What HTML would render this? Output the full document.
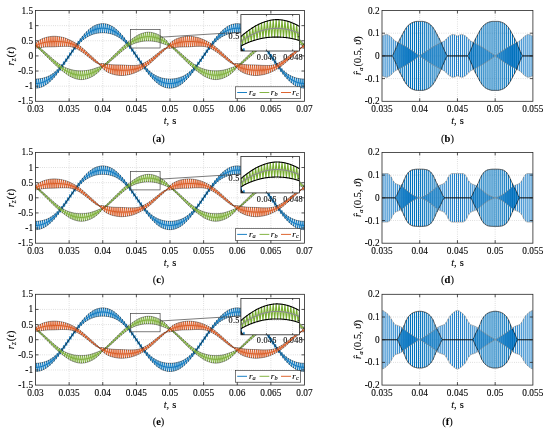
<!DOCTYPE html>
<html><head><meta charset="utf-8"><style>html,body{margin:0;padding:0;background:#fff;overflow:hidden}svg{display:block}</style></head>
<body>
<svg width="550" height="432" viewBox="0 0 550 432" font-family="'Liberation Serif', 'DejaVu Serif', serif" stroke-linecap="butt">
<style>text{stroke:#000;stroke-width:0.1px;fill:#000}</style>
<rect width="550" height="432" fill="#fff"/>
<defs>
<clipPath id="cl0"><rect x="35.5" y="10.5" width="269.0" height="90.8"/></clipPath>
<clipPath id="cr0"><rect x="382.0" y="10.5" width="150.89999999999998" height="90.8"/></clipPath>
<clipPath id="ci0"><rect x="240.9" y="14.6" width="58.5" height="36.4"/></clipPath>
<clipPath id="cl1"><rect x="35.5" y="152.4" width="269.0" height="90.8"/></clipPath>
<clipPath id="cr1"><rect x="382.0" y="152.4" width="150.89999999999998" height="90.8"/></clipPath>
<clipPath id="ci1"><rect x="240.9" y="156.5" width="58.5" height="36.4"/></clipPath>
<clipPath id="cl2"><rect x="35.5" y="294.3" width="269.0" height="90.8"/></clipPath>
<clipPath id="cr2"><rect x="382.0" y="294.3" width="150.89999999999998" height="90.8"/></clipPath>
<clipPath id="ci2"><rect x="240.9" y="298.40000000000003" width="58.5" height="36.4"/></clipPath>
</defs>
<path d="M69.13 10.5V101.3M102.75 10.5V101.3M136.38 10.5V101.3M170 10.5V101.3M203.62 10.5V101.3M237.25 10.5V101.3M270.88 10.5V101.3M35.5 86.17H304.5M35.5 71.03H304.5M35.5 55.9H304.5M35.5 40.77H304.5M35.5 25.63H304.5" stroke="#b4b4b4" stroke-width="0.6" stroke-dasharray="0.7 1.5" fill="none"/>
<text x="266.64" y="59.6" font-size="8.2" text-anchor="middle" letter-spacing="0.25">0.046</text>
<text x="293.05" y="59.6" font-size="8.2" text-anchor="middle" letter-spacing="0.25">0.048</text>
<g clip-path="url(#cl0)">
<polyline points="34.65,83.58 35.18,88.2 35.7,83.59 36.23,78.98 36.75,83.56 37.27,88.11 37.8,83.47 38.33,78.86 38.85,83.34 39.38,87.75 39.9,83.15 40.43,78.6 40.95,82.91 41.48,87.13 42,82.62 42.52,78.19 43.05,82.27 43.58,86.23 44.1,81.87 44.62,77.62 45.15,81.41 45.68,85.06 46.2,80.9 46.73,76.87 47.25,80.32 47.77,83.61 48.3,79.69 48.83,75.91 49.35,78.99 49.88,81.88 50.4,78.23 50.93,74.73 51.45,77.41 51.98,79.92 52.5,76.53 53.03,73.28 53.55,75.59 54.08,77.74 54.6,74.59 55.12,71.53 55.65,73.52 56.18,75.41 56.7,72.4 57.23,69.45 57.75,71.22 58.28,72.94 58.8,69.99 59.33,67.06 59.85,68.71 60.38,70.34 60.9,67.38 61.43,64.43 61.95,66.01 62.48,67.59 63,64.61 63.53,61.62 64.05,63.16 64.58,64.7 65.1,61.69 65.62,58.68 66.15,60.2 66.67,61.72 67.2,58.69 67.73,55.66 68.25,57.17 68.78,58.68 69.3,55.65 69.83,52.61 70.35,54.12 70.88,55.63 71.4,52.6 71.92,49.58 72.45,51.1 72.98,52.62 73.5,49.61 74.03,46.61 74.55,48.15 75.08,49.7 75.6,46.72 76.12,43.75 76.65,45.32 77.17,46.92 77.7,43.97 78.23,41.02 78.75,42.66 79.28,44.32 79.8,41.39 80.33,38.44 80.85,40.18 81.38,41.98 81.9,39.02 82.42,35.99 82.95,37.92 83.48,39.96 84,36.87 84.53,33.68 85.05,35.89 85.58,38.26 86.1,34.97 86.62,31.54 87.15,34.11 87.67,36.85 88.2,33.31 88.73,29.61 89.25,32.57 89.78,35.71 90.3,31.9 90.83,27.93 91.35,31.28 91.88,34.79 92.4,30.72 92.92,26.53 93.45,30.23 93.98,34.07 94.5,29.79 95.03,25.4 95.55,29.41 96.08,33.53 96.6,29.08 97.12,24.55 97.65,28.8 98.17,33.15 98.7,28.58 99.23,23.97 99.75,28.41 100.28,32.91 100.8,28.29 101.33,23.66 101.85,28.22 102.38,32.82 102.9,28.21 103.43,23.61 103.95,28.24 104.48,32.86 105,28.32 105.53,23.83 106.05,28.45 106.58,33.05 107.1,28.64 107.62,24.31 108.15,28.88 108.68,33.38 109.2,29.17 109.73,25.06 110.25,29.51 110.78,33.86 111.3,29.91 111.83,26.09 112.35,30.36 112.88,34.52 113.4,30.88 113.93,27.4 114.45,31.45 114.98,35.36 115.5,32.08 116.03,28.98 116.55,32.78 117.08,36.42 117.6,33.53 118.12,30.82 118.65,34.35 119.18,37.72 119.7,35.22 120.23,32.89 120.75,36.16 121.28,39.31 121.8,37.17 122.33,35.15 122.85,38.23 123.38,41.22 123.9,39.34 124.43,37.55 124.95,40.52 125.48,43.45 126,41.75 126.53,40.08 127.05,43.03 127.58,45.97 128.1,44.35 128.62,42.75 129.15,45.72 129.68,48.69 130.2,47.13 130.72,45.57 131.25,48.57 131.78,51.57 132.3,50.03 132.83,48.51 133.35,51.53 133.88,54.55 134.4,53.04 134.93,51.52 135.45,54.56 135.97,57.59 136.5,56.08 137.03,54.57 137.55,57.61 138.08,60.64 138.6,59.13 139.12,57.61 139.65,60.63 140.18,63.65 140.7,62.12 141.22,60.58 141.75,63.58 142.28,66.57 142.8,65.01 143.33,63.44 143.85,66.41 144.38,69.37 144.9,67.77 145.43,66.15 145.95,69.08 146.47,72.03 147,70.35 147.53,68.63 148.05,71.57 148.58,74.54 149.1,72.73 149.62,70.82 150.15,73.83 150.68,76.93 151.2,74.88 151.72,72.69 152.25,75.86 152.78,79.16 153.3,76.79 153.83,74.25 154.35,77.65 154.88,81.21 155.4,78.46 155.93,75.52 156.45,79.2 156.97,83.02 157.5,79.87 158.03,76.55 158.55,80.49 159.08,84.57 159.6,81.05 160.12,77.37 160.65,81.55 161.18,85.84 161.7,81.99 162.22,78.01 162.75,82.38 163.28,86.84 163.8,82.71 164.33,78.47 164.85,82.99 165.38,87.56 165.9,83.21 166.43,78.78 166.95,83.38 167.47,88.01 168,83.5 168.53,78.95 169.05,83.57 169.58,88.2 170.1,83.59 170.62,78.98 171.15,83.56 171.68,88.12 172.2,83.48 172.72,78.87 173.25,83.35 173.78,87.78 174.3,83.17 174.83,78.62 175.35,82.94 175.88,87.17 176.4,82.65 176.93,78.21 177.45,82.31 177.97,86.28 178.5,81.91 179.03,77.65 179.55,81.46 180.08,85.12 180.6,80.95 181.12,76.91 181.65,80.38 182.18,83.68 182.7,79.75 183.22,75.96 183.75,79.06 184.28,81.97 184.8,78.31 185.33,74.79 185.85,77.49 186.38,80.02 186.9,76.62 187.43,73.36 187.95,75.68 188.47,77.85 189,74.68 189.53,71.62 190.05,73.63 190.58,75.52 191.1,72.51 191.62,69.55 192.15,71.34 192.68,73.06 193.2,70.11 193.72,67.18 194.25,68.84 194.78,70.46 195.3,67.51 195.83,64.56 196.35,66.15 196.88,67.72 197.4,64.74 197.93,61.76 198.45,63.3 198.97,64.84 199.5,61.84 200.03,58.82 200.55,60.34 201.08,61.86 201.6,58.84 202.12,55.81 202.65,57.32 203.18,58.82 203.7,55.79 204.23,52.76 204.75,54.27 205.28,55.78 205.8,52.75 206.33,49.72 206.85,51.24 207.38,52.76 207.9,49.75 208.43,46.75 208.95,48.29 209.48,49.84 210,46.86 210.53,43.88 211.05,45.46 211.58,47.05 212.1,44.1 212.62,41.15 213.15,42.78 213.68,44.44 214.2,41.51 214.73,38.56 215.25,40.29 215.78,42.09 216.3,39.13 216.83,36.11 217.35,38.02 217.88,40.04 218.4,36.97 218.93,33.79 219.45,35.98 219.98,38.33 220.5,35.05 221.03,31.64 221.55,34.19 222.08,36.91 222.6,33.38 223.12,29.7 223.65,32.64 224.18,35.76 224.7,31.96 225.23,28.01 225.75,31.34 226.28,34.83 226.8,30.78 227.33,26.59 227.85,30.27 228.38,34.1 228.9,29.83 229.43,25.45 229.95,29.44 230.48,33.55 231,29.11 231.53,24.58 232.05,28.83 232.58,33.16 233.1,28.6 233.62,23.99 234.15,28.43 234.68,32.92 235.2,28.3 235.73,23.67 236.25,28.23 236.78,32.82 237.3,28.21 237.83,23.61 238.35,28.23 238.88,32.86 239.4,28.31 239.93,23.81 240.45,28.44 240.98,33.03 241.5,28.62 242.03,24.28 242.55,28.85 243.08,33.36 243.6,29.14 244.12,25.02 244.65,29.47 245.18,33.83 245.7,29.87 246.23,26.04 246.75,30.32 247.28,34.48 247.8,30.83 248.33,27.33 248.85,31.39 249.38,35.32 249.9,32.02 250.43,28.9 250.95,32.71 251.48,36.36 252,33.46 252.53,30.73 253.05,34.27 253.58,37.65 254.1,35.14 254.62,32.79 255.15,36.07 255.68,39.23 256.2,37.07 256.73,35.04 257.25,38.12 257.78,41.12 258.3,39.24 258.82,37.43 259.35,40.4 259.88,43.34 260.4,41.63 260.93,39.96 261.45,42.9 261.98,45.84 262.5,44.22 263.03,42.62 263.55,45.59 264.07,48.56 264.6,46.99 265.12,45.43 265.65,48.43 266.18,51.43 266.7,49.89 267.23,48.37 267.75,51.38 268.28,54.41 268.8,52.89 269.32,51.38 269.85,54.41 270.38,57.44 270.9,55.94 271.43,54.43 271.95,57.46 272.48,60.49 273,58.98 273.53,57.47 274.05,60.49 274.57,63.5 275.1,61.98 275.62,60.44 276.15,63.44 276.68,66.43 277.2,64.88 277.73,63.31 278.25,66.28 278.78,69.24 279.3,67.64 279.82,66.02 280.35,68.96 280.88,71.9 281.4,70.23 281.93,68.52 282.45,71.45 282.98,74.42 283.5,72.62 284.03,70.73 284.55,73.73 285.07,76.81 285.6,74.78 286.12,72.61 286.65,75.77 287.18,79.06 287.7,76.7 288.23,74.18 288.75,77.57 289.28,81.12 289.8,78.38 290.32,75.47 290.85,79.13 291.38,82.94 291.9,79.81 292.43,76.51 292.95,80.44 293.48,84.5 294,81 294.53,77.34 295.05,81.5 295.57,85.79 296.1,81.95 296.62,77.98 297.15,82.34 297.68,86.8 298.2,82.68 298.73,78.45 299.25,82.96 299.78,87.53 300.3,83.19 300.82,78.77 301.35,83.37 301.88,88 302.4,83.49 302.93,78.95 303.45,83.57 303.98,88.2 304.5,83.59 305.03,78.98 305.55,83.57" stroke="#0072BD" stroke-width="0.8" fill="none" stroke-linejoin="round"/>
<polyline points="35.5,83.59 37.19,83.53 38.88,83.33 40.58,83 42.27,82.54 43.96,81.93 45.65,81.17 47.34,80.27 49.03,79.21 50.73,77.98 52.42,76.6 54.11,75.06 55.8,73.36 57.49,71.52 59.19,69.53 60.88,67.41 62.57,65.19 64.26,62.87 65.95,60.48 67.64,58.05 69.34,55.59 71.03,53.14 72.72,50.71 74.41,48.34 76.1,46.05 77.8,43.85 79.49,41.76 81.18,39.81 82.87,38 84.56,36.34 86.25,34.84 87.95,33.5 89.64,32.31 91.33,31.29 93.02,30.42 94.71,29.71 96.41,29.13 98.1,28.7 99.79,28.41 101.48,28.24 103.17,28.21 104.86,28.31 106.56,28.54 108.25,28.9 109.94,29.4 111.63,30.05 113.32,30.84 115.02,31.78 116.71,32.88 118.4,34.15 120.09,35.57 121.78,37.15 123.47,38.88 125.17,40.77 126.86,42.79 128.55,44.93 130.24,47.18 131.93,49.52 133.63,51.92 135.32,54.36 137.01,56.82 138.7,59.27 140.39,61.68 142.08,64.04 143.78,66.31 145.47,68.49 147.16,70.54 148.85,72.46 150.54,74.23 152.24,75.85 153.93,77.31 155.62,78.62 157.31,79.76 159,80.74 160.69,81.57 162.39,82.25 164.08,82.79 165.77,83.18 167.46,83.45 169.15,83.58 170.85,83.58 172.54,83.45 174.23,83.18 175.92,82.79 177.61,82.25 179.31,81.57 181,80.74 182.69,79.76 184.38,78.62 186.07,77.31 187.76,75.85 189.46,74.23 191.15,72.46 192.84,70.54 194.53,68.49 196.22,66.31 197.92,64.04 199.61,61.68 201.3,59.27 202.99,56.82 204.68,54.36 206.37,51.92 208.07,49.52 209.76,47.18 211.45,44.93 213.14,42.79 214.83,40.77 216.53,38.88 218.22,37.15 219.91,35.57 221.6,34.15 223.29,32.88 224.98,31.78 226.68,30.84 228.37,30.05 230.06,29.4 231.75,28.9 233.44,28.54 235.14,28.31 236.83,28.21 238.52,28.24 240.21,28.41 241.9,28.7 243.59,29.13 245.29,29.71 246.98,30.42 248.67,31.29 250.36,32.31 252.05,33.5 253.75,34.84 255.44,36.34 257.13,38 258.82,39.81 260.51,41.76 262.2,43.85 263.9,46.05 265.59,48.34 267.28,50.71 268.97,53.14 270.66,55.59 272.36,58.05 274.05,60.48 275.74,62.87 277.43,65.19 279.12,67.41 280.81,69.53 282.51,71.52 284.2,73.36 285.89,75.06 287.58,76.6 289.27,77.98 290.97,79.21 292.66,80.27 294.35,81.17 296.04,81.93 297.73,82.54 299.42,83 301.12,83.33 302.81,83.53 304.5,83.59" stroke="#0072BD" stroke-width="0.9" fill="none"/>
<polyline points="35.5,79.05 37.19,79.01 38.88,78.88 40.58,78.65 42.27,78.34 43.96,77.92 45.65,77.39 47.34,76.75 49.03,75.99 50.73,75.1 52.42,74.07 54.11,72.89 55.8,71.56 57.49,70.07 59.19,68.43 60.88,66.63 62.57,64.68 64.26,62.58 65.95,60.36 67.64,58.02 69.34,55.59 71.03,53.09 72.72,50.55 74.41,48 76.1,45.47 77.8,42.99 79.49,40.58 81.18,38.28 82.87,36.1 84.56,34.07 86.25,32.21 87.95,30.52 89.64,29.02 91.33,27.71 93.02,26.58 94.71,25.64 96.41,24.89 98.1,24.32 99.79,23.93 101.48,23.71 103.17,23.67 104.86,23.8 106.56,24.11 108.25,24.59 109.94,25.25 111.63,26.09 113.32,27.12 115.02,28.34 116.71,29.75 118.4,31.34 120.09,33.12 121.78,35.07 123.47,37.17 125.17,39.41 126.86,41.77 128.55,44.22 130.24,46.73 131.93,49.28 133.63,51.83 135.32,54.35 137.01,56.82 138.7,59.2 140.39,61.49 142.08,63.65 143.78,65.67 145.47,67.55 147.16,69.27 148.85,70.84 150.54,72.24 152.24,73.5 153.93,74.6 155.62,75.56 157.31,76.39 159,77.09 160.69,77.67 162.39,78.14 164.08,78.51 165.77,78.78 167.46,78.96 169.15,79.04 170.85,79.04 172.54,78.96 174.23,78.78 175.92,78.51 177.61,78.14 179.31,77.67 181,77.09 182.69,76.39 184.38,75.56 186.07,74.6 187.76,73.5 189.46,72.24 191.15,70.84 192.84,69.27 194.53,67.55 196.22,65.67 197.92,63.65 199.61,61.49 201.3,59.2 202.99,56.82 204.68,54.35 206.37,51.83 208.07,49.28 209.76,46.73 211.45,44.22 213.14,41.77 214.83,39.41 216.53,37.17 218.22,35.07 219.91,33.12 221.6,31.34 223.29,29.75 224.98,28.34 226.68,27.12 228.37,26.09 230.06,25.25 231.75,24.59 233.44,24.11 235.14,23.8 236.83,23.67 238.52,23.71 240.21,23.93 241.9,24.32 243.59,24.89 245.29,25.64 246.98,26.58 248.67,27.71 250.36,29.02 252.05,30.52 253.75,32.21 255.44,34.07 257.13,36.1 258.82,38.28 260.51,40.58 262.2,42.99 263.9,45.47 265.59,48 267.28,50.55 268.97,53.09 270.66,55.59 272.36,58.02 274.05,60.36 275.74,62.58 277.43,64.68 279.12,66.63 280.81,68.43 282.51,70.07 284.2,71.56 285.89,72.89 287.58,74.07 289.27,75.1 290.97,75.99 292.66,76.75 294.35,77.39 296.04,77.92 297.73,78.34 299.42,78.65 301.12,78.88 302.81,79.01 304.5,79.05" stroke="#111" stroke-width="0.4" fill="none"/>
<polyline points="35.5,88.13 37.19,88.05 38.88,87.79 40.58,87.35 42.27,86.74 43.96,85.94 45.65,84.95 47.34,83.78 49.03,82.42 50.73,80.87 52.42,79.14 54.11,77.23 55.8,75.17 57.49,72.96 59.19,70.63 60.88,68.2 62.57,65.7 64.26,63.16 65.95,60.61 67.64,58.08 69.34,55.59 71.03,53.18 72.72,50.87 74.41,48.68 76.1,46.62 77.8,44.71 79.49,42.95 81.18,41.34 82.87,39.89 84.56,38.6 86.25,37.46 87.95,36.47 89.64,35.61 91.33,34.88 93.02,34.27 94.71,33.77 96.41,33.37 98.1,33.08 99.79,32.88 101.48,32.77 103.17,32.75 104.86,32.81 106.56,32.97 108.25,33.22 109.94,33.56 111.63,34 113.32,34.56 115.02,35.23 116.71,36.02 118.4,36.95 120.09,38.01 121.78,39.23 123.47,40.6 125.17,42.12 126.86,43.81 128.55,45.64 130.24,47.63 131.93,49.76 133.63,52.02 135.32,54.38 137.01,56.83 138.7,59.34 140.39,61.88 142.08,64.43 143.78,66.96 145.47,69.42 147.16,71.81 148.85,74.08 150.54,76.22 152.24,78.21 153.93,80.03 155.62,81.67 157.31,83.13 159,84.39 160.69,85.47 162.39,86.36 164.08,87.07 165.77,87.59 167.46,87.94 169.15,88.11 170.85,88.11 172.54,87.94 174.23,87.59 175.92,87.07 177.61,86.36 179.31,85.47 181,84.39 182.69,83.13 184.38,81.67 186.07,80.03 187.76,78.21 189.46,76.22 191.15,74.08 192.84,71.81 194.53,69.42 196.22,66.96 197.92,64.43 199.61,61.88 201.3,59.34 202.99,56.83 204.68,54.38 206.37,52.02 208.07,49.76 209.76,47.63 211.45,45.64 213.14,43.81 214.83,42.12 216.53,40.6 218.22,39.23 219.91,38.01 221.6,36.95 223.29,36.02 224.98,35.23 226.68,34.56 228.37,34 230.06,33.56 231.75,33.22 233.44,32.97 235.14,32.81 236.83,32.75 238.52,32.77 240.21,32.88 241.9,33.08 243.59,33.37 245.29,33.77 246.98,34.27 248.67,34.88 250.36,35.61 252.05,36.47 253.75,37.46 255.44,38.6 257.13,39.89 258.82,41.34 260.51,42.95 262.2,44.71 263.9,46.62 265.59,48.68 267.28,50.87 268.97,53.18 270.66,55.59 272.36,58.08 274.05,60.61 275.74,63.16 277.43,65.7 279.12,68.2 280.81,70.63 282.51,72.96 284.2,75.17 285.89,77.23 287.58,79.14 289.27,80.87 290.97,82.42 292.66,83.78 294.35,84.95 296.04,85.94 297.73,86.74 299.42,87.35 301.12,87.79 302.81,88.05 304.5,88.13" stroke="#111" stroke-width="0.4" fill="none"/>
<polyline points="34.65,44.61 35.18,45.27 35.7,45.41 36.23,45.52 36.75,46.23 37.27,47.35 37.8,47.08 38.33,46.59 38.85,47.96 39.38,49.44 39.9,48.86 40.43,48.19 40.95,49.78 41.48,51.45 42,50.71 42.52,49.92 43.05,51.66 43.58,53.46 44.1,52.63 44.62,51.75 45.15,53.6 45.68,55.5 46.2,54.58 46.73,53.61 47.25,55.57 47.77,57.58 48.3,56.55 48.83,55.46 49.35,57.54 49.88,59.67 50.4,58.51 50.93,57.29 51.45,59.48 51.98,61.73 52.5,60.45 53.03,59.1 53.55,61.39 54.08,63.73 54.6,62.32 55.12,60.85 55.65,63.24 56.18,65.67 56.7,64.13 57.23,62.51 57.75,64.99 58.28,67.53 58.8,65.84 59.33,64.06 59.85,66.65 60.38,69.31 60.9,67.44 61.43,65.48 61.95,68.19 62.48,70.98 63,68.91 63.53,66.72 64.05,69.6 64.58,72.59 65.1,70.25 65.62,67.75 66.15,70.86 66.67,74.13 67.2,71.44 67.73,68.57 68.25,71.98 68.78,75.54 69.3,72.47 69.83,69.24 70.35,72.93 70.88,76.75 71.4,73.35 71.92,69.81 72.45,73.72 72.98,77.72 73.5,74.06 74.03,70.28 74.55,74.35 75.08,78.51 75.6,74.6 76.12,70.58 76.65,74.8 77.17,79.1 77.7,74.97 78.23,70.75 78.75,75.09 79.28,79.48 79.8,75.17 80.33,70.82 80.85,75.21 81.38,79.6 81.9,75.2 82.42,70.81 82.95,75.15 83.48,79.46 84,75.06 84.53,70.7 85.05,74.93 85.58,79.09 86.1,74.75 86.62,70.48 87.15,74.53 87.67,78.49 88.2,74.27 88.73,70.14 89.25,73.97 89.78,77.69 90.3,73.62 90.83,69.66 91.35,73.24 91.88,76.69 92.4,72.81 92.92,69.04 93.45,72.34 93.98,75.49 94.5,71.83 95.03,68.34 95.55,71.28 96.08,74 96.6,70.7 97.12,67.64 97.65,70.07 98.17,72.2 98.7,69.41 99.23,66.95 99.75,68.72 100.28,70.08 100.8,67.99 101.33,66.5 101.85,67.22 102.38,67.13 102.9,66.43 103.43,65.74 103.95,65.61 104.48,65.87 105,64.76 105.53,63.4 106.05,63.88 106.58,64.47 107.1,62.99 107.62,61.4 108.15,62.07 108.68,62.8 109.2,61.13 109.73,59.4 110.25,60.18 110.78,61.01 111.3,59.22 111.83,57.37 112.35,58.24 112.88,59.16 113.4,57.26 113.93,55.31 114.45,56.28 114.98,57.31 115.5,55.29 116.03,53.22 116.55,54.31 117.08,55.47 117.6,53.33 118.12,51.14 118.65,52.36 119.18,53.64 119.7,51.4 120.23,49.11 120.75,50.45 121.28,51.86 121.8,49.52 122.33,47.13 122.85,48.61 123.38,50.15 123.9,47.72 124.43,45.23 124.95,46.85 125.48,48.53 126,46 126.53,43.41 127.05,45.19 127.58,47.05 128.1,44.4 128.62,41.68 129.15,43.64 129.68,45.7 130.2,42.92 130.72,40.04 131.25,42.23 131.78,44.56 132.3,41.58 132.83,38.46 133.35,40.97 133.88,43.64 134.4,40.39 134.93,36.98 135.45,39.85 135.97,42.89 136.5,39.35 137.03,35.66 137.55,38.89 138.08,42.27 138.6,38.47 139.12,34.56 139.65,38.09 140.18,41.75 140.7,37.76 141.22,33.68 141.75,37.47 142.28,41.36 142.8,37.21 143.33,32.99 143.85,37 144.38,41.12 144.9,36.84 145.43,32.49 145.95,36.71 146.47,41.01 147,36.63 147.53,32.23 148.05,36.59 148.58,40.98 149.1,36.6 149.62,32.24 150.15,36.64 150.68,41.03 151.2,36.73 151.72,32.49 152.25,36.86 152.78,41.19 153.3,37.04 153.83,32.97 154.35,37.26 154.88,41.47 155.4,37.52 155.93,33.67 156.45,37.82 156.97,41.87 157.5,38.16 158.03,34.57 158.55,38.54 159.08,42.42 159.6,38.97 160.12,35.65 160.65,39.44 161.18,43.09 161.7,39.94 162.22,36.98 162.75,40.49 163.28,43.79 163.8,41.07 164.33,38.62 164.85,41.7 165.38,44.49 165.9,42.36 166.43,40.56 166.95,43.05 167.47,45.16 168,43.78 168.53,43.02 169.05,44.54 169.58,45.27 170.1,45.33 170.62,45.48 171.15,46.15 171.68,47.24 172.2,47 172.72,46.52 173.25,47.88 173.78,49.35 174.3,48.77 174.83,48.11 175.35,49.69 175.88,51.35 176.4,50.62 176.93,49.84 177.45,51.57 177.97,53.36 178.5,52.54 179.03,51.66 179.55,53.51 180.08,55.4 180.6,54.49 181.12,53.52 181.65,55.47 182.18,57.48 182.7,56.46 183.22,55.37 183.75,57.44 184.28,59.57 184.8,58.42 185.33,57.21 185.85,59.39 186.38,61.63 186.9,60.35 187.43,59.02 187.95,61.3 188.47,63.64 189,62.24 189.53,60.77 190.05,63.15 190.58,65.58 191.1,64.04 191.62,62.44 192.15,64.91 192.68,67.45 193.2,65.76 193.72,63.99 194.25,66.58 194.78,69.23 195.3,67.36 195.83,65.41 196.35,68.12 196.88,70.91 197.4,68.84 197.93,66.67 198.45,69.53 198.97,72.52 199.5,70.19 200.03,67.7 200.55,70.81 201.08,74.06 201.6,71.39 202.12,68.54 202.65,71.93 203.18,75.47 203.7,72.43 204.23,69.22 204.75,72.89 205.28,76.7 205.8,73.31 206.33,69.79 206.85,73.69 207.38,77.68 207.9,74.03 208.43,70.26 208.95,74.32 209.48,78.47 210,74.58 210.53,70.57 211.05,74.79 211.58,79.08 212.1,74.96 212.62,70.75 213.15,75.08 213.68,79.47 214.2,75.16 214.73,70.81 215.25,75.21 215.78,79.6 216.3,75.2 216.83,70.81 217.35,75.16 217.88,79.47 218.4,75.07 218.93,70.71 219.45,74.94 219.98,79.11 220.5,74.77 221.03,70.49 221.55,74.56 222.08,78.52 222.6,74.3 223.12,70.16 223.65,74 224.18,77.73 224.7,73.66 225.23,69.68 225.75,73.27 226.28,76.74 226.8,72.85 227.33,69.07 227.85,72.39 228.38,75.55 228.9,71.88 229.43,68.38 229.95,71.34 230.48,74.08 231,70.75 231.53,67.67 232.05,70.13 232.58,72.3 233.1,69.48 233.62,66.98 234.15,68.78 234.68,70.19 235.2,68.06 235.73,66.51 236.25,67.3 236.78,67.28 237.3,66.51 237.83,65.86 238.35,65.69 238.88,65.91 239.4,64.84 239.93,63.5 240.45,63.97 240.98,64.55 241.5,63.07 242.03,61.5 242.55,62.16 243.08,62.88 243.6,61.22 244.12,59.49 244.65,60.27 245.18,61.1 245.7,59.31 246.23,57.47 246.75,58.34 247.28,59.25 247.8,57.36 248.33,55.41 248.85,56.37 249.38,57.4 249.9,55.39 250.43,53.32 250.95,54.4 251.48,55.55 252,53.43 252.53,51.24 253.05,52.45 253.58,53.72 254.1,51.49 254.62,49.21 255.15,50.54 255.68,51.94 256.2,49.61 256.73,47.23 257.25,48.69 257.78,50.22 258.3,47.8 258.82,45.32 259.35,46.93 259.88,48.61 260.4,46.08 260.93,43.49 261.45,45.26 261.98,47.11 262.5,44.47 263.03,41.76 263.55,43.71 264.07,45.76 264.6,42.99 265.12,40.12 265.65,42.3 266.18,44.61 266.7,41.64 267.23,38.53 267.75,41.02 268.28,43.68 268.8,40.44 269.32,37.05 269.85,39.9 270.38,42.92 270.9,39.4 271.43,35.72 271.95,38.93 272.48,42.3 273,38.51 273.53,34.6 274.05,38.13 274.57,41.77 275.1,37.79 275.62,33.72 276.15,37.49 276.68,41.37 277.2,37.24 277.73,33.01 278.25,37.02 278.78,41.13 279.3,36.85 279.82,32.51 280.35,36.72 280.88,41.01 281.4,36.64 281.93,32.24 282.45,36.6 282.98,40.98 283.5,36.6 284.03,32.23 284.55,36.64 285.07,41.03 285.6,36.72 286.12,32.47 286.65,36.85 287.18,41.18 287.7,37.02 288.23,32.94 288.75,37.23 289.28,41.45 289.8,37.49 290.32,33.63 290.85,37.79 291.38,41.85 291.9,38.13 292.43,34.52 292.95,38.51 293.48,42.39 294,38.93 294.53,35.6 295.05,39.39 295.57,43.06 296.1,39.89 296.62,36.91 297.15,40.44 297.68,43.76 298.2,41.02 298.73,38.53 299.25,41.64 299.78,44.46 300.3,42.29 300.82,40.46 301.35,42.98 301.88,45.13 302.4,43.71 302.93,42.87 303.45,44.47 303.98,45.28 304.5,45.26 305.03,45.45 305.55,46.07" stroke="#77AC30" stroke-width="0.8" fill="none" stroke-linejoin="round"/>
<polyline points="35.5,45.26 37.19,46.59 38.88,47.99 40.58,49.45 42.27,50.95 43.96,52.5 45.65,54.07 47.34,55.65 49.03,57.24 50.73,58.82 52.42,60.37 54.11,61.89 55.8,63.37 57.49,64.79 59.19,66.14 60.88,67.42 62.57,68.62 64.26,69.73 65.95,70.75 67.64,71.67 69.34,72.49 71.03,73.2 72.72,73.81 74.41,74.31 76.1,74.7 77.8,74.98 79.49,75.15 81.18,75.21 82.87,75.16 84.56,75 86.25,74.72 87.95,74.34 89.64,73.85 91.33,73.24 93.02,72.54 94.71,71.72 96.41,70.81 98.1,69.8 99.79,68.69 101.48,67.49 103.17,66.22 104.86,64.87 106.56,63.45 108.25,61.98 109.94,60.46 111.63,58.91 113.32,57.34 115.02,55.75 116.71,54.16 118.4,52.59 120.09,51.05 121.78,49.54 123.47,48.07 125.17,46.67 126.86,45.33 128.55,44.07 130.24,42.89 131.93,41.8 133.63,40.81 135.32,39.91 137.01,39.12 138.7,38.43 140.39,37.85 142.08,37.38 143.78,37.02 145.47,36.77 147.16,36.62 148.85,36.59 150.54,36.67 152.24,36.86 153.93,37.16 155.62,37.57 157.31,38.1 159,38.72 160.69,39.46 162.39,40.3 164.08,41.24 165.77,42.27 167.46,43.4 169.15,44.62 170.85,45.91 172.54,47.28 174.23,48.71 175.92,50.19 177.61,51.72 179.31,53.28 181,54.86 182.69,56.45 184.38,58.03 186.07,59.6 187.76,61.14 189.46,62.63 191.15,64.08 192.84,65.47 194.53,66.79 196.22,68.03 197.92,69.19 199.61,70.25 201.3,71.22 202.99,72.09 204.68,72.86 206.37,73.52 208.07,74.08 209.76,74.52 211.45,74.86 213.14,75.08 214.83,75.19 216.53,75.2 218.22,75.09 219.91,74.87 221.6,74.54 223.29,74.11 224.98,73.56 226.68,72.9 228.37,72.14 230.06,71.28 231.75,70.31 233.44,69.25 235.14,68.1 236.83,66.87 238.52,65.55 240.21,64.17 241.9,62.72 243.59,61.23 245.29,59.69 246.98,58.13 248.67,56.54 250.36,54.96 252.05,53.38 253.75,51.82 255.44,50.29 257.13,48.8 258.82,47.36 260.51,45.99 262.2,44.69 263.9,43.47 265.59,42.34 267.28,41.3 268.97,40.35 270.66,39.51 272.36,38.76 274.05,38.13 275.74,37.6 277.43,37.19 279.12,36.88 280.81,36.68 282.51,36.59 284.2,36.62 285.89,36.75 287.58,37 289.27,37.36 290.97,37.82 292.66,38.4 294.35,39.08 296.04,39.86 297.73,40.75 299.42,41.74 301.12,42.83 302.81,44 304.5,45.26" stroke="#77AC30" stroke-width="0.9" fill="none"/>
<polyline points="35.5,45.26 37.19,45.92 38.88,47 40.58,48.31 42.27,49.7 43.96,51.17 45.65,52.66 47.34,54.16 49.03,55.64 50.73,57.12 52.42,58.59 54.11,60.02 55.8,61.4 57.49,62.72 59.19,63.96 60.88,65.12 62.57,66.18 64.26,67.11 65.95,67.89 67.64,68.54 69.34,69.1 71.03,69.58 72.72,70.01 74.41,70.35 76.1,70.58 77.8,70.73 79.49,70.8 81.18,70.82 82.87,70.79 84.56,70.7 86.25,70.53 87.95,70.28 89.64,69.95 91.33,69.52 93.02,69.01 94.71,68.45 96.41,67.88 98.1,67.32 99.79,66.77 101.48,66.5 103.17,66.05 104.86,64.07 106.56,62.42 108.25,60.81 109.94,59.19 111.63,57.56 113.32,55.91 115.02,54.23 116.71,52.54 118.4,50.87 120.09,49.24 121.78,47.64 123.47,46.08 125.17,44.58 126.86,43.13 128.55,41.74 130.24,40.42 131.93,39.12 133.63,37.88 135.32,36.72 137.01,35.67 138.7,34.76 140.39,34.01 142.08,33.38 143.78,32.86 145.47,32.48 147.16,32.26 148.85,32.21 150.54,32.32 152.24,32.59 153.93,33 155.62,33.55 157.31,34.24 159,35.05 160.69,35.98 162.39,37.1 164.08,38.41 165.77,39.92 167.46,41.65 169.15,43.95 170.85,45.56 172.54,46.39 174.23,47.64 175.92,49 177.61,50.43 179.31,51.91 181,53.41 182.69,54.9 184.38,56.38 186.07,57.86 187.76,59.31 189.46,60.71 191.15,62.07 192.84,63.35 194.53,64.56 196.22,65.67 197.92,66.66 199.61,67.51 201.3,68.23 202.99,68.83 204.68,69.35 206.37,69.8 208.07,70.19 209.76,70.48 211.45,70.66 213.14,70.77 214.83,70.82 216.53,70.81 218.22,70.75 219.91,70.62 221.6,70.41 223.29,70.12 224.98,69.75 226.68,69.28 228.37,68.73 230.06,68.16 231.75,67.6 233.44,67.04 235.14,66.56 236.83,66.53 238.52,65.03 240.21,63.23 241.9,61.62 243.59,60 245.29,58.38 246.98,56.74 248.67,55.07 250.36,53.38 252.05,51.7 253.75,50.05 255.44,48.43 257.13,46.85 258.82,45.32 260.51,43.85 262.2,42.43 263.9,41.07 265.59,39.77 267.28,38.49 268.97,37.29 270.66,36.18 272.36,35.19 274.05,34.36 275.74,33.68 277.43,33.1 279.12,32.65 280.81,32.35 282.51,32.21 284.2,32.24 285.89,32.43 287.58,32.78 289.27,33.26 290.97,33.88 292.66,34.63 294.35,35.5 296.04,36.52 297.73,37.73 299.42,39.14 301.12,40.76 302.81,42.71 304.5,45.26" stroke="#111" stroke-width="0.4" fill="none"/>
<polyline points="35.5,45.26 37.19,47.26 38.88,48.98 40.58,50.59 42.27,52.2 43.96,53.83 45.65,55.48 47.34,57.15 49.03,58.84 50.73,60.51 52.42,62.16 54.11,63.77 55.8,65.33 57.49,66.85 59.19,68.32 60.88,69.72 62.57,71.06 64.26,72.36 65.95,73.61 67.64,74.8 69.34,75.88 71.03,76.83 72.72,77.62 74.41,78.28 76.1,78.82 77.8,79.24 79.49,79.5 81.18,79.6 82.87,79.52 84.56,79.29 86.25,78.92 87.95,78.4 89.64,77.74 91.33,76.96 93.02,76.06 94.71,75 96.41,73.74 98.1,72.28 99.79,70.61 101.48,68.49 103.17,66.39 104.86,65.66 106.56,64.48 108.25,63.15 109.94,61.73 111.63,60.26 113.32,58.76 115.02,57.27 116.71,55.79 118.4,54.31 120.09,52.85 121.78,51.43 123.47,50.07 125.17,48.76 126.86,47.54 128.55,46.4 130.24,45.37 131.93,44.49 133.63,43.74 135.32,43.11 137.01,42.57 138.7,42.11 140.39,41.7 142.08,41.39 143.78,41.18 145.47,41.05 147.16,40.99 148.85,40.98 150.54,41.03 152.24,41.14 153.93,41.33 155.62,41.6 157.31,41.95 159,42.4 160.69,42.93 162.39,43.49 164.08,44.06 165.77,44.62 167.46,45.16 169.15,45.29 170.85,46.26 172.54,48.17 174.23,49.78 175.92,51.39 177.61,53.01 179.31,54.65 181,56.31 182.69,58 184.38,59.68 186.07,61.34 187.76,62.97 189.46,64.56 191.15,66.1 192.84,67.59 194.53,69.02 196.22,70.4 197.92,71.71 199.61,72.99 201.3,74.22 202.99,75.35 204.68,76.37 206.37,77.24 208.07,77.96 209.76,78.56 211.45,79.05 213.14,79.39 214.83,79.57 216.53,79.58 218.22,79.43 219.91,79.12 221.6,78.67 223.29,78.09 224.98,77.37 226.68,76.53 228.37,75.56 230.06,74.39 231.75,73.03 233.44,71.47 235.14,69.65 236.83,67.2 238.52,66.07 240.21,65.11 241.9,63.83 243.59,62.45 245.29,61 246.98,59.51 248.67,58.02 250.36,56.53 252.05,55.05 253.75,53.58 255.44,52.14 257.13,50.74 258.82,49.41 260.51,48.14 262.2,46.96 263.9,45.87 265.59,44.91 267.28,44.1 268.97,43.41 270.66,42.83 272.36,42.33 274.05,41.9 275.74,41.53 277.43,41.27 279.12,41.1 280.81,41.01 282.51,40.98 284.2,40.99 285.89,41.07 287.58,41.22 289.27,41.45 290.97,41.76 292.66,42.16 294.35,42.66 296.04,43.21 297.73,43.78 299.42,44.34 301.12,44.89 302.81,45.28 304.5,45.26" stroke="#111" stroke-width="0.4" fill="none"/>
<polyline points="34.65,46.26 35.18,48.3 35.7,45.68 36.23,42.64 36.75,45.14 37.27,48.04 37.8,44.65 38.33,40.96 38.85,44.21 39.38,47.75 39.9,43.81 40.43,39.64 40.95,43.44 41.48,47.45 42,43.12 42.52,38.65 43.05,42.84 43.58,47.18 44.1,42.59 44.62,37.88 45.15,42.38 45.68,47.01 46.2,42.19 46.73,37.26 47.25,42.03 47.77,46.92 48.3,41.9 48.83,36.8 49.35,41.8 49.88,46.88 50.4,41.71 50.93,36.48 51.45,41.64 51.98,46.85 52.5,41.59 53.03,36.31 53.55,41.55 54.08,46.8 54.6,41.53 55.12,36.29 55.65,41.52 56.18,46.7 56.7,41.53 57.23,36.44 57.75,41.55 58.28,46.56 58.8,41.59 59.33,36.72 59.85,41.64 60.38,46.44 60.9,41.7 61.43,37.1 61.95,41.79 62.48,46.37 63,41.9 63.53,37.56 64.05,42.03 64.58,46.34 65.1,42.18 65.62,38.22 66.15,42.37 66.67,46.33 67.2,42.58 67.73,39.04 68.25,42.83 68.78,46.43 69.3,43.11 69.83,39.98 70.35,43.43 70.88,46.72 71.4,43.79 71.92,41.01 72.45,44.19 72.98,47.26 73.5,44.63 74.03,42.12 74.55,45.12 75.08,48.04 75.6,45.65 76.12,43.36 76.65,46.23 77.17,49.03 77.7,46.85 78.23,44.75 78.75,47.51 79.28,50.2 79.8,48.21 80.33,46.3 80.85,48.95 81.38,51.55 81.9,49.73 82.42,47.99 82.95,50.54 83.48,53.04 84,51.38 84.53,49.8 85.05,52.24 85.58,54.62 86.1,53.13 86.62,51.71 87.15,54.03 87.67,56.27 88.2,54.94 88.73,53.68 89.25,55.86 89.78,57.98 90.3,56.77 90.83,55.63 91.35,57.68 91.88,59.68 92.4,58.59 92.92,57.55 93.45,59.47 93.98,61.31 94.5,60.34 95.03,59.46 95.55,61.18 96.08,62.77 96.6,61.99 97.12,61.39 97.65,62.77 98.17,63.75 98.7,63.52 99.23,63.8 99.75,64.23 100.28,65.41 100.8,64.89 101.33,63.48 101.85,65.52 102.38,68.12 102.9,66.1 103.43,63.62 103.95,66.63 104.48,70.01 105,67.12 105.53,63.9 106.05,67.57 106.58,71.51 107.1,67.98 107.62,64.19 108.15,68.34 108.68,72.67 109.2,68.66 109.73,64.49 110.25,68.95 110.78,73.54 111.3,69.2 111.83,64.71 112.35,69.41 112.88,74.24 113.4,69.6 113.93,64.84 114.45,69.76 114.98,74.78 115.5,69.89 116.03,64.9 116.55,70 117.08,75.17 117.6,70.09 118.12,64.93 118.65,70.16 119.18,75.42 119.7,70.21 120.23,64.97 120.75,70.25 121.28,75.52 121.8,70.27 122.33,65.04 122.85,70.28 123.38,75.46 123.9,70.27 124.43,65.16 124.95,70.25 125.48,75.24 126,70.22 126.53,65.3 127.05,70.17 127.58,74.91 128.1,70.1 128.62,65.4 129.15,70.01 129.68,74.5 130.2,69.91 130.72,65.44 131.25,69.78 131.78,73.95 132.3,69.62 132.83,65.47 133.35,69.44 133.88,73.21 134.4,69.23 134.93,65.44 135.45,68.99 135.97,72.33 136.5,68.71 137.03,65.26 137.55,68.39 138.08,71.33 138.6,68.03 139.12,64.86 139.65,67.63 140.18,70.28 140.7,67.19 141.22,64.19 141.75,66.7 142.28,69.11 142.8,66.18 143.33,63.31 143.85,65.6 144.38,67.8 144.9,64.98 145.43,62.23 145.95,64.32 146.47,66.33 147,63.62 147.53,60.97 148.05,62.88 148.58,64.72 149.1,62.11 149.62,59.56 150.15,61.3 150.68,62.96 151.2,60.46 151.72,58.02 152.25,59.6 152.78,61.1 153.3,58.71 153.83,56.4 154.35,57.81 154.88,59.15 155.4,56.9 155.93,54.72 156.45,55.99 156.97,57.19 157.5,55.07 158.03,53.01 158.55,54.16 159.08,55.25 159.6,53.26 160.12,51.33 160.65,52.37 161.18,53.34 161.7,51.5 162.22,49.77 162.75,50.66 163.28,51.43 163.8,49.84 164.33,48.44 164.85,49.06 165.38,49.3 165.9,48.31 166.43,47.85 166.95,47.61 167.47,48.07 168,46.94 168.53,44.93 169.05,46.31 169.58,48.31 170.1,45.73 170.62,42.73 171.15,45.19 171.68,48.05 172.2,44.7 172.72,41.03 173.25,44.25 173.78,47.76 174.3,43.84 174.83,39.69 175.35,43.48 175.88,47.47 176.4,43.15 176.93,38.69 177.45,42.86 177.97,47.19 178.5,42.61 179.03,37.91 179.55,42.4 180.08,47.02 180.6,42.21 181.12,37.29 181.65,42.05 182.18,46.93 182.7,41.91 183.22,36.81 183.75,41.8 184.28,46.88 184.8,41.72 185.33,36.49 185.85,41.65 186.38,46.85 186.9,41.59 187.43,36.31 187.95,41.55 188.47,46.81 189,41.53 189.53,36.29 190.05,41.52 190.58,46.71 191.1,41.53 191.62,36.43 192.15,41.55 192.68,46.57 193.2,41.58 193.72,36.71 194.25,41.63 194.78,46.44 195.3,41.7 195.83,37.08 196.35,41.78 196.88,46.37 197.4,41.89 197.93,37.54 198.45,42.01 198.97,46.34 199.5,42.17 200.03,38.18 200.55,42.35 201.08,46.33 201.6,42.56 202.12,38.99 202.65,42.8 203.18,46.42 203.7,43.08 204.23,39.94 204.75,43.4 205.28,46.7 205.8,43.75 206.33,40.96 206.85,44.15 207.38,47.23 207.9,44.59 208.43,42.06 208.95,45.07 209.48,48 210,45.6 210.53,43.29 211.05,46.17 211.58,48.98 212.1,46.79 212.62,44.68 213.15,47.44 213.68,50.14 214.2,48.14 214.73,46.22 215.25,48.88 215.78,51.48 216.3,49.65 216.83,47.9 217.35,50.46 217.88,52.96 218.4,51.3 218.93,49.71 219.45,52.16 219.98,54.55 220.5,53.04 221.03,51.62 221.55,53.94 222.08,56.19 222.6,54.85 223.12,53.58 223.65,55.77 224.18,57.89 224.7,56.69 225.23,55.53 225.75,57.6 226.28,59.6 226.8,58.5 227.33,57.46 227.85,59.39 228.38,61.23 228.9,60.26 229.43,59.37 229.95,61.1 230.48,62.7 231,61.92 231.53,61.29 232.05,62.7 232.58,63.72 233.1,63.45 233.62,63.68 234.15,64.16 234.68,65.25 235.2,64.83 235.73,63.49 236.25,65.46 236.78,68.02 237.3,66.04 237.83,63.61 238.35,66.58 238.88,69.93 239.4,67.08 239.93,63.88 240.45,67.53 240.98,71.45 241.5,67.94 242.03,64.18 242.55,68.31 243.08,72.62 243.6,68.63 244.12,64.48 244.65,68.92 245.18,73.5 245.7,69.18 246.23,64.71 246.75,69.4 247.28,74.21 247.8,69.58 248.33,64.84 248.85,69.74 249.38,74.76 249.9,69.88 250.43,64.9 250.95,69.99 251.48,75.16 252,70.08 252.53,64.93 253.05,70.15 253.58,75.41 254.1,70.21 254.62,64.97 255.15,70.24 255.68,75.52 256.2,70.27 256.73,65.03 257.25,70.28 257.78,75.46 258.3,70.27 258.82,65.16 259.35,70.25 259.88,75.25 260.4,70.22 260.93,65.29 261.45,70.17 261.98,74.93 262.5,70.11 263.03,65.4 263.55,70.02 264.07,74.52 264.6,69.92 265.12,65.44 265.65,69.79 266.18,73.98 266.7,69.64 267.23,65.47 267.75,69.46 268.28,73.25 268.8,69.25 269.32,65.44 269.85,69.01 270.38,72.37 270.9,68.73 271.43,65.28 271.95,68.42 272.48,71.38 273,68.07 273.53,64.89 274.05,67.67 274.57,70.33 275.1,67.23 275.62,64.23 276.15,66.75 276.68,69.17 277.2,66.23 277.73,63.36 278.25,65.66 278.78,67.86 279.3,65.04 279.82,62.29 280.35,64.39 280.88,66.4 281.4,63.69 281.93,61.04 282.45,62.96 282.98,64.8 283.5,62.18 284.03,59.63 284.55,61.38 285.07,63.05 285.6,60.54 286.12,58.09 286.65,59.68 287.18,61.19 287.7,58.8 288.23,56.48 288.75,57.9 289.28,59.24 289.8,56.99 290.32,54.8 290.85,56.07 291.38,57.28 291.9,55.16 292.43,53.09 292.95,54.24 293.48,55.35 294,53.34 294.53,51.41 295.05,52.45 295.57,53.43 296.1,51.58 296.62,49.84 297.15,50.74 297.68,51.52 298.2,49.92 298.73,48.49 299.25,49.13 299.78,49.42 300.3,48.38 300.82,47.87 301.35,47.67 301.88,48.03 302.4,47 302.93,45.06 303.45,46.37 303.98,48.32 304.5,45.78 305.03,42.82 305.55,45.24" stroke="#D95319" stroke-width="0.8" fill="none" stroke-linejoin="round"/>
<polyline points="35.5,45.78 37.19,44.93 38.88,44.2 40.58,43.57 42.27,43.05 43.96,42.62 45.65,42.28 47.34,42.02 49.03,41.83 50.73,41.68 52.42,41.59 54.11,41.54 55.8,41.52 57.49,41.54 59.19,41.6 60.88,41.7 62.57,41.85 64.26,42.06 65.95,42.33 67.64,42.68 69.34,43.12 71.03,43.66 72.72,44.3 74.41,45.05 76.1,45.92 77.8,46.91 79.49,48 81.18,49.19 82.87,50.48 84.56,51.84 86.25,53.26 87.95,54.72 89.64,56.2 91.33,57.67 93.02,59.11 94.71,60.51 96.41,61.85 98.1,63.1 99.79,64.25 101.48,65.3 103.17,66.24 104.86,67.06 106.56,67.77 108.25,68.37 109.94,68.87 111.63,69.27 113.32,69.59 115.02,69.83 116.71,70.01 118.4,70.14 120.09,70.23 121.78,70.27 123.47,70.27 125.17,70.24 126.86,70.18 128.55,70.07 130.24,69.9 131.93,69.68 133.63,69.39 135.32,69.02 137.01,68.56 138.7,67.99 140.39,67.32 142.08,66.54 143.78,65.64 145.47,64.63 147.16,63.51 148.85,62.29 150.54,60.99 152.24,59.61 153.93,58.18 155.62,56.71 157.31,55.24 159,53.77 160.69,52.33 162.39,50.95 164.08,49.63 165.77,48.4 167.46,47.28 169.15,46.25 170.85,45.34 172.54,44.55 174.23,43.87 175.92,43.3 177.61,42.82 179.31,42.44 181,42.14 182.69,41.92 184.38,41.75 186.07,41.63 187.76,41.56 189.46,41.53 191.15,41.53 192.84,41.57 194.53,41.65 196.22,41.77 197.92,41.95 199.61,42.18 201.3,42.49 202.99,42.89 204.68,43.37 206.37,43.96 208.07,44.66 209.76,45.47 211.45,46.4 213.14,47.44 214.83,48.58 216.53,49.83 218.22,51.15 219.91,52.54 221.6,53.99 223.29,55.46 224.98,56.93 226.68,58.4 228.37,59.82 230.06,61.19 231.75,62.48 233.44,63.69 235.14,64.79 236.83,65.78 238.52,66.67 240.21,67.43 241.9,68.08 243.59,68.63 245.29,69.08 246.98,69.44 248.67,69.72 250.36,69.93 252.05,70.08 253.75,70.19 255.44,70.25 257.13,70.28 258.82,70.26 260.51,70.22 262.2,70.13 263.9,69.99 265.59,69.8 267.28,69.55 268.97,69.22 270.66,68.8 272.36,68.29 274.05,67.67 275.74,66.95 277.43,66.11 279.12,65.15 280.81,64.09 282.51,62.91 284.2,61.65 285.89,60.31 287.58,58.9 289.27,57.45 290.97,55.97 292.66,54.5 294.35,53.04 296.04,51.63 297.73,50.28 299.42,49.01 301.12,47.83 302.81,46.75 304.5,45.78" stroke="#D95319" stroke-width="0.9" fill="none"/>
<polyline points="35.5,43.31 37.19,41.82 38.88,40.57 40.58,39.56 42.27,38.76 43.96,38.1 45.65,37.56 47.34,37.11 49.03,36.76 50.73,36.5 52.42,36.34 54.11,36.28 55.8,36.32 57.49,36.47 59.19,36.7 60.88,36.99 62.57,37.33 64.26,37.77 65.95,38.33 67.64,39 69.34,39.75 71.03,40.57 72.72,41.42 74.41,42.33 76.1,43.34 77.8,44.45 79.49,45.66 81.18,46.97 82.87,48.36 84.56,49.83 86.25,51.37 87.95,52.95 89.64,54.53 91.33,56.09 93.02,57.64 94.71,59.18 96.41,60.71 98.1,62.47 99.79,63.87 101.48,63.46 103.17,63.59 104.86,63.81 106.56,64.04 108.25,64.28 109.94,64.52 111.63,64.7 113.32,64.81 115.02,64.88 116.71,64.91 118.4,64.94 120.09,64.97 121.78,65.01 123.47,65.1 125.17,65.21 126.86,65.32 128.55,65.4 130.24,65.43 131.93,65.46 133.63,65.47 135.32,65.42 137.01,65.26 138.7,64.96 140.39,64.48 142.08,63.86 143.78,63.1 145.47,62.21 147.16,61.21 148.85,60.1 150.54,58.9 152.24,57.63 153.93,56.32 155.62,54.97 157.31,53.59 159,52.22 160.69,50.89 162.39,49.66 164.08,48.57 165.77,47.98 167.46,46.49 169.15,44.16 170.85,42.53 172.54,41.16 174.23,40.04 175.92,39.13 177.61,38.42 179.31,37.82 181,37.32 182.69,36.92 184.38,36.62 186.07,36.41 187.76,36.3 189.46,36.29 191.15,36.39 192.84,36.58 194.53,36.84 196.22,37.16 197.92,37.53 199.61,38.04 201.3,38.66 202.99,39.37 204.68,40.15 206.37,40.99 208.07,41.86 209.76,42.83 211.45,43.89 213.14,45.05 214.83,46.3 216.53,47.65 218.22,49.09 219.91,50.59 221.6,52.16 223.29,53.74 224.98,55.31 226.68,56.87 228.37,58.41 230.06,59.95 231.75,61.52 233.44,63.47 235.14,63.62 236.83,63.49 238.52,63.7 240.21,63.92 241.9,64.16 243.59,64.4 245.29,64.62 246.98,64.76 248.67,64.85 250.36,64.9 252.05,64.93 253.75,64.95 255.44,64.99 257.13,65.05 258.82,65.16 260.51,65.27 262.2,65.37 263.9,65.42 265.59,65.45 267.28,65.47 268.97,65.46 270.66,65.36 272.36,65.13 274.05,64.75 275.74,64.19 277.43,63.49 279.12,62.67 280.81,61.72 282.51,60.66 284.2,59.51 285.89,58.27 287.58,56.98 289.27,55.65 290.97,54.28 292.66,52.9 294.35,51.54 296.04,50.26 297.73,49.09 299.42,48.2 301.12,47.82 302.81,45.22 304.5,43.31" stroke="#111" stroke-width="0.4" fill="none"/>
<polyline points="35.5,48.26 37.19,48.05 38.88,47.82 40.58,47.58 42.27,47.34 43.96,47.14 45.65,47.01 47.34,46.94 49.03,46.89 50.73,46.87 52.42,46.84 54.11,46.8 55.8,46.72 57.49,46.62 59.19,46.5 60.88,46.41 62.57,46.37 64.26,46.34 65.95,46.33 67.64,46.36 69.34,46.48 71.03,46.75 72.72,47.18 74.41,47.77 76.1,48.5 77.8,49.36 79.49,50.33 81.18,51.42 82.87,52.6 84.56,53.85 86.25,55.15 87.95,56.49 89.64,57.86 91.33,59.24 93.02,60.59 94.71,61.84 96.41,62.98 98.1,63.73 99.79,64.64 101.48,67.14 103.17,68.89 104.86,70.32 106.56,71.5 108.25,72.46 109.94,73.22 111.63,73.84 113.32,74.36 115.02,74.79 116.71,75.12 118.4,75.35 120.09,75.49 121.78,75.52 123.47,75.45 125.17,75.28 126.86,75.03 128.55,74.73 130.24,74.37 131.93,73.9 133.63,73.31 135.32,72.62 137.01,71.85 138.7,71.02 140.39,70.16 142.08,69.22 143.78,68.19 145.47,67.05 147.16,65.82 148.85,64.49 150.54,63.08 152.24,61.59 153.93,60.04 155.62,58.45 157.31,56.88 159,55.32 160.69,53.77 162.39,52.23 164.08,50.7 165.77,48.83 167.46,48.06 169.15,48.35 170.85,48.16 172.54,47.94 174.23,47.7 175.92,47.46 177.61,47.23 179.31,47.07 181,46.97 182.69,46.91 184.38,46.88 186.07,46.86 187.76,46.82 189.46,46.77 191.15,46.67 192.84,46.56 194.53,46.46 196.22,46.39 197.92,46.36 199.61,46.33 201.3,46.33 202.99,46.41 204.68,46.6 206.37,46.94 208.07,47.46 209.76,48.12 211.45,48.91 213.14,49.83 214.83,50.86 216.53,52 218.22,53.21 219.91,54.49 221.6,55.82 223.29,57.17 224.98,58.56 226.68,59.92 228.37,61.23 230.06,62.43 231.75,63.44 233.44,63.91 235.14,65.96 236.83,68.08 238.52,69.63 240.21,70.94 241.9,72.01 243.59,72.86 245.29,73.54 246.98,74.12 248.67,74.59 250.36,74.96 252.05,75.24 253.75,75.43 255.44,75.52 257.13,75.5 258.82,75.37 260.51,75.16 262.2,74.89 263.9,74.56 265.59,74.15 267.28,73.62 268.97,72.97 270.66,72.24 272.36,71.44 274.05,70.6 275.74,69.7 277.43,68.72 279.12,67.63 280.81,66.45 282.51,65.17 284.2,63.79 285.89,62.34 287.58,60.82 289.27,59.25 290.97,57.67 292.66,56.1 294.35,54.54 296.04,53 297.73,51.47 299.42,49.82 301.12,47.84 302.81,48.28 304.5,48.26" stroke="#111" stroke-width="0.4" fill="none"/>
</g>
<rect x="130.5" y="29.6" width="29.6" height="18.4" stroke="#444" stroke-width="0.7" fill="none"/>
<line x1="160.1" y1="37.2" x2="240.9" y2="32.2" stroke="#444" stroke-width="0.7"/>
<path d="M69.13 101.3v-3.0M69.13 10.5v3.0M102.75 101.3v-3.0M102.75 10.5v3.0M136.38 101.3v-3.0M136.38 10.5v3.0M170 101.3v-3.0M170 10.5v3.0M203.62 101.3v-3.0M203.62 10.5v3.0M237.25 101.3v-3.0M237.25 10.5v3.0M270.88 101.3v-3.0M270.88 10.5v3.0M35.5 86.17h3.0M304.5 86.17h-3.0M35.5 71.03h3.0M304.5 71.03h-3.0M35.5 55.9h3.0M304.5 55.9h-3.0M35.5 40.77h3.0M304.5 40.77h-3.0M35.5 25.63h3.0M304.5 25.63h-3.0" stroke="#262626" stroke-width="0.8" fill="none"/>
<rect x="35.5" y="10.5" width="269.0" height="90.8" stroke="#262626" stroke-width="0.8" fill="none"/>
<text x="33.3" y="13.5" font-size="9.3" text-anchor="end" letter-spacing="0.1">1.5</text>
<text x="33.3" y="28.63" font-size="9.3" text-anchor="end" letter-spacing="0.1">1</text>
<text x="33.3" y="43.77" font-size="9.3" text-anchor="end" letter-spacing="0.1">0.5</text>
<text x="33.3" y="58.9" font-size="9.3" text-anchor="end" letter-spacing="0.1">0</text>
<text x="33.3" y="74.03" font-size="9.3" text-anchor="end" letter-spacing="0.1">-0.5</text>
<text x="33.3" y="89.17" font-size="9.3" text-anchor="end" letter-spacing="0.1">-1</text>
<text x="33.3" y="104.3" font-size="9.3" text-anchor="end" letter-spacing="0.1">-1.5</text>
<text x="35.5" y="111.7" font-size="9.3" text-anchor="middle" letter-spacing="0.1">0.03</text>
<text x="69.13" y="111.7" font-size="9.3" text-anchor="middle" letter-spacing="0.1">0.035</text>
<text x="102.75" y="111.7" font-size="9.3" text-anchor="middle" letter-spacing="0.1">0.04</text>
<text x="136.38" y="111.7" font-size="9.3" text-anchor="middle" letter-spacing="0.1">0.045</text>
<text x="170" y="111.7" font-size="9.3" text-anchor="middle" letter-spacing="0.1">0.05</text>
<text x="203.62" y="111.7" font-size="9.3" text-anchor="middle" letter-spacing="0.1">0.055</text>
<text x="237.25" y="111.7" font-size="9.3" text-anchor="middle" letter-spacing="0.1">0.06</text>
<text x="270.88" y="111.7" font-size="9.3" text-anchor="middle" letter-spacing="0.1">0.065</text>
<text x="304.5" y="111.7" font-size="9.3" text-anchor="middle" letter-spacing="0.1">0.07</text>
<rect x="240.9" y="14.6" width="58.5" height="36.4" fill="#fff"/>
<path d="M266.44 14.6V51M292.65 14.6V51M240.9 36.67H299.4" stroke="#b4b4b4" stroke-width="0.6" stroke-dasharray="0.7 1.5" fill="none"/>
<g clip-path="url(#ci0)">
<polyline points="236.6,47.53 237.33,43.95 238.06,40.38 238.8,45.9 239.53,51.41 240.26,47.88 240.99,44.37 241.73,49.91 242.46,55.46 243.19,51.97 243.92,48.48 244.66,54.05 245.39,59.63 246.12,56.17 246.85,52.71 247.59,58.3 248.32,63.9 249.05,60.45 249.78,57.01 250.52,62.62 251.25,68.23 251.98,64.79 252.71,61.36 253.45,66.97 254.18,72.58 254.91,69.15 255.64,65.71 256.38,71.32 257.11,76.92 257.84,73.48 258.57,70.04 259.31,75.63 260.04,81.22 260.77,77.76 261.5,74.3 262.24,79.87 262.97,85.44 263.7,81.96 264.43,78.46 265.17,84.01 265.9,89.55 266.63,86.03 267.36,82.5 268.1,88.01 268.83,93.52 269.56,89.95 270.29,86.36 271.03,91.85 271.76,97.35 272.49,93.7 273.22,90.01 273.96,95.5 274.69,101.02 275.42,97.25 276.15,93.4 276.88,98.95 277.62,104.56 278.35,100.58 279.08,96.48 279.81,102.16 280.55,107.97 281.28,103.68 282.01,99.22 282.75,105.14 283.48,111.23 284.21,106.54 284.94,101.63 285.68,107.88 286.41,114.32 287.14,109.15 287.87,103.73 288.61,110.36 289.34,117.2 290.07,111.5 290.8,105.55 291.54,112.59 292.27,119.84 293,113.61 293.73,107.12 294.47,114.56 295.2,122.22 295.93,115.46 296.66,108.46 297.4,116.29 298.13,124.32 298.86,117.07 299.59,109.59 300.32,117.78 301.06,126.14 301.79,118.43 302.52,110.53 303.25,119.03" stroke="#0072BD" stroke-width="1.1" fill="none" stroke-linejoin="round"/>
<polyline points="237.62,44.34 238.03,44.87 238.43,45.41 238.84,45.95 239.24,46.49 239.64,47.04 240.05,47.59 240.45,48.14 240.85,48.7 241.26,49.26 241.66,49.82 242.07,50.38 242.47,50.95 242.87,51.52 243.28,52.09 243.68,52.66 244.08,53.24 244.49,53.81 244.89,54.39 245.3,54.97 245.7,55.56 246.1,56.14 246.51,56.73 246.91,57.32 247.31,57.9 247.72,58.49 248.12,59.09 248.53,59.68 248.93,60.27 249.33,60.87 249.74,61.47 250.14,62.06 250.54,62.66 250.95,63.26 251.35,63.86 251.75,64.46 252.16,65.06 252.56,65.66 252.97,66.26 253.37,66.86 253.77,67.46 254.18,68.06 254.58,68.66 254.98,69.26 255.39,69.86 255.79,70.45 256.2,71.05 256.6,71.65 257,72.25 257.41,72.84 257.81,73.44 258.21,74.03 258.62,74.63 259.02,75.22 259.43,75.81 259.83,76.4 260.23,76.98 260.64,77.57 261.04,78.15 261.44,78.74 261.85,79.32 262.25,79.9 262.66,80.47 263.06,81.05 263.46,81.62 263.87,82.19 264.27,82.76 264.67,83.33 265.08,83.89 265.48,84.45 265.88,85.01 266.29,85.56 266.69,86.12 267.1,86.67 267.5,87.21 267.9,87.76 268.31,88.3 268.71,88.83 269.11,89.37 269.52,89.9 269.92,90.43 270.33,90.95 270.73,91.47 271.13,91.99 271.54,92.5 271.94,93.01 272.34,93.52 272.75,94.02 273.15,94.52 273.56,95.02 273.96,95.51 274.36,95.99 274.77,96.48 275.17,96.96 275.57,97.43 275.98,97.9 276.38,98.37 276.78,98.83 277.19,99.29 277.59,99.74 278,100.19 278.4,100.64 278.8,101.08 279.21,101.51 279.61,101.95 280.01,102.37 280.42,102.8 280.82,103.21 281.23,103.63 281.63,104.04 282.03,104.44 282.44,104.84 282.84,105.24 283.24,105.63 283.65,106.01 284.05,106.39 284.46,106.77 284.86,107.14 285.26,107.51 285.67,107.87 286.07,108.23 286.47,108.58 286.88,108.93 287.28,109.27 287.69,109.61 288.09,109.94 288.49,110.27 288.9,110.59 289.3,110.91 289.7,111.22 290.11,111.53 290.51,111.84 290.91,112.14 291.32,112.43 291.72,112.72 292.13,113.01 292.53,113.29 292.93,113.56 293.34,113.83 293.74,114.1 294.14,114.36 294.55,114.62 294.95,114.87 295.36,115.11 295.76,115.36 296.16,115.6 296.57,115.83 296.97,116.06 297.37,116.28 297.78,116.5 298.18,116.72 298.59,116.93 298.99,117.13 299.39,117.33 299.8,117.53 300.2,117.72 300.6,117.91 301.01,118.09 301.41,118.27 301.82,118.44" stroke="#8a8a8a" stroke-width="1.1" fill="none"/>
<polyline points="237.62,42.83 238.03,43.44 238.43,44.05 238.84,44.66 239.24,45.27 239.64,45.88 240.05,46.49 240.45,47.11 240.85,47.72 241.26,48.34 241.66,48.96 242.07,49.58 242.47,50.2 242.87,50.82 243.28,51.44 243.68,52.07 244.08,52.69 244.49,53.31 244.89,53.93 245.3,54.56 245.7,55.18 246.1,55.8 246.51,56.42 246.91,57.05 247.31,57.67 247.72,58.29 248.12,58.91 248.53,59.53 248.93,60.15 249.33,60.76 249.74,61.38 250.14,61.99 250.54,62.61 250.95,63.22 251.35,63.83 251.75,64.44 252.16,65.05 252.56,65.65 252.97,66.26 253.37,66.86 253.77,67.46 254.18,68.05 254.58,68.65 254.98,69.24 255.39,69.83 255.79,70.42 256.2,71 256.6,71.58 257,72.16 257.41,72.74 257.81,73.31 258.21,73.88 258.62,74.44 259.02,75.01 259.43,75.57 259.83,76.12 260.23,76.68 260.64,77.23 261.04,77.77 261.44,78.32 261.85,78.85 262.25,79.39 262.66,79.92 263.06,80.45 263.46,80.97 263.87,81.49 264.27,82 264.67,82.52 265.08,83.02 265.48,83.53 265.88,84.02 266.29,84.52 266.69,85.01 267.1,85.5 267.5,85.98 267.9,86.45 268.31,86.93 268.71,87.39 269.11,87.86 269.52,88.32 269.92,88.77 270.33,89.22 270.73,89.67 271.13,90.11 271.54,90.54 271.94,90.98 272.34,91.4 272.75,91.82 273.15,92.24 273.56,92.65 273.96,93.06 274.36,93.47 274.77,93.86 275.17,94.26 275.57,94.65 275.98,95.03 276.38,95.41 276.78,95.79 277.19,96.16 277.59,96.52 278,96.88 278.4,97.24 278.8,97.59 279.21,97.94 279.61,98.28 280.01,98.62 280.42,98.95 280.82,99.28 281.23,99.6 281.63,99.92 282.03,100.24 282.44,100.55 282.84,100.85 283.24,101.15 283.65,101.45 284.05,101.74 284.46,102.03 284.86,102.31 285.26,102.59 285.67,102.86 286.07,103.13 286.47,103.4 286.88,103.66 287.28,103.91 287.69,104.17 288.09,104.41 288.49,104.66 288.9,104.9 289.3,105.13 289.7,105.36 290.11,105.59 290.51,105.82 290.91,106.03 291.32,106.25 291.72,106.46 292.13,106.67 292.53,106.87 292.93,107.07 293.34,107.27 293.74,107.46 294.14,107.64 294.55,107.83 294.95,108.01 295.36,108.18 295.76,108.36 296.16,108.53 296.57,108.69 296.97,108.85 297.37,109.01 297.78,109.17 298.18,109.32 298.59,109.47 298.99,109.61 299.39,109.75 299.8,109.89 300.2,110.02 300.6,110.15 301.01,110.28 301.41,110.41 301.82,110.53" stroke="#000" stroke-width="1.1" fill="none"/>
<polyline points="237.62,45.84 238.03,46.3 238.43,46.77 238.84,47.24 239.24,47.72 239.64,48.2 240.05,48.69 240.45,49.18 240.85,49.68 241.26,50.17 241.66,50.68 242.07,51.19 242.47,51.7 242.87,52.21 243.28,52.73 243.68,53.26 244.08,53.78 244.49,54.32 244.89,54.85 245.3,55.39 245.7,55.93 246.1,56.48 246.51,57.03 246.91,57.58 247.31,58.14 247.72,58.7 248.12,59.26 248.53,59.83 248.93,60.4 249.33,60.97 249.74,61.55 250.14,62.13 250.54,62.71 250.95,63.3 251.35,63.88 251.75,64.47 252.16,65.07 252.56,65.66 252.97,66.26 253.37,66.86 253.77,67.46 254.18,68.06 254.58,68.67 254.98,69.27 255.39,69.88 255.79,70.49 256.2,71.11 256.6,71.72 257,72.33 257.41,72.95 257.81,73.57 258.21,74.19 258.62,74.81 259.02,75.43 259.43,76.05 259.83,76.67 260.23,77.29 260.64,77.91 261.04,78.54 261.44,79.16 261.85,79.78 262.25,80.4 262.66,81.03 263.06,81.65 263.46,82.27 263.87,82.89 264.27,83.51 264.67,84.14 265.08,84.75 265.48,85.37 265.88,85.99 266.29,86.61 266.69,87.22 267.1,87.84 267.5,88.45 267.9,89.06 268.31,89.67 268.71,90.27 269.11,90.88 269.52,91.48 269.92,92.08 270.33,92.68 270.73,93.28 271.13,93.87 271.54,94.46 271.94,95.05 272.34,95.64 272.75,96.22 273.15,96.8 273.56,97.38 273.96,97.95 274.36,98.52 274.77,99.09 275.17,99.66 275.57,100.22 275.98,100.77 276.38,101.33 276.78,101.88 277.19,102.42 277.59,102.96 278,103.5 278.4,104.04 278.8,104.57 279.21,105.09 279.61,105.61 280.01,106.13 280.42,106.64 280.82,107.15 281.23,107.65 281.63,108.15 282.03,108.65 282.44,109.14 282.84,109.62 283.24,110.1 283.65,110.58 284.05,111.05 284.46,111.51 284.86,111.97 285.26,112.43 285.67,112.88 286.07,113.32 286.47,113.76 286.88,114.19 287.28,114.62 287.69,115.05 288.09,115.46 288.49,115.88 288.9,116.28 289.3,116.68 289.7,117.08 290.11,117.47 290.51,117.86 290.91,118.24 291.32,118.61 291.72,118.98 292.13,119.34 292.53,119.7 292.93,120.05 293.34,120.4 293.74,120.74 294.14,121.07 294.55,121.4 294.95,121.73 295.36,122.04 295.76,122.36 296.16,122.66 296.57,122.96 296.97,123.26 297.37,123.55 297.78,123.83 298.18,124.11 298.59,124.38 298.99,124.65 299.39,124.91 299.8,125.17 300.2,125.42 300.6,125.66 301.01,125.9 301.41,126.14 301.82,126.36" stroke="#000" stroke-width="1.1" fill="none"/>
<polyline points="236.6,48.91 237.33,43.83 238.06,38.64 238.8,42.75 239.53,46.98 240.26,41.7 240.99,36.29 241.73,40.68 242.46,45.24 243.19,39.7 243.92,33.99 244.66,38.76 245.39,43.74 246.12,37.86 246.85,31.76 247.59,36.99 248.32,42.46 249.05,36.16 249.78,29.64 250.52,35.37 251.25,41.35 251.98,34.62 252.71,27.67 253.45,33.91 254.18,40.39 254.91,33.25 255.64,25.9 256.38,32.62 257.11,39.55 257.84,32.04 258.57,24.36 259.31,31.49 260.04,38.79 260.77,30.99 261.5,23.07 262.24,30.54 262.97,38.16 263.7,30.12 264.43,21.96 265.17,29.75 265.9,37.7 266.63,29.42 267.36,21.03 268.1,29.14 268.83,37.39 269.56,28.9 270.29,20.31 271.03,28.7 271.76,37.2 272.49,28.55 273.22,19.83 273.96,28.44 274.69,37.11 275.42,28.37 276.15,19.62 276.88,28.35 277.62,37.09 278.35,28.37 279.08,19.67 279.81,28.43 280.55,37.17 281.28,28.54 282.01,19.98 282.75,28.69 283.48,37.35 284.21,28.89 284.94,20.52 285.68,29.13 286.41,37.64 287.14,29.41 287.87,21.3 288.61,29.73 289.34,38.06 290.07,30.1 290.8,22.29 291.54,30.51 292.27,38.61 293,30.97 293.73,23.49 294.47,31.47 295.2,39.3 295.93,32.01 296.66,24.88 297.4,32.59 298.13,40.13 298.86,33.21 299.59,26.47 300.32,33.88 301.06,41.1 301.79,34.58 302.52,28.31 303.25,35.33" stroke="#77AC30" stroke-width="1.1" fill="none" stroke-linejoin="round"/>
<polyline points="237.62,43.61 238.03,43.31 238.43,43.01 238.84,42.72 239.24,42.43 239.64,42.14 240.05,41.85 240.45,41.56 240.85,41.28 241.26,41 241.66,40.73 242.07,40.45 242.47,40.18 242.87,39.91 243.28,39.65 243.68,39.38 244.08,39.12 244.49,38.87 244.89,38.61 245.3,38.36 245.7,38.11 246.1,37.87 246.51,37.62 246.91,37.38 247.31,37.15 247.72,36.91 248.12,36.68 248.53,36.45 248.93,36.23 249.33,36.01 249.74,35.79 250.14,35.57 250.54,35.36 250.95,35.15 251.35,34.94 251.75,34.73 252.16,34.53 252.56,34.34 252.97,34.14 253.37,33.95 253.77,33.76 254.18,33.57 254.58,33.39 254.98,33.21 255.39,33.04 255.79,32.86 256.2,32.69 256.6,32.53 257,32.36 257.41,32.2 257.81,32.05 258.21,31.89 258.62,31.74 259.02,31.6 259.43,31.45 259.83,31.31 260.23,31.17 260.64,31.04 261.04,30.91 261.44,30.78 261.85,30.65 262.25,30.53 262.66,30.41 263.06,30.3 263.46,30.19 263.87,30.08 264.27,29.97 264.67,29.87 265.08,29.77 265.48,29.68 265.88,29.59 266.29,29.5 266.69,29.41 267.1,29.33 267.5,29.25 267.9,29.18 268.31,29.1 268.71,29.03 269.11,28.97 269.52,28.91 269.92,28.85 270.33,28.79 270.73,28.74 271.13,28.69 271.54,28.64 271.94,28.6 272.34,28.56 272.75,28.53 273.15,28.49 273.56,28.46 273.96,28.44 274.36,28.42 274.77,28.4 275.17,28.38 275.57,28.37 275.98,28.36 276.38,28.35 276.78,28.35 277.19,28.35 277.59,28.35 278,28.36 278.4,28.37 278.8,28.38 279.21,28.4 279.61,28.42 280.01,28.45 280.42,28.47 280.82,28.5 281.23,28.54 281.63,28.57 282.03,28.61 282.44,28.66 282.84,28.7 283.24,28.75 283.65,28.81 284.05,28.86 284.46,28.92 284.86,28.99 285.26,29.05 285.67,29.12 286.07,29.2 286.47,29.27 286.88,29.35 287.28,29.44 287.69,29.52 288.09,29.61 288.49,29.71 288.9,29.8 289.3,29.9 289.7,30.01 290.11,30.11 290.51,30.22 290.91,30.33 291.32,30.45 291.72,30.57 292.13,30.69 292.53,30.82 292.93,30.95 293.34,31.08 293.74,31.21 294.14,31.35 294.55,31.49 294.95,31.64 295.36,31.79 295.76,31.94 296.16,32.09 296.57,32.25 296.97,32.41 297.37,32.58 297.78,32.75 298.18,32.92 298.59,33.09 298.99,33.27 299.39,33.45 299.8,33.63 300.2,33.82 300.6,34.01 301.01,34.2 301.41,34.4 301.82,34.59" stroke="#8a8a8a" stroke-width="1.1" fill="none"/>
<polyline points="237.62,39 238.03,38.67 238.43,38.34 238.84,38.01 239.24,37.69 239.64,37.36 240.05,37.04 240.45,36.72 240.85,36.4 241.26,36.08 241.66,35.76 242.07,35.45 242.47,35.13 242.87,34.81 243.28,34.49 243.68,34.18 244.08,33.87 244.49,33.55 244.89,33.24 245.3,32.94 245.7,32.63 246.1,32.32 246.51,32.02 246.91,31.72 247.31,31.42 247.72,31.12 248.12,30.82 248.53,30.53 248.93,30.24 249.33,29.95 249.74,29.67 250.14,29.39 250.54,29.11 250.95,28.83 251.35,28.56 251.75,28.29 252.16,28.03 252.56,27.77 252.97,27.51 253.37,27.25 253.77,27 254.18,26.76 254.58,26.51 254.98,26.27 255.39,26.04 255.79,25.81 256.2,25.59 256.6,25.37 257,25.15 257.41,24.94 257.81,24.73 258.21,24.53 258.62,24.33 259.02,24.14 259.43,23.96 259.83,23.78 260.23,23.6 260.64,23.43 261.04,23.26 261.44,23.09 261.85,22.93 262.25,22.77 262.66,22.61 263.06,22.46 263.46,22.31 263.87,22.16 264.27,22.01 264.67,21.87 265.08,21.74 265.48,21.6 265.88,21.47 266.29,21.35 266.69,21.22 267.1,21.1 267.5,20.99 267.9,20.88 268.31,20.77 268.71,20.67 269.11,20.57 269.52,20.48 269.92,20.39 270.33,20.31 270.73,20.22 271.13,20.15 271.54,20.08 271.94,20.01 272.34,19.95 272.75,19.89 273.15,19.84 273.56,19.79 273.96,19.75 274.36,19.71 274.77,19.68 275.17,19.66 275.57,19.64 275.98,19.62 276.38,19.61 276.78,19.61 277.19,19.61 277.59,19.61 278,19.62 278.4,19.64 278.8,19.66 279.21,19.68 279.61,19.71 280.01,19.74 280.42,19.78 280.82,19.83 281.23,19.87 281.63,19.93 282.03,19.98 282.44,20.04 282.84,20.11 283.24,20.18 283.65,20.25 284.05,20.33 284.46,20.42 284.86,20.5 285.26,20.6 285.67,20.69 286.07,20.79 286.47,20.9 286.88,21.01 287.28,21.12 287.69,21.24 288.09,21.36 288.49,21.49 288.9,21.62 289.3,21.75 289.7,21.89 290.11,22.03 290.51,22.18 290.91,22.33 291.32,22.48 291.72,22.64 292.13,22.8 292.53,22.97 292.93,23.14 293.34,23.31 293.74,23.49 294.14,23.67 294.55,23.86 294.95,24.05 295.36,24.24 295.76,24.43 296.16,24.63 296.57,24.84 296.97,25.04 297.37,25.25 297.78,25.47 298.18,25.68 298.59,25.9 298.99,26.13 299.39,26.36 299.8,26.59 300.2,26.83 300.6,27.07 301.01,27.32 301.41,27.58 301.82,27.84" stroke="#000" stroke-width="1.1" fill="none"/>
<polyline points="237.62,48.21 238.03,47.95 238.43,47.68 238.84,47.42 239.24,47.16 239.64,46.91 240.05,46.66 240.45,46.41 240.85,46.16 241.26,45.92 241.66,45.69 242.07,45.46 242.47,45.24 242.87,45.02 243.28,44.8 243.68,44.59 244.08,44.38 244.49,44.18 244.89,43.98 245.3,43.79 245.7,43.6 246.1,43.41 246.51,43.23 246.91,43.05 247.31,42.88 247.72,42.71 248.12,42.54 248.53,42.37 248.93,42.21 249.33,42.06 249.74,41.9 250.14,41.75 250.54,41.6 250.95,41.46 251.35,41.32 251.75,41.18 252.16,41.04 252.56,40.91 252.97,40.77 253.37,40.64 253.77,40.52 254.18,40.39 254.58,40.27 254.98,40.15 255.39,40.03 255.79,39.92 256.2,39.8 256.6,39.69 257,39.58 257.41,39.47 257.81,39.36 258.21,39.26 258.62,39.15 259.02,39.05 259.43,38.94 259.83,38.84 260.23,38.74 260.64,38.65 261.04,38.55 261.44,38.46 261.85,38.38 262.25,38.3 262.66,38.22 263.06,38.14 263.46,38.07 263.87,38 264.27,37.93 264.67,37.87 265.08,37.81 265.48,37.75 265.88,37.7 266.29,37.65 266.69,37.6 267.1,37.55 267.5,37.51 267.9,37.47 268.31,37.43 268.71,37.4 269.11,37.36 269.52,37.33 269.92,37.3 270.33,37.28 270.73,37.25 271.13,37.23 271.54,37.21 271.94,37.19 272.34,37.17 272.75,37.16 273.15,37.15 273.56,37.13 273.96,37.12 274.36,37.12 274.77,37.11 275.17,37.1 275.57,37.1 275.98,37.09 276.38,37.09 276.78,37.09 277.19,37.09 277.59,37.09 278,37.1 278.4,37.1 278.8,37.11 279.21,37.12 279.61,37.13 280.01,37.15 280.42,37.16 280.82,37.18 281.23,37.2 281.63,37.22 282.03,37.24 282.44,37.27 282.84,37.3 283.24,37.33 283.65,37.36 284.05,37.4 284.46,37.43 284.86,37.47 285.26,37.51 285.67,37.56 286.07,37.6 286.47,37.65 286.88,37.7 287.28,37.75 287.69,37.81 288.09,37.87 288.49,37.93 288.9,37.99 289.3,38.05 289.7,38.12 290.11,38.19 290.51,38.26 290.91,38.34 291.32,38.42 291.72,38.5 292.13,38.58 292.53,38.67 292.93,38.75 293.34,38.84 293.74,38.94 294.14,39.03 294.55,39.13 294.95,39.24 295.36,39.34 295.76,39.45 296.16,39.56 296.57,39.67 296.97,39.79 297.37,39.9 297.78,40.03 298.18,40.15 298.59,40.28 298.99,40.41 299.39,40.54 299.8,40.67 300.2,40.81 300.6,40.94 301.01,41.08 301.41,41.21 301.82,41.35" stroke="#000" stroke-width="1.1" fill="none"/>
<polyline points="236.6,104.62 237.33,95.1 238.06,85.75 238.8,94.98 239.53,104.04 240.26,94.84 240.99,85.81 241.73,94.68 242.46,103.35 243.19,94.49 243.92,85.86 244.66,94.28 245.39,102.45 246.12,94.04 246.85,85.89 247.59,93.78 248.32,101.37 249.05,93.48 249.78,85.86 250.52,93.14 251.25,100.14 251.98,92.78 252.71,85.68 253.45,92.37 254.18,98.79 254.91,91.93 255.64,85.32 256.38,91.45 257.11,97.34 257.84,90.93 258.57,84.71 259.31,90.36 260.04,95.84 260.77,89.75 261.5,83.81 262.24,89.1 262.97,94.24 263.7,88.4 264.43,82.69 265.17,87.66 265.9,92.49 266.63,86.87 267.36,81.36 268.1,86.04 268.83,90.59 269.56,85.16 270.29,79.82 271.03,84.24 271.76,88.54 272.49,83.27 273.22,78.1 273.96,82.27 274.69,86.32 275.42,81.22 276.15,76.21 276.88,80.14 277.62,83.96 278.35,79.02 279.08,74.16 279.81,77.87 280.55,81.47 281.28,76.68 282.01,71.99 282.75,75.47 283.48,78.85 284.21,74.24 284.94,69.72 285.68,72.98 286.41,76.14 287.14,71.71 287.87,67.38 288.61,70.42 289.34,73.34 290.07,69.12 290.8,64.99 291.54,67.81 292.27,70.54 293,66.5 293.73,62.55 294.47,65.19 295.2,67.76 295.93,63.89 296.66,60.11 297.4,62.6 298.13,65 298.86,61.31 299.59,57.73 300.32,60.05 301.06,62.27 301.79,58.8 302.52,55.47 303.25,57.58" stroke="#D95319" stroke-width="1.1" fill="none" stroke-linejoin="round"/>
<polyline points="237.62,95.08 238.03,95.05 238.43,95.01 238.84,94.98 239.24,94.94 239.64,94.9 240.05,94.86 240.45,94.82 240.85,94.78 241.26,94.73 241.66,94.69 242.07,94.64 242.47,94.59 242.87,94.54 243.28,94.48 243.68,94.43 244.08,94.37 244.49,94.31 244.89,94.25 245.3,94.18 245.7,94.12 246.1,94.05 246.51,93.98 246.91,93.9 247.31,93.83 247.72,93.75 248.12,93.67 248.53,93.59 248.93,93.5 249.33,93.42 249.74,93.33 250.14,93.23 250.54,93.14 250.95,93.04 251.35,92.94 251.75,92.84 252.16,92.73 252.56,92.62 252.97,92.51 253.37,92.4 253.77,92.28 254.18,92.16 254.58,92.03 254.98,91.91 255.39,91.78 255.79,91.65 256.2,91.51 256.6,91.37 257,91.23 257.41,91.09 257.81,90.94 258.21,90.79 258.62,90.63 259.02,90.47 259.43,90.31 259.83,90.15 260.23,89.98 260.64,89.81 261.04,89.64 261.44,89.46 261.85,89.28 262.25,89.09 262.66,88.9 263.06,88.71 263.46,88.52 263.87,88.32 264.27,88.12 264.67,87.91 265.08,87.7 265.48,87.49 265.88,87.28 266.29,87.06 266.69,86.84 267.1,86.61 267.5,86.38 267.9,86.15 268.31,85.91 268.71,85.67 269.11,85.43 269.52,85.19 269.92,84.94 270.33,84.68 270.73,84.43 271.13,84.17 271.54,83.91 271.94,83.64 272.34,83.37 272.75,83.1 273.15,82.82 273.56,82.55 273.96,82.26 274.36,81.98 274.77,81.69 275.17,81.4 275.57,81.11 275.98,80.81 276.38,80.52 276.78,80.21 277.19,79.91 277.59,79.6 278,79.29 278.4,78.98 278.8,78.67 279.21,78.35 279.61,78.03 280.01,77.71 280.42,77.38 280.82,77.06 281.23,76.73 281.63,76.4 282.03,76.06 282.44,75.73 282.84,75.39 283.24,75.05 283.65,74.71 284.05,74.37 284.46,74.03 284.86,73.68 285.26,73.34 285.67,72.99 286.07,72.64 286.47,72.29 286.88,71.94 287.28,71.58 287.69,71.23 288.09,70.87 288.49,70.52 288.9,70.16 289.3,69.8 289.7,69.44 290.11,69.08 290.51,68.72 290.91,68.37 291.32,68 291.72,67.64 292.13,67.28 292.53,66.92 292.93,66.56 293.34,66.2 293.74,65.84 294.14,65.48 294.55,65.12 294.95,64.76 295.36,64.4 295.76,64.04 296.16,63.68 296.57,63.33 296.97,62.97 297.37,62.61 297.78,62.26 298.18,61.91 298.59,61.55 298.99,61.2 299.39,60.85 299.8,60.5 300.2,60.16 300.6,59.81 301.01,59.46 301.41,59.12 301.82,58.78" stroke="#8a8a8a" stroke-width="1.1" fill="none"/>
<polyline points="237.62,85.73 238.03,85.75 238.43,85.76 238.84,85.77 239.24,85.78 239.64,85.79 240.05,85.8 240.45,85.8 240.85,85.81 241.26,85.81 241.66,85.82 242.07,85.82 242.47,85.83 242.87,85.84 243.28,85.85 243.68,85.85 244.08,85.86 244.49,85.87 244.89,85.87 245.3,85.88 245.7,85.89 246.1,85.89 246.51,85.89 246.91,85.89 247.31,85.89 247.72,85.89 248.12,85.89 248.53,85.88 248.93,85.88 249.33,85.87 249.74,85.86 250.14,85.84 250.54,85.83 250.95,85.81 251.35,85.78 251.75,85.76 252.16,85.73 252.56,85.7 252.97,85.66 253.37,85.62 253.77,85.58 254.18,85.53 254.58,85.48 254.98,85.42 255.39,85.36 255.79,85.29 256.2,85.22 256.6,85.15 257,85.07 257.41,84.98 257.81,84.89 258.21,84.8 258.62,84.69 259.02,84.59 259.43,84.47 259.83,84.35 260.23,84.23 260.64,84.1 261.04,83.97 261.44,83.83 261.85,83.69 262.25,83.54 262.66,83.39 263.06,83.24 263.46,83.08 263.87,82.92 264.27,82.76 264.67,82.59 265.08,82.41 265.48,82.23 265.88,82.05 266.29,81.87 266.69,81.68 267.1,81.49 267.5,81.29 267.9,81.09 268.31,80.88 268.71,80.68 269.11,80.46 269.52,80.25 269.92,80.03 270.33,79.81 270.73,79.58 271.13,79.35 271.54,79.12 271.94,78.88 272.34,78.64 272.75,78.39 273.15,78.15 273.56,77.9 273.96,77.64 274.36,77.38 274.77,77.12 275.17,76.86 275.57,76.59 275.98,76.33 276.38,76.05 276.78,75.78 277.19,75.5 277.59,75.22 278,74.94 278.4,74.65 278.8,74.36 279.21,74.07 279.61,73.78 280.01,73.48 280.42,73.18 280.82,72.88 281.23,72.58 281.63,72.28 282.03,71.97 282.44,71.66 282.84,71.35 283.24,71.04 283.65,70.73 284.05,70.42 284.46,70.1 284.86,69.78 285.26,69.46 285.67,69.14 286.07,68.82 286.47,68.5 286.88,68.18 287.28,67.86 287.69,67.53 288.09,67.21 288.49,66.88 288.9,66.56 289.3,66.23 289.7,65.9 290.11,65.57 290.51,65.23 290.91,64.9 291.32,64.57 291.72,64.23 292.13,63.89 292.53,63.56 292.93,63.22 293.34,62.88 293.74,62.54 294.14,62.2 294.55,61.87 294.95,61.53 295.36,61.19 295.76,60.85 296.16,60.52 296.57,60.18 296.97,59.85 297.37,59.52 297.78,59.19 298.18,58.86 298.59,58.53 298.99,58.21 299.39,57.88 299.8,57.56 300.2,57.25 300.6,56.93 301.01,56.62 301.41,56.31 301.82,56" stroke="#000" stroke-width="1.1" fill="none"/>
<polyline points="237.62,104.43 238.03,104.35 238.43,104.27 238.84,104.18 239.24,104.1 239.64,104.02 240.05,103.93 240.45,103.84 240.85,103.75 241.26,103.66 241.66,103.56 242.07,103.45 242.47,103.35 242.87,103.23 243.28,103.12 243.68,103 244.08,102.88 244.49,102.75 244.89,102.62 245.3,102.48 245.7,102.35 246.1,102.2 246.51,102.06 246.91,101.91 247.31,101.76 247.72,101.61 248.12,101.45 248.53,101.29 248.93,101.13 249.33,100.96 249.74,100.79 250.14,100.62 250.54,100.45 250.95,100.27 251.35,100.09 251.75,99.91 252.16,99.73 252.56,99.55 252.97,99.36 253.37,99.17 253.77,98.98 254.18,98.79 254.58,98.59 254.98,98.4 255.39,98.2 255.79,98 256.2,97.8 256.6,97.6 257,97.39 257.41,97.19 257.81,96.98 258.21,96.78 258.62,96.57 259.02,96.36 259.43,96.15 259.83,95.94 260.23,95.73 260.64,95.52 261.04,95.31 261.44,95.09 261.85,94.87 262.25,94.64 262.66,94.42 263.06,94.19 263.46,93.96 263.87,93.72 264.27,93.48 264.67,93.24 265.08,93 265.48,92.75 265.88,92.5 266.29,92.25 266.69,91.99 267.1,91.74 267.5,91.47 267.9,91.21 268.31,90.94 268.71,90.67 269.11,90.4 269.52,90.12 269.92,89.84 270.33,89.56 270.73,89.28 271.13,88.99 271.54,88.7 271.94,88.4 272.34,88.1 272.75,87.8 273.15,87.5 273.56,87.2 273.96,86.89 274.36,86.58 274.77,86.26 275.17,85.94 275.57,85.62 275.98,85.3 276.38,84.98 276.78,84.65 277.19,84.32 277.59,83.98 278,83.65 278.4,83.31 278.8,82.97 279.21,82.63 279.61,82.28 280.01,81.93 280.42,81.58 280.82,81.23 281.23,80.87 281.63,80.52 282.03,80.16 282.44,79.79 282.84,79.43 283.24,79.06 283.65,78.7 284.05,78.33 284.46,77.96 284.86,77.58 285.26,77.21 285.67,76.83 286.07,76.45 286.47,76.07 286.88,75.69 287.28,75.31 287.69,74.92 288.09,74.54 288.49,74.15 288.9,73.76 289.3,73.38 289.7,72.99 290.11,72.6 290.51,72.22 290.91,71.83 291.32,71.44 291.72,71.06 292.13,70.67 292.53,70.29 292.93,69.91 293.34,69.52 293.74,69.14 294.14,68.76 294.55,68.37 294.95,67.99 295.36,67.61 295.76,67.23 296.16,66.85 296.57,66.47 296.97,66.09 297.37,65.71 297.78,65.33 298.18,64.95 298.59,64.57 298.99,64.2 299.39,63.82 299.8,63.44 300.2,63.07 300.6,62.69 301.01,62.31 301.41,61.94 301.82,61.56" stroke="#000" stroke-width="1.1" fill="none"/>
</g>
<path d="M266.44 51v-1.6M266.44 14.6v1.6M292.65 51v-1.6M292.65 14.6v1.6M240.9 36.67h1.6M299.4 36.67h-1.6" stroke="#262626" stroke-width="0.8" fill="none"/>
<rect x="240.9" y="14.6" width="58.5" height="36.4" stroke="#262626" stroke-width="0.8" fill="none"/>
<text x="239.6" y="39.47" font-size="8.2" text-anchor="end" letter-spacing="0.25">0.5</text>
<rect x="235.5" y="86.8" width="65.2" height="11.6" fill="#fff" stroke="#262626" stroke-width="0.6"/>
<line x1="237.2" y1="92.5" x2="247" y2="92.5" stroke="#0072BD" stroke-width="0.9"/>
<text x="248.9" y="95" font-size="9" font-style="italic">r<tspan font-size="6.3" dy="1.3" dx="0.2">a</tspan></text>
<line x1="259.5" y1="92.5" x2="269.3" y2="92.5" stroke="#77AC30" stroke-width="0.9"/>
<text x="270.7" y="95" font-size="9" font-style="italic">r<tspan font-size="6.3" dy="1.3" dx="0.2">b</tspan></text>
<line x1="281" y1="92.5" x2="291" y2="92.5" stroke="#D95319" stroke-width="0.9"/>
<text x="292.3" y="95" font-size="9" font-style="italic">r<tspan font-size="6.3" dy="1.3" dx="0.2">c</tspan></text>
<text transform="translate(14.3 56.1) rotate(-90)" font-size="10.5" text-anchor="middle"><tspan font-style="italic">r</tspan><tspan font-size="7.5" font-style="italic" dy="2">z</tspan><tspan dy="-2" dx="0.9">(</tspan><tspan font-style="italic" dx="0.3">t</tspan><tspan dx="0.5">)</tspan></text>
<text x="170" y="123.9" font-size="10.5" text-anchor="middle"><tspan font-style="italic">t</tspan>,<tspan dx="3">s</tspan></text>
<path d="M419.72 10.5V101.3M457.45 10.5V101.3M495.17 10.5V101.3M382 78.6H532.9M382 55.9H532.9M382 33.2H532.9" stroke="#b4b4b4" stroke-width="0.6" stroke-dasharray="0.7 1.5" fill="none"/>
<g clip-path="url(#cr0)">
<path d="M381 35.61V76.19M383.04 35.59V76.21M385.08 34.73V77.07M387.12 34.62V77.18M389.16 35.57V76.23M391.2 37.05V74.75M393.24 39.2V72.6M395.28 40.94V70.86M397.32 42.07V69.73M399.36 43.09V68.71M401.4 44.14V67.66M403.44 45.22V66.58M405.48 46.37V65.43M407.52 47.6V64.2M409.56 48.9V62.9M411.6 50.24V61.56M413.64 51.61V60.19M415.68 53.01V58.79M417.72 54.45V57.35M419.76 55.87V55.93M421.8 54.4V57.4M423.84 52.96V58.84M425.88 51.56V60.24M427.92 50.19V61.61M429.96 48.86V62.94M432 47.56V64.24M434.04 46.33V65.47M436.08 45.18V66.62M438.12 44.1V67.7M440.16 43.05V68.75M442.2 42.03V69.77M444.24 40.89V70.91M446.28 39.11V72.69M448.32 36.98V74.82M450.36 35.53V76.27M452.4 34.61V77.19M454.44 34.74V77.06M456.48 35.63V76.17M458.52 35.57V76.23M460.56 34.72V77.08M462.6 34.63V77.17M464.64 35.58V76.22M466.68 37.07V74.73M468.72 39.23V72.57M470.76 40.95V70.85M472.8 42.08V69.72M474.84 43.1V68.7M476.88 44.15V67.65M478.92 45.23V66.57M480.96 46.38V65.42M483 47.62V64.18M485.04 48.92V62.88M487.08 50.26V61.54M489.12 51.63V60.17M491.16 53.03V58.77M493.2 54.47V57.33M495.24 55.85V55.95M497.28 54.38V57.42M499.32 52.94V58.86M501.36 51.54V60.26M503.4 50.17V61.63M505.44 48.84V62.96M507.48 47.54V64.26M509.52 46.31V65.49M511.56 45.16V66.64M513.6 44.08V67.72M515.64 43.04V68.76M517.68 42.02V69.78M519.72 40.87V70.93M521.76 39.07V72.73M523.8 36.96V74.84M525.84 35.51V76.29M527.88 34.6V77.2M529.92 34.75V77.05M531.96 35.65V76.15M534 35.55V76.25" stroke="#1F80CA" stroke-width="1.1" fill="none"/>
<path d="M392.06 55.78V56.02M394.1 52.51V59.29M396.14 47.87V63.93M398.18 42.93V68.87M400.22 38.58V73.22M402.26 34.78V77.02M404.3 30.89V80.91M406.34 27.71V84.09M408.38 25.28V86.52M410.42 23.67V88.13M412.46 22.57V89.23M414.5 21.86V89.94M416.54 21.43V90.37M418.58 21.4V90.4M420.62 21.4V90.4M422.66 21.41V90.39M424.7 21.79V90.01M426.74 22.47V89.33M428.78 23.5V88.3M430.82 25.06V86.74M432.86 27.35V84.45M434.9 30.44V81.36M436.94 34.29V77.51M438.98 38.09V73.71M441.02 42.31V69.49M443.06 47.3V64.5M445.1 51.91V59.89M447.14 55.59V56.21M467.54 55.76V56.04M469.58 52.44V59.36M471.62 47.81V63.99M473.66 42.86V68.94M475.7 38.52V73.28M477.74 34.72V77.08M479.78 30.84V80.96M481.82 27.67V84.13M483.86 25.26V86.54M485.9 23.65V88.15M487.94 22.56V89.24M489.98 21.85V89.95M492.02 21.42V90.38M494.06 21.4V90.4M496.1 21.4V90.4M498.14 21.41V90.39M500.18 21.79V90.01M502.22 22.49V89.31M504.26 23.52V88.28M506.3 25.08V86.72M508.34 27.39V84.41M510.38 30.49V81.31M512.42 34.35V77.45M514.46 38.15V73.65M516.5 42.38V69.42M518.54 47.37V64.43M520.58 51.98V59.82M522.62 55.62V56.18" stroke="#0072BD" stroke-width="1.15" fill="none"/>
<polyline points="382,36.38 382.38,36.06 382.76,35.78 383.13,35.53 383.51,35.31 383.89,35.12 384.27,34.97 384.65,34.84 385.03,34.74 385.4,34.66 385.78,34.61 386.16,34.57 386.54,34.56 386.92,34.58 387.29,34.67 387.67,34.8 388.05,34.97 388.43,35.16 388.81,35.37 389.19,35.58 389.56,35.79 389.94,36.03 390.32,36.31 390.7,36.61 391.08,36.94 391.45,37.28 391.83,37.63 392.21,37.99 392.59,38.4 392.97,38.86 393.35,39.33 393.72,39.75 394.1,40.1 394.48,40.39 394.86,40.66 395.24,40.91 395.62,41.14 395.99,41.36 396.37,41.58 396.75,41.78 397.13,41.97 397.51,42.16 397.88,42.34 398.26,42.53 398.64,42.72 399.02,42.91 399.4,43.11 399.78,43.3 400.15,43.49 400.53,43.69 400.91,43.88 401.29,44.08 401.67,44.27 402.04,44.47 402.42,44.67 402.8,44.87 403.18,45.08 403.56,45.28 403.94,45.49 404.31,45.7 404.69,45.91 405.07,46.13 405.45,46.35 405.83,46.57 406.2,46.8 406.58,47.02 406.96,47.26 407.34,47.49 407.72,47.73 408.1,47.96 408.47,48.2 408.85,48.45 409.23,48.69 409.61,48.93 409.99,49.18 410.36,49.43 410.74,49.68 411.12,49.92 411.5,50.17 411.88,50.42 412.26,50.68 412.63,50.93 413.01,51.18 413.39,51.44 413.77,51.69 414.15,51.95 414.52,52.21 414.9,52.47 415.28,52.73 415.66,52.99 416.04,53.26 416.42,53.52 416.79,53.79 417.17,54.06 417.55,54.33 417.93,54.6 418.31,54.87 418.68,55.14 419.06,55.42 419.44,55.69 419.82,55.83 420.2,55.55 420.58,55.28 420.95,55.01 421.33,54.73 421.71,54.46 422.09,54.19 422.47,53.92 422.85,53.66 423.22,53.39 423.6,53.13 423.98,52.86 424.36,52.6 424.74,52.34 425.11,52.08 425.49,51.82 425.87,51.56 426.25,51.31 426.63,51.05 427.01,50.8 427.38,50.55 427.76,50.3 428.14,50.05 428.52,49.8 428.9,49.55 429.27,49.3 429.65,49.06 430.03,48.81 430.41,48.57 430.79,48.32 431.17,48.08 431.54,47.84 431.92,47.61 432.3,47.37 432.68,47.14 433.06,46.91 433.43,46.68 433.81,46.46 434.19,46.24 434.57,46.02 434.95,45.81 435.33,45.59 435.7,45.39 436.08,45.18 436.46,44.97 436.84,44.77 437.22,44.57 437.59,44.37 437.97,44.18 438.35,43.98 438.73,43.79 439.11,43.59 439.49,43.4 439.86,43.2 440.24,43.01 440.62,42.82 441,42.62 441.38,42.43 441.75,42.25 442.13,42.07 442.51,41.88 442.89,41.68 443.27,41.47 443.65,41.25 444.02,41.03 444.4,40.79 444.78,40.53 445.16,40.25 445.54,39.94 445.92,39.55 446.29,39.1 446.67,38.63 447.05,38.19 447.43,37.81 447.81,37.45 448.18,37.1 448.56,36.77 448.94,36.46 449.32,36.17 449.7,35.91 450.08,35.69 450.45,35.48 450.83,35.26 451.21,35.06 451.59,34.88 451.97,34.73 452.34,34.62 452.72,34.57 453.1,34.57 453.48,34.59 453.86,34.63 454.24,34.7 454.61,34.79 454.99,34.9 455.37,35.04 455.75,35.21 456.13,35.41 456.5,35.65 456.88,35.91 457.26,36.21 457.64,36.21 458.02,35.91 458.4,35.65 458.77,35.41 459.15,35.21 459.53,35.04 459.91,34.9 460.29,34.79 460.66,34.7 461.04,34.63 461.42,34.59 461.8,34.57 462.18,34.57 462.56,34.62 462.93,34.73 463.31,34.88 463.69,35.06 464.07,35.26 464.45,35.48 464.82,35.69 465.2,35.91 465.58,36.17 465.96,36.46 466.34,36.77 466.72,37.1 467.09,37.45 467.47,37.81 467.85,38.19 468.23,38.63 468.61,39.1 468.98,39.55 469.36,39.94 469.74,40.25 470.12,40.53 470.5,40.79 470.88,41.03 471.25,41.25 471.63,41.47 472.01,41.68 472.39,41.88 472.77,42.07 473.15,42.25 473.52,42.43 473.9,42.62 474.28,42.82 474.66,43.01 475.04,43.2 475.41,43.4 475.79,43.59 476.17,43.79 476.55,43.98 476.93,44.18 477.31,44.37 477.68,44.57 478.06,44.77 478.44,44.97 478.82,45.18 479.2,45.39 479.57,45.59 479.95,45.81 480.33,46.02 480.71,46.24 481.09,46.46 481.47,46.68 481.84,46.91 482.22,47.14 482.6,47.37 482.98,47.61 483.36,47.84 483.73,48.08 484.11,48.32 484.49,48.57 484.87,48.81 485.25,49.06 485.63,49.3 486,49.55 486.38,49.8 486.76,50.05 487.14,50.3 487.52,50.55 487.89,50.8 488.27,51.05 488.65,51.31 489.03,51.56 489.41,51.82 489.79,52.08 490.16,52.34 490.54,52.6 490.92,52.86 491.3,53.13 491.68,53.39 492.05,53.66 492.43,53.92 492.81,54.19 493.19,54.46 493.57,54.73 493.95,55.01 494.32,55.28 494.7,55.55 495.08,55.83 495.46,55.69 495.84,55.42 496.22,55.14 496.59,54.87 496.97,54.6 497.35,54.33 497.73,54.06 498.11,53.79 498.48,53.52 498.86,53.26 499.24,52.99 499.62,52.73 500,52.47 500.38,52.21 500.75,51.95 501.13,51.69 501.51,51.44 501.89,51.18 502.27,50.93 502.64,50.68 503.02,50.42 503.4,50.17 503.78,49.92 504.16,49.68 504.54,49.43 504.91,49.18 505.29,48.93 505.67,48.69 506.05,48.45 506.43,48.2 506.8,47.96 507.18,47.73 507.56,47.49 507.94,47.26 508.32,47.02 508.7,46.8 509.07,46.57 509.45,46.35 509.83,46.13 510.21,45.91 510.59,45.7 510.96,45.49 511.34,45.28 511.72,45.08 512.1,44.87 512.48,44.67 512.86,44.47 513.23,44.27 513.61,44.08 513.99,43.88 514.37,43.69 514.75,43.49 515.12,43.3 515.5,43.11 515.88,42.91 516.26,42.72 516.64,42.53 517.02,42.34 517.39,42.16 517.77,41.97 518.15,41.78 518.53,41.58 518.91,41.36 519.28,41.14 519.66,40.91 520.04,40.66 520.42,40.39 520.8,40.1 521.18,39.75 521.55,39.33 521.93,38.86 522.31,38.4 522.69,37.99 523.07,37.63 523.45,37.28 523.82,36.94 524.2,36.61 524.58,36.31 524.96,36.03 525.34,35.79 525.71,35.58 526.09,35.37 526.47,35.16 526.85,34.97 527.23,34.8 527.61,34.67 527.98,34.58 528.36,34.56 528.74,34.57 529.12,34.61 529.5,34.66 529.87,34.74 530.25,34.84 530.63,34.97 531.01,35.12 531.39,35.31 531.77,35.53 532.14,35.78 532.52,36.06 532.9,36.38" stroke="#8a8a8a" stroke-width="0.6" fill="none"/>
<polyline points="382,75.42 382.38,75.74 382.76,76.02 383.13,76.27 383.51,76.49 383.89,76.68 384.27,76.83 384.65,76.96 385.03,77.06 385.4,77.14 385.78,77.19 386.16,77.23 386.54,77.24 386.92,77.22 387.29,77.13 387.67,77 388.05,76.83 388.43,76.64 388.81,76.43 389.19,76.22 389.56,76.01 389.94,75.77 390.32,75.49 390.7,75.19 391.08,74.86 391.45,74.52 391.83,74.17 392.21,73.81 392.59,73.4 392.97,72.94 393.35,72.47 393.72,72.05 394.1,71.7 394.48,71.41 394.86,71.14 395.24,70.89 395.62,70.66 395.99,70.44 396.37,70.22 396.75,70.02 397.13,69.83 397.51,69.64 397.88,69.46 398.26,69.27 398.64,69.08 399.02,68.89 399.4,68.69 399.78,68.5 400.15,68.31 400.53,68.11 400.91,67.92 401.29,67.72 401.67,67.53 402.04,67.33 402.42,67.13 402.8,66.93 403.18,66.72 403.56,66.52 403.94,66.31 404.31,66.1 404.69,65.89 405.07,65.67 405.45,65.45 405.83,65.23 406.2,65 406.58,64.78 406.96,64.54 407.34,64.31 407.72,64.07 408.1,63.84 408.47,63.6 408.85,63.35 409.23,63.11 409.61,62.87 409.99,62.62 410.36,62.37 410.74,62.12 411.12,61.88 411.5,61.63 411.88,61.38 412.26,61.12 412.63,60.87 413.01,60.62 413.39,60.36 413.77,60.11 414.15,59.85 414.52,59.59 414.9,59.33 415.28,59.07 415.66,58.81 416.04,58.54 416.42,58.28 416.79,58.01 417.17,57.74 417.55,57.47 417.93,57.2 418.31,56.93 418.68,56.66 419.06,56.38 419.44,56.11 419.82,55.97 420.2,56.25 420.58,56.52 420.95,56.79 421.33,57.07 421.71,57.34 422.09,57.61 422.47,57.88 422.85,58.14 423.22,58.41 423.6,58.67 423.98,58.94 424.36,59.2 424.74,59.46 425.11,59.72 425.49,59.98 425.87,60.24 426.25,60.49 426.63,60.75 427.01,61 427.38,61.25 427.76,61.5 428.14,61.75 428.52,62 428.9,62.25 429.27,62.5 429.65,62.74 430.03,62.99 430.41,63.23 430.79,63.48 431.17,63.72 431.54,63.96 431.92,64.19 432.3,64.43 432.68,64.66 433.06,64.89 433.43,65.12 433.81,65.34 434.19,65.56 434.57,65.78 434.95,65.99 435.33,66.21 435.7,66.41 436.08,66.62 436.46,66.83 436.84,67.03 437.22,67.23 437.59,67.43 437.97,67.62 438.35,67.82 438.73,68.01 439.11,68.21 439.49,68.4 439.86,68.6 440.24,68.79 440.62,68.98 441,69.18 441.38,69.37 441.75,69.55 442.13,69.73 442.51,69.92 442.89,70.12 443.27,70.33 443.65,70.55 444.02,70.77 444.4,71.01 444.78,71.27 445.16,71.55 445.54,71.86 445.92,72.25 446.29,72.7 446.67,73.17 447.05,73.61 447.43,73.99 447.81,74.35 448.18,74.7 448.56,75.03 448.94,75.34 449.32,75.63 449.7,75.89 450.08,76.11 450.45,76.32 450.83,76.54 451.21,76.74 451.59,76.92 451.97,77.07 452.34,77.18 452.72,77.23 453.1,77.23 453.48,77.21 453.86,77.17 454.24,77.1 454.61,77.01 454.99,76.9 455.37,76.76 455.75,76.59 456.13,76.39 456.5,76.15 456.88,75.89 457.26,75.59 457.64,75.59 458.02,75.89 458.4,76.15 458.77,76.39 459.15,76.59 459.53,76.76 459.91,76.9 460.29,77.01 460.66,77.1 461.04,77.17 461.42,77.21 461.8,77.23 462.18,77.23 462.56,77.18 462.93,77.07 463.31,76.92 463.69,76.74 464.07,76.54 464.45,76.32 464.82,76.11 465.2,75.89 465.58,75.63 465.96,75.34 466.34,75.03 466.72,74.7 467.09,74.35 467.47,73.99 467.85,73.61 468.23,73.17 468.61,72.7 468.98,72.25 469.36,71.86 469.74,71.55 470.12,71.27 470.5,71.01 470.88,70.77 471.25,70.55 471.63,70.33 472.01,70.12 472.39,69.92 472.77,69.73 473.15,69.55 473.52,69.37 473.9,69.18 474.28,68.98 474.66,68.79 475.04,68.6 475.41,68.4 475.79,68.21 476.17,68.01 476.55,67.82 476.93,67.62 477.31,67.43 477.68,67.23 478.06,67.03 478.44,66.83 478.82,66.62 479.2,66.41 479.57,66.21 479.95,65.99 480.33,65.78 480.71,65.56 481.09,65.34 481.47,65.12 481.84,64.89 482.22,64.66 482.6,64.43 482.98,64.19 483.36,63.96 483.73,63.72 484.11,63.48 484.49,63.23 484.87,62.99 485.25,62.74 485.63,62.5 486,62.25 486.38,62 486.76,61.75 487.14,61.5 487.52,61.25 487.89,61 488.27,60.75 488.65,60.49 489.03,60.24 489.41,59.98 489.79,59.72 490.16,59.46 490.54,59.2 490.92,58.94 491.3,58.67 491.68,58.41 492.05,58.14 492.43,57.88 492.81,57.61 493.19,57.34 493.57,57.07 493.95,56.79 494.32,56.52 494.7,56.25 495.08,55.97 495.46,56.11 495.84,56.38 496.22,56.66 496.59,56.93 496.97,57.2 497.35,57.47 497.73,57.74 498.11,58.01 498.48,58.28 498.86,58.54 499.24,58.81 499.62,59.07 500,59.33 500.38,59.59 500.75,59.85 501.13,60.11 501.51,60.36 501.89,60.62 502.27,60.87 502.64,61.12 503.02,61.38 503.4,61.63 503.78,61.88 504.16,62.12 504.54,62.37 504.91,62.62 505.29,62.87 505.67,63.11 506.05,63.35 506.43,63.6 506.8,63.84 507.18,64.07 507.56,64.31 507.94,64.54 508.32,64.78 508.7,65 509.07,65.23 509.45,65.45 509.83,65.67 510.21,65.89 510.59,66.1 510.96,66.31 511.34,66.52 511.72,66.72 512.1,66.93 512.48,67.13 512.86,67.33 513.23,67.53 513.61,67.72 513.99,67.92 514.37,68.11 514.75,68.31 515.12,68.5 515.5,68.69 515.88,68.89 516.26,69.08 516.64,69.27 517.02,69.46 517.39,69.64 517.77,69.83 518.15,70.02 518.53,70.22 518.91,70.44 519.28,70.66 519.66,70.89 520.04,71.14 520.42,71.41 520.8,71.7 521.18,72.05 521.55,72.47 521.93,72.94 522.31,73.4 522.69,73.81 523.07,74.17 523.45,74.52 523.82,74.86 524.2,75.19 524.58,75.49 524.96,75.77 525.34,76.01 525.71,76.22 526.09,76.43 526.47,76.64 526.85,76.83 527.23,77 527.61,77.13 527.98,77.22 528.36,77.24 528.74,77.23 529.12,77.19 529.5,77.14 529.87,77.06 530.25,76.96 530.63,76.83 531.01,76.68 531.39,76.49 531.77,76.27 532.14,76.02 532.52,75.74 532.9,75.42" stroke="#8a8a8a" stroke-width="0.6" fill="none"/>
<polyline points="382,55.9 382.38,55.9 382.76,55.9 383.13,55.9 383.51,55.9 383.89,55.9 384.27,55.9 384.65,55.9 385.03,55.9 385.4,55.9 385.78,55.9 386.16,55.9 386.54,55.9 386.92,55.9 387.29,55.9 387.67,55.9 388.05,55.9 388.43,55.9 388.81,55.9 389.19,55.9 389.56,55.9 389.94,55.9 390.32,55.9 390.7,55.9 391.08,55.9 391.45,55.9 391.83,55.88 392.21,55.68 392.59,55.29 392.97,54.76 393.35,54.09 393.72,53.33 394.1,52.49 394.48,51.61 394.86,50.72 395.24,49.83 395.62,48.97 395.99,48.18 396.37,47.35 396.75,46.47 397.13,45.54 397.51,44.6 397.88,43.65 398.26,42.72 398.64,41.83 399.02,40.99 399.4,40.2 399.78,39.44 400.15,38.7 400.53,37.98 400.91,37.27 401.29,36.57 401.67,35.87 402.04,35.17 402.42,34.47 402.8,33.74 403.18,33.01 403.56,32.28 403.94,31.56 404.31,30.86 404.69,30.21 405.07,29.6 405.45,29.02 405.83,28.45 406.2,27.9 406.58,27.37 406.96,26.86 407.34,26.38 407.72,25.95 408.1,25.55 408.47,25.2 408.85,24.87 409.23,24.56 409.61,24.26 409.99,23.97 410.36,23.7 410.74,23.45 411.12,23.22 411.5,23.01 411.88,22.82 412.26,22.65 412.63,22.5 413.01,22.37 413.39,22.23 413.77,22.1 414.15,21.97 414.52,21.85 414.9,21.74 415.28,21.64 415.66,21.56 416.04,21.49 416.42,21.44 416.79,21.41 417.17,21.4 417.55,21.4 417.93,21.4 418.31,21.4 418.68,21.4 419.06,21.4 419.44,21.4 419.82,21.4 420.2,21.4 420.58,21.4 420.95,21.4 421.33,21.4 421.71,21.4 422.09,21.4 422.47,21.4 422.85,21.42 423.22,21.46 423.6,21.52 423.98,21.6 424.36,21.69 424.74,21.8 425.11,21.91 425.49,22.03 425.87,22.16 426.25,22.3 426.63,22.43 427.01,22.57 427.38,22.73 427.76,22.91 428.14,23.11 428.52,23.33 428.9,23.57 429.27,23.83 429.65,24.11 430.03,24.4 430.41,24.71 430.79,25.03 431.17,25.37 431.54,25.74 431.92,26.16 432.3,26.62 432.68,27.11 433.06,27.63 433.43,28.17 433.81,28.73 434.19,29.31 434.57,29.89 434.95,30.53 435.33,31.21 435.7,31.92 436.08,32.64 436.46,33.38 436.84,34.11 437.22,34.82 437.59,35.52 437.97,36.22 438.35,36.92 438.73,37.62 439.11,38.34 439.49,39.07 439.86,39.82 440.24,40.59 440.62,41.4 441,42.27 441.38,43.18 441.75,44.12 442.13,45.07 442.51,46.01 442.89,46.91 443.27,47.77 443.65,48.57 444.02,49.39 444.4,50.27 444.78,51.17 445.16,52.06 445.54,52.92 445.92,53.72 446.29,54.44 446.67,55.04 447.05,55.51 447.43,55.8 447.81,55.9 448.18,55.9 448.56,55.9 448.94,55.9 449.32,55.9 449.7,55.9 450.08,55.9 450.45,55.9 450.83,55.9 451.21,55.9 451.59,55.9 451.97,55.9 452.34,55.9 452.72,55.9 453.1,55.9 453.48,55.9 453.86,55.9 454.24,55.9 454.61,55.9 454.99,55.9 455.37,55.9 455.75,55.9 456.13,55.9 456.5,55.9 456.88,55.9 457.26,55.9 457.64,55.9 458.02,55.9 458.4,55.9 458.77,55.9 459.15,55.9 459.53,55.9 459.91,55.9 460.29,55.9 460.66,55.9 461.04,55.9 461.42,55.9 461.8,55.9 462.18,55.9 462.56,55.9 462.93,55.9 463.31,55.9 463.69,55.9 464.07,55.9 464.45,55.9 464.82,55.9 465.2,55.9 465.58,55.9 465.96,55.9 466.34,55.9 466.72,55.9 467.09,55.9 467.47,55.8 467.85,55.51 468.23,55.04 468.61,54.44 468.98,53.72 469.36,52.92 469.74,52.06 470.12,51.17 470.5,50.27 470.88,49.39 471.25,48.57 471.63,47.77 472.01,46.91 472.39,46.01 472.77,45.07 473.15,44.12 473.52,43.18 473.9,42.27 474.28,41.4 474.66,40.59 475.04,39.82 475.41,39.07 475.79,38.34 476.17,37.62 476.55,36.92 476.93,36.22 477.31,35.52 477.68,34.82 478.06,34.11 478.44,33.38 478.82,32.64 479.2,31.92 479.57,31.21 479.95,30.53 480.33,29.89 480.71,29.31 481.09,28.73 481.47,28.17 481.84,27.63 482.22,27.11 482.6,26.62 482.98,26.16 483.36,25.74 483.73,25.37 484.11,25.03 484.49,24.71 484.87,24.4 485.25,24.11 485.63,23.83 486,23.57 486.38,23.33 486.76,23.11 487.14,22.91 487.52,22.73 487.89,22.57 488.27,22.43 488.65,22.3 489.03,22.16 489.41,22.03 489.79,21.91 490.16,21.8 490.54,21.69 490.92,21.6 491.3,21.52 491.68,21.46 492.05,21.42 492.43,21.4 492.81,21.4 493.19,21.4 493.57,21.4 493.95,21.4 494.32,21.4 494.7,21.4 495.08,21.4 495.46,21.4 495.84,21.4 496.22,21.4 496.59,21.4 496.97,21.4 497.35,21.4 497.73,21.4 498.11,21.41 498.48,21.44 498.86,21.49 499.24,21.56 499.62,21.64 500,21.74 500.38,21.85 500.75,21.97 501.13,22.1 501.51,22.23 501.89,22.37 502.27,22.5 502.64,22.65 503.02,22.82 503.4,23.01 503.78,23.22 504.16,23.45 504.54,23.7 504.91,23.97 505.29,24.26 505.67,24.56 506.05,24.87 506.43,25.2 506.8,25.55 507.18,25.95 507.56,26.38 507.94,26.86 508.32,27.37 508.7,27.9 509.07,28.45 509.45,29.02 509.83,29.6 510.21,30.21 510.59,30.86 510.96,31.56 511.34,32.28 511.72,33.01 512.1,33.74 512.48,34.47 512.86,35.17 513.23,35.87 513.61,36.57 513.99,37.27 514.37,37.98 514.75,38.7 515.12,39.44 515.5,40.2 515.88,40.99 516.26,41.83 516.64,42.72 517.02,43.65 517.39,44.6 517.77,45.54 518.15,46.47 518.53,47.35 518.91,48.18 519.28,48.97 519.66,49.83 520.04,50.72 520.42,51.61 520.8,52.49 521.18,53.33 521.55,54.09 521.93,54.76 522.31,55.29 522.69,55.68 523.07,55.88 523.45,55.9 523.82,55.9 524.2,55.9 524.58,55.9 524.96,55.9 525.34,55.9 525.71,55.9 526.09,55.9 526.47,55.9 526.85,55.9 527.23,55.9 527.61,55.9 527.98,55.9 528.36,55.9 528.74,55.9 529.12,55.9 529.5,55.9 529.87,55.9 530.25,55.9 530.63,55.9 531.01,55.9 531.39,55.9 531.77,55.9 532.14,55.9 532.52,55.9 532.9,55.9" stroke="#111" stroke-width="0.7" fill="none"/>
<polyline points="382,55.9 382.38,55.9 382.76,55.9 383.13,55.9 383.51,55.9 383.89,55.9 384.27,55.9 384.65,55.9 385.03,55.9 385.4,55.9 385.78,55.9 386.16,55.9 386.54,55.9 386.92,55.9 387.29,55.9 387.67,55.9 388.05,55.9 388.43,55.9 388.81,55.9 389.19,55.9 389.56,55.9 389.94,55.9 390.32,55.9 390.7,55.9 391.08,55.9 391.45,55.9 391.83,55.92 392.21,56.12 392.59,56.51 392.97,57.04 393.35,57.71 393.72,58.47 394.1,59.31 394.48,60.19 394.86,61.08 395.24,61.97 395.62,62.83 395.99,63.62 396.37,64.45 396.75,65.33 397.13,66.26 397.51,67.2 397.88,68.15 398.26,69.08 398.64,69.97 399.02,70.81 399.4,71.6 399.78,72.36 400.15,73.1 400.53,73.82 400.91,74.53 401.29,75.23 401.67,75.93 402.04,76.63 402.42,77.33 402.8,78.06 403.18,78.79 403.56,79.52 403.94,80.24 404.31,80.94 404.69,81.59 405.07,82.2 405.45,82.78 405.83,83.35 406.2,83.9 406.58,84.43 406.96,84.94 407.34,85.42 407.72,85.85 408.1,86.25 408.47,86.6 408.85,86.93 409.23,87.24 409.61,87.54 409.99,87.83 410.36,88.1 410.74,88.35 411.12,88.58 411.5,88.79 411.88,88.98 412.26,89.15 412.63,89.3 413.01,89.43 413.39,89.57 413.77,89.7 414.15,89.83 414.52,89.95 414.9,90.06 415.28,90.16 415.66,90.24 416.04,90.31 416.42,90.36 416.79,90.39 417.17,90.4 417.55,90.4 417.93,90.4 418.31,90.4 418.68,90.4 419.06,90.4 419.44,90.4 419.82,90.4 420.2,90.4 420.58,90.4 420.95,90.4 421.33,90.4 421.71,90.4 422.09,90.4 422.47,90.4 422.85,90.38 423.22,90.34 423.6,90.28 423.98,90.2 424.36,90.11 424.74,90 425.11,89.89 425.49,89.77 425.87,89.64 426.25,89.5 426.63,89.37 427.01,89.23 427.38,89.07 427.76,88.89 428.14,88.69 428.52,88.47 428.9,88.23 429.27,87.97 429.65,87.69 430.03,87.4 430.41,87.09 430.79,86.77 431.17,86.43 431.54,86.06 431.92,85.64 432.3,85.18 432.68,84.69 433.06,84.17 433.43,83.63 433.81,83.07 434.19,82.49 434.57,81.91 434.95,81.27 435.33,80.59 435.7,79.88 436.08,79.16 436.46,78.42 436.84,77.69 437.22,76.98 437.59,76.28 437.97,75.58 438.35,74.88 438.73,74.18 439.11,73.46 439.49,72.73 439.86,71.98 440.24,71.21 440.62,70.4 441,69.53 441.38,68.62 441.75,67.68 442.13,66.73 442.51,65.79 442.89,64.89 443.27,64.03 443.65,63.23 444.02,62.41 444.4,61.53 444.78,60.63 445.16,59.74 445.54,58.88 445.92,58.08 446.29,57.36 446.67,56.76 447.05,56.29 447.43,56 447.81,55.9 448.18,55.9 448.56,55.9 448.94,55.9 449.32,55.9 449.7,55.9 450.08,55.9 450.45,55.9 450.83,55.9 451.21,55.9 451.59,55.9 451.97,55.9 452.34,55.9 452.72,55.9 453.1,55.9 453.48,55.9 453.86,55.9 454.24,55.9 454.61,55.9 454.99,55.9 455.37,55.9 455.75,55.9 456.13,55.9 456.5,55.9 456.88,55.9 457.26,55.9 457.64,55.9 458.02,55.9 458.4,55.9 458.77,55.9 459.15,55.9 459.53,55.9 459.91,55.9 460.29,55.9 460.66,55.9 461.04,55.9 461.42,55.9 461.8,55.9 462.18,55.9 462.56,55.9 462.93,55.9 463.31,55.9 463.69,55.9 464.07,55.9 464.45,55.9 464.82,55.9 465.2,55.9 465.58,55.9 465.96,55.9 466.34,55.9 466.72,55.9 467.09,55.9 467.47,56 467.85,56.29 468.23,56.76 468.61,57.36 468.98,58.08 469.36,58.88 469.74,59.74 470.12,60.63 470.5,61.53 470.88,62.41 471.25,63.23 471.63,64.03 472.01,64.89 472.39,65.79 472.77,66.73 473.15,67.68 473.52,68.62 473.9,69.53 474.28,70.4 474.66,71.21 475.04,71.98 475.41,72.73 475.79,73.46 476.17,74.18 476.55,74.88 476.93,75.58 477.31,76.28 477.68,76.98 478.06,77.69 478.44,78.42 478.82,79.16 479.2,79.88 479.57,80.59 479.95,81.27 480.33,81.91 480.71,82.49 481.09,83.07 481.47,83.63 481.84,84.17 482.22,84.69 482.6,85.18 482.98,85.64 483.36,86.06 483.73,86.43 484.11,86.77 484.49,87.09 484.87,87.4 485.25,87.69 485.63,87.97 486,88.23 486.38,88.47 486.76,88.69 487.14,88.89 487.52,89.07 487.89,89.23 488.27,89.37 488.65,89.5 489.03,89.64 489.41,89.77 489.79,89.89 490.16,90 490.54,90.11 490.92,90.2 491.3,90.28 491.68,90.34 492.05,90.38 492.43,90.4 492.81,90.4 493.19,90.4 493.57,90.4 493.95,90.4 494.32,90.4 494.7,90.4 495.08,90.4 495.46,90.4 495.84,90.4 496.22,90.4 496.59,90.4 496.97,90.4 497.35,90.4 497.73,90.4 498.11,90.39 498.48,90.36 498.86,90.31 499.24,90.24 499.62,90.16 500,90.06 500.38,89.95 500.75,89.83 501.13,89.7 501.51,89.57 501.89,89.43 502.27,89.3 502.64,89.15 503.02,88.98 503.4,88.79 503.78,88.58 504.16,88.35 504.54,88.1 504.91,87.83 505.29,87.54 505.67,87.24 506.05,86.93 506.43,86.6 506.8,86.25 507.18,85.85 507.56,85.42 507.94,84.94 508.32,84.43 508.7,83.9 509.07,83.35 509.45,82.78 509.83,82.2 510.21,81.59 510.59,80.94 510.96,80.24 511.34,79.52 511.72,78.79 512.1,78.06 512.48,77.33 512.86,76.63 513.23,75.93 513.61,75.23 513.99,74.53 514.37,73.82 514.75,73.1 515.12,72.36 515.5,71.6 515.88,70.81 516.26,69.97 516.64,69.08 517.02,68.15 517.39,67.2 517.77,66.26 518.15,65.33 518.53,64.45 518.91,63.62 519.28,62.83 519.66,61.97 520.04,61.08 520.42,60.19 520.8,59.31 521.18,58.47 521.55,57.71 521.93,57.04 522.31,56.51 522.69,56.12 523.07,55.92 523.45,55.9 523.82,55.9 524.2,55.9 524.58,55.9 524.96,55.9 525.34,55.9 525.71,55.9 526.09,55.9 526.47,55.9 526.85,55.9 527.23,55.9 527.61,55.9 527.98,55.9 528.36,55.9 528.74,55.9 529.12,55.9 529.5,55.9 529.87,55.9 530.25,55.9 530.63,55.9 531.01,55.9 531.39,55.9 531.77,55.9 532.14,55.9 532.52,55.9 532.9,55.9" stroke="#111" stroke-width="0.7" fill="none"/>
</g>
<path d="M419.72 101.3v-3.0M419.72 10.5v3.0M457.45 101.3v-3.0M457.45 10.5v3.0M495.17 101.3v-3.0M495.17 10.5v3.0M382 78.6h3.0M532.9 78.6h-3.0M382 55.9h3.0M532.9 55.9h-3.0M382 33.2h3.0M532.9 33.2h-3.0" stroke="#262626" stroke-width="0.8" fill="none"/>
<rect x="382.0" y="10.5" width="150.9" height="90.8" stroke="#262626" stroke-width="0.8" fill="none"/>
<text x="379.8" y="13.5" font-size="9.3" text-anchor="end" letter-spacing="0.1">0.2</text>
<text x="379.8" y="36.2" font-size="9.3" text-anchor="end" letter-spacing="0.1">0.1</text>
<text x="379.8" y="58.9" font-size="9.3" text-anchor="end" letter-spacing="0.1">0</text>
<text x="379.8" y="81.6" font-size="9.3" text-anchor="end" letter-spacing="0.1">-0.1</text>
<text x="379.8" y="104.3" font-size="9.3" text-anchor="end" letter-spacing="0.1">-0.2</text>
<text x="382" y="111.7" font-size="9.3" text-anchor="middle" letter-spacing="0.1">0.035</text>
<text x="419.72" y="111.7" font-size="9.3" text-anchor="middle" letter-spacing="0.1">0.04</text>
<text x="457.45" y="111.7" font-size="9.3" text-anchor="middle" letter-spacing="0.1">0.045</text>
<text x="495.17" y="111.7" font-size="9.3" text-anchor="middle" letter-spacing="0.1">0.05</text>
<text x="532.9" y="111.7" font-size="9.3" text-anchor="middle" letter-spacing="0.1">0.055</text>
<text transform="translate(361 55.7) rotate(-90)" font-size="10" text-anchor="middle" letter-spacing="0.15"><tspan font-style="italic">r&#770;</tspan><tspan font-size="7" font-style="italic" dy="1.8">a</tspan><tspan dy="-1.8" dx="0.8">(0.5, </tspan><tspan font-style="italic">&#977;</tspan>)</text>
<text x="457.5" y="123.9" font-size="10.5" text-anchor="middle"><tspan font-style="italic">t</tspan>,<tspan dx="3">s</tspan></text>
<text x="158.5" y="141.5" font-size="10.5" text-anchor="middle">(<tspan font-weight="bold">a</tspan>)</text>
<text x="447.5" y="141.5" font-size="10.5" text-anchor="middle">(<tspan font-weight="bold">b</tspan>)</text>
<path d="M69.13 152.4V243.2M102.75 152.4V243.2M136.38 152.4V243.2M170 152.4V243.2M203.62 152.4V243.2M237.25 152.4V243.2M270.88 152.4V243.2M35.5 228.07H304.5M35.5 212.93H304.5M35.5 197.8H304.5M35.5 182.67H304.5M35.5 167.53H304.5" stroke="#b4b4b4" stroke-width="0.6" stroke-dasharray="0.7 1.5" fill="none"/>
<text x="266.64" y="201.5" font-size="8.2" text-anchor="middle" letter-spacing="0.25">0.046</text>
<text x="293.05" y="201.5" font-size="8.2" text-anchor="middle" letter-spacing="0.25">0.048</text>
<g clip-path="url(#cl1)">
<polyline points="34.65,225.48 35.18,229.76 35.7,225.49 36.23,221.22 36.75,225.46 37.27,229.67 37.8,225.37 38.33,221.1 38.85,225.24 39.38,229.32 39.9,225.05 40.43,220.83 40.95,224.81 41.48,228.71 42,224.52 42.52,220.4 43.05,224.17 43.58,227.83 44.1,223.77 44.62,219.8 45.15,223.31 45.68,226.69 46.2,222.8 46.73,219.02 47.25,222.22 47.77,225.27 48.3,221.59 48.83,218.03 49.35,220.89 49.88,223.59 50.4,220.13 50.93,216.8 51.45,219.31 51.98,221.67 52.5,218.43 53.03,215.3 53.55,217.49 54.08,219.55 54.6,216.49 55.12,213.5 55.65,215.42 56.18,217.26 56.7,214.3 57.23,211.38 57.75,213.12 58.28,214.83 58.8,211.89 59.33,208.97 59.85,210.61 60.38,212.23 60.9,209.28 61.43,206.33 61.95,207.91 62.48,209.49 63,206.51 63.53,203.52 64.05,205.06 64.58,206.6 65.1,203.59 65.62,200.58 66.15,202.1 66.67,203.62 67.2,200.59 67.73,197.56 68.25,199.07 68.78,200.58 69.3,197.55 69.83,194.51 70.35,196.02 70.88,197.53 71.4,194.5 71.92,191.48 72.45,193 72.98,194.52 73.5,191.51 74.03,188.51 74.55,190.05 75.08,191.6 75.6,188.62 76.12,185.65 76.65,187.22 77.17,188.82 77.7,185.87 78.23,182.92 78.75,184.56 79.28,186.21 79.8,183.29 80.33,180.36 80.85,182.08 81.38,183.85 81.9,180.92 82.42,177.94 82.95,179.82 83.48,181.78 84,178.77 84.53,175.68 85.05,177.79 85.58,180.03 86.1,176.87 86.62,173.59 87.15,176.01 87.67,178.58 88.2,175.21 88.73,171.71 89.25,174.47 89.78,177.39 90.3,173.8 90.83,170.08 91.35,173.18 91.88,176.43 92.4,172.62 92.92,168.7 93.45,172.13 93.98,175.68 94.5,171.69 95.03,167.6 95.55,171.31 96.08,175.12 96.6,170.98 97.12,166.77 97.65,170.7 98.17,174.72 98.7,170.48 99.23,166.2 99.75,170.31 100.28,174.47 100.8,170.19 101.33,165.9 101.85,170.12 102.38,174.37 102.9,170.11 103.43,165.85 103.95,170.14 104.48,174.42 105,170.22 105.53,166.07 106.05,170.35 106.58,174.61 107.1,170.54 107.62,166.54 108.15,170.78 108.68,174.96 109.2,171.07 109.73,167.27 110.25,171.41 110.78,175.46 111.3,171.81 111.83,168.28 112.35,172.26 112.88,176.14 113.4,172.78 113.93,169.56 114.45,173.35 114.98,177.02 115.5,173.98 116.03,171.1 116.55,174.68 117.08,178.12 117.6,175.43 118.12,172.89 118.65,176.25 119.18,179.48 119.7,177.12 120.23,174.91 120.75,178.06 121.28,181.12 121.8,179.07 122.33,177.12 122.85,180.13 123.38,183.08 123.9,181.24 124.43,179.48 124.95,182.42 125.48,185.34 126,183.65 126.53,181.99 127.05,184.93 127.58,187.86 128.1,186.25 128.62,184.66 129.15,187.62 129.68,190.59 130.2,189.03 130.72,187.47 131.25,190.47 131.78,193.47 132.3,191.93 132.83,190.41 133.35,193.43 133.88,196.45 134.4,194.94 134.93,193.42 135.45,196.46 135.97,199.49 136.5,197.98 137.03,196.47 137.55,199.51 138.08,202.54 138.6,201.03 139.12,199.51 139.65,202.53 140.18,205.55 140.7,204.02 141.22,202.48 141.75,205.48 142.28,208.47 142.8,206.91 143.33,205.34 143.85,208.31 144.38,211.27 144.9,209.67 145.43,208.05 145.95,210.98 146.47,213.92 147,212.25 147.53,210.55 148.05,213.47 148.58,216.41 149.1,214.63 149.62,212.77 150.15,215.73 150.68,218.75 151.2,216.78 151.72,214.69 152.25,217.76 152.78,220.94 153.3,218.69 153.83,216.3 154.35,219.55 154.88,222.93 155.4,220.36 155.93,217.62 156.45,221.1 156.97,224.7 157.5,221.77 158.03,218.69 158.55,222.39 159.08,226.21 159.6,222.95 160.12,219.55 160.65,223.45 161.18,227.45 161.7,223.89 162.22,220.21 162.75,224.28 163.28,228.43 163.8,224.61 164.33,220.69 164.85,224.89 165.38,229.13 165.9,225.11 166.43,221.02 166.95,225.28 167.47,229.57 168,225.4 168.53,221.19 169.05,225.47 169.58,229.75 170.1,225.49 170.62,221.22 171.15,225.46 171.68,229.68 172.2,225.38 172.72,221.11 173.25,225.25 173.78,229.34 174.3,225.07 174.83,220.84 175.35,224.84 175.88,228.74 176.4,224.55 176.93,220.43 177.45,224.21 177.97,227.88 178.5,223.81 179.03,219.84 179.55,223.36 180.08,226.75 180.6,222.85 181.12,219.06 181.65,222.28 182.18,225.34 182.7,221.65 183.22,218.08 183.75,220.96 184.28,223.68 184.8,220.21 185.33,216.87 185.85,219.39 186.38,221.77 186.9,218.52 187.43,215.38 187.95,217.58 188.47,219.66 189,216.58 189.53,213.59 190.05,215.53 190.58,217.38 191.1,214.41 191.62,211.48 192.15,213.24 192.68,214.94 193.2,212.01 193.72,209.09 194.25,210.74 194.78,212.36 195.3,209.41 195.83,206.46 196.35,208.05 196.88,209.62 197.4,206.64 197.93,203.66 198.45,205.2 198.97,206.74 199.5,203.74 200.03,200.72 200.55,202.24 201.08,203.76 201.6,200.74 202.12,197.71 202.65,199.22 203.18,200.72 203.7,197.69 204.23,194.66 204.75,196.17 205.28,197.68 205.8,194.65 206.33,191.62 206.85,193.14 207.38,194.66 207.9,191.65 208.43,188.65 208.95,190.19 209.48,191.74 210,188.76 210.53,185.78 211.05,187.36 211.58,188.94 212.1,186 212.62,183.05 213.15,184.68 213.68,186.33 214.2,183.41 214.73,180.48 215.25,182.19 215.78,183.96 216.3,181.03 216.83,178.06 217.35,179.92 217.88,181.87 218.4,178.87 218.93,175.79 219.45,177.88 219.98,180.11 220.5,176.95 221.03,173.69 221.55,176.09 222.08,178.64 222.6,175.28 223.12,171.8 223.65,174.54 224.18,177.44 224.7,173.86 225.23,170.15 225.75,173.24 226.28,176.47 226.8,172.68 227.33,168.76 227.85,172.17 228.38,175.71 228.9,171.73 229.43,167.65 229.95,171.34 230.48,175.14 231,171.01 231.53,166.8 232.05,170.73 232.58,174.73 233.1,170.5 233.62,166.23 234.15,170.33 234.68,174.48 235.2,170.2 235.73,165.91 236.25,170.13 236.78,174.37 237.3,170.11 237.83,165.85 238.35,170.13 238.88,174.41 239.4,170.21 239.93,166.05 240.45,170.34 240.98,174.6 241.5,170.52 242.03,166.51 242.55,170.75 243.08,174.94 243.6,171.04 244.12,167.23 244.65,171.37 245.18,175.43 245.7,171.77 246.23,168.23 246.75,172.22 247.28,176.11 247.8,172.73 248.33,169.49 248.85,173.29 249.38,176.98 249.9,173.92 250.43,171.02 250.95,174.61 251.48,178.07 252,175.36 252.53,172.8 253.05,176.17 253.58,179.41 254.1,177.04 254.62,174.81 255.15,177.97 255.68,181.03 256.2,178.97 256.73,177.01 257.25,180.02 257.78,182.98 258.3,181.14 258.82,179.36 259.35,182.3 259.88,185.22 260.4,183.53 260.93,181.87 261.45,184.8 261.98,187.74 262.5,186.12 263.03,184.53 263.55,187.49 264.07,190.46 264.6,188.89 265.12,187.33 265.65,190.33 266.18,193.33 266.7,191.79 267.23,190.27 267.75,193.28 268.28,196.31 268.8,194.79 269.32,193.28 269.85,196.31 270.38,199.34 270.9,197.84 271.43,196.33 271.95,199.36 272.48,202.39 273,200.88 273.53,199.37 274.05,202.39 274.57,205.4 275.1,203.88 275.62,202.34 276.15,205.34 276.68,208.33 277.2,206.78 277.73,205.21 278.25,208.18 278.78,211.14 279.3,209.54 279.82,207.93 280.35,210.86 280.88,213.79 281.4,212.13 281.93,210.43 282.45,213.35 282.98,216.29 283.5,214.52 284.03,212.67 284.55,215.63 285.07,218.64 285.6,216.68 286.12,214.61 286.65,217.67 287.18,220.84 287.7,218.6 288.23,216.23 288.75,219.47 289.28,222.84 289.8,220.28 290.32,217.56 290.85,221.03 291.38,224.62 291.9,221.71 292.43,218.65 292.95,222.34 293.48,226.14 294,222.9 294.53,219.51 295.05,223.4 295.57,227.4 296.1,223.85 296.62,220.18 297.15,224.24 297.68,228.39 298.2,224.58 298.73,220.67 299.25,224.86 299.78,229.1 300.3,225.09 300.82,221.01 301.35,225.27 301.88,229.56 302.4,225.39 302.93,221.19 303.45,225.47 303.98,229.75 304.5,225.49 305.03,221.22 305.55,225.47" stroke="#0072BD" stroke-width="0.8" fill="none" stroke-linejoin="round"/>
<polyline points="35.5,225.49 37.19,225.43 38.88,225.23 40.58,224.9 42.27,224.44 43.96,223.83 45.65,223.07 47.34,222.17 49.03,221.11 50.73,219.88 52.42,218.5 54.11,216.96 55.8,215.26 57.49,213.42 59.19,211.43 60.88,209.31 62.57,207.09 64.26,204.77 65.95,202.38 67.64,199.95 69.34,197.49 71.03,195.04 72.72,192.61 74.41,190.24 76.1,187.95 77.8,185.75 79.49,183.66 81.18,181.71 82.87,179.9 84.56,178.24 86.25,176.74 87.95,175.4 89.64,174.21 91.33,173.19 93.02,172.32 94.71,171.61 96.41,171.03 98.1,170.6 99.79,170.31 101.48,170.14 103.17,170.11 104.86,170.21 106.56,170.44 108.25,170.8 109.94,171.3 111.63,171.95 113.32,172.74 115.02,173.68 116.71,174.78 118.4,176.05 120.09,177.47 121.78,179.05 123.47,180.78 125.17,182.67 126.86,184.69 128.55,186.83 130.24,189.08 131.93,191.42 133.63,193.82 135.32,196.26 137.01,198.72 138.7,201.17 140.39,203.58 142.08,205.94 143.78,208.21 145.47,210.39 147.16,212.44 148.85,214.36 150.54,216.13 152.24,217.75 153.93,219.21 155.62,220.52 157.31,221.66 159,222.64 160.69,223.47 162.39,224.15 164.08,224.69 165.77,225.08 167.46,225.35 169.15,225.48 170.85,225.48 172.54,225.35 174.23,225.08 175.92,224.69 177.61,224.15 179.31,223.47 181,222.64 182.69,221.66 184.38,220.52 186.07,219.21 187.76,217.75 189.46,216.13 191.15,214.36 192.84,212.44 194.53,210.39 196.22,208.21 197.92,205.94 199.61,203.58 201.3,201.17 202.99,198.72 204.68,196.26 206.37,193.82 208.07,191.42 209.76,189.08 211.45,186.83 213.14,184.69 214.83,182.67 216.53,180.78 218.22,179.05 219.91,177.47 221.6,176.05 223.29,174.78 224.98,173.68 226.68,172.74 228.37,171.95 230.06,171.3 231.75,170.8 233.44,170.44 235.14,170.21 236.83,170.11 238.52,170.14 240.21,170.31 241.9,170.6 243.59,171.03 245.29,171.61 246.98,172.32 248.67,173.19 250.36,174.21 252.05,175.4 253.75,176.74 255.44,178.24 257.13,179.9 258.82,181.71 260.51,183.66 262.2,185.75 263.9,187.95 265.59,190.24 267.28,192.61 268.97,195.04 270.66,197.49 272.36,199.95 274.05,202.38 275.74,204.77 277.43,207.09 279.12,209.31 280.81,211.43 282.51,213.42 284.2,215.26 285.89,216.96 287.58,218.5 289.27,219.88 290.97,221.11 292.66,222.17 294.35,223.07 296.04,223.83 297.73,224.44 299.42,224.9 301.12,225.23 302.81,225.43 304.5,225.49" stroke="#0072BD" stroke-width="0.9" fill="none"/>
<polyline points="35.5,221.32 37.19,221.27 38.88,221.13 40.58,220.9 42.27,220.57 43.96,220.14 45.65,219.6 47.34,218.93 49.03,218.15 50.73,217.23 52.42,216.17 54.11,214.96 55.8,213.6 57.49,212.09 59.19,210.42 60.88,208.59 62.57,206.62 64.26,204.51 65.95,202.27 67.64,199.92 69.34,197.49 71.03,195 72.72,192.47 74.41,189.93 76.1,187.42 77.8,184.96 79.49,182.57 81.18,180.3 82.87,178.15 84.56,176.15 86.25,174.32 87.95,172.66 89.64,171.18 91.33,169.89 93.02,168.79 94.71,167.87 96.41,167.13 98.1,166.57 99.79,166.19 101.48,165.98 103.17,165.93 104.86,166.06 106.56,166.36 108.25,166.83 109.94,167.48 111.63,168.31 113.32,169.32 115.02,170.52 116.71,171.9 118.4,173.47 120.09,175.22 121.78,177.13 123.47,179.21 125.17,181.42 126.86,183.75 128.55,186.18 130.24,188.67 131.93,191.2 133.63,193.74 135.32,196.25 137.01,198.72 138.7,201.11 140.39,203.4 142.08,205.58 143.78,207.62 145.47,209.52 147.16,211.27 148.85,212.86 150.54,214.3 152.24,215.58 153.93,216.72 155.62,217.71 157.31,218.56 159,219.28 160.69,219.88 162.39,220.37 164.08,220.75 165.77,221.03 167.46,221.21 169.15,221.31 170.85,221.31 172.54,221.21 174.23,221.03 175.92,220.75 177.61,220.37 179.31,219.88 181,219.28 182.69,218.56 184.38,217.71 186.07,216.72 187.76,215.58 189.46,214.3 191.15,212.86 192.84,211.27 194.53,209.52 196.22,207.62 197.92,205.58 199.61,203.4 201.3,201.11 202.99,198.72 204.68,196.25 206.37,193.74 208.07,191.2 209.76,188.67 211.45,186.18 213.14,183.75 214.83,181.42 216.53,179.21 218.22,177.13 219.91,175.22 221.6,173.47 223.29,171.9 224.98,170.52 226.68,169.32 228.37,168.31 230.06,167.48 231.75,166.83 233.44,166.36 235.14,166.06 236.83,165.93 238.52,165.98 240.21,166.19 241.9,166.57 243.59,167.13 245.29,167.87 246.98,168.79 248.67,169.89 250.36,171.18 252.05,172.66 253.75,174.32 255.44,176.15 257.13,178.15 258.82,180.3 260.51,182.57 262.2,184.96 263.9,187.42 265.59,189.93 267.28,192.47 268.97,195 270.66,197.49 272.36,199.92 274.05,202.27 275.74,204.51 277.43,206.62 279.12,208.59 280.81,210.42 282.51,212.09 284.2,213.6 285.89,214.96 287.58,216.17 289.27,217.23 290.97,218.15 292.66,218.93 294.35,219.6 296.04,220.14 297.73,220.57 299.42,220.9 301.12,221.13 302.81,221.27 304.5,221.32" stroke="#111" stroke-width="0.4" fill="none"/>
<polyline points="35.5,229.67 37.19,229.59 38.88,229.33 40.58,228.9 42.27,228.3 43.96,227.52 45.65,226.55 47.34,225.4 49.03,224.06 50.73,222.54 52.42,220.84 54.11,218.96 55.8,216.92 57.49,214.74 59.19,212.44 60.88,210.04 62.57,207.56 64.26,205.04 65.95,202.5 67.64,199.97 69.34,197.49 71.03,195.08 72.72,192.76 74.41,190.55 76.1,188.47 77.8,186.54 79.49,184.75 81.18,183.12 82.87,181.64 84.56,180.32 86.25,179.15 87.95,178.13 89.64,177.24 91.33,176.49 93.02,175.86 94.71,175.34 96.41,174.94 98.1,174.63 99.79,174.42 101.48,174.31 103.17,174.29 104.86,174.35 106.56,174.51 108.25,174.77 109.94,175.13 111.63,175.59 113.32,176.16 115.02,176.85 116.71,177.67 118.4,178.62 120.09,179.72 121.78,180.96 123.47,182.36 125.17,183.92 126.86,185.63 128.55,187.49 130.24,189.5 131.93,191.64 133.63,193.91 135.32,196.28 137.01,198.73 138.7,201.23 140.39,203.77 142.08,206.3 143.78,208.8 145.47,211.25 147.16,213.61 148.85,215.85 150.54,217.96 152.24,219.92 153.93,221.71 155.62,223.33 157.31,224.76 159,226 160.69,227.06 162.39,227.93 164.08,228.62 165.77,229.14 167.46,229.48 169.15,229.65 170.85,229.65 172.54,229.48 174.23,229.14 175.92,228.62 177.61,227.93 179.31,227.06 181,226 182.69,224.76 184.38,223.33 186.07,221.71 187.76,219.92 189.46,217.96 191.15,215.85 192.84,213.61 194.53,211.25 196.22,208.8 197.92,206.3 199.61,203.77 201.3,201.23 202.99,198.73 204.68,196.28 206.37,193.91 208.07,191.64 209.76,189.5 211.45,187.49 213.14,185.63 214.83,183.92 216.53,182.36 218.22,180.96 219.91,179.72 221.6,178.62 223.29,177.67 224.98,176.85 226.68,176.16 228.37,175.59 230.06,175.13 231.75,174.77 233.44,174.51 235.14,174.35 236.83,174.29 238.52,174.31 240.21,174.42 241.9,174.63 243.59,174.94 245.29,175.34 246.98,175.86 248.67,176.49 250.36,177.24 252.05,178.13 253.75,179.15 255.44,180.32 257.13,181.64 258.82,183.12 260.51,184.75 262.2,186.54 263.9,188.47 265.59,190.55 267.28,192.76 268.97,195.08 270.66,197.49 272.36,199.97 274.05,202.5 275.74,205.04 277.43,207.56 279.12,210.04 280.81,212.44 282.51,214.74 284.2,216.92 285.89,218.96 287.58,220.84 289.27,222.54 290.97,224.06 292.66,225.4 294.35,226.55 296.04,227.52 297.73,228.3 299.42,228.9 301.12,229.33 302.81,229.59 304.5,229.67" stroke="#111" stroke-width="0.4" fill="none"/>
<polyline points="34.65,186.3 35.18,186.93 35.7,187.11 36.23,187.27 36.75,187.95 37.27,188.98 37.8,188.82 38.33,188.47 38.85,189.71 39.38,191.06 39.9,190.63 40.43,190.12 40.95,191.56 41.48,193.07 42,192.52 42.52,191.91 43.05,193.48 43.58,195.11 44.1,194.47 44.62,193.79 45.15,195.46 45.68,197.17 46.2,196.46 46.73,195.7 47.25,197.46 47.77,199.27 48.3,198.46 48.83,197.6 49.35,199.47 49.88,201.38 50.4,200.46 50.93,199.49 51.45,201.45 51.98,203.46 52.5,202.43 53.03,201.35 53.55,203.4 54.08,205.48 54.6,204.34 55.12,203.15 55.65,205.27 56.18,207.44 56.7,206.18 57.23,204.86 57.75,207.07 58.28,209.32 58.8,207.92 59.33,206.46 59.85,208.75 60.38,211.1 60.9,209.55 61.43,207.93 61.95,210.32 62.48,212.78 63,211.06 63.53,209.23 64.05,211.76 64.58,214.39 65.1,212.42 65.62,210.32 66.15,213.04 66.67,215.9 67.2,213.63 67.73,211.21 68.25,214.18 68.78,217.28 69.3,214.69 69.83,211.95 70.35,215.15 70.88,218.47 71.4,215.58 71.92,212.57 72.45,215.96 72.98,219.43 73.5,216.3 74.03,213.07 74.55,216.59 75.08,220.19 75.6,216.85 76.12,213.41 76.65,217.06 77.17,220.77 77.7,217.23 78.23,213.61 78.75,217.35 79.28,221.13 79.8,217.43 80.33,213.69 80.85,217.47 81.38,221.25 81.9,217.46 82.42,213.68 82.95,217.41 83.48,221.11 84,217.32 84.53,213.56 85.05,217.19 85.58,220.75 86.1,217.01 86.62,213.32 87.15,216.78 87.67,220.17 88.2,216.52 88.73,212.94 89.25,216.21 89.78,219.38 90.3,215.86 90.83,212.42 91.35,215.46 91.88,218.4 92.4,215.03 92.92,211.75 93.45,214.55 93.98,217.22 94.5,214.03 95.03,210.99 95.55,213.47 96.08,215.76 96.6,212.88 97.12,210.2 97.65,212.24 98.17,214.02 98.7,211.57 99.23,209.39 99.75,210.86 100.28,211.97 100.8,210.11 101.33,208.78 101.85,209.34 102.38,209.19 102.9,208.53 103.43,207.87 103.95,207.69 104.48,207.85 105,206.82 105.53,205.59 106.05,205.93 106.58,206.37 107.1,205.02 107.62,203.59 108.15,204.08 108.68,204.64 109.2,203.13 109.73,201.56 110.25,202.16 110.78,202.8 111.3,201.18 111.83,199.52 112.35,200.19 112.88,200.9 113.4,199.19 113.93,197.43 114.45,198.19 114.98,198.99 115.5,197.18 116.03,195.32 116.55,196.18 117.08,197.1 117.6,195.18 118.12,193.22 118.65,194.19 119.18,195.22 119.7,193.22 120.23,191.17 120.75,192.25 121.28,193.38 121.8,191.3 122.33,189.18 122.85,190.37 123.38,191.62 123.9,189.46 124.43,187.25 124.95,188.58 125.48,189.96 126,187.72 126.53,185.42 127.05,186.88 127.58,188.42 128.1,186.08 128.62,183.69 129.15,185.31 129.68,187.03 130.2,184.58 130.72,182.05 131.25,183.88 131.78,185.83 132.3,183.21 132.83,180.48 133.35,182.58 133.88,184.84 134.4,182 134.93,179.02 135.45,181.45 135.97,184.02 136.5,180.94 137.03,177.73 137.55,180.47 138.08,183.35 138.6,180.04 139.12,176.65 139.65,179.66 140.18,182.77 140.7,179.32 141.22,175.79 141.75,179.02 142.28,182.34 142.8,178.76 143.33,175.11 143.85,178.55 144.38,182.08 144.9,178.38 145.43,174.63 145.95,178.25 146.47,181.94 147,178.17 147.53,174.38 148.05,178.13 148.58,181.9 149.1,178.13 149.62,174.39 150.15,178.18 150.68,181.96 151.2,178.27 151.72,174.63 152.25,178.41 152.78,182.14 153.3,178.58 153.83,175.1 154.35,178.81 154.88,182.45 155.4,179.07 155.93,175.78 156.45,179.38 156.97,182.89 157.5,179.73 158.03,176.66 158.55,180.12 159.08,183.48 159.6,180.55 160.12,177.73 160.65,181.03 161.18,184.21 161.7,181.54 162.22,179.04 162.75,182.1 163.28,184.99 163.8,182.7 164.33,180.63 164.85,183.33 165.38,185.79 165.9,184 166.43,182.51 166.95,184.71 167.47,186.58 168,185.45 168.53,184.85 169.05,186.23 169.58,186.92 170.1,187.03 170.62,187.23 171.15,187.87 171.68,188.87 172.2,188.73 172.72,188.39 173.25,189.62 173.78,190.96 174.3,190.54 174.83,190.04 175.35,191.47 175.88,192.97 176.4,192.42 176.93,191.82 177.45,193.39 177.97,195.01 178.5,194.37 179.03,193.7 179.55,195.36 180.08,197.07 180.6,196.36 181.12,195.61 181.65,197.36 182.18,199.17 182.7,198.37 183.22,197.51 183.75,199.37 184.28,201.28 184.8,200.37 185.33,199.4 185.85,201.36 186.38,203.36 186.9,202.34 187.43,201.26 187.95,203.3 188.47,205.39 189,204.25 189.53,203.07 190.05,205.19 190.58,207.35 191.1,206.1 191.62,204.78 192.15,206.98 192.68,209.23 193.2,207.84 193.72,206.39 194.25,208.68 194.78,211.02 195.3,209.48 195.83,207.86 196.35,210.25 196.88,212.7 197.4,210.99 197.93,209.17 198.45,211.69 198.97,214.31 199.5,212.36 200.03,210.27 200.55,212.99 201.08,215.83 201.6,213.58 202.12,211.17 202.65,214.13 203.18,217.22 203.7,214.64 204.23,211.91 204.75,215.11 205.28,218.42 205.8,215.54 206.33,212.54 206.85,215.92 207.38,219.38 207.9,216.27 208.43,213.05 208.95,216.57 209.48,220.16 210,216.83 210.53,213.4 211.05,217.04 211.58,220.75 212.1,217.21 212.62,213.6 213.15,217.34 213.68,221.12 214.2,217.43 214.73,213.69 215.25,217.47 215.78,221.25 216.3,217.47 216.83,213.68 217.35,217.42 217.88,221.12 218.4,217.33 218.93,213.57 219.45,217.2 219.98,220.77 220.5,217.02 221.03,213.33 221.55,216.81 222.08,220.2 222.6,216.54 223.12,212.96 223.65,216.24 224.18,219.42 224.7,215.89 225.23,212.45 225.75,215.5 226.28,218.45 226.8,215.07 227.33,211.78 227.85,214.6 228.38,217.28 228.9,214.08 229.43,211.03 229.95,213.53 230.48,215.84 231,212.93 231.53,210.23 232.05,212.3 232.58,214.11 233.1,211.63 233.62,209.43 234.15,210.93 234.68,212.08 235.2,210.19 235.73,208.79 236.25,209.41 236.78,209.34 237.3,208.61 237.83,207.99 238.35,207.77 238.88,207.9 239.4,206.91 239.93,205.69 240.45,206.02 240.98,206.45 241.5,205.11 242.03,203.68 242.55,204.17 243.08,204.73 243.6,203.22 244.12,201.66 244.65,202.25 245.18,202.89 245.7,201.27 246.23,199.61 246.75,200.28 247.28,200.99 247.8,199.29 248.33,197.53 248.85,198.28 249.38,199.08 249.9,197.28 250.43,195.42 250.95,196.28 251.48,197.19 252,195.28 252.53,193.32 253.05,194.29 253.58,195.31 254.1,193.31 254.62,191.27 255.15,192.34 255.68,193.47 256.2,191.39 256.73,189.27 257.25,190.46 257.78,191.7 258.3,189.55 258.82,187.34 259.35,188.66 259.88,190.04 260.4,187.8 260.93,185.51 261.45,186.96 261.98,188.49 262.5,186.16 263.03,183.77 263.55,185.39 264.07,187.09 264.6,184.65 265.12,182.12 265.65,183.94 266.18,185.88 266.7,183.27 267.23,180.55 267.75,182.64 268.28,184.88 268.8,182.05 269.32,179.09 269.85,181.5 270.38,184.06 270.9,180.98 271.43,177.78 271.95,180.51 272.48,183.38 273,180.08 273.53,176.69 274.05,179.69 274.57,182.8 275.1,179.35 275.62,175.83 276.15,179.05 276.68,182.36 277.2,178.78 277.73,175.14 278.25,178.57 278.78,182.09 279.3,178.39 279.82,174.65 280.35,178.26 280.88,181.94 281.4,178.18 281.93,174.39 282.45,178.13 282.98,181.9 283.5,178.13 284.03,174.38 284.55,178.18 285.07,181.96 285.6,178.26 286.12,174.62 286.65,178.39 287.18,182.13 287.7,178.57 288.23,175.07 288.75,178.78 289.28,182.43 289.8,179.04 290.32,175.75 290.85,179.35 291.38,182.87 291.9,179.69 292.43,176.62 292.95,180.08 293.48,183.45 294,180.51 294.53,177.68 295.05,180.98 295.57,184.17 296.1,181.49 296.62,178.97 297.15,182.04 297.68,184.95 298.2,182.64 298.73,180.55 299.25,183.27 299.78,185.75 300.3,183.94 300.82,182.42 301.35,184.64 301.88,186.54 302.4,185.38 302.93,184.72 303.45,186.15 303.98,186.91 304.5,186.95 305.03,187.18 305.55,187.79" stroke="#77AC30" stroke-width="0.8" fill="none" stroke-linejoin="round"/>
<polyline points="35.5,186.95 37.19,188.31 38.88,189.74 40.58,191.23 42.27,192.76 43.96,194.33 45.65,195.93 47.34,197.55 49.03,199.17 50.73,200.77 52.42,202.35 54.11,203.9 55.8,205.41 57.49,206.85 59.19,208.23 60.88,209.54 62.57,210.76 64.26,211.89 65.95,212.93 67.64,213.87 69.34,214.7 71.03,215.43 72.72,216.05 74.41,216.56 76.1,216.96 77.8,217.24 79.49,217.41 81.18,217.47 82.87,217.42 84.56,217.25 86.25,216.98 87.95,216.58 89.64,216.08 91.33,215.47 93.02,214.75 94.71,213.92 96.41,212.99 98.1,211.96 99.79,210.83 101.48,209.61 103.17,208.31 104.86,206.94 106.56,205.49 108.25,203.99 109.94,202.45 111.63,200.87 113.32,199.26 115.02,197.65 116.71,196.03 118.4,194.43 120.09,192.85 121.78,191.32 123.47,189.83 125.17,188.4 126.86,187.03 128.55,185.75 130.24,184.55 131.93,183.44 133.63,182.43 135.32,181.51 137.01,180.71 138.7,180.01 140.39,179.41 142.08,178.93 143.78,178.56 145.47,178.31 147.16,178.16 148.85,178.13 150.54,178.21 152.24,178.4 153.93,178.71 155.62,179.13 157.31,179.66 159,180.3 160.69,181.05 162.39,181.9 164.08,182.86 165.77,183.92 167.46,185.07 169.15,186.3 170.85,187.62 172.54,189.02 174.23,190.48 175.92,191.99 177.61,193.54 179.31,195.13 181,196.74 182.69,198.36 184.38,199.97 186.07,201.57 187.76,203.13 189.46,204.66 191.15,206.14 192.84,207.55 194.53,208.89 196.22,210.16 197.92,211.34 199.61,212.42 201.3,213.41 202.99,214.3 204.68,215.08 206.37,215.75 208.07,216.32 209.76,216.77 211.45,217.11 213.14,217.34 214.83,217.46 216.53,217.46 218.22,217.35 219.91,217.13 221.6,216.79 223.29,216.35 224.98,215.79 226.68,215.12 228.37,214.35 230.06,213.47 231.75,212.49 233.44,211.41 235.14,210.23 236.83,208.97 238.52,207.63 240.21,206.22 241.9,204.75 243.59,203.23 245.29,201.66 246.98,200.07 248.67,198.46 250.36,196.84 252.05,195.23 253.75,193.64 255.44,192.08 257.13,190.56 258.82,189.1 260.51,187.71 262.2,186.38 263.9,185.14 265.59,183.98 267.28,182.92 268.97,181.96 270.66,181.1 272.36,180.34 274.05,179.7 275.74,179.16 277.43,178.73 279.12,178.42 280.81,178.22 282.51,178.13 284.2,178.16 285.89,178.29 287.58,178.54 289.27,178.91 290.97,179.38 292.66,179.97 294.35,180.66 296.04,181.46 297.73,182.37 299.42,183.38 301.12,184.48 302.81,185.67 304.5,186.95" stroke="#77AC30" stroke-width="0.9" fill="none"/>
<polyline points="35.5,186.95 37.19,187.74 38.88,188.89 40.58,190.24 42.27,191.69 43.96,193.19 45.65,194.72 47.34,196.26 49.03,197.79 50.73,199.31 52.42,200.82 54.11,202.29 55.8,203.71 57.49,205.07 59.19,206.36 60.88,207.56 62.57,208.66 64.26,209.63 65.95,210.47 67.64,211.18 69.34,211.79 71.03,212.31 72.72,212.78 74.41,213.15 76.1,213.41 77.8,213.58 79.49,213.67 81.18,213.7 82.87,213.67 84.56,213.56 86.25,213.37 87.95,213.09 89.64,212.73 91.33,212.27 93.02,211.71 94.71,211.1 96.41,210.47 98.1,209.82 99.79,209.18 101.48,208.76 103.17,208.16 104.86,206.25 106.56,204.61 108.25,202.99 109.94,201.36 111.63,199.71 113.32,198.03 115.02,196.34 116.71,194.63 118.4,192.95 120.09,191.3 121.78,189.68 123.47,188.11 125.17,186.6 126.86,185.14 128.55,183.75 130.24,182.42 131.93,181.13 133.63,179.91 135.32,178.77 137.01,177.74 138.7,176.84 140.39,176.11 142.08,175.49 143.78,174.99 145.47,174.62 147.16,174.41 148.85,174.36 150.54,174.47 152.24,174.73 153.93,175.13 155.62,175.67 157.31,176.34 159,177.14 160.69,178.06 162.39,179.15 164.08,180.43 165.77,181.9 167.46,183.56 169.15,185.73 170.85,187.32 172.54,188.26 174.23,189.55 175.92,190.96 177.61,192.43 179.31,193.95 181,195.49 182.69,197.03 184.38,198.55 186.07,200.07 187.76,201.56 189.46,203.01 191.15,204.4 192.84,205.73 194.53,206.97 196.22,208.13 197.92,209.17 199.61,210.07 201.3,210.84 202.99,211.49 204.68,212.06 206.37,212.55 208.07,212.98 209.76,213.29 211.45,213.51 213.14,213.63 214.83,213.69 216.53,213.69 218.22,213.62 219.91,213.47 221.6,213.24 223.29,212.92 224.98,212.51 226.68,212 228.37,211.41 230.06,210.79 231.75,210.15 233.44,209.5 235.14,208.9 236.83,208.68 238.52,207.19 240.21,205.41 241.9,203.8 243.59,202.17 245.29,200.53 246.98,198.87 248.67,197.19 250.36,195.48 252.05,193.79 253.75,192.12 255.44,190.49 257.13,188.89 258.82,187.35 260.51,185.86 262.2,184.43 263.9,183.07 265.59,181.77 267.28,180.51 268.97,179.32 270.66,178.24 272.36,177.27 274.05,176.46 275.74,175.78 277.43,175.22 279.12,174.79 280.81,174.49 282.51,174.36 284.2,174.39 285.89,174.58 287.58,174.91 289.27,175.38 290.97,175.99 292.66,176.73 294.35,177.58 296.04,178.58 297.73,179.77 299.42,181.14 301.12,182.7 302.81,184.57 304.5,186.95" stroke="#111" stroke-width="0.4" fill="none"/>
<polyline points="35.5,186.95 37.19,188.89 38.88,190.59 40.58,192.21 42.27,193.84 43.96,195.48 45.65,197.15 47.34,198.84 49.03,200.54 50.73,202.23 52.42,203.89 54.11,205.52 55.8,207.1 57.49,208.63 59.19,210.1 60.88,211.51 62.57,212.85 64.26,214.15 65.95,215.39 67.64,216.56 69.34,217.62 71.03,218.55 72.72,219.32 74.41,219.97 76.1,220.5 77.8,220.9 79.49,221.16 81.18,221.25 82.87,221.17 84.56,220.95 86.25,220.58 87.95,220.08 89.64,219.44 91.33,218.67 93.02,217.78 94.71,216.74 96.41,215.51 98.1,214.09 99.79,212.48 101.48,210.47 103.17,208.46 104.86,207.62 106.56,206.38 108.25,205 109.94,203.54 111.63,202.03 113.32,200.49 115.02,198.96 116.71,197.43 118.4,195.91 120.09,194.41 121.78,192.95 123.47,191.54 125.17,190.2 126.86,188.93 128.55,187.75 130.24,186.68 131.93,185.74 133.63,184.95 135.32,184.26 137.01,183.68 138.7,183.17 140.39,182.72 142.08,182.38 143.78,182.14 145.47,181.99 147.16,181.92 148.85,181.9 150.54,181.95 152.24,182.08 153.93,182.29 155.62,182.59 157.31,182.98 159,183.46 160.69,184.04 162.39,184.65 164.08,185.29 165.77,185.94 167.46,186.57 169.15,186.88 170.85,187.92 172.54,189.78 174.23,191.4 175.92,193.02 177.61,194.66 179.31,196.31 181,197.99 182.69,199.69 184.38,201.39 186.07,203.06 187.76,204.71 189.46,206.31 191.15,207.87 192.84,209.37 194.53,210.82 196.22,212.19 197.92,213.51 199.61,214.78 201.3,215.99 202.99,217.1 204.68,218.1 206.37,218.95 208.07,219.66 209.76,220.25 211.45,220.72 213.14,221.05 214.83,221.22 216.53,221.23 218.22,221.08 219.91,220.79 221.6,220.35 223.29,219.77 224.98,219.07 226.68,218.24 228.37,217.28 230.06,216.15 231.75,214.82 233.44,213.31 235.14,211.56 236.83,209.26 238.52,208.08 240.21,207.03 241.9,205.7 243.59,204.28 245.29,202.79 246.98,201.26 248.67,199.72 250.36,198.19 252.05,196.67 253.75,195.15 255.44,193.67 257.13,192.24 258.82,190.86 260.51,189.55 262.2,188.33 263.9,187.2 265.59,186.19 267.28,185.33 268.97,184.59 270.66,183.96 272.36,183.41 274.05,182.93 275.74,182.53 277.43,182.25 279.12,182.05 280.81,181.94 282.51,181.9 284.2,181.92 285.89,182.01 287.58,182.18 289.27,182.43 290.97,182.77 292.66,183.21 294.35,183.74 296.04,184.34 297.73,184.97 299.42,185.61 301.12,186.26 302.81,186.78 304.5,186.95" stroke="#111" stroke-width="0.4" fill="none"/>
<polyline points="34.65,188.22 35.18,189.97 35.7,187.64 36.23,184.95 36.75,187.11 37.27,189.61 37.8,186.63 38.33,183.36 38.85,186.18 39.38,189.26 39.9,185.78 40.43,182.11 40.95,185.42 41.48,188.91 42,185.1 42.52,181.17 43.05,184.82 43.58,188.6 44.1,184.58 44.62,180.44 45.15,184.36 45.68,188.41 46.2,184.18 46.73,179.85 47.25,184.02 47.77,188.29 48.3,183.89 48.83,179.42 49.35,183.78 49.88,188.23 50.4,183.7 50.93,179.12 51.45,183.63 51.98,188.18 52.5,183.58 53.03,178.95 53.55,183.54 54.08,188.14 54.6,183.52 55.12,178.94 55.65,183.51 56.18,188.05 56.7,183.52 57.23,179.07 57.75,183.54 58.28,187.93 58.8,183.58 59.33,179.32 59.85,183.63 60.38,187.83 60.9,183.69 61.43,179.67 61.95,183.78 62.48,187.8 63,183.89 63.53,180.1 64.05,184.02 64.58,187.8 65.1,184.17 65.62,180.71 66.15,184.35 66.67,187.83 67.2,184.56 67.73,181.48 68.25,184.81 68.78,187.98 69.3,185.09 69.83,182.37 70.35,185.41 70.88,188.3 71.4,185.76 71.92,183.36 72.45,186.16 72.98,188.88 73.5,186.6 74.03,184.43 74.55,187.09 75.08,189.68 75.6,187.62 76.12,185.64 76.65,188.19 77.17,190.67 77.7,188.8 78.23,187.01 78.75,189.46 79.28,191.86 79.8,190.16 80.33,188.53 80.85,190.9 81.38,193.21 81.9,191.67 82.42,190.19 82.95,192.47 83.48,194.71 84,193.31 84.53,191.98 85.05,194.17 85.58,196.3 86.1,195.05 86.62,193.86 87.15,195.94 87.67,197.96 88.2,196.85 88.73,195.8 89.25,197.76 89.78,199.67 90.3,198.67 90.83,197.72 91.35,199.57 91.88,201.38 92.4,200.47 92.92,199.62 93.45,201.35 93.98,203.01 94.5,202.21 95.03,201.5 95.55,203.05 96.08,204.48 96.6,203.86 97.12,203.37 97.65,204.63 98.17,205.53 98.7,205.37 99.23,205.66 99.75,206.07 100.28,207.15 100.8,206.74 101.33,205.54 101.85,207.36 102.38,209.67 102.9,207.93 103.43,205.8 103.95,208.46 104.48,211.45 105,208.95 105.53,206.16 106.05,209.4 106.58,212.87 107.1,209.8 107.62,206.51 108.15,210.16 108.68,213.97 109.2,210.48 109.73,206.85 110.25,210.77 110.78,214.8 111.3,211.01 111.83,207.1 112.35,211.23 112.88,215.46 113.4,211.41 113.93,207.26 114.45,211.57 114.98,215.97 115.5,211.7 116.03,207.34 116.55,211.81 117.08,216.34 117.6,211.9 118.12,207.39 118.65,211.97 119.18,216.58 119.7,212.02 120.23,207.44 120.75,212.06 121.28,216.68 121.8,212.08 122.33,207.5 122.85,212.09 123.38,216.62 123.9,212.08 124.43,207.61 124.95,212.06 125.48,216.42 126,212.03 126.53,207.72 127.05,211.98 127.58,216.12 128.1,211.91 128.62,207.8 129.15,211.82 129.68,215.74 130.2,211.72 130.72,207.8 131.25,211.59 131.78,215.23 132.3,211.44 132.83,207.79 133.35,211.26 133.88,214.54 134.4,211.05 134.93,207.72 135.45,210.8 135.97,213.71 136.5,210.52 137.03,207.49 137.55,210.21 138.08,212.77 138.6,209.85 139.12,207.06 139.65,209.46 140.18,211.75 140.7,209.02 141.22,206.37 141.75,208.54 142.28,210.61 142.8,208.01 143.33,205.47 143.85,207.44 144.38,209.33 144.9,206.83 145.43,204.38 145.95,206.17 146.47,207.89 147,205.47 147.53,203.11 148.05,204.74 148.58,206.3 149.1,203.97 149.62,201.69 150.15,203.16 150.68,204.57 151.2,202.33 151.72,200.14 152.25,201.47 152.78,202.74 153.3,200.6 153.83,198.52 154.35,199.7 154.88,200.82 155.4,198.8 155.93,196.84 156.45,197.89 156.97,198.89 157.5,196.98 158.03,195.12 158.55,196.07 159.08,196.97 159.6,195.17 160.12,193.43 160.65,194.29 161.18,195.09 161.7,193.43 162.22,191.87 162.75,192.59 163.28,193.22 163.8,191.78 164.33,190.5 164.85,191 165.38,191.17 165.9,190.26 166.43,189.82 166.95,189.56 167.47,189.92 168,188.9 168.53,187.1 169.05,188.27 169.58,189.98 170.1,187.7 170.62,185.04 171.15,187.16 171.68,189.63 172.2,186.67 172.72,183.43 173.25,186.22 173.78,189.27 174.3,185.82 174.83,182.17 175.35,185.46 175.88,188.93 176.4,185.13 176.93,181.21 177.45,184.85 177.97,188.62 178.5,184.6 179.03,180.47 179.55,184.38 180.08,188.41 180.6,184.19 181.12,179.88 181.65,184.04 182.18,188.29 182.7,183.9 183.22,179.43 183.75,183.79 184.28,188.23 184.8,183.7 185.33,179.13 185.85,183.64 186.38,188.19 186.9,183.58 187.43,178.96 187.95,183.55 188.47,188.14 189,183.52 189.53,178.93 190.05,183.51 190.58,188.05 191.1,183.52 191.62,179.06 192.15,183.54 192.68,187.94 193.2,183.57 193.72,179.31 194.25,183.62 194.78,187.83 195.3,183.69 195.83,179.65 196.35,183.77 196.88,187.8 197.4,183.88 197.93,180.07 198.45,184 198.97,187.8 199.5,184.15 200.03,180.68 200.55,184.33 201.08,187.83 201.6,184.54 202.12,181.44 202.65,184.78 203.18,187.97 203.7,185.06 204.23,182.33 204.75,185.38 205.28,188.28 205.8,185.73 206.33,183.31 206.85,186.12 207.38,188.84 207.9,186.56 208.43,184.38 208.95,187.04 209.48,189.63 210,187.56 210.53,185.58 211.05,188.13 211.58,190.62 212.1,188.74 212.62,186.94 213.15,189.4 213.68,191.8 214.2,190.09 214.73,188.45 215.25,190.82 215.78,193.15 216.3,191.59 216.83,190.11 217.35,192.4 217.88,194.63 218.4,193.23 218.93,191.89 219.45,194.08 219.98,196.22 220.5,194.96 221.03,193.77 221.55,195.85 222.08,197.88 222.6,196.76 223.12,195.7 223.65,197.67 224.18,199.58 224.7,198.58 225.23,197.63 225.75,199.49 226.28,201.29 226.8,200.38 227.33,199.53 227.85,201.27 228.38,202.93 228.9,202.13 229.43,201.41 229.95,202.97 230.48,204.42 231,203.78 231.53,203.28 232.05,204.56 232.58,205.5 233.1,205.3 233.62,205.55 234.15,206.01 234.68,207 235.2,206.67 235.73,205.54 236.25,207.3 236.78,209.58 237.3,207.88 237.83,205.78 238.35,208.41 238.88,211.37 239.4,208.91 239.93,206.14 240.45,209.36 240.98,212.81 241.5,209.76 242.03,206.49 242.55,210.13 243.08,213.93 243.6,210.45 244.12,206.83 244.65,210.74 245.18,214.76 245.7,210.99 246.23,207.09 246.75,211.21 247.28,215.43 247.8,211.4 248.33,207.25 248.85,211.56 249.38,215.95 249.9,211.69 250.43,207.34 250.95,211.8 251.48,216.33 252,211.89 252.53,207.39 253.05,211.96 253.58,216.57 254.1,212.02 254.62,207.43 255.15,212.05 255.68,216.67 256.2,212.08 256.73,207.5 257.25,212.09 257.78,216.62 258.3,212.08 258.82,207.6 259.35,212.06 259.88,216.43 260.4,212.03 260.93,207.72 261.45,211.98 261.98,216.14 262.5,211.92 263.03,207.79 263.55,211.83 264.07,215.76 264.6,211.73 265.12,207.8 265.65,211.6 266.18,215.26 266.7,211.45 267.23,207.8 267.75,211.28 268.28,214.58 268.8,211.07 269.32,207.72 269.85,210.83 270.38,213.75 270.9,210.55 271.43,207.51 271.95,210.24 272.48,212.81 273,209.89 273.53,207.08 274.05,209.5 274.57,211.8 275.1,209.06 275.62,206.41 276.15,208.58 276.68,210.67 277.2,208.06 277.73,205.52 278.25,207.5 278.78,209.39 279.3,206.89 279.82,204.44 280.35,206.24 280.88,207.96 281.4,205.54 281.93,203.18 282.45,204.81 282.98,206.38 283.5,204.04 284.03,201.76 284.55,203.24 285.07,204.66 285.6,202.41 286.12,200.22 286.65,201.56 287.18,202.83 287.7,200.68 288.23,198.59 288.75,199.79 289.28,200.91 289.8,198.88 290.32,196.92 290.85,197.97 291.38,198.98 291.9,197.06 292.43,195.2 292.95,196.16 293.48,197.06 294,195.26 294.53,193.51 295.05,194.37 295.57,195.17 296.1,193.51 296.62,191.94 297.15,192.67 297.68,193.31 298.2,191.86 298.73,190.56 299.25,191.08 299.78,191.28 300.3,190.33 300.82,189.84 301.35,189.62 301.88,189.9 302.4,188.96 302.93,187.22 303.45,188.33 303.98,190 304.5,187.75 305.03,185.12 305.55,187.21" stroke="#D95319" stroke-width="0.8" fill="none" stroke-linejoin="round"/>
<polyline points="35.5,187.75 37.19,186.9 38.88,186.17 40.58,185.55 42.27,185.03 43.96,184.61 45.65,184.27 47.34,184.01 49.03,183.81 50.73,183.67 52.42,183.58 54.11,183.53 55.8,183.51 57.49,183.53 59.19,183.59 60.88,183.69 62.57,183.84 64.26,184.04 65.95,184.32 67.64,184.66 69.34,185.1 71.03,185.63 72.72,186.27 74.41,187.02 76.1,187.89 77.8,188.86 79.49,189.95 81.18,191.14 82.87,192.41 84.56,193.77 86.25,195.18 87.95,196.63 89.64,198.09 91.33,199.56 93.02,200.99 94.71,202.38 96.41,203.71 98.1,204.95 99.79,206.1 101.48,207.14 103.17,208.07 104.86,208.89 106.56,209.6 108.25,210.19 109.94,210.69 111.63,211.09 113.32,211.4 115.02,211.64 116.71,211.83 118.4,211.95 120.09,212.04 121.78,212.08 123.47,212.08 125.17,212.05 126.86,211.99 128.55,211.88 130.24,211.71 131.93,211.49 133.63,211.21 135.32,210.84 137.01,210.38 138.7,209.82 140.39,209.15 142.08,208.37 143.78,207.48 145.47,206.48 147.16,205.36 148.85,204.15 150.54,202.86 152.24,201.49 153.93,200.06 155.62,198.61 157.31,197.14 159,195.68 160.69,194.25 162.39,192.88 164.08,191.57 165.77,190.35 167.46,189.23 169.15,188.21 170.85,187.31 172.54,186.52 174.23,185.84 175.92,185.28 177.61,184.81 179.31,184.43 181,184.13 182.69,183.9 184.38,183.74 186.07,183.62 187.76,183.55 189.46,183.52 191.15,183.52 192.84,183.56 194.53,183.64 196.22,183.76 197.92,183.93 199.61,184.17 201.3,184.48 202.99,184.87 204.68,185.35 206.37,185.94 208.07,186.63 209.76,187.44 211.45,188.36 213.14,189.39 214.83,190.53 216.53,191.76 218.22,193.08 219.91,194.47 221.6,195.9 223.29,197.36 224.98,198.83 226.68,200.28 228.37,201.7 230.06,203.06 231.75,204.34 233.44,205.54 235.14,206.63 236.83,207.62 238.52,208.5 240.21,209.26 241.9,209.91 243.59,210.45 245.29,210.9 246.98,211.25 248.67,211.53 250.36,211.74 252.05,211.9 253.75,212 255.44,212.06 257.13,212.09 258.82,212.07 260.51,212.03 262.2,211.94 263.9,211.8 265.59,211.61 267.28,211.36 268.97,211.03 270.66,210.62 272.36,210.11 274.05,209.5 275.74,208.78 277.43,207.94 279.12,206.99 280.81,205.93 282.51,204.77 284.2,203.51 285.89,202.18 287.58,200.78 289.27,199.34 290.97,197.87 292.66,196.41 294.35,194.96 296.04,193.56 297.73,192.22 299.42,190.95 301.12,189.78 302.81,188.71 304.5,187.75" stroke="#D95319" stroke-width="0.9" fill="none"/>
<polyline points="35.5,185.58 37.19,184.18 38.88,183 40.58,182.04 42.27,181.27 43.96,180.65 45.65,180.13 47.34,179.71 49.03,179.38 50.73,179.14 52.42,178.99 54.11,178.92 55.8,178.96 57.49,179.1 59.19,179.3 60.88,179.57 62.57,179.88 64.26,180.29 65.95,180.82 67.64,181.45 69.34,182.16 71.03,182.93 72.72,183.75 74.41,184.64 76.1,185.63 77.8,186.72 79.49,187.9 81.18,189.19 82.87,190.56 84.56,192.01 86.25,193.52 87.95,195.08 89.64,196.63 91.33,198.18 93.02,199.71 94.71,201.22 96.41,202.72 98.1,204.4 99.79,205.76 101.48,205.53 103.17,205.76 104.86,206.04 106.56,206.33 108.25,206.61 109.94,206.88 111.63,207.08 113.32,207.22 115.02,207.31 116.71,207.36 118.4,207.4 120.09,207.43 121.78,207.48 123.47,207.56 125.17,207.65 126.86,207.74 128.55,207.8 130.24,207.8 131.93,207.8 133.63,207.78 135.32,207.69 137.01,207.5 138.7,207.17 140.39,206.67 142.08,206.03 143.78,205.25 145.47,204.36 147.16,203.35 148.85,202.23 150.54,201.03 152.24,199.75 153.93,198.44 155.62,197.08 157.31,195.7 159,194.32 160.69,192.99 162.39,191.75 164.08,190.64 165.77,189.98 167.46,188.54 169.15,186.38 170.85,184.85 172.54,183.56 174.23,182.49 175.92,181.63 177.61,180.95 179.31,180.38 181,179.91 182.69,179.53 184.38,179.25 186.07,179.05 187.76,178.94 189.46,178.93 191.15,179.02 192.84,179.19 194.53,179.43 196.22,179.72 197.92,180.07 199.61,180.54 201.3,181.12 202.99,181.79 204.68,182.54 206.37,183.34 208.07,184.18 209.76,185.12 211.45,186.16 213.14,187.3 214.83,188.53 216.53,189.86 218.22,191.28 219.91,192.76 221.6,194.3 223.29,195.86 224.98,197.41 226.68,198.94 228.37,200.46 230.06,201.97 231.75,203.5 233.44,205.35 235.14,205.61 236.83,205.62 238.52,205.9 240.21,206.19 241.9,206.47 243.59,206.75 245.29,206.99 246.98,207.16 248.67,207.27 250.36,207.34 252.05,207.38 253.75,207.42 255.44,207.45 257.13,207.52 258.82,207.6 260.51,207.7 262.2,207.77 263.9,207.81 265.59,207.8 267.28,207.8 268.97,207.74 270.66,207.61 272.36,207.35 274.05,206.94 275.74,206.36 277.43,205.66 279.12,204.82 280.81,203.87 282.51,202.8 284.2,201.64 285.89,200.4 287.58,199.1 289.27,197.76 290.97,196.39 292.66,195.01 294.35,193.65 296.04,192.36 297.73,191.18 299.42,190.24 301.12,189.77 302.81,187.37 304.5,185.58" stroke="#111" stroke-width="0.4" fill="none"/>
<polyline points="35.5,189.91 37.19,189.63 38.88,189.34 40.58,189.06 42.27,188.78 43.96,188.56 45.65,188.41 47.34,188.31 49.03,188.25 50.73,188.21 52.42,188.18 54.11,188.13 55.8,188.06 57.49,187.97 59.19,187.88 60.88,187.81 62.57,187.8 64.26,187.8 65.95,187.81 67.64,187.88 69.34,188.04 71.03,188.34 72.72,188.79 74.41,189.4 76.1,190.14 77.8,191.01 79.49,191.99 81.18,193.08 82.87,194.27 84.56,195.52 86.25,196.83 87.95,198.17 89.64,199.55 91.33,200.94 93.02,202.28 94.71,203.55 96.41,204.7 98.1,205.5 99.79,206.44 101.48,208.75 103.17,210.39 104.86,211.74 106.56,212.86 108.25,213.77 109.94,214.49 111.63,215.09 113.32,215.58 115.02,215.98 116.71,216.29 118.4,216.51 120.09,216.64 121.78,216.68 123.47,216.61 125.17,216.46 126.86,216.24 128.55,215.96 130.24,215.63 131.93,215.19 133.63,214.63 135.32,213.98 137.01,213.26 138.7,212.47 140.39,211.64 142.08,210.72 143.78,209.71 145.47,208.6 147.16,207.38 148.85,206.08 150.54,204.68 152.24,203.22 153.93,201.69 155.62,200.13 157.31,198.58 159,197.04 160.69,195.51 162.39,194.01 164.08,192.51 165.77,190.73 167.46,189.92 169.15,190.05 170.85,189.77 172.54,189.48 174.23,189.2 175.92,188.92 177.61,188.66 179.31,188.48 181,188.35 182.69,188.28 184.38,188.23 186.07,188.19 187.76,188.16 189.46,188.1 191.15,188.02 192.84,187.93 194.53,187.84 196.22,187.8 197.92,187.8 199.61,187.8 201.3,187.84 202.99,187.95 204.68,188.17 206.37,188.54 208.07,189.08 209.76,189.76 211.45,190.56 213.14,191.48 214.83,192.52 216.53,193.66 218.22,194.89 219.91,196.17 221.6,197.5 223.29,198.86 224.98,200.25 226.68,201.62 228.37,202.93 230.06,204.14 231.75,205.18 233.44,205.73 235.14,207.66 236.83,209.63 238.52,211.09 240.21,212.33 241.9,213.34 243.59,214.15 245.29,214.8 246.98,215.35 248.67,215.79 250.36,216.15 252.05,216.41 253.75,216.58 255.44,216.67 257.13,216.66 258.82,216.54 260.51,216.35 262.2,216.1 263.9,215.8 265.59,215.42 267.28,214.92 268.97,214.32 270.66,213.63 272.36,212.87 274.05,212.06 275.74,211.19 277.43,210.23 279.12,209.16 280.81,208 282.51,206.74 284.2,205.39 285.89,203.96 287.58,202.46 289.27,200.91 290.97,199.35 292.66,197.81 294.35,196.28 296.04,194.76 297.73,193.26 299.42,191.66 301.12,189.79 302.81,190.04 304.5,189.91" stroke="#111" stroke-width="0.4" fill="none"/>
</g>
<rect x="130.5" y="171.5" width="29.6" height="18.4" stroke="#444" stroke-width="0.7" fill="none"/>
<line x1="160.1" y1="179.1" x2="240.9" y2="174.1" stroke="#444" stroke-width="0.7"/>
<path d="M69.13 243.2v-3.0M69.13 152.4v3.0M102.75 243.2v-3.0M102.75 152.4v3.0M136.38 243.2v-3.0M136.38 152.4v3.0M170 243.2v-3.0M170 152.4v3.0M203.62 243.2v-3.0M203.62 152.4v3.0M237.25 243.2v-3.0M237.25 152.4v3.0M270.88 243.2v-3.0M270.88 152.4v3.0M35.5 228.07h3.0M304.5 228.07h-3.0M35.5 212.93h3.0M304.5 212.93h-3.0M35.5 197.8h3.0M304.5 197.8h-3.0M35.5 182.67h3.0M304.5 182.67h-3.0M35.5 167.53h3.0M304.5 167.53h-3.0" stroke="#262626" stroke-width="0.8" fill="none"/>
<rect x="35.5" y="152.4" width="269.0" height="90.8" stroke="#262626" stroke-width="0.8" fill="none"/>
<text x="33.3" y="155.4" font-size="9.3" text-anchor="end" letter-spacing="0.1">1.5</text>
<text x="33.3" y="170.53" font-size="9.3" text-anchor="end" letter-spacing="0.1">1</text>
<text x="33.3" y="185.67" font-size="9.3" text-anchor="end" letter-spacing="0.1">0.5</text>
<text x="33.3" y="200.8" font-size="9.3" text-anchor="end" letter-spacing="0.1">0</text>
<text x="33.3" y="215.93" font-size="9.3" text-anchor="end" letter-spacing="0.1">-0.5</text>
<text x="33.3" y="231.07" font-size="9.3" text-anchor="end" letter-spacing="0.1">-1</text>
<text x="33.3" y="246.2" font-size="9.3" text-anchor="end" letter-spacing="0.1">-1.5</text>
<text x="35.5" y="253.6" font-size="9.3" text-anchor="middle" letter-spacing="0.1">0.03</text>
<text x="69.13" y="253.6" font-size="9.3" text-anchor="middle" letter-spacing="0.1">0.035</text>
<text x="102.75" y="253.6" font-size="9.3" text-anchor="middle" letter-spacing="0.1">0.04</text>
<text x="136.38" y="253.6" font-size="9.3" text-anchor="middle" letter-spacing="0.1">0.045</text>
<text x="170" y="253.6" font-size="9.3" text-anchor="middle" letter-spacing="0.1">0.05</text>
<text x="203.62" y="253.6" font-size="9.3" text-anchor="middle" letter-spacing="0.1">0.055</text>
<text x="237.25" y="253.6" font-size="9.3" text-anchor="middle" letter-spacing="0.1">0.06</text>
<text x="270.88" y="253.6" font-size="9.3" text-anchor="middle" letter-spacing="0.1">0.065</text>
<text x="304.5" y="253.6" font-size="9.3" text-anchor="middle" letter-spacing="0.1">0.07</text>
<rect x="240.9" y="156.5" width="58.5" height="36.4" fill="#fff"/>
<path d="M266.44 156.5V192.9M292.65 156.5V192.9M240.9 178.57H299.4" stroke="#b4b4b4" stroke-width="0.6" stroke-dasharray="0.7 1.5" fill="none"/>
<g clip-path="url(#ci1)">
<polyline points="236.6,189.43 237.33,185.85 238.06,182.29 238.8,187.8 239.53,193.31 240.26,189.78 240.99,186.27 241.73,191.81 242.46,197.36 243.19,193.87 243.92,190.38 244.66,195.95 245.39,201.53 246.12,198.07 246.85,194.61 247.59,200.2 248.32,205.8 249.05,202.35 249.78,198.91 250.52,204.52 251.25,210.13 251.98,206.69 252.71,203.26 253.45,208.87 254.18,214.48 254.91,211.05 255.64,207.61 256.38,213.22 257.11,218.82 257.84,215.38 258.57,211.94 259.31,217.53 260.04,223.12 260.77,219.66 261.5,216.2 262.24,221.77 262.97,227.34 263.7,223.86 264.43,220.36 265.17,225.91 265.9,231.45 266.63,227.93 267.36,224.4 268.1,229.91 268.83,235.42 269.56,231.85 270.29,228.27 271.03,233.75 271.76,239.24 272.49,235.6 273.22,231.93 273.96,237.4 274.69,242.89 275.42,239.15 276.15,235.35 276.88,240.85 277.62,246.39 278.35,242.48 279.08,238.48 279.81,244.06 280.55,249.74 281.28,245.58 282.01,241.29 282.75,247.04 283.48,252.93 284.21,248.44 284.94,243.77 285.68,249.78 286.41,255.94 287.14,251.05 287.87,245.95 288.61,252.26 289.34,258.75 290.07,253.4 290.8,247.84 291.54,254.49 292.27,261.32 293,255.51 293.73,249.47 294.47,256.46 295.2,263.64 295.93,257.36 296.66,250.86 297.4,258.19 298.13,265.69 298.86,258.97 299.59,252.04 300.32,259.68 301.06,267.47 301.79,260.33 302.52,253.02 303.25,260.93" stroke="#0072BD" stroke-width="1.1" fill="none" stroke-linejoin="round"/>
<polyline points="237.62,186.24 238.03,186.77 238.43,187.31 238.84,187.85 239.24,188.39 239.64,188.94 240.05,189.49 240.45,190.04 240.85,190.6 241.26,191.16 241.66,191.72 242.07,192.28 242.47,192.85 242.87,193.42 243.28,193.99 243.68,194.56 244.08,195.14 244.49,195.71 244.89,196.29 245.3,196.87 245.7,197.46 246.1,198.04 246.51,198.63 246.91,199.22 247.31,199.8 247.72,200.39 248.12,200.99 248.53,201.58 248.93,202.17 249.33,202.77 249.74,203.37 250.14,203.96 250.54,204.56 250.95,205.16 251.35,205.76 251.75,206.36 252.16,206.96 252.56,207.56 252.97,208.16 253.37,208.76 253.77,209.36 254.18,209.96 254.58,210.56 254.98,211.16 255.39,211.76 255.79,212.35 256.2,212.95 256.6,213.55 257,214.15 257.41,214.74 257.81,215.34 258.21,215.93 258.62,216.53 259.02,217.12 259.43,217.71 259.83,218.3 260.23,218.88 260.64,219.47 261.04,220.05 261.44,220.64 261.85,221.22 262.25,221.8 262.66,222.37 263.06,222.95 263.46,223.52 263.87,224.09 264.27,224.66 264.67,225.23 265.08,225.79 265.48,226.35 265.88,226.91 266.29,227.46 266.69,228.02 267.1,228.57 267.5,229.11 267.9,229.66 268.31,230.2 268.71,230.73 269.11,231.27 269.52,231.8 269.92,232.33 270.33,232.85 270.73,233.37 271.13,233.89 271.54,234.4 271.94,234.91 272.34,235.42 272.75,235.92 273.15,236.42 273.56,236.92 273.96,237.41 274.36,237.89 274.77,238.38 275.17,238.86 275.57,239.33 275.98,239.8 276.38,240.27 276.78,240.73 277.19,241.19 277.59,241.64 278,242.09 278.4,242.54 278.8,242.98 279.21,243.41 279.61,243.85 280.01,244.27 280.42,244.7 280.82,245.11 281.23,245.53 281.63,245.94 282.03,246.34 282.44,246.74 282.84,247.14 283.24,247.53 283.65,247.91 284.05,248.29 284.46,248.67 284.86,249.04 285.26,249.41 285.67,249.77 286.07,250.13 286.47,250.48 286.88,250.83 287.28,251.17 287.69,251.51 288.09,251.84 288.49,252.17 288.9,252.49 289.3,252.81 289.7,253.12 290.11,253.43 290.51,253.74 290.91,254.04 291.32,254.33 291.72,254.62 292.13,254.91 292.53,255.19 292.93,255.46 293.34,255.73 293.74,256 294.14,256.26 294.55,256.52 294.95,256.77 295.36,257.01 295.76,257.26 296.16,257.5 296.57,257.73 296.97,257.96 297.37,258.18 297.78,258.4 298.18,258.62 298.59,258.83 298.99,259.03 299.39,259.23 299.8,259.43 300.2,259.62 300.6,259.81 301.01,259.99 301.41,260.17 301.82,260.34" stroke="#8a8a8a" stroke-width="1.1" fill="none"/>
<polyline points="237.62,184.85 238.03,185.45 238.43,186.06 238.84,186.66 239.24,187.27 239.64,187.87 240.05,188.48 240.45,189.09 240.85,189.7 241.26,190.32 241.66,190.93 242.07,191.54 242.47,192.16 242.87,192.78 243.28,193.4 243.68,194.01 244.08,194.63 244.49,195.25 244.89,195.87 245.3,196.49 245.7,197.11 246.1,197.73 246.51,198.35 246.91,198.97 247.31,199.59 247.72,200.21 248.12,200.82 248.53,201.44 248.93,202.06 249.33,202.67 249.74,203.29 250.14,203.9 250.54,204.51 250.95,205.12 251.35,205.73 251.75,206.34 252.16,206.95 252.56,207.55 252.97,208.16 253.37,208.76 253.77,209.36 254.18,209.95 254.58,210.55 254.98,211.14 255.39,211.73 255.79,212.32 256.2,212.9 256.6,213.49 257,214.07 257.41,214.64 257.81,215.22 258.21,215.79 258.62,216.36 259.02,216.92 259.43,217.49 259.83,218.05 260.23,218.6 260.64,219.15 261.04,219.7 261.44,220.25 261.85,220.79 262.25,221.33 262.66,221.86 263.06,222.4 263.46,222.92 263.87,223.45 264.27,223.97 264.67,224.48 265.08,224.99 265.48,225.5 265.88,226 266.29,226.5 266.69,227 267.1,227.49 267.5,227.98 267.9,228.46 268.31,228.94 268.71,229.41 269.11,229.88 269.52,230.34 269.92,230.8 270.33,231.26 270.73,231.71 271.13,232.16 271.54,232.6 271.94,233.04 272.34,233.47 272.75,233.9 273.15,234.32 273.56,234.74 273.96,235.16 274.36,235.57 274.77,235.97 275.17,236.37 275.57,236.77 275.98,237.16 276.38,237.55 276.78,237.93 277.19,238.31 277.59,238.68 278,239.05 278.4,239.41 278.8,239.77 279.21,240.12 279.61,240.47 280.01,240.82 280.42,241.16 280.82,241.49 281.23,241.82 281.63,242.15 282.03,242.47 282.44,242.79 282.84,243.1 283.24,243.41 283.65,243.71 284.05,244.01 284.46,244.31 284.86,244.6 285.26,244.88 285.67,245.16 286.07,245.44 286.47,245.71 286.88,245.98 287.28,246.24 287.69,246.5 288.09,246.76 288.49,247.01 288.9,247.25 289.3,247.5 289.7,247.73 290.11,247.97 290.51,248.2 290.91,248.42 291.32,248.64 291.72,248.86 292.13,249.07 292.53,249.28 292.93,249.49 293.34,249.69 293.74,249.89 294.14,250.08 294.55,250.27 294.95,250.46 295.36,250.64 295.76,250.82 296.16,250.99 296.57,251.16 296.97,251.33 297.37,251.49 297.78,251.65 298.18,251.81 298.59,251.96 298.99,252.11 299.39,252.26 299.8,252.4 300.2,252.54 300.6,252.67 301.01,252.81 301.41,252.93 301.82,253.06" stroke="#000" stroke-width="1.1" fill="none"/>
<polyline points="237.62,187.62 238.03,188.09 238.43,188.56 238.84,189.04 239.24,189.52 239.64,190.01 240.05,190.5 240.45,191 240.85,191.5 241.26,192 241.66,192.51 242.07,193.02 242.47,193.54 242.87,194.06 243.28,194.58 243.68,195.11 244.08,195.64 244.49,196.18 244.89,196.71 245.3,197.26 245.7,197.8 246.1,198.35 246.51,198.91 246.91,199.46 247.31,200.02 247.72,200.58 248.12,201.15 248.53,201.72 248.93,202.29 249.33,202.87 249.74,203.44 250.14,204.02 250.54,204.61 250.95,205.19 251.35,205.78 251.75,206.37 252.16,206.96 252.56,207.56 252.97,208.16 253.37,208.76 253.77,209.36 254.18,209.96 254.58,210.57 254.98,211.17 255.39,211.78 255.79,212.39 256.2,213 256.6,213.61 257,214.23 257.41,214.84 257.81,215.46 258.21,216.07 258.62,216.69 259.02,217.31 259.43,217.93 259.83,218.55 260.23,219.17 260.64,219.79 261.04,220.41 261.44,221.03 261.85,221.64 262.25,222.26 262.66,222.88 263.06,223.5 263.46,224.12 263.87,224.74 264.27,225.35 264.67,225.97 265.08,226.59 265.48,227.2 265.88,227.81 266.29,228.42 266.69,229.03 267.1,229.64 267.5,230.25 267.9,230.85 268.31,231.46 268.71,232.06 269.11,232.66 269.52,233.26 269.92,233.85 270.33,234.44 270.73,235.03 271.13,235.62 271.54,236.21 271.94,236.79 272.34,237.37 272.75,237.95 273.15,238.52 273.56,239.09 273.96,239.66 274.36,240.22 274.77,240.78 275.17,241.34 275.57,241.89 275.98,242.44 276.38,242.99 276.78,243.53 277.19,244.07 277.59,244.61 278,245.14 278.4,245.66 278.8,246.19 279.21,246.71 279.61,247.22 280.01,247.73 280.42,248.23 280.82,248.74 281.23,249.23 281.63,249.72 282.03,250.21 282.44,250.69 282.84,251.17 283.24,251.64 283.65,252.11 284.05,252.57 284.46,253.03 284.86,253.48 285.26,253.93 285.67,254.37 286.07,254.81 286.47,255.24 286.88,255.67 287.28,256.09 287.69,256.51 288.09,256.92 288.49,257.33 288.9,257.73 289.3,258.12 289.7,258.51 290.11,258.9 290.51,259.28 290.91,259.65 291.32,260.02 291.72,260.38 292.13,260.74 292.53,261.09 292.93,261.43 293.34,261.77 293.74,262.11 294.14,262.44 294.55,262.76 294.95,263.08 295.36,263.39 295.76,263.7 296.16,264 296.57,264.29 296.97,264.58 297.37,264.87 297.78,265.15 298.18,265.42 298.59,265.69 298.99,265.95 299.39,266.21 299.8,266.46 300.2,266.7 300.6,266.94 301.01,267.18 301.41,267.41 301.82,267.63" stroke="#000" stroke-width="1.1" fill="none"/>
<polyline points="236.6,189.75 237.33,185.3 238.06,180.75 238.8,184.19 239.53,187.75 240.26,183.13 240.99,178.4 241.73,182.09 242.46,185.93 243.19,181.09 243.92,176.11 244.66,180.13 245.39,184.35 246.12,179.21 246.85,173.9 247.59,178.33 248.32,182.96 249.05,177.48 249.78,171.81 250.52,176.68 251.25,181.76 251.98,175.92 252.71,169.88 253.45,175.19 254.18,180.71 254.91,174.51 255.64,168.14 256.38,173.88 257.11,179.79 257.84,173.28 258.57,166.63 259.31,172.73 260.04,178.96 260.77,172.22 261.5,165.37 262.24,171.75 262.97,178.27 263.7,171.33 264.43,164.28 265.17,170.96 265.9,177.76 266.63,170.62 267.36,163.38 268.1,170.33 268.83,177.4 269.56,170.09 270.29,162.68 271.03,169.89 271.76,177.18 272.49,169.73 273.22,162.22 273.96,169.62 274.69,177.07 275.42,169.55 276.15,162.02 276.88,169.52 277.62,177.05 278.35,169.55 279.08,162.07 279.81,169.61 280.55,177.13 281.28,169.72 282.01,162.37 282.75,169.88 283.48,177.33 284.21,170.07 284.94,162.9 285.68,170.32 286.41,177.66 287.14,170.6 287.87,163.65 288.61,170.94 289.34,178.13 290.07,171.31 290.8,164.62 291.54,171.73 292.27,178.73 293,172.19 293.73,165.8 294.47,172.7 295.2,179.48 295.93,173.25 296.66,167.17 297.4,173.84 298.13,180.38 298.86,174.48 299.59,168.73 300.32,175.16 301.06,181.42 301.79,175.88 302.52,170.54 303.25,176.64" stroke="#77AC30" stroke-width="1.1" fill="none" stroke-linejoin="round"/>
<polyline points="237.62,185.07 238.03,184.77 238.43,184.46 238.84,184.16 239.24,183.87 239.64,183.57 240.05,183.28 240.45,182.99 240.85,182.7 241.26,182.42 241.66,182.14 242.07,181.86 242.47,181.58 242.87,181.31 243.28,181.04 243.68,180.77 244.08,180.5 244.49,180.24 244.89,179.98 245.3,179.73 245.7,179.47 246.1,179.22 246.51,178.97 246.91,178.73 247.31,178.49 247.72,178.25 248.12,178.01 248.53,177.78 248.93,177.55 249.33,177.33 249.74,177.1 250.14,176.88 250.54,176.66 250.95,176.45 251.35,176.24 251.75,176.03 252.16,175.83 252.56,175.62 252.97,175.43 253.37,175.23 253.77,175.04 254.18,174.85 254.58,174.66 254.98,174.48 255.39,174.3 255.79,174.13 256.2,173.95 256.6,173.78 257,173.62 257.41,173.45 257.81,173.29 258.21,173.14 258.62,172.98 259.02,172.83 259.43,172.69 259.83,172.54 260.23,172.4 260.64,172.26 261.04,172.13 261.44,172 261.85,171.87 262.25,171.75 262.66,171.63 263.06,171.51 263.46,171.4 263.87,171.29 264.27,171.18 264.67,171.08 265.08,170.98 265.48,170.88 265.88,170.79 266.29,170.7 266.69,170.61 267.1,170.52 267.5,170.44 267.9,170.37 268.31,170.29 268.71,170.22 269.11,170.16 269.52,170.09 269.92,170.03 270.33,169.98 270.73,169.92 271.13,169.87 271.54,169.83 271.94,169.78 272.34,169.74 272.75,169.71 273.15,169.67 273.56,169.64 273.96,169.62 274.36,169.59 274.77,169.57 275.17,169.56 275.57,169.54 275.98,169.53 276.38,169.53 276.78,169.53 277.19,169.53 277.59,169.53 278,169.54 278.4,169.55 278.8,169.56 279.21,169.58 279.61,169.6 280.01,169.62 280.42,169.65 280.82,169.68 281.23,169.72 281.63,169.75 282.03,169.8 282.44,169.84 282.84,169.89 283.24,169.94 283.65,169.99 284.05,170.05 284.46,170.11 284.86,170.18 285.26,170.24 285.67,170.32 286.07,170.39 286.47,170.47 286.88,170.55 287.28,170.63 287.69,170.72 288.09,170.81 288.49,170.91 288.9,171.01 289.3,171.11 289.7,171.21 290.11,171.32 290.51,171.43 290.91,171.55 291.32,171.67 291.72,171.79 292.13,171.91 292.53,172.04 292.93,172.17 293.34,172.31 293.74,172.44 294.14,172.59 294.55,172.73 294.95,172.88 295.36,173.03 295.76,173.18 296.16,173.34 296.57,173.5 296.97,173.67 297.37,173.83 297.78,174.01 298.18,174.18 298.59,174.36 298.99,174.54 299.39,174.72 299.8,174.91 300.2,175.1 300.6,175.29 301.01,175.49 301.41,175.69 301.82,175.89" stroke="#8a8a8a" stroke-width="1.1" fill="none"/>
<polyline points="237.62,181.11 238.03,180.78 238.43,180.45 238.84,180.12 239.24,179.79 239.64,179.47 240.05,179.15 240.45,178.82 240.85,178.5 241.26,178.19 241.66,177.87 242.07,177.55 242.47,177.23 242.87,176.92 243.28,176.61 243.68,176.29 244.08,175.98 244.49,175.67 244.89,175.37 245.3,175.06 245.7,174.76 246.1,174.45 246.51,174.15 246.91,173.86 247.31,173.56 247.72,173.27 248.12,172.98 248.53,172.69 248.93,172.4 249.33,172.12 249.74,171.84 250.14,171.57 250.54,171.29 250.95,171.02 251.35,170.76 251.75,170.49 252.16,170.23 252.56,169.97 252.97,169.72 253.37,169.47 253.77,169.23 254.18,168.98 254.58,168.75 254.98,168.51 255.39,168.28 255.79,168.06 256.2,167.84 256.6,167.62 257,167.41 257.41,167.2 257.81,167 258.21,166.8 258.62,166.61 259.02,166.42 259.43,166.24 259.83,166.07 260.23,165.89 260.64,165.72 261.04,165.56 261.44,165.39 261.85,165.23 262.25,165.07 262.66,164.92 263.06,164.77 263.46,164.62 263.87,164.48 264.27,164.34 264.67,164.2 265.08,164.06 265.48,163.93 265.88,163.81 266.29,163.69 266.69,163.57 267.1,163.45 267.5,163.34 267.9,163.23 268.31,163.13 268.71,163.03 269.11,162.94 269.52,162.85 269.92,162.76 270.33,162.68 270.73,162.6 271.13,162.53 271.54,162.46 271.94,162.39 272.34,162.34 272.75,162.28 273.15,162.23 273.56,162.19 273.96,162.15 274.36,162.11 274.77,162.08 275.17,162.06 275.57,162.03 275.98,162.02 276.38,162.01 276.78,162.01 277.19,162.01 277.59,162.01 278,162.02 278.4,162.04 278.8,162.06 279.21,162.08 279.61,162.11 280.01,162.14 280.42,162.18 280.82,162.22 281.23,162.27 281.63,162.32 282.03,162.37 282.44,162.43 282.84,162.5 283.24,162.56 283.65,162.64 284.05,162.71 284.46,162.8 284.86,162.88 285.26,162.97 285.67,163.06 286.07,163.16 286.47,163.27 286.88,163.37 287.28,163.48 287.69,163.6 288.09,163.72 288.49,163.84 288.9,163.97 289.3,164.1 289.7,164.23 290.11,164.37 290.51,164.52 290.91,164.66 291.32,164.81 291.72,164.97 292.13,165.13 292.53,165.29 292.93,165.46 293.34,165.63 293.74,165.8 294.14,165.98 294.55,166.16 294.95,166.35 295.36,166.54 295.76,166.73 296.16,166.92 296.57,167.12 296.97,167.33 297.37,167.53 297.78,167.74 298.18,167.96 298.59,168.18 298.99,168.4 299.39,168.62 299.8,168.85 300.2,169.09 300.6,169.33 301.01,169.57 301.41,169.82 301.82,170.08" stroke="#000" stroke-width="1.1" fill="none"/>
<polyline points="237.62,189.03 238.03,188.75 238.43,188.48 238.84,188.21 239.24,187.94 239.64,187.67 240.05,187.41 240.45,187.15 240.85,186.9 241.26,186.65 241.66,186.4 242.07,186.16 242.47,185.93 242.87,185.7 243.28,185.47 243.68,185.24 244.08,185.03 244.49,184.81 244.89,184.6 245.3,184.39 245.7,184.19 246.1,183.99 246.51,183.8 246.91,183.6 247.31,183.42 247.72,183.23 248.12,183.05 248.53,182.87 248.93,182.7 249.33,182.53 249.74,182.36 250.14,182.2 250.54,182.04 250.95,181.88 251.35,181.72 251.75,181.57 252.16,181.42 252.56,181.27 252.97,181.13 253.37,180.99 253.77,180.85 254.18,180.71 254.58,180.58 254.98,180.45 255.39,180.32 255.79,180.19 256.2,180.07 256.6,179.94 257,179.82 257.41,179.7 257.81,179.58 258.21,179.47 258.62,179.35 259.02,179.24 259.43,179.13 259.83,179.02 260.23,178.91 260.64,178.81 261.04,178.71 261.44,178.61 261.85,178.52 262.25,178.43 262.66,178.34 263.06,178.26 263.46,178.18 263.87,178.1 264.27,178.03 264.67,177.96 265.08,177.89 265.48,177.83 265.88,177.76 266.29,177.71 266.69,177.65 267.1,177.6 267.5,177.55 267.9,177.5 268.31,177.46 268.71,177.42 269.11,177.38 269.52,177.34 269.92,177.31 270.33,177.27 270.73,177.24 271.13,177.22 271.54,177.19 271.94,177.17 272.34,177.15 272.75,177.13 273.15,177.11 273.56,177.1 273.96,177.09 274.36,177.08 274.77,177.07 275.17,177.06 275.57,177.05 275.98,177.05 276.38,177.05 276.78,177.04 277.19,177.04 277.59,177.05 278,177.05 278.4,177.06 278.8,177.07 279.21,177.08 279.61,177.09 280.01,177.11 280.42,177.12 280.82,177.14 281.23,177.17 281.63,177.19 282.03,177.22 282.44,177.25 282.84,177.28 283.24,177.31 283.65,177.35 284.05,177.39 284.46,177.43 284.86,177.47 285.26,177.52 285.67,177.57 286.07,177.62 286.47,177.67 286.88,177.73 287.28,177.79 287.69,177.85 288.09,177.91 288.49,177.98 288.9,178.05 289.3,178.12 289.7,178.19 290.11,178.27 290.51,178.35 290.91,178.43 291.32,178.52 291.72,178.61 292.13,178.7 292.53,178.79 292.93,178.89 293.34,178.99 293.74,179.09 294.14,179.19 294.55,179.3 294.95,179.41 295.36,179.52 295.76,179.64 296.16,179.76 296.57,179.88 296.97,180.01 297.37,180.13 297.78,180.27 298.18,180.4 298.59,180.54 298.99,180.68 299.39,180.82 299.8,180.96 300.2,181.11 300.6,181.25 301.01,181.4 301.41,181.55 301.82,181.7" stroke="#000" stroke-width="1.1" fill="none"/>
<polyline points="236.6,245.16 237.33,236.82 238.06,228.63 238.8,236.7 239.53,244.62 240.26,236.57 240.99,228.65 241.73,236.4 242.46,243.98 243.19,236.22 243.92,228.65 244.66,236.01 245.39,243.14 246.12,235.77 246.85,228.63 247.59,235.51 248.32,242.14 249.05,235.21 249.78,228.52 250.52,234.88 251.25,240.98 251.98,234.51 252.71,228.28 253.45,234.11 254.18,239.7 254.91,233.67 255.64,227.86 256.38,233.19 257.11,238.32 257.84,232.67 258.57,227.2 259.31,232.11 260.04,236.87 260.77,231.51 261.5,226.27 262.24,230.86 262.97,235.32 263.7,230.17 264.43,225.12 265.17,229.43 265.9,233.61 266.63,228.64 267.36,223.77 268.1,227.82 268.83,231.75 269.56,226.94 270.29,222.22 271.03,226.03 271.76,229.73 272.49,225.07 273.22,220.49 273.96,224.07 274.69,227.56 275.42,223.03 276.15,218.58 276.88,221.95 277.62,225.24 278.35,220.84 279.08,216.52 279.81,219.7 280.55,222.78 281.28,218.52 282.01,214.34 282.75,217.32 283.48,220.2 284.21,216.09 284.94,212.06 285.68,214.84 286.41,217.53 287.14,213.57 287.87,209.71 288.61,212.29 289.34,214.77 290.07,211 290.8,207.32 291.54,209.71 292.27,212.01 293,208.4 293.73,204.87 294.47,207.1 295.2,209.27 295.93,205.81 296.66,202.42 297.4,204.52 298.13,206.55 298.86,203.25 299.59,200.03 300.32,201.99 301.06,203.86 301.79,200.75 302.52,197.76 303.25,199.54" stroke="#D95319" stroke-width="1.1" fill="none" stroke-linejoin="round"/>
<polyline points="237.62,236.8 238.03,236.77 238.43,236.74 238.84,236.7 239.24,236.66 239.64,236.63 240.05,236.59 240.45,236.55 240.85,236.5 241.26,236.46 241.66,236.41 242.07,236.36 242.47,236.31 242.87,236.26 243.28,236.21 243.68,236.15 244.08,236.09 244.49,236.03 244.89,235.97 245.3,235.91 245.7,235.84 246.1,235.77 246.51,235.7 246.91,235.63 247.31,235.56 247.72,235.48 248.12,235.4 248.53,235.32 248.93,235.23 249.33,235.15 249.74,235.06 250.14,234.97 250.54,234.87 250.95,234.77 251.35,234.67 251.75,234.57 252.16,234.47 252.56,234.36 252.97,234.25 253.37,234.13 253.77,234.02 254.18,233.9 254.58,233.78 254.98,233.65 255.39,233.52 255.79,233.39 256.2,233.26 256.6,233.12 257,232.98 257.41,232.83 257.81,232.69 258.21,232.54 258.62,232.38 259.02,232.23 259.43,232.07 259.83,231.9 260.23,231.74 260.64,231.57 261.04,231.39 261.44,231.22 261.85,231.04 262.25,230.85 262.66,230.67 263.06,230.47 263.46,230.28 263.87,230.08 264.27,229.88 264.67,229.68 265.08,229.47 265.48,229.26 265.88,229.05 266.29,228.83 266.69,228.61 267.1,228.39 267.5,228.16 267.9,227.93 268.31,227.69 268.71,227.45 269.11,227.21 269.52,226.97 269.92,226.72 270.33,226.47 270.73,226.22 271.13,225.96 271.54,225.7 271.94,225.43 272.34,225.17 272.75,224.9 273.15,224.62 273.56,224.35 273.96,224.07 274.36,223.78 274.77,223.5 275.17,223.21 275.57,222.92 275.98,222.63 276.38,222.33 276.78,222.03 277.19,221.73 277.59,221.42 278,221.11 278.4,220.8 278.8,220.49 279.21,220.18 279.61,219.86 280.01,219.54 280.42,219.22 280.82,218.89 281.23,218.56 281.63,218.24 282.03,217.91 282.44,217.57 282.84,217.24 283.24,216.9 283.65,216.56 284.05,216.22 284.46,215.88 284.86,215.54 285.26,215.19 285.67,214.85 286.07,214.5 286.47,214.15 286.88,213.8 287.28,213.45 287.69,213.1 288.09,212.75 288.49,212.39 288.9,212.04 289.3,211.68 289.7,211.33 290.11,210.97 290.51,210.61 290.91,210.26 291.32,209.9 291.72,209.54 292.13,209.18 292.53,208.82 292.93,208.46 293.34,208.11 293.74,207.75 294.14,207.39 294.55,207.03 294.95,206.67 295.36,206.32 295.76,205.96 296.16,205.6 296.57,205.25 296.97,204.89 297.37,204.54 297.78,204.19 298.18,203.84 298.59,203.49 298.99,203.14 299.39,202.79 299.8,202.44 300.2,202.1 300.6,201.75 301.01,201.41 301.41,201.07 301.82,200.73" stroke="#8a8a8a" stroke-width="1.1" fill="none"/>
<polyline points="237.62,228.62 238.03,228.63 238.43,228.64 238.84,228.65 239.24,228.65 239.64,228.65 240.05,228.65 240.45,228.65 240.85,228.65 241.26,228.65 241.66,228.65 242.07,228.65 242.47,228.65 242.87,228.65 243.28,228.65 243.68,228.65 244.08,228.65 244.49,228.65 244.89,228.65 245.3,228.64 245.7,228.64 246.1,228.64 246.51,228.63 246.91,228.62 247.31,228.62 247.72,228.6 248.12,228.59 248.53,228.58 248.93,228.56 249.33,228.54 249.74,228.52 250.14,228.5 250.54,228.47 250.95,228.44 251.35,228.41 251.75,228.38 252.16,228.34 252.56,228.3 252.97,228.25 253.37,228.21 253.77,228.15 254.18,228.1 254.58,228.04 254.98,227.97 255.39,227.9 255.79,227.83 256.2,227.75 256.6,227.67 257,227.58 257.41,227.49 257.81,227.4 258.21,227.29 258.62,227.19 259.02,227.07 259.43,226.95 259.83,226.83 260.23,226.7 260.64,226.57 261.04,226.43 261.44,226.29 261.85,226.14 262.25,226 262.66,225.84 263.06,225.69 263.46,225.52 263.87,225.36 264.27,225.19 264.67,225.02 265.08,224.84 265.48,224.66 265.88,224.48 266.29,224.29 266.69,224.1 267.1,223.9 267.5,223.7 267.9,223.5 268.31,223.29 268.71,223.08 269.11,222.87 269.52,222.65 269.92,222.43 270.33,222.2 270.73,221.97 271.13,221.74 271.54,221.51 271.94,221.27 272.34,221.03 272.75,220.78 273.15,220.53 273.56,220.28 273.96,220.02 274.36,219.76 274.77,219.5 275.17,219.24 275.57,218.97 275.98,218.7 276.38,218.42 276.78,218.15 277.19,217.87 277.59,217.59 278,217.3 278.4,217.01 278.8,216.72 279.21,216.43 279.61,216.14 280.01,215.84 280.42,215.54 280.82,215.24 281.23,214.94 281.63,214.63 282.03,214.32 282.44,214.02 282.84,213.7 283.24,213.39 283.65,213.08 284.05,212.76 284.46,212.45 284.86,212.13 285.26,211.81 285.67,211.49 286.07,211.16 286.47,210.84 286.88,210.52 287.28,210.19 287.69,209.87 288.09,209.54 288.49,209.21 288.9,208.88 289.3,208.56 289.7,208.22 290.11,207.89 290.51,207.56 290.91,207.22 291.32,206.89 291.72,206.55 292.13,206.21 292.53,205.88 292.93,205.54 293.34,205.2 293.74,204.86 294.14,204.52 294.55,204.18 294.95,203.85 295.36,203.51 295.76,203.17 296.16,202.83 296.57,202.5 296.97,202.17 297.37,201.83 297.78,201.5 298.18,201.17 298.59,200.84 298.99,200.52 299.39,200.19 299.8,199.87 300.2,199.55 300.6,199.23 301.01,198.92 301.41,198.61 301.82,198.3" stroke="#000" stroke-width="1.1" fill="none"/>
<polyline points="237.62,244.98 238.03,244.91 238.43,244.83 238.84,244.76 239.24,244.68 239.64,244.6 240.05,244.52 240.45,244.44 240.85,244.35 241.26,244.27 241.66,244.17 242.07,244.08 242.47,243.98 242.87,243.87 243.28,243.76 243.68,243.65 244.08,243.54 244.49,243.42 244.89,243.3 245.3,243.17 245.7,243.04 246.1,242.91 246.51,242.78 246.91,242.64 247.31,242.5 247.72,242.36 248.12,242.21 248.53,242.06 248.93,241.91 249.33,241.75 249.74,241.59 250.14,241.43 250.54,241.27 250.95,241.1 251.35,240.94 251.75,240.77 252.16,240.59 252.56,240.42 252.97,240.24 253.37,240.06 253.77,239.88 254.18,239.7 254.58,239.51 254.98,239.33 255.39,239.14 255.79,238.95 256.2,238.76 256.6,238.56 257,238.37 257.41,238.17 257.81,237.98 258.21,237.78 258.62,237.58 259.02,237.38 259.43,237.18 259.83,236.97 260.23,236.77 260.64,236.56 261.04,236.35 261.44,236.14 261.85,235.93 262.25,235.71 262.66,235.49 263.06,235.26 263.46,235.04 263.87,234.81 264.27,234.58 264.67,234.34 265.08,234.1 265.48,233.86 265.88,233.62 266.29,233.37 266.69,233.12 267.1,232.87 267.5,232.61 267.9,232.35 268.31,232.09 268.71,231.83 269.11,231.56 269.52,231.29 269.92,231.02 270.33,230.74 270.73,230.46 271.13,230.18 271.54,229.89 271.94,229.6 272.34,229.31 272.75,229.01 273.15,228.72 273.56,228.42 273.96,228.11 274.36,227.81 274.77,227.5 275.17,227.18 275.57,226.87 275.98,226.55 276.38,226.23 276.78,225.91 277.19,225.58 277.59,225.26 278,224.93 278.4,224.59 278.8,224.26 279.21,223.92 279.61,223.58 280.01,223.23 280.42,222.89 280.82,222.54 281.23,222.19 281.63,221.84 282.03,221.49 282.44,221.13 282.84,220.77 283.24,220.41 283.65,220.05 284.05,219.69 284.46,219.32 284.86,218.95 285.26,218.58 285.67,218.21 286.07,217.84 286.47,217.46 286.88,217.09 287.28,216.71 287.69,216.33 288.09,215.95 288.49,215.57 288.9,215.19 289.3,214.81 289.7,214.43 290.11,214.05 290.51,213.67 290.91,213.29 291.32,212.91 291.72,212.53 292.13,212.15 292.53,211.77 292.93,211.39 293.34,211.01 293.74,210.63 294.14,210.26 294.55,209.88 294.95,209.5 295.36,209.13 295.76,208.75 296.16,208.37 296.57,208 296.97,207.62 297.37,207.25 297.78,206.88 298.18,206.5 298.59,206.13 298.99,205.76 299.39,205.39 299.8,205.01 300.2,204.64 300.6,204.27 301.01,203.9 301.41,203.53 301.82,203.16" stroke="#000" stroke-width="1.1" fill="none"/>
</g>
<path d="M266.44 192.9v-1.6M266.44 156.5v1.6M292.65 192.9v-1.6M292.65 156.5v1.6M240.9 178.57h1.6M299.4 178.57h-1.6" stroke="#262626" stroke-width="0.8" fill="none"/>
<rect x="240.9" y="156.5" width="58.5" height="36.4" stroke="#262626" stroke-width="0.8" fill="none"/>
<text x="239.6" y="181.37" font-size="8.2" text-anchor="end" letter-spacing="0.25">0.5</text>
<rect x="235.5" y="228.7" width="65.2" height="11.6" fill="#fff" stroke="#262626" stroke-width="0.6"/>
<line x1="237.2" y1="234.4" x2="247" y2="234.4" stroke="#0072BD" stroke-width="0.9"/>
<text x="248.9" y="236.9" font-size="9" font-style="italic">r<tspan font-size="6.3" dy="1.3" dx="0.2">a</tspan></text>
<line x1="259.5" y1="234.4" x2="269.3" y2="234.4" stroke="#77AC30" stroke-width="0.9"/>
<text x="270.7" y="236.9" font-size="9" font-style="italic">r<tspan font-size="6.3" dy="1.3" dx="0.2">b</tspan></text>
<line x1="281" y1="234.4" x2="291" y2="234.4" stroke="#D95319" stroke-width="0.9"/>
<text x="292.3" y="236.9" font-size="9" font-style="italic">r<tspan font-size="6.3" dy="1.3" dx="0.2">c</tspan></text>
<text transform="translate(14.3 198) rotate(-90)" font-size="10.5" text-anchor="middle"><tspan font-style="italic">r</tspan><tspan font-size="7.5" font-style="italic" dy="2">z</tspan><tspan dy="-2" dx="0.9">(</tspan><tspan font-style="italic" dx="0.3">t</tspan><tspan dx="0.5">)</tspan></text>
<text x="170" y="265.8" font-size="10.5" text-anchor="middle"><tspan font-style="italic">t</tspan>,<tspan dx="3">s</tspan></text>
<path d="M419.72 152.4V243.2M457.45 152.4V243.2M495.17 152.4V243.2M382 220.5H532.9M382 197.8H532.9M382 175.1H532.9" stroke="#b4b4b4" stroke-width="0.6" stroke-dasharray="0.7 1.5" fill="none"/>
<g clip-path="url(#cr1)">
<path d="M381 173.51V222.09M383.04 173.51V222.09M385.08 173.51V222.09M387.12 173.51V222.09M389.16 174.44V221.16M391.2 177.11V218.49M393.24 180.97V214.63M395.28 183.29V212.31M397.32 184.33V211.27M399.36 185.09V210.51M401.4 186.09V209.51M403.44 187.61V207.99M405.48 189.33V206.27M407.52 190.95V204.65M409.56 192.62V202.98M411.6 194.17V201.43M413.64 195.37V200.23M415.68 196.36V199.24M417.72 197.19V198.41M419.76 197.79V197.81M421.8 197.17V198.43M423.84 196.33V199.27M425.88 195.33V200.27M427.92 194.12V201.48M429.96 192.57V203.03M432 190.89V204.71M434.04 189.27V206.33M436.08 187.56V208.04M438.12 186.04V209.56M440.16 185.06V210.54M442.2 184.3V211.3M444.24 183.23V212.37M446.28 180.88V214.72M448.32 176.97V218.63M450.36 174.38V221.22M452.4 173.51V222.09M454.44 173.51V222.09M456.48 173.51V222.09M458.52 173.51V222.09M460.56 173.51V222.09M462.6 173.51V222.09M464.64 174.46V221.14M466.68 177.18V218.42M468.72 181.01V214.59M470.76 183.31V212.29M472.8 184.34V211.26M474.84 185.1V210.5M476.88 186.1V209.5M478.92 187.64V207.96M480.96 189.35V206.25M483 190.97V204.63M485.04 192.65V202.95M487.08 194.19V201.41M489.12 195.38V200.22M491.16 196.37V199.23M493.2 197.2V198.4M495.24 197.78V197.82M497.28 197.15V198.45M499.32 196.31V199.29M501.36 195.31V200.29M503.4 194.1V201.5M505.44 192.54V203.06M507.48 190.87V204.73M509.52 189.25V206.35M511.56 187.53V208.07M513.6 186.02V209.58M515.64 185.05V210.55M517.68 184.29V211.31M519.72 183.21V212.39M521.76 180.84V214.76M523.8 176.91V218.69M525.84 174.36V221.24M527.88 173.51V222.09M529.92 173.51V222.09M531.96 173.51V222.09M534 173.51V222.09" stroke="#1F80CA" stroke-width="1.1" fill="none"/>
<path d="M396.14 196.41V199.19M398.18 192.14V203.46M400.22 188.1V207.5M402.26 184.06V211.54M404.3 179.6V216M406.34 175.36V220.24M408.38 172.43V223.17M410.42 170.77V224.83M412.46 169.8V225.8M414.5 169.44V226.16M416.54 169.24V226.36M418.58 169.2V226.4M420.62 169.2V226.4M422.66 169.22V226.38M424.7 169.41V226.19M426.74 169.73V225.87M428.78 170.62V224.98M430.82 172.15V223.45M432.86 174.96V220.64M434.9 178.99V216.61M436.94 183.54V212.06M438.98 187.61V207.99M441.02 191.58V204.02M443.06 195.97V199.63M471.62 196.36V199.24M473.66 192.08V203.52M475.7 188.04V207.56M477.74 184V211.6M479.78 179.53V216.07M481.82 175.32V220.28M483.86 172.4V223.2M485.9 170.75V224.85M487.94 169.79V225.81M489.98 169.43V226.17M492.02 169.23V226.37M494.06 169.2V226.4M496.1 169.2V226.4M498.14 169.22V226.38M500.18 169.41V226.19M502.22 169.74V225.86M504.26 170.64V224.96M506.3 172.18V223.42M508.34 175V220.6M510.38 179.06V216.54M512.42 183.6V212M514.46 187.67V207.93M516.5 191.64V203.96M518.54 196.02V199.58" stroke="#0072BD" stroke-width="1.15" fill="none"/>
<polyline points="382,173.51 382.38,173.51 382.76,173.51 383.13,173.51 383.51,173.51 383.89,173.51 384.27,173.51 384.65,173.51 385.03,173.51 385.4,173.51 385.78,173.51 386.16,173.51 386.54,173.51 386.92,173.51 387.29,173.51 387.67,173.56 388.05,173.7 388.43,173.9 388.81,174.16 389.19,174.46 389.56,174.78 389.94,175.12 390.32,175.56 390.7,176.15 391.08,176.87 391.45,177.65 391.83,178.45 392.21,179.24 392.59,179.97 392.97,180.6 393.35,181.12 393.72,181.61 394.1,182.08 394.48,182.52 394.86,182.92 395.24,183.25 395.62,183.52 395.99,183.74 396.37,183.93 396.75,184.1 397.13,184.26 397.51,184.4 397.88,184.53 398.26,184.67 398.64,184.8 399.02,184.95 399.4,185.11 399.78,185.27 400.15,185.43 400.53,185.6 400.91,185.79 401.29,186.02 401.67,186.26 402.04,186.52 402.42,186.8 402.8,187.09 403.18,187.4 403.56,187.71 403.94,188.03 404.31,188.35 404.69,188.67 405.07,188.99 405.45,189.3 405.83,189.61 406.2,189.9 406.58,190.2 406.96,190.5 407.34,190.8 407.72,191.11 408.1,191.42 408.47,191.73 408.85,192.05 409.23,192.36 409.61,192.66 409.99,192.96 410.36,193.26 410.74,193.55 411.12,193.83 411.5,194.1 411.88,194.35 412.26,194.6 412.63,194.82 413.01,195.04 413.39,195.24 413.77,195.43 414.15,195.62 414.52,195.81 414.9,196 415.28,196.18 415.66,196.35 416.04,196.52 416.42,196.68 416.79,196.84 417.17,196.99 417.55,197.13 417.93,197.27 418.31,197.39 418.68,197.51 419.06,197.63 419.44,197.73 419.82,197.78 420.2,197.68 420.58,197.57 420.95,197.45 421.33,197.33 421.71,197.2 422.09,197.06 422.47,196.91 422.85,196.76 423.22,196.6 423.6,196.43 423.98,196.26 424.36,196.09 424.74,195.91 425.11,195.72 425.49,195.53 425.87,195.33 426.25,195.14 426.63,194.93 427.01,194.71 427.38,194.48 427.76,194.23 428.14,193.96 428.52,193.69 428.9,193.41 429.27,193.11 429.65,192.81 430.03,192.51 430.41,192.2 430.79,191.89 431.17,191.58 431.54,191.27 431.92,190.96 432.3,190.65 432.68,190.34 433.06,190.05 433.43,189.76 433.81,189.46 434.19,189.15 434.57,188.83 434.95,188.51 435.33,188.19 435.7,187.87 436.08,187.55 436.46,187.25 436.84,186.95 437.22,186.66 437.59,186.39 437.97,186.13 438.35,185.9 438.73,185.69 439.11,185.51 439.49,185.35 439.86,185.19 440.24,185.03 440.62,184.87 441,184.73 441.38,184.6 441.75,184.46 442.13,184.33 442.51,184.18 442.89,184.02 443.27,183.84 443.65,183.63 444.02,183.4 444.4,183.09 444.78,182.73 445.16,182.31 445.54,181.85 445.92,181.37 446.29,180.86 446.67,180.3 447.05,179.62 447.43,178.85 447.81,178.05 448.18,177.25 448.56,176.5 448.94,175.84 449.32,175.32 449.7,174.95 450.08,174.62 450.45,174.3 450.83,174.02 451.21,173.79 451.59,173.62 451.97,173.52 452.34,173.51 452.72,173.51 453.1,173.51 453.48,173.51 453.86,173.51 454.24,173.51 454.61,173.51 454.99,173.51 455.37,173.51 455.75,173.51 456.13,173.51 456.5,173.51 456.88,173.51 457.26,173.51 457.64,173.51 458.02,173.51 458.4,173.51 458.77,173.51 459.15,173.51 459.53,173.51 459.91,173.51 460.29,173.51 460.66,173.51 461.04,173.51 461.42,173.51 461.8,173.51 462.18,173.51 462.56,173.51 462.93,173.52 463.31,173.62 463.69,173.79 464.07,174.02 464.45,174.3 464.82,174.62 465.2,174.95 465.58,175.32 465.96,175.84 466.34,176.5 466.72,177.25 467.09,178.05 467.47,178.85 467.85,179.62 468.23,180.3 468.61,180.86 468.98,181.37 469.36,181.85 469.74,182.31 470.12,182.73 470.5,183.09 470.88,183.4 471.25,183.63 471.63,183.84 472.01,184.02 472.39,184.18 472.77,184.33 473.15,184.46 473.52,184.6 473.9,184.73 474.28,184.87 474.66,185.03 475.04,185.19 475.41,185.35 475.79,185.51 476.17,185.69 476.55,185.9 476.93,186.13 477.31,186.39 477.68,186.66 478.06,186.95 478.44,187.25 478.82,187.55 479.2,187.87 479.57,188.19 479.95,188.51 480.33,188.83 480.71,189.15 481.09,189.46 481.47,189.76 481.84,190.05 482.22,190.34 482.6,190.65 482.98,190.96 483.36,191.27 483.73,191.58 484.11,191.89 484.49,192.2 484.87,192.51 485.25,192.81 485.63,193.11 486,193.41 486.38,193.69 486.76,193.96 487.14,194.23 487.52,194.48 487.89,194.71 488.27,194.93 488.65,195.14 489.03,195.33 489.41,195.53 489.79,195.72 490.16,195.91 490.54,196.09 490.92,196.26 491.3,196.43 491.68,196.6 492.05,196.76 492.43,196.91 492.81,197.06 493.19,197.2 493.57,197.33 493.95,197.45 494.32,197.57 494.7,197.68 495.08,197.78 495.46,197.73 495.84,197.63 496.22,197.51 496.59,197.39 496.97,197.27 497.35,197.13 497.73,196.99 498.11,196.84 498.48,196.68 498.86,196.52 499.24,196.35 499.62,196.18 500,196 500.38,195.81 500.75,195.62 501.13,195.43 501.51,195.24 501.89,195.04 502.27,194.82 502.64,194.6 503.02,194.35 503.4,194.1 503.78,193.83 504.16,193.55 504.54,193.26 504.91,192.96 505.29,192.66 505.67,192.36 506.05,192.05 506.43,191.73 506.8,191.42 507.18,191.11 507.56,190.8 507.94,190.5 508.32,190.2 508.7,189.9 509.07,189.61 509.45,189.3 509.83,188.99 510.21,188.67 510.59,188.35 510.96,188.03 511.34,187.71 511.72,187.4 512.1,187.09 512.48,186.8 512.86,186.52 513.23,186.26 513.61,186.02 513.99,185.79 514.37,185.6 514.75,185.43 515.12,185.27 515.5,185.11 515.88,184.95 516.26,184.8 516.64,184.67 517.02,184.53 517.39,184.4 517.77,184.26 518.15,184.1 518.53,183.93 518.91,183.74 519.28,183.52 519.66,183.25 520.04,182.92 520.42,182.52 520.8,182.08 521.18,181.61 521.55,181.12 521.93,180.6 522.31,179.97 522.69,179.24 523.07,178.45 523.45,177.65 523.82,176.87 524.2,176.15 524.58,175.56 524.96,175.12 525.34,174.78 525.71,174.46 526.09,174.16 526.47,173.9 526.85,173.7 527.23,173.56 527.61,173.51 527.98,173.51 528.36,173.51 528.74,173.51 529.12,173.51 529.5,173.51 529.87,173.51 530.25,173.51 530.63,173.51 531.01,173.51 531.39,173.51 531.77,173.51 532.14,173.51 532.52,173.51 532.9,173.51" stroke="#8a8a8a" stroke-width="0.6" fill="none"/>
<polyline points="382,222.09 382.38,222.09 382.76,222.09 383.13,222.09 383.51,222.09 383.89,222.09 384.27,222.09 384.65,222.09 385.03,222.09 385.4,222.09 385.78,222.09 386.16,222.09 386.54,222.09 386.92,222.09 387.29,222.09 387.67,222.04 388.05,221.9 388.43,221.7 388.81,221.44 389.19,221.14 389.56,220.82 389.94,220.48 390.32,220.04 390.7,219.45 391.08,218.73 391.45,217.95 391.83,217.15 392.21,216.36 392.59,215.63 392.97,215 393.35,214.48 393.72,213.99 394.1,213.52 394.48,213.08 394.86,212.68 395.24,212.35 395.62,212.08 395.99,211.86 396.37,211.67 396.75,211.5 397.13,211.34 397.51,211.2 397.88,211.07 398.26,210.93 398.64,210.8 399.02,210.65 399.4,210.49 399.78,210.33 400.15,210.17 400.53,210 400.91,209.81 401.29,209.58 401.67,209.34 402.04,209.08 402.42,208.8 402.8,208.51 403.18,208.2 403.56,207.89 403.94,207.57 404.31,207.25 404.69,206.93 405.07,206.61 405.45,206.3 405.83,205.99 406.2,205.7 406.58,205.4 406.96,205.1 407.34,204.8 407.72,204.49 408.1,204.18 408.47,203.87 408.85,203.55 409.23,203.24 409.61,202.94 409.99,202.64 410.36,202.34 410.74,202.05 411.12,201.77 411.5,201.5 411.88,201.25 412.26,201 412.63,200.78 413.01,200.56 413.39,200.36 413.77,200.17 414.15,199.98 414.52,199.79 414.9,199.6 415.28,199.42 415.66,199.25 416.04,199.08 416.42,198.92 416.79,198.76 417.17,198.61 417.55,198.47 417.93,198.33 418.31,198.21 418.68,198.09 419.06,197.97 419.44,197.87 419.82,197.82 420.2,197.92 420.58,198.03 420.95,198.15 421.33,198.27 421.71,198.4 422.09,198.54 422.47,198.69 422.85,198.84 423.22,199 423.6,199.17 423.98,199.34 424.36,199.51 424.74,199.69 425.11,199.88 425.49,200.07 425.87,200.27 426.25,200.46 426.63,200.67 427.01,200.89 427.38,201.12 427.76,201.37 428.14,201.64 428.52,201.91 428.9,202.19 429.27,202.49 429.65,202.79 430.03,203.09 430.41,203.4 430.79,203.71 431.17,204.02 431.54,204.33 431.92,204.64 432.3,204.95 432.68,205.26 433.06,205.55 433.43,205.84 433.81,206.14 434.19,206.45 434.57,206.77 434.95,207.09 435.33,207.41 435.7,207.73 436.08,208.05 436.46,208.35 436.84,208.65 437.22,208.94 437.59,209.21 437.97,209.47 438.35,209.7 438.73,209.91 439.11,210.09 439.49,210.25 439.86,210.41 440.24,210.57 440.62,210.73 441,210.87 441.38,211 441.75,211.14 442.13,211.27 442.51,211.42 442.89,211.58 443.27,211.76 443.65,211.97 444.02,212.2 444.4,212.51 444.78,212.87 445.16,213.29 445.54,213.75 445.92,214.23 446.29,214.74 446.67,215.3 447.05,215.98 447.43,216.75 447.81,217.55 448.18,218.35 448.56,219.1 448.94,219.76 449.32,220.28 449.7,220.65 450.08,220.98 450.45,221.3 450.83,221.58 451.21,221.81 451.59,221.98 451.97,222.08 452.34,222.09 452.72,222.09 453.1,222.09 453.48,222.09 453.86,222.09 454.24,222.09 454.61,222.09 454.99,222.09 455.37,222.09 455.75,222.09 456.13,222.09 456.5,222.09 456.88,222.09 457.26,222.09 457.64,222.09 458.02,222.09 458.4,222.09 458.77,222.09 459.15,222.09 459.53,222.09 459.91,222.09 460.29,222.09 460.66,222.09 461.04,222.09 461.42,222.09 461.8,222.09 462.18,222.09 462.56,222.09 462.93,222.08 463.31,221.98 463.69,221.81 464.07,221.58 464.45,221.3 464.82,220.98 465.2,220.65 465.58,220.28 465.96,219.76 466.34,219.1 466.72,218.35 467.09,217.55 467.47,216.75 467.85,215.98 468.23,215.3 468.61,214.74 468.98,214.23 469.36,213.75 469.74,213.29 470.12,212.87 470.5,212.51 470.88,212.2 471.25,211.97 471.63,211.76 472.01,211.58 472.39,211.42 472.77,211.27 473.15,211.14 473.52,211 473.9,210.87 474.28,210.73 474.66,210.57 475.04,210.41 475.41,210.25 475.79,210.09 476.17,209.91 476.55,209.7 476.93,209.47 477.31,209.21 477.68,208.94 478.06,208.65 478.44,208.35 478.82,208.05 479.2,207.73 479.57,207.41 479.95,207.09 480.33,206.77 480.71,206.45 481.09,206.14 481.47,205.84 481.84,205.55 482.22,205.26 482.6,204.95 482.98,204.64 483.36,204.33 483.73,204.02 484.11,203.71 484.49,203.4 484.87,203.09 485.25,202.79 485.63,202.49 486,202.19 486.38,201.91 486.76,201.64 487.14,201.37 487.52,201.12 487.89,200.89 488.27,200.67 488.65,200.46 489.03,200.27 489.41,200.07 489.79,199.88 490.16,199.69 490.54,199.51 490.92,199.34 491.3,199.17 491.68,199 492.05,198.84 492.43,198.69 492.81,198.54 493.19,198.4 493.57,198.27 493.95,198.15 494.32,198.03 494.7,197.92 495.08,197.82 495.46,197.87 495.84,197.97 496.22,198.09 496.59,198.21 496.97,198.33 497.35,198.47 497.73,198.61 498.11,198.76 498.48,198.92 498.86,199.08 499.24,199.25 499.62,199.42 500,199.6 500.38,199.79 500.75,199.98 501.13,200.17 501.51,200.36 501.89,200.56 502.27,200.78 502.64,201 503.02,201.25 503.4,201.5 503.78,201.77 504.16,202.05 504.54,202.34 504.91,202.64 505.29,202.94 505.67,203.24 506.05,203.55 506.43,203.87 506.8,204.18 507.18,204.49 507.56,204.8 507.94,205.1 508.32,205.4 508.7,205.7 509.07,205.99 509.45,206.3 509.83,206.61 510.21,206.93 510.59,207.25 510.96,207.57 511.34,207.89 511.72,208.2 512.1,208.51 512.48,208.8 512.86,209.08 513.23,209.34 513.61,209.58 513.99,209.81 514.37,210 514.75,210.17 515.12,210.33 515.5,210.49 515.88,210.65 516.26,210.8 516.64,210.93 517.02,211.07 517.39,211.2 517.77,211.34 518.15,211.5 518.53,211.67 518.91,211.86 519.28,212.08 519.66,212.35 520.04,212.68 520.42,213.08 520.8,213.52 521.18,213.99 521.55,214.48 521.93,215 522.31,215.63 522.69,216.36 523.07,217.15 523.45,217.95 523.82,218.73 524.2,219.45 524.58,220.04 524.96,220.48 525.34,220.82 525.71,221.14 526.09,221.44 526.47,221.7 526.85,221.9 527.23,222.04 527.61,222.09 527.98,222.09 528.36,222.09 528.74,222.09 529.12,222.09 529.5,222.09 529.87,222.09 530.25,222.09 530.63,222.09 531.01,222.09 531.39,222.09 531.77,222.09 532.14,222.09 532.52,222.09 532.9,222.09" stroke="#8a8a8a" stroke-width="0.6" fill="none"/>
<polyline points="382,197.8 382.38,197.8 382.76,197.8 383.13,197.8 383.51,197.8 383.89,197.8 384.27,197.8 384.65,197.8 385.03,197.8 385.4,197.8 385.78,197.8 386.16,197.8 386.54,197.8 386.92,197.8 387.29,197.8 387.67,197.8 388.05,197.8 388.43,197.8 388.81,197.8 389.19,197.8 389.56,197.8 389.94,197.8 390.32,197.8 390.7,197.8 391.08,197.8 391.45,197.8 391.83,197.8 392.21,197.8 392.59,197.8 392.97,197.8 393.35,197.8 393.72,197.8 394.1,197.8 394.48,197.8 394.86,197.75 395.24,197.54 395.62,197.16 395.99,196.64 396.37,196.01 396.75,195.28 397.13,194.49 397.51,193.66 397.88,192.81 398.26,191.95 398.64,191.13 399.02,190.35 399.4,189.64 399.78,188.94 400.15,188.22 400.53,187.5 400.91,186.76 401.29,186.01 401.67,185.26 402.04,184.5 402.42,183.73 402.8,182.95 403.18,182.16 403.56,181.32 403.94,180.45 404.31,179.56 404.69,178.67 405.07,177.81 405.45,176.99 405.83,176.24 406.2,175.58 406.58,174.97 406.96,174.38 407.34,173.81 407.72,173.27 408.1,172.77 408.47,172.32 408.85,171.92 409.23,171.59 409.61,171.31 409.99,171.05 410.36,170.81 410.74,170.58 411.12,170.37 411.5,170.17 411.88,170.01 412.26,169.86 412.63,169.75 413.01,169.66 413.39,169.6 413.77,169.54 414.15,169.49 414.52,169.43 414.9,169.39 415.28,169.34 415.66,169.3 416.04,169.27 416.42,169.24 416.79,169.22 417.17,169.21 417.55,169.2 417.93,169.2 418.31,169.2 418.68,169.2 419.06,169.2 419.44,169.2 419.82,169.2 420.2,169.2 420.58,169.2 420.95,169.2 421.33,169.2 421.71,169.2 422.09,169.2 422.47,169.21 422.85,169.23 423.22,169.26 423.6,169.29 423.98,169.32 424.36,169.36 424.74,169.41 425.11,169.46 425.49,169.51 425.87,169.57 426.25,169.63 426.63,169.7 427.01,169.8 427.38,169.93 427.76,170.09 428.14,170.27 428.52,170.47 428.9,170.69 429.27,170.93 429.65,171.18 430.03,171.45 430.41,171.75 430.79,172.12 431.17,172.54 431.54,173.02 431.92,173.54 432.3,174.09 432.68,174.67 433.06,175.27 433.43,175.9 433.81,176.61 434.19,177.39 434.57,178.24 434.95,179.11 435.33,180 435.7,180.89 436.08,181.75 436.46,182.56 436.84,183.34 437.22,184.11 437.59,184.88 437.97,185.64 438.35,186.39 438.73,187.13 439.11,187.86 439.49,188.58 439.86,189.29 440.24,189.98 440.62,190.73 441,191.54 441.38,192.38 441.75,193.23 442.13,194.08 442.51,194.9 442.89,195.66 443.27,196.34 443.65,196.91 444.02,197.36 444.4,197.67 444.78,197.8 445.16,197.8 445.54,197.8 445.92,197.8 446.29,197.8 446.67,197.8 447.05,197.8 447.43,197.8 447.81,197.8 448.18,197.8 448.56,197.8 448.94,197.8 449.32,197.8 449.7,197.8 450.08,197.8 450.45,197.8 450.83,197.8 451.21,197.8 451.59,197.8 451.97,197.8 452.34,197.8 452.72,197.8 453.1,197.8 453.48,197.8 453.86,197.8 454.24,197.8 454.61,197.8 454.99,197.8 455.37,197.8 455.75,197.8 456.13,197.8 456.5,197.8 456.88,197.8 457.26,197.8 457.64,197.8 458.02,197.8 458.4,197.8 458.77,197.8 459.15,197.8 459.53,197.8 459.91,197.8 460.29,197.8 460.66,197.8 461.04,197.8 461.42,197.8 461.8,197.8 462.18,197.8 462.56,197.8 462.93,197.8 463.31,197.8 463.69,197.8 464.07,197.8 464.45,197.8 464.82,197.8 465.2,197.8 465.58,197.8 465.96,197.8 466.34,197.8 466.72,197.8 467.09,197.8 467.47,197.8 467.85,197.8 468.23,197.8 468.61,197.8 468.98,197.8 469.36,197.8 469.74,197.8 470.12,197.8 470.5,197.67 470.88,197.36 471.25,196.91 471.63,196.34 472.01,195.66 472.39,194.9 472.77,194.08 473.15,193.23 473.52,192.38 473.9,191.54 474.28,190.73 474.66,189.98 475.04,189.29 475.41,188.58 475.79,187.86 476.17,187.13 476.55,186.39 476.93,185.64 477.31,184.88 477.68,184.11 478.06,183.34 478.44,182.56 478.82,181.75 479.2,180.89 479.57,180 479.95,179.11 480.33,178.24 480.71,177.39 481.09,176.61 481.47,175.9 481.84,175.27 482.22,174.67 482.6,174.09 482.98,173.54 483.36,173.02 483.73,172.54 484.11,172.12 484.49,171.75 484.87,171.45 485.25,171.18 485.63,170.93 486,170.69 486.38,170.47 486.76,170.27 487.14,170.09 487.52,169.93 487.89,169.8 488.27,169.7 488.65,169.63 489.03,169.57 489.41,169.51 489.79,169.46 490.16,169.41 490.54,169.36 490.92,169.32 491.3,169.29 491.68,169.26 492.05,169.23 492.43,169.21 492.81,169.2 493.19,169.2 493.57,169.2 493.95,169.2 494.32,169.2 494.7,169.2 495.08,169.2 495.46,169.2 495.84,169.2 496.22,169.2 496.59,169.2 496.97,169.2 497.35,169.2 497.73,169.21 498.11,169.22 498.48,169.24 498.86,169.27 499.24,169.3 499.62,169.34 500,169.39 500.38,169.43 500.75,169.49 501.13,169.54 501.51,169.6 501.89,169.66 502.27,169.75 502.64,169.86 503.02,170.01 503.4,170.17 503.78,170.37 504.16,170.58 504.54,170.81 504.91,171.05 505.29,171.31 505.67,171.59 506.05,171.92 506.43,172.32 506.8,172.77 507.18,173.27 507.56,173.81 507.94,174.38 508.32,174.97 508.7,175.58 509.07,176.24 509.45,176.99 509.83,177.81 510.21,178.67 510.59,179.56 510.96,180.45 511.34,181.32 511.72,182.16 512.1,182.95 512.48,183.73 512.86,184.5 513.23,185.26 513.61,186.01 513.99,186.76 514.37,187.5 514.75,188.22 515.12,188.94 515.5,189.64 515.88,190.35 516.26,191.13 516.64,191.95 517.02,192.81 517.39,193.66 517.77,194.49 518.15,195.28 518.53,196.01 518.91,196.64 519.28,197.16 519.66,197.54 520.04,197.75 520.42,197.8 520.8,197.8 521.18,197.8 521.55,197.8 521.93,197.8 522.31,197.8 522.69,197.8 523.07,197.8 523.45,197.8 523.82,197.8 524.2,197.8 524.58,197.8 524.96,197.8 525.34,197.8 525.71,197.8 526.09,197.8 526.47,197.8 526.85,197.8 527.23,197.8 527.61,197.8 527.98,197.8 528.36,197.8 528.74,197.8 529.12,197.8 529.5,197.8 529.87,197.8 530.25,197.8 530.63,197.8 531.01,197.8 531.39,197.8 531.77,197.8 532.14,197.8 532.52,197.8 532.9,197.8" stroke="#111" stroke-width="0.7" fill="none"/>
<polyline points="382,197.8 382.38,197.8 382.76,197.8 383.13,197.8 383.51,197.8 383.89,197.8 384.27,197.8 384.65,197.8 385.03,197.8 385.4,197.8 385.78,197.8 386.16,197.8 386.54,197.8 386.92,197.8 387.29,197.8 387.67,197.8 388.05,197.8 388.43,197.8 388.81,197.8 389.19,197.8 389.56,197.8 389.94,197.8 390.32,197.8 390.7,197.8 391.08,197.8 391.45,197.8 391.83,197.8 392.21,197.8 392.59,197.8 392.97,197.8 393.35,197.8 393.72,197.8 394.1,197.8 394.48,197.8 394.86,197.85 395.24,198.06 395.62,198.44 395.99,198.96 396.37,199.59 396.75,200.32 397.13,201.11 397.51,201.94 397.88,202.79 398.26,203.65 398.64,204.47 399.02,205.25 399.4,205.96 399.78,206.66 400.15,207.38 400.53,208.1 400.91,208.84 401.29,209.59 401.67,210.34 402.04,211.1 402.42,211.87 402.8,212.65 403.18,213.44 403.56,214.28 403.94,215.15 404.31,216.04 404.69,216.93 405.07,217.79 405.45,218.61 405.83,219.36 406.2,220.02 406.58,220.63 406.96,221.22 407.34,221.79 407.72,222.33 408.1,222.83 408.47,223.28 408.85,223.68 409.23,224.01 409.61,224.29 409.99,224.55 410.36,224.79 410.74,225.02 411.12,225.23 411.5,225.43 411.88,225.59 412.26,225.74 412.63,225.85 413.01,225.94 413.39,226 413.77,226.06 414.15,226.11 414.52,226.17 414.9,226.21 415.28,226.26 415.66,226.3 416.04,226.33 416.42,226.36 416.79,226.38 417.17,226.39 417.55,226.4 417.93,226.4 418.31,226.4 418.68,226.4 419.06,226.4 419.44,226.4 419.82,226.4 420.2,226.4 420.58,226.4 420.95,226.4 421.33,226.4 421.71,226.4 422.09,226.4 422.47,226.39 422.85,226.37 423.22,226.34 423.6,226.31 423.98,226.28 424.36,226.24 424.74,226.19 425.11,226.14 425.49,226.09 425.87,226.03 426.25,225.97 426.63,225.9 427.01,225.8 427.38,225.67 427.76,225.51 428.14,225.33 428.52,225.13 428.9,224.91 429.27,224.67 429.65,224.42 430.03,224.15 430.41,223.85 430.79,223.48 431.17,223.06 431.54,222.58 431.92,222.06 432.3,221.51 432.68,220.93 433.06,220.33 433.43,219.7 433.81,218.99 434.19,218.21 434.57,217.36 434.95,216.49 435.33,215.6 435.7,214.71 436.08,213.85 436.46,213.04 436.84,212.26 437.22,211.49 437.59,210.72 437.97,209.96 438.35,209.21 438.73,208.47 439.11,207.74 439.49,207.02 439.86,206.31 440.24,205.62 440.62,204.87 441,204.06 441.38,203.22 441.75,202.37 442.13,201.52 442.51,200.7 442.89,199.94 443.27,199.26 443.65,198.69 444.02,198.24 444.4,197.93 444.78,197.8 445.16,197.8 445.54,197.8 445.92,197.8 446.29,197.8 446.67,197.8 447.05,197.8 447.43,197.8 447.81,197.8 448.18,197.8 448.56,197.8 448.94,197.8 449.32,197.8 449.7,197.8 450.08,197.8 450.45,197.8 450.83,197.8 451.21,197.8 451.59,197.8 451.97,197.8 452.34,197.8 452.72,197.8 453.1,197.8 453.48,197.8 453.86,197.8 454.24,197.8 454.61,197.8 454.99,197.8 455.37,197.8 455.75,197.8 456.13,197.8 456.5,197.8 456.88,197.8 457.26,197.8 457.64,197.8 458.02,197.8 458.4,197.8 458.77,197.8 459.15,197.8 459.53,197.8 459.91,197.8 460.29,197.8 460.66,197.8 461.04,197.8 461.42,197.8 461.8,197.8 462.18,197.8 462.56,197.8 462.93,197.8 463.31,197.8 463.69,197.8 464.07,197.8 464.45,197.8 464.82,197.8 465.2,197.8 465.58,197.8 465.96,197.8 466.34,197.8 466.72,197.8 467.09,197.8 467.47,197.8 467.85,197.8 468.23,197.8 468.61,197.8 468.98,197.8 469.36,197.8 469.74,197.8 470.12,197.8 470.5,197.93 470.88,198.24 471.25,198.69 471.63,199.26 472.01,199.94 472.39,200.7 472.77,201.52 473.15,202.37 473.52,203.22 473.9,204.06 474.28,204.87 474.66,205.62 475.04,206.31 475.41,207.02 475.79,207.74 476.17,208.47 476.55,209.21 476.93,209.96 477.31,210.72 477.68,211.49 478.06,212.26 478.44,213.04 478.82,213.85 479.2,214.71 479.57,215.6 479.95,216.49 480.33,217.36 480.71,218.21 481.09,218.99 481.47,219.7 481.84,220.33 482.22,220.93 482.6,221.51 482.98,222.06 483.36,222.58 483.73,223.06 484.11,223.48 484.49,223.85 484.87,224.15 485.25,224.42 485.63,224.67 486,224.91 486.38,225.13 486.76,225.33 487.14,225.51 487.52,225.67 487.89,225.8 488.27,225.9 488.65,225.97 489.03,226.03 489.41,226.09 489.79,226.14 490.16,226.19 490.54,226.24 490.92,226.28 491.3,226.31 491.68,226.34 492.05,226.37 492.43,226.39 492.81,226.4 493.19,226.4 493.57,226.4 493.95,226.4 494.32,226.4 494.7,226.4 495.08,226.4 495.46,226.4 495.84,226.4 496.22,226.4 496.59,226.4 496.97,226.4 497.35,226.4 497.73,226.39 498.11,226.38 498.48,226.36 498.86,226.33 499.24,226.3 499.62,226.26 500,226.21 500.38,226.17 500.75,226.11 501.13,226.06 501.51,226 501.89,225.94 502.27,225.85 502.64,225.74 503.02,225.59 503.4,225.43 503.78,225.23 504.16,225.02 504.54,224.79 504.91,224.55 505.29,224.29 505.67,224.01 506.05,223.68 506.43,223.28 506.8,222.83 507.18,222.33 507.56,221.79 507.94,221.22 508.32,220.63 508.7,220.02 509.07,219.36 509.45,218.61 509.83,217.79 510.21,216.93 510.59,216.04 510.96,215.15 511.34,214.28 511.72,213.44 512.1,212.65 512.48,211.87 512.86,211.1 513.23,210.34 513.61,209.59 513.99,208.84 514.37,208.1 514.75,207.38 515.12,206.66 515.5,205.96 515.88,205.25 516.26,204.47 516.64,203.65 517.02,202.79 517.39,201.94 517.77,201.11 518.15,200.32 518.53,199.59 518.91,198.96 519.28,198.44 519.66,198.06 520.04,197.85 520.42,197.8 520.8,197.8 521.18,197.8 521.55,197.8 521.93,197.8 522.31,197.8 522.69,197.8 523.07,197.8 523.45,197.8 523.82,197.8 524.2,197.8 524.58,197.8 524.96,197.8 525.34,197.8 525.71,197.8 526.09,197.8 526.47,197.8 526.85,197.8 527.23,197.8 527.61,197.8 527.98,197.8 528.36,197.8 528.74,197.8 529.12,197.8 529.5,197.8 529.87,197.8 530.25,197.8 530.63,197.8 531.01,197.8 531.39,197.8 531.77,197.8 532.14,197.8 532.52,197.8 532.9,197.8" stroke="#111" stroke-width="0.7" fill="none"/>
</g>
<path d="M419.72 243.2v-3.0M419.72 152.4v3.0M457.45 243.2v-3.0M457.45 152.4v3.0M495.17 243.2v-3.0M495.17 152.4v3.0M382 220.5h3.0M532.9 220.5h-3.0M382 197.8h3.0M532.9 197.8h-3.0M382 175.1h3.0M532.9 175.1h-3.0" stroke="#262626" stroke-width="0.8" fill="none"/>
<rect x="382.0" y="152.4" width="150.9" height="90.8" stroke="#262626" stroke-width="0.8" fill="none"/>
<text x="379.8" y="155.4" font-size="9.3" text-anchor="end" letter-spacing="0.1">0.2</text>
<text x="379.8" y="178.1" font-size="9.3" text-anchor="end" letter-spacing="0.1">0.1</text>
<text x="379.8" y="200.8" font-size="9.3" text-anchor="end" letter-spacing="0.1">0</text>
<text x="379.8" y="223.5" font-size="9.3" text-anchor="end" letter-spacing="0.1">-0.1</text>
<text x="379.8" y="246.2" font-size="9.3" text-anchor="end" letter-spacing="0.1">-0.2</text>
<text x="382" y="253.6" font-size="9.3" text-anchor="middle" letter-spacing="0.1">0.035</text>
<text x="419.72" y="253.6" font-size="9.3" text-anchor="middle" letter-spacing="0.1">0.04</text>
<text x="457.45" y="253.6" font-size="9.3" text-anchor="middle" letter-spacing="0.1">0.045</text>
<text x="495.17" y="253.6" font-size="9.3" text-anchor="middle" letter-spacing="0.1">0.05</text>
<text x="532.9" y="253.6" font-size="9.3" text-anchor="middle" letter-spacing="0.1">0.055</text>
<text transform="translate(361 197.6) rotate(-90)" font-size="10" text-anchor="middle" letter-spacing="0.15"><tspan font-style="italic">r&#770;</tspan><tspan font-size="7" font-style="italic" dy="1.8">a</tspan><tspan dy="-1.8" dx="0.8">(0.5, </tspan><tspan font-style="italic">&#977;</tspan>)</text>
<text x="457.5" y="265.8" font-size="10.5" text-anchor="middle"><tspan font-style="italic">t</tspan>,<tspan dx="3">s</tspan></text>
<text x="158.5" y="283.4" font-size="10.5" text-anchor="middle">(<tspan font-weight="bold">c</tspan>)</text>
<text x="447.5" y="283.4" font-size="10.5" text-anchor="middle">(<tspan font-weight="bold">d</tspan>)</text>
<path d="M69.13 294.3V385.1M102.75 294.3V385.1M136.38 294.3V385.1M170 294.3V385.1M203.62 294.3V385.1M237.25 294.3V385.1M270.88 294.3V385.1M35.5 369.97H304.5M35.5 354.83H304.5M35.5 339.7H304.5M35.5 324.57H304.5M35.5 309.43H304.5" stroke="#b4b4b4" stroke-width="0.6" stroke-dasharray="0.7 1.5" fill="none"/>
<text x="266.64" y="343.4" font-size="8.2" text-anchor="middle" letter-spacing="0.25">0.046</text>
<text x="293.05" y="343.4" font-size="8.2" text-anchor="middle" letter-spacing="0.25">0.048</text>
<g clip-path="url(#cl2)">
<polyline points="34.65,367.38 35.18,371.57 35.7,367.39 36.23,363.21 36.75,367.36 37.27,371.48 37.8,367.27 38.33,363.08 38.85,367.14 39.38,371.14 39.9,366.95 40.43,362.81 40.95,366.71 41.48,370.53 42,366.42 42.52,362.38 43.05,366.07 43.58,369.66 44.1,365.67 44.62,361.77 45.15,365.21 45.68,368.52 46.2,364.7 46.73,360.98 47.25,364.12 47.77,367.11 48.3,363.49 48.83,359.98 49.35,362.79 49.88,365.44 50.4,362.03 50.93,358.74 51.45,361.21 51.98,363.54 52.5,360.33 53.03,357.23 53.55,359.39 54.08,361.43 54.6,358.39 55.12,355.41 55.65,357.32 56.18,359.15 56.7,356.2 57.23,353.28 57.75,355.02 58.28,356.72 58.8,353.79 59.33,350.87 59.85,352.51 60.38,354.13 60.9,351.18 61.43,348.23 61.95,349.81 62.48,351.39 63,348.41 63.53,345.42 64.05,346.96 64.58,348.5 65.1,345.49 65.62,342.48 66.15,344 66.67,345.52 67.2,342.49 67.73,339.46 68.25,340.97 68.78,342.48 69.3,339.45 69.83,336.41 70.35,337.92 70.88,339.43 71.4,336.4 71.92,333.38 72.45,334.9 72.98,336.42 73.5,333.41 74.03,330.41 74.55,331.95 75.08,333.5 75.6,330.52 76.12,327.55 76.65,329.12 77.17,330.72 77.7,327.77 78.23,324.83 78.75,326.46 79.28,328.11 79.8,325.19 80.33,322.26 80.85,323.98 81.38,325.74 81.9,322.82 82.42,319.86 82.95,321.72 83.48,323.66 84,320.67 84.53,317.6 85.05,319.69 85.58,321.9 86.1,318.77 86.62,315.53 87.15,317.91 87.67,320.43 88.2,317.11 88.73,313.66 89.25,316.37 89.78,319.23 90.3,315.7 90.83,312.04 91.35,315.08 91.88,318.27 92.4,314.52 92.92,310.67 93.45,314.03 93.98,317.51 94.5,313.59 95.03,309.58 95.55,313.21 96.08,316.94 96.6,312.88 97.12,308.75 97.65,312.6 98.17,316.54 98.7,312.38 99.23,308.19 99.75,312.21 100.28,316.29 100.8,312.09 101.33,307.88 101.85,312.02 102.38,316.19 102.9,312.01 103.43,307.84 103.95,312.04 104.48,316.24 105,312.12 105.53,308.05 106.05,312.25 106.58,316.43 107.1,312.44 107.62,308.52 108.15,312.68 108.68,316.78 109.2,312.97 109.73,309.25 110.25,313.31 110.78,317.29 111.3,313.71 111.83,310.25 112.35,314.16 112.88,317.98 113.4,314.68 113.93,311.52 114.45,315.25 114.98,318.86 115.5,315.88 116.03,313.05 116.55,316.58 117.08,319.98 117.6,317.33 118.12,314.84 118.65,318.15 119.18,321.34 119.7,319.02 120.23,316.84 120.75,319.96 121.28,323 121.8,320.97 122.33,319.03 122.85,322.03 123.38,324.97 123.9,323.14 124.43,321.39 124.95,324.32 125.48,327.23 126,325.55 126.53,323.89 127.05,326.83 127.58,329.76 128.1,328.15 128.62,326.56 129.15,329.52 129.68,332.49 130.2,330.93 130.72,329.37 131.25,332.37 131.78,335.37 132.3,333.83 132.83,332.31 133.35,335.33 133.88,338.35 134.4,336.84 134.93,335.32 135.45,338.36 135.97,341.39 136.5,339.88 137.03,338.37 137.55,341.41 138.08,344.44 138.6,342.93 139.12,341.41 139.65,344.43 140.18,347.45 140.7,345.92 141.22,344.38 141.75,347.38 142.28,350.37 142.8,348.81 143.33,347.24 143.85,350.21 144.38,353.17 144.9,351.57 145.43,349.95 145.95,352.88 146.47,355.82 147,354.15 147.53,352.45 148.05,355.37 148.58,358.3 149.1,356.53 149.62,354.68 150.15,357.63 150.68,360.64 151.2,358.68 151.72,356.61 152.25,359.66 152.78,362.81 153.3,360.59 153.83,358.23 154.35,361.45 154.88,364.79 155.4,362.26 155.93,359.57 156.45,363 156.97,366.54 157.5,363.67 158.03,360.65 158.55,364.29 159.08,368.05 159.6,364.85 160.12,361.52 160.65,365.35 161.18,369.28 161.7,365.79 162.22,362.18 162.75,366.18 163.28,370.25 163.8,366.51 164.33,362.67 164.85,366.79 165.38,370.95 165.9,367.01 166.43,363 166.95,367.18 167.47,371.39 168,367.3 168.53,363.18 169.05,367.37 169.58,371.57 170.1,367.39 170.62,363.21 171.15,367.36 171.68,371.49 172.2,367.28 172.72,363.09 173.25,367.15 173.78,371.16 174.3,366.97 174.83,362.83 175.35,366.74 175.88,370.57 176.4,366.45 176.93,362.4 177.45,366.11 177.97,369.71 178.5,365.71 179.03,361.81 179.55,365.26 180.08,368.58 180.6,364.75 181.12,361.03 181.65,364.18 182.18,367.18 182.7,363.55 183.22,360.04 183.75,362.86 184.28,365.53 184.8,362.11 185.33,358.81 185.85,361.29 186.38,363.64 186.9,360.42 187.43,357.31 187.95,359.48 188.47,361.54 189,358.48 189.53,355.5 190.05,357.43 190.58,359.27 191.1,356.31 191.62,353.39 192.15,355.14 192.68,356.84 193.2,353.91 193.72,350.99 194.25,352.64 194.78,354.26 195.3,351.31 195.83,348.36 196.35,349.95 196.88,351.52 197.4,348.54 197.93,345.56 198.45,347.1 198.97,348.64 199.5,345.64 200.03,342.62 200.55,344.14 201.08,345.66 201.6,342.64 202.12,339.61 202.65,341.12 203.18,342.62 203.7,339.59 204.23,336.56 204.75,338.07 205.28,339.58 205.8,336.55 206.33,333.52 206.85,335.04 207.38,336.56 207.9,333.55 208.43,330.55 208.95,332.09 209.48,333.64 210,330.66 210.53,327.68 211.05,329.26 211.58,330.84 212.1,327.9 212.62,324.95 213.15,326.58 213.68,328.23 214.2,325.31 214.73,322.38 215.25,324.09 215.78,325.85 216.3,322.93 216.83,319.97 217.35,321.82 217.88,323.76 218.4,320.77 218.93,317.71 219.45,319.78 219.98,321.98 220.5,318.85 221.03,315.62 221.55,317.99 222.08,320.5 222.6,317.18 223.12,313.74 223.65,316.44 224.18,319.29 224.7,315.76 225.23,312.11 225.75,315.14 226.28,318.31 226.8,314.58 227.33,310.73 227.85,314.07 228.38,317.54 228.9,313.63 229.43,309.62 229.95,313.24 230.48,316.96 231,312.91 231.53,308.78 232.05,312.63 232.58,316.55 233.1,312.4 233.62,308.21 234.15,312.23 234.68,316.3 235.2,312.1 235.73,307.89 236.25,312.03 236.78,316.19 237.3,312.01 237.83,307.84 238.35,312.03 238.88,316.23 239.4,312.11 239.93,308.03 240.45,312.24 240.98,316.42 241.5,312.42 242.03,308.49 242.55,312.65 243.08,316.76 243.6,312.94 244.12,309.21 244.65,313.27 245.18,317.26 245.7,313.67 246.23,310.2 246.75,314.12 247.28,317.94 247.8,314.63 248.33,311.45 248.85,315.19 249.38,318.82 249.9,315.82 250.43,312.97 250.95,316.51 251.48,319.92 252,317.26 252.53,314.74 253.05,318.07 253.58,321.27 254.1,318.94 254.62,316.74 255.15,319.87 255.68,322.91 256.2,320.87 256.73,318.93 257.25,321.92 257.78,324.86 258.3,323.04 258.82,321.27 259.35,324.2 259.88,327.12 260.4,325.43 260.93,323.77 261.45,326.7 261.98,329.64 262.5,328.02 263.03,326.43 263.55,329.39 264.07,332.36 264.6,330.79 265.12,329.23 265.65,332.23 266.18,335.23 266.7,333.69 267.23,332.17 267.75,335.18 268.28,338.21 268.8,336.69 269.32,335.18 269.85,338.21 270.38,341.24 270.9,339.74 271.43,338.23 271.95,341.26 272.48,344.29 273,342.78 273.53,341.27 274.05,344.29 274.57,347.3 275.1,345.78 275.62,344.24 276.15,347.24 276.68,350.23 277.2,348.68 277.73,347.11 278.25,350.08 278.78,353.04 279.3,351.44 279.82,349.83 280.35,352.76 280.88,355.69 281.4,354.03 281.93,352.34 282.45,355.25 282.98,358.19 283.5,356.42 284.03,354.59 284.55,357.53 285.07,360.53 285.6,358.58 286.12,356.53 286.65,359.57 287.18,362.71 287.7,360.5 288.23,358.16 288.75,361.37 289.28,364.7 289.8,362.18 290.32,359.51 290.85,362.93 291.38,366.47 291.9,363.61 292.43,360.61 292.95,364.24 293.48,367.98 294,364.8 294.53,361.48 295.05,365.3 295.57,369.23 296.1,365.75 296.62,362.15 297.15,366.14 297.68,370.21 298.2,366.48 298.73,362.65 299.25,366.76 299.78,370.92 300.3,366.99 300.82,362.99 301.35,367.17 301.88,371.37 302.4,367.29 302.93,363.17 303.45,367.37 303.98,371.57 304.5,367.39 305.03,363.21 305.55,367.37" stroke="#0072BD" stroke-width="0.8" fill="none" stroke-linejoin="round"/>
<polyline points="35.5,367.39 37.19,367.33 38.88,367.13 40.58,366.8 42.27,366.34 43.96,365.73 45.65,364.97 47.34,364.07 49.03,363.01 50.73,361.78 52.42,360.4 54.11,358.86 55.8,357.16 57.49,355.32 59.19,353.33 60.88,351.21 62.57,348.99 64.26,346.67 65.95,344.28 67.64,341.85 69.34,339.39 71.03,336.94 72.72,334.51 74.41,332.14 76.1,329.85 77.8,327.65 79.49,325.56 81.18,323.61 82.87,321.8 84.56,320.14 86.25,318.64 87.95,317.3 89.64,316.11 91.33,315.09 93.02,314.22 94.71,313.51 96.41,312.93 98.1,312.5 99.79,312.21 101.48,312.04 103.17,312.01 104.86,312.11 106.56,312.34 108.25,312.7 109.94,313.2 111.63,313.85 113.32,314.64 115.02,315.58 116.71,316.68 118.4,317.95 120.09,319.37 121.78,320.95 123.47,322.68 125.17,324.57 126.86,326.59 128.55,328.73 130.24,330.98 131.93,333.32 133.63,335.72 135.32,338.16 137.01,340.62 138.7,343.07 140.39,345.48 142.08,347.84 143.78,350.11 145.47,352.29 147.16,354.34 148.85,356.26 150.54,358.03 152.24,359.65 153.93,361.11 155.62,362.42 157.31,363.56 159,364.54 160.69,365.37 162.39,366.05 164.08,366.59 165.77,366.98 167.46,367.25 169.15,367.38 170.85,367.38 172.54,367.25 174.23,366.98 175.92,366.59 177.61,366.05 179.31,365.37 181,364.54 182.69,363.56 184.38,362.42 186.07,361.11 187.76,359.65 189.46,358.03 191.15,356.26 192.84,354.34 194.53,352.29 196.22,350.11 197.92,347.84 199.61,345.48 201.3,343.07 202.99,340.62 204.68,338.16 206.37,335.72 208.07,333.32 209.76,330.98 211.45,328.73 213.14,326.59 214.83,324.57 216.53,322.68 218.22,320.95 219.91,319.37 221.6,317.95 223.29,316.68 224.98,315.58 226.68,314.64 228.37,313.85 230.06,313.2 231.75,312.7 233.44,312.34 235.14,312.11 236.83,312.01 238.52,312.04 240.21,312.21 241.9,312.5 243.59,312.93 245.29,313.51 246.98,314.22 248.67,315.09 250.36,316.11 252.05,317.3 253.75,318.64 255.44,320.14 257.13,321.8 258.82,323.61 260.51,325.56 262.2,327.65 263.9,329.85 265.59,332.14 267.28,334.51 268.97,336.94 270.66,339.39 272.36,341.85 274.05,344.28 275.74,346.67 277.43,348.99 279.12,351.21 280.81,353.33 282.51,355.32 284.2,357.16 285.89,358.86 287.58,360.4 289.27,361.78 290.97,363.01 292.66,364.07 294.35,364.97 296.04,365.73 297.73,366.34 299.42,366.8 301.12,367.13 302.81,367.33 304.5,367.39" stroke="#0072BD" stroke-width="0.9" fill="none"/>
<polyline points="35.5,363.31 37.19,363.26 38.88,363.12 40.58,362.89 42.27,362.56 43.96,362.12 45.65,361.57 47.34,360.9 49.03,360.11 50.73,359.19 52.42,358.12 54.11,356.91 55.8,355.54 57.49,354.02 59.19,352.34 60.88,350.51 62.57,348.53 64.26,346.41 65.95,344.17 67.64,341.82 69.34,339.39 71.03,336.9 72.72,334.37 74.41,331.84 76.1,329.33 77.8,326.87 79.49,324.5 81.18,322.23 82.87,320.09 84.56,318.1 86.25,316.27 87.95,314.62 89.64,313.15 91.33,311.87 93.02,310.77 94.71,309.85 96.41,309.12 98.1,308.56 99.79,308.18 101.48,307.97 103.17,307.93 104.86,308.05 106.56,308.35 108.25,308.82 109.94,309.46 111.63,310.29 113.32,311.29 115.02,312.48 116.71,313.86 118.4,315.42 120.09,317.17 121.78,319.08 123.47,321.14 125.17,323.35 126.86,325.67 128.55,328.09 130.24,330.58 131.93,333.1 133.63,335.64 135.32,338.15 137.01,340.62 138.7,343.01 140.39,345.31 142.08,347.49 143.78,349.54 145.47,351.44 147.16,353.2 148.85,354.8 150.54,356.24 152.24,357.53 153.93,358.67 155.62,359.67 157.31,360.52 159,361.25 160.69,361.86 162.39,362.35 164.08,362.74 165.77,363.02 167.46,363.2 169.15,363.3 170.85,363.3 172.54,363.2 174.23,363.02 175.92,362.74 177.61,362.35 179.31,361.86 181,361.25 182.69,360.52 184.38,359.67 186.07,358.67 187.76,357.53 189.46,356.24 191.15,354.8 192.84,353.2 194.53,351.44 196.22,349.54 197.92,347.49 199.61,345.31 201.3,343.01 202.99,340.62 204.68,338.15 206.37,335.64 208.07,333.1 209.76,330.58 211.45,328.09 213.14,325.67 214.83,323.35 216.53,321.14 218.22,319.08 219.91,317.17 221.6,315.42 223.29,313.86 224.98,312.48 226.68,311.29 228.37,310.29 230.06,309.46 231.75,308.82 233.44,308.35 235.14,308.05 236.83,307.93 238.52,307.97 240.21,308.18 241.9,308.56 243.59,309.12 245.29,309.85 246.98,310.77 248.67,311.87 250.36,313.15 252.05,314.62 253.75,316.27 255.44,318.1 257.13,320.09 258.82,322.23 260.51,324.5 262.2,326.87 263.9,329.33 265.59,331.84 267.28,334.37 268.97,336.9 270.66,339.39 272.36,341.82 274.05,344.17 275.74,346.41 277.43,348.53 279.12,350.51 280.81,352.34 282.51,354.02 284.2,355.54 285.89,356.91 287.58,358.12 289.27,359.19 290.97,360.11 292.66,360.9 294.35,361.57 296.04,362.12 297.73,362.56 299.42,362.89 301.12,363.12 302.81,363.26 304.5,363.31" stroke="#111" stroke-width="0.4" fill="none"/>
<polyline points="35.5,371.48 37.19,371.4 38.88,371.14 40.58,370.72 42.27,370.12 43.96,369.34 45.65,368.38 47.34,367.23 49.03,365.9 50.73,364.38 52.42,362.69 54.11,360.82 55.8,358.79 57.49,356.62 59.19,354.32 60.88,351.92 62.57,349.45 64.26,346.93 65.95,344.4 67.64,341.87 69.34,339.39 71.03,336.98 72.72,334.66 74.41,332.45 76.1,330.36 77.8,328.42 79.49,326.63 81.18,324.99 82.87,323.51 84.56,322.18 86.25,321 87.95,319.97 89.64,319.08 91.33,318.32 93.02,317.68 94.71,317.16 96.41,316.75 98.1,316.44 99.79,316.23 101.48,316.12 103.17,316.09 104.86,316.16 106.56,316.33 108.25,316.58 109.94,316.94 111.63,317.41 113.32,317.98 115.02,318.68 116.71,319.51 118.4,320.47 120.09,321.57 121.78,322.82 123.47,324.23 125.17,325.79 126.86,327.5 128.55,329.37 130.24,331.39 131.93,333.54 133.63,335.81 135.32,338.18 137.01,340.63 138.7,343.13 140.39,345.66 142.08,348.19 143.78,350.69 145.47,353.13 147.16,355.48 148.85,357.72 150.54,359.82 152.24,361.77 153.93,363.56 155.62,365.16 157.31,366.59 159,367.83 160.69,368.88 162.39,369.75 164.08,370.44 165.77,370.95 167.46,371.29 169.15,371.46 170.85,371.46 172.54,371.29 174.23,370.95 175.92,370.44 177.61,369.75 179.31,368.88 181,367.83 182.69,366.59 184.38,365.16 186.07,363.56 187.76,361.77 189.46,359.82 191.15,357.72 192.84,355.48 194.53,353.13 196.22,350.69 197.92,348.19 199.61,345.66 201.3,343.13 202.99,340.63 204.68,338.18 206.37,335.81 208.07,333.54 209.76,331.39 211.45,329.37 213.14,327.5 214.83,325.79 216.53,324.23 218.22,322.82 219.91,321.57 221.6,320.47 223.29,319.51 224.98,318.68 226.68,317.98 228.37,317.41 230.06,316.94 231.75,316.58 233.44,316.33 235.14,316.16 236.83,316.09 238.52,316.12 240.21,316.23 241.9,316.44 243.59,316.75 245.29,317.16 246.98,317.68 248.67,318.32 250.36,319.08 252.05,319.97 253.75,321 255.44,322.18 257.13,323.51 258.82,324.99 260.51,326.63 262.2,328.42 263.9,330.36 265.59,332.45 267.28,334.66 268.97,336.98 270.66,339.39 272.36,341.87 274.05,344.4 275.74,346.93 277.43,349.45 279.12,351.92 280.81,354.32 282.51,356.62 284.2,358.79 285.89,360.82 287.58,362.69 289.27,364.38 290.97,365.9 292.66,367.23 294.35,368.38 296.04,369.34 297.73,370.12 299.42,370.72 301.12,371.14 302.81,371.4 304.5,371.48" stroke="#111" stroke-width="0.4" fill="none"/>
<polyline points="34.65,328.2 35.18,328.83 35.7,329.01 36.23,329.17 36.75,329.85 37.27,330.88 37.8,330.72 38.33,330.37 38.85,331.61 39.38,332.96 39.9,332.53 40.43,332.02 40.95,333.46 41.48,334.97 42,334.42 42.52,333.81 43.05,335.38 43.58,337.01 44.1,336.37 44.62,335.69 45.15,337.36 45.68,339.07 46.2,338.36 46.73,337.6 47.25,339.36 47.77,341.17 48.3,340.36 48.83,339.5 49.35,341.37 49.88,343.28 50.4,342.36 50.93,341.39 51.45,343.35 51.98,345.36 52.5,344.33 53.03,343.25 53.55,345.3 54.08,347.38 54.6,346.24 55.12,345.05 55.65,347.17 56.18,349.34 56.7,348.08 57.23,346.76 57.75,348.97 58.28,351.22 58.8,349.82 59.33,348.36 59.85,350.65 60.38,353 60.9,351.45 61.43,349.83 61.95,352.22 62.48,354.68 63,352.96 63.53,351.13 64.05,353.66 64.58,356.29 65.1,354.32 65.62,352.22 66.15,354.94 66.67,357.8 67.2,355.53 67.73,353.11 68.25,356.08 68.78,359.18 69.3,356.59 69.83,353.85 70.35,357.05 70.88,360.37 71.4,357.48 71.92,354.47 72.45,357.86 72.98,361.33 73.5,358.2 74.03,354.97 74.55,358.49 75.08,362.09 75.6,358.75 76.12,355.31 76.65,358.96 77.17,362.67 77.7,359.13 78.23,355.51 78.75,359.25 79.28,363.03 79.8,359.33 80.33,355.59 80.85,359.37 81.38,363.15 81.9,359.36 82.42,355.58 82.95,359.31 83.48,363.01 84,359.22 84.53,355.46 85.05,359.09 85.58,362.65 86.1,358.91 86.62,355.22 87.15,358.68 87.67,362.07 88.2,358.42 88.73,354.84 89.25,358.11 89.78,361.28 90.3,357.76 90.83,354.32 91.35,357.36 91.88,360.3 92.4,356.93 92.92,353.65 93.45,356.45 93.98,359.12 94.5,355.93 95.03,352.89 95.55,355.37 96.08,357.66 96.6,354.78 97.12,352.1 97.65,354.14 98.17,355.92 98.7,353.47 99.23,351.29 99.75,352.76 100.28,353.87 100.8,352.01 101.33,350.68 101.85,351.24 102.38,351.09 102.9,350.43 103.43,349.77 103.95,349.59 104.48,349.75 105,348.72 105.53,347.49 106.05,347.83 106.58,348.27 107.1,346.92 107.62,345.49 108.15,345.98 108.68,346.54 109.2,345.03 109.73,343.46 110.25,344.06 110.78,344.7 111.3,343.08 111.83,341.42 112.35,342.09 112.88,342.8 113.4,341.09 113.93,339.33 114.45,340.09 114.98,340.89 115.5,339.08 116.03,337.22 116.55,338.08 117.08,339 117.6,337.08 118.12,335.12 118.65,336.09 119.18,337.12 119.7,335.12 120.23,333.07 120.75,334.15 121.28,335.28 121.8,333.2 122.33,331.08 122.85,332.27 123.38,333.52 123.9,331.36 124.43,329.15 124.95,330.48 125.48,331.86 126,329.62 126.53,327.32 127.05,328.78 127.58,330.32 128.1,327.98 128.62,325.59 129.15,327.21 129.68,328.93 130.2,326.48 130.72,323.95 131.25,325.78 131.78,327.73 132.3,325.11 132.83,322.38 133.35,324.48 133.88,326.74 134.4,323.9 134.93,320.92 135.45,323.35 135.97,325.92 136.5,322.84 137.03,319.63 137.55,322.37 138.08,325.25 138.6,321.94 139.12,318.55 139.65,321.56 140.18,324.67 140.7,321.22 141.22,317.69 141.75,320.92 142.28,324.24 142.8,320.66 143.33,317.01 143.85,320.45 144.38,323.98 144.9,320.28 145.43,316.53 145.95,320.15 146.47,323.84 147,320.07 147.53,316.28 148.05,320.03 148.58,323.8 149.1,320.03 149.62,316.29 150.15,320.08 150.68,323.86 151.2,320.17 151.72,316.53 152.25,320.31 152.78,324.04 153.3,320.48 153.83,317 154.35,320.71 154.88,324.35 155.4,320.97 155.93,317.68 156.45,321.28 156.97,324.79 157.5,321.63 158.03,318.56 158.55,322.02 159.08,325.38 159.6,322.45 160.12,319.63 160.65,322.93 161.18,326.11 161.7,323.44 162.22,320.94 162.75,324 163.28,326.89 163.8,324.6 164.33,322.53 164.85,325.23 165.38,327.69 165.9,325.9 166.43,324.41 166.95,326.61 167.47,328.48 168,327.35 168.53,326.75 169.05,328.13 169.58,328.82 170.1,328.93 170.62,329.13 171.15,329.77 171.68,330.77 172.2,330.63 172.72,330.29 173.25,331.52 173.78,332.86 174.3,332.44 174.83,331.94 175.35,333.37 175.88,334.87 176.4,334.32 176.93,333.72 177.45,335.29 177.97,336.91 178.5,336.27 179.03,335.6 179.55,337.26 180.08,338.97 180.6,338.26 181.12,337.51 181.65,339.26 182.18,341.07 182.7,340.27 183.22,339.41 183.75,341.27 184.28,343.18 184.8,342.27 185.33,341.3 185.85,343.26 186.38,345.26 186.9,344.24 187.43,343.16 187.95,345.2 188.47,347.29 189,346.15 189.53,344.97 190.05,347.09 190.58,349.25 191.1,348 191.62,346.68 192.15,348.88 192.68,351.13 193.2,349.74 193.72,348.29 194.25,350.58 194.78,352.92 195.3,351.38 195.83,349.76 196.35,352.15 196.88,354.6 197.4,352.89 197.93,351.07 198.45,353.59 198.97,356.21 199.5,354.26 200.03,352.17 200.55,354.89 201.08,357.73 201.6,355.48 202.12,353.07 202.65,356.03 203.18,359.12 203.7,356.54 204.23,353.81 204.75,357.01 205.28,360.32 205.8,357.44 206.33,354.44 206.85,357.82 207.38,361.28 207.9,358.17 208.43,354.95 208.95,358.47 209.48,362.06 210,358.73 210.53,355.3 211.05,358.94 211.58,362.65 212.1,359.11 212.62,355.5 213.15,359.24 213.68,363.02 214.2,359.33 214.73,355.59 215.25,359.37 215.78,363.15 216.3,359.37 216.83,355.58 217.35,359.32 217.88,363.02 218.4,359.23 218.93,355.47 219.45,359.1 219.98,362.67 220.5,358.92 221.03,355.23 221.55,358.71 222.08,362.1 222.6,358.44 223.12,354.86 223.65,358.14 224.18,361.32 224.7,357.79 225.23,354.35 225.75,357.4 226.28,360.35 226.8,356.97 227.33,353.68 227.85,356.5 228.38,359.18 228.9,355.98 229.43,352.93 229.95,355.43 230.48,357.74 231,354.83 231.53,352.13 232.05,354.2 232.58,356.01 233.1,353.53 233.62,351.33 234.15,352.83 234.68,353.98 235.2,352.09 235.73,350.69 236.25,351.31 236.78,351.24 237.3,350.51 237.83,349.89 238.35,349.67 238.88,349.8 239.4,348.81 239.93,347.59 240.45,347.92 240.98,348.35 241.5,347.01 242.03,345.58 242.55,346.07 243.08,346.63 243.6,345.12 244.12,343.56 244.65,344.15 245.18,344.79 245.7,343.17 246.23,341.51 246.75,342.18 247.28,342.89 247.8,341.19 248.33,339.43 248.85,340.18 249.38,340.98 249.9,339.18 250.43,337.32 250.95,338.18 251.48,339.09 252,337.18 252.53,335.22 253.05,336.19 253.58,337.21 254.1,335.21 254.62,333.17 255.15,334.24 255.68,335.37 256.2,333.29 256.73,331.17 257.25,332.36 257.78,333.6 258.3,331.45 258.82,329.24 259.35,330.56 259.88,331.94 260.4,329.7 260.93,327.41 261.45,328.86 261.98,330.39 262.5,328.06 263.03,325.67 263.55,327.29 264.07,328.99 264.6,326.55 265.12,324.02 265.65,325.84 266.18,327.78 266.7,325.17 267.23,322.45 267.75,324.54 268.28,326.78 268.8,323.95 269.32,320.99 269.85,323.4 270.38,325.96 270.9,322.88 271.43,319.68 271.95,322.41 272.48,325.28 273,321.98 273.53,318.59 274.05,321.59 274.57,324.7 275.1,321.25 275.62,317.73 276.15,320.95 276.68,324.26 277.2,320.68 277.73,317.04 278.25,320.47 278.78,323.99 279.3,320.29 279.82,316.55 280.35,320.16 280.88,323.84 281.4,320.08 281.93,316.29 282.45,320.03 282.98,323.8 283.5,320.03 284.03,316.28 284.55,320.08 285.07,323.86 285.6,320.16 286.12,316.52 286.65,320.29 287.18,324.03 287.7,320.47 288.23,316.97 288.75,320.68 289.28,324.33 289.8,320.94 290.32,317.65 290.85,321.25 291.38,324.77 291.9,321.59 292.43,318.52 292.95,321.98 293.48,325.35 294,322.41 294.53,319.58 295.05,322.88 295.57,326.07 296.1,323.39 296.62,320.87 297.15,323.94 297.68,326.85 298.2,324.54 298.73,322.45 299.25,325.17 299.78,327.65 300.3,325.84 300.82,324.32 301.35,326.54 301.88,328.44 302.4,327.28 302.93,326.62 303.45,328.05 303.98,328.81 304.5,328.85 305.03,329.08 305.55,329.69" stroke="#77AC30" stroke-width="0.8" fill="none" stroke-linejoin="round"/>
<polyline points="35.5,328.85 37.19,330.21 38.88,331.64 40.58,333.13 42.27,334.66 43.96,336.23 45.65,337.83 47.34,339.45 49.03,341.07 50.73,342.67 52.42,344.25 54.11,345.8 55.8,347.31 57.49,348.75 59.19,350.13 60.88,351.44 62.57,352.66 64.26,353.79 65.95,354.83 67.64,355.77 69.34,356.6 71.03,357.33 72.72,357.95 74.41,358.46 76.1,358.86 77.8,359.14 79.49,359.31 81.18,359.37 82.87,359.32 84.56,359.15 86.25,358.88 87.95,358.48 89.64,357.98 91.33,357.37 93.02,356.65 94.71,355.82 96.41,354.89 98.1,353.86 99.79,352.73 101.48,351.51 103.17,350.21 104.86,348.84 106.56,347.39 108.25,345.89 109.94,344.35 111.63,342.77 113.32,341.16 115.02,339.55 116.71,337.93 118.4,336.33 120.09,334.75 121.78,333.22 123.47,331.73 125.17,330.3 126.86,328.93 128.55,327.65 130.24,326.45 131.93,325.34 133.63,324.33 135.32,323.41 137.01,322.61 138.7,321.91 140.39,321.31 142.08,320.83 143.78,320.46 145.47,320.21 147.16,320.06 148.85,320.03 150.54,320.11 152.24,320.3 153.93,320.61 155.62,321.03 157.31,321.56 159,322.2 160.69,322.95 162.39,323.8 164.08,324.76 165.77,325.82 167.46,326.97 169.15,328.2 170.85,329.52 172.54,330.92 174.23,332.38 175.92,333.89 177.61,335.44 179.31,337.03 181,338.64 182.69,340.26 184.38,341.87 186.07,343.47 187.76,345.03 189.46,346.56 191.15,348.04 192.84,349.45 194.53,350.79 196.22,352.06 197.92,353.24 199.61,354.32 201.3,355.31 202.99,356.2 204.68,356.98 206.37,357.65 208.07,358.22 209.76,358.67 211.45,359.01 213.14,359.24 214.83,359.36 216.53,359.36 218.22,359.25 219.91,359.03 221.6,358.69 223.29,358.25 224.98,357.69 226.68,357.02 228.37,356.25 230.06,355.37 231.75,354.39 233.44,353.31 235.14,352.13 236.83,350.87 238.52,349.53 240.21,348.12 241.9,346.65 243.59,345.13 245.29,343.56 246.98,341.97 248.67,340.36 250.36,338.74 252.05,337.13 253.75,335.54 255.44,333.98 257.13,332.46 258.82,331 260.51,329.61 262.2,328.28 263.9,327.04 265.59,325.88 267.28,324.82 268.97,323.86 270.66,323 272.36,322.24 274.05,321.6 275.74,321.06 277.43,320.63 279.12,320.32 280.81,320.12 282.51,320.03 284.2,320.06 285.89,320.19 287.58,320.44 289.27,320.81 290.97,321.28 292.66,321.87 294.35,322.56 296.04,323.36 297.73,324.27 299.42,325.28 301.12,326.38 302.81,327.57 304.5,328.85" stroke="#77AC30" stroke-width="0.9" fill="none"/>
<polyline points="35.5,328.85 37.19,329.64 38.88,330.79 40.58,332.14 42.27,333.59 43.96,335.09 45.65,336.62 47.34,338.16 49.03,339.69 50.73,341.21 52.42,342.72 54.11,344.19 55.8,345.61 57.49,346.97 59.19,348.26 60.88,349.46 62.57,350.56 64.26,351.53 65.95,352.37 67.64,353.08 69.34,353.69 71.03,354.21 72.72,354.68 74.41,355.05 76.1,355.31 77.8,355.48 79.49,355.57 81.18,355.6 82.87,355.57 84.56,355.46 86.25,355.27 87.95,354.99 89.64,354.63 91.33,354.17 93.02,353.61 94.71,353 96.41,352.37 98.1,351.72 99.79,351.08 101.48,350.66 103.17,350.06 104.86,348.15 106.56,346.51 108.25,344.89 109.94,343.26 111.63,341.61 113.32,339.93 115.02,338.24 116.71,336.53 118.4,334.85 120.09,333.2 121.78,331.58 123.47,330.01 125.17,328.5 126.86,327.04 128.55,325.65 130.24,324.32 131.93,323.03 133.63,321.81 135.32,320.67 137.01,319.64 138.7,318.74 140.39,318.01 142.08,317.39 143.78,316.89 145.47,316.52 147.16,316.31 148.85,316.26 150.54,316.37 152.24,316.63 153.93,317.03 155.62,317.57 157.31,318.24 159,319.04 160.69,319.96 162.39,321.05 164.08,322.33 165.77,323.8 167.46,325.46 169.15,327.63 170.85,329.22 172.54,330.16 174.23,331.45 175.92,332.86 177.61,334.33 179.31,335.85 181,337.39 182.69,338.93 184.38,340.45 186.07,341.97 187.76,343.46 189.46,344.91 191.15,346.3 192.84,347.63 194.53,348.87 196.22,350.03 197.92,351.07 199.61,351.97 201.3,352.74 202.99,353.39 204.68,353.96 206.37,354.45 208.07,354.88 209.76,355.19 211.45,355.41 213.14,355.53 214.83,355.59 216.53,355.59 218.22,355.52 219.91,355.37 221.6,355.14 223.29,354.82 224.98,354.41 226.68,353.9 228.37,353.31 230.06,352.69 231.75,352.05 233.44,351.4 235.14,350.8 236.83,350.58 238.52,349.09 240.21,347.31 241.9,345.7 243.59,344.07 245.29,342.43 246.98,340.77 248.67,339.09 250.36,337.38 252.05,335.69 253.75,334.02 255.44,332.39 257.13,330.79 258.82,329.25 260.51,327.76 262.2,326.33 263.9,324.97 265.59,323.67 267.28,322.41 268.97,321.22 270.66,320.14 272.36,319.17 274.05,318.36 275.74,317.68 277.43,317.12 279.12,316.69 280.81,316.39 282.51,316.26 284.2,316.29 285.89,316.48 287.58,316.81 289.27,317.28 290.97,317.89 292.66,318.63 294.35,319.48 296.04,320.48 297.73,321.67 299.42,323.04 301.12,324.6 302.81,326.47 304.5,328.85" stroke="#111" stroke-width="0.4" fill="none"/>
<polyline points="35.5,328.85 37.19,330.79 38.88,332.49 40.58,334.11 42.27,335.74 43.96,337.38 45.65,339.05 47.34,340.74 49.03,342.44 50.73,344.13 52.42,345.79 54.11,347.42 55.8,349 57.49,350.53 59.19,352 60.88,353.41 62.57,354.75 64.26,356.05 65.95,357.29 67.64,358.46 69.34,359.52 71.03,360.45 72.72,361.22 74.41,361.87 76.1,362.4 77.8,362.8 79.49,363.06 81.18,363.15 82.87,363.07 84.56,362.85 86.25,362.48 87.95,361.98 89.64,361.34 91.33,360.57 93.02,359.68 94.71,358.64 96.41,357.41 98.1,355.99 99.79,354.38 101.48,352.37 103.17,350.36 104.86,349.52 106.56,348.28 108.25,346.9 109.94,345.44 111.63,343.93 113.32,342.39 115.02,340.86 116.71,339.33 118.4,337.81 120.09,336.31 121.78,334.85 123.47,333.44 125.17,332.1 126.86,330.83 128.55,329.65 130.24,328.58 131.93,327.64 133.63,326.85 135.32,326.16 137.01,325.58 138.7,325.07 140.39,324.62 142.08,324.28 143.78,324.04 145.47,323.89 147.16,323.82 148.85,323.8 150.54,323.85 152.24,323.98 153.93,324.19 155.62,324.49 157.31,324.88 159,325.36 160.69,325.94 162.39,326.55 164.08,327.19 165.77,327.84 167.46,328.47 169.15,328.78 170.85,329.82 172.54,331.68 174.23,333.3 175.92,334.92 177.61,336.56 179.31,338.21 181,339.89 182.69,341.59 184.38,343.29 186.07,344.96 187.76,346.61 189.46,348.21 191.15,349.77 192.84,351.27 194.53,352.72 196.22,354.09 197.92,355.41 199.61,356.68 201.3,357.89 202.99,359 204.68,360 206.37,360.85 208.07,361.56 209.76,362.15 211.45,362.62 213.14,362.95 214.83,363.12 216.53,363.13 218.22,362.98 219.91,362.69 221.6,362.25 223.29,361.67 224.98,360.97 226.68,360.14 228.37,359.18 230.06,358.05 231.75,356.72 233.44,355.21 235.14,353.46 236.83,351.16 238.52,349.98 240.21,348.93 241.9,347.6 243.59,346.18 245.29,344.69 246.98,343.16 248.67,341.62 250.36,340.09 252.05,338.57 253.75,337.05 255.44,335.57 257.13,334.14 258.82,332.76 260.51,331.45 262.2,330.23 263.9,329.1 265.59,328.09 267.28,327.23 268.97,326.49 270.66,325.86 272.36,325.31 274.05,324.83 275.74,324.43 277.43,324.15 279.12,323.95 280.81,323.84 282.51,323.8 284.2,323.82 285.89,323.91 287.58,324.08 289.27,324.33 290.97,324.67 292.66,325.11 294.35,325.64 296.04,326.24 297.73,326.87 299.42,327.51 301.12,328.16 302.81,328.68 304.5,328.85" stroke="#111" stroke-width="0.4" fill="none"/>
<polyline points="34.65,330.16 35.18,331.79 35.7,329.59 36.23,327.03 36.75,329.06 37.27,331.4 37.8,328.57 38.33,325.48 38.85,328.13 39.38,331.02 39.9,327.73 40.43,324.26 40.95,327.38 41.48,330.65 42,327.06 42.52,323.34 43.05,326.78 43.58,330.34 44.1,326.53 44.62,322.62 45.15,326.32 45.68,330.13 46.2,326.14 46.73,322.05 47.25,325.98 47.77,330 48.3,325.85 48.83,321.63 49.35,325.74 49.88,329.93 50.4,325.66 50.93,321.34 51.45,325.59 51.98,329.88 52.5,325.54 53.03,321.18 53.55,325.5 54.08,329.83 54.6,325.48 55.12,321.16 55.65,325.47 56.18,329.75 56.7,325.48 57.23,321.29 57.75,325.5 58.28,329.64 58.8,325.54 59.33,321.53 59.85,325.59 60.38,329.55 60.9,325.65 61.43,321.86 61.95,325.74 62.48,329.53 63,325.85 63.53,322.28 64.05,325.97 64.58,329.54 65.1,326.13 65.62,322.87 66.15,326.31 66.67,329.6 67.2,326.52 67.73,323.62 68.25,326.76 68.78,329.76 69.3,327.04 69.83,324.49 70.35,327.36 70.88,330.1 71.4,327.72 71.92,325.46 72.45,328.11 72.98,330.68 73.5,328.55 74.03,326.51 74.55,329.03 75.08,331.49 75.6,329.56 76.12,327.71 76.65,330.13 77.17,332.49 77.7,330.74 78.23,329.07 78.75,331.4 79.28,333.68 79.8,332.09 80.33,330.57 80.85,332.83 81.38,335.03 81.9,333.6 82.42,332.22 82.95,334.4 83.48,336.52 84,335.23 84.53,333.99 85.05,336.08 85.58,338.12 86.1,336.96 86.62,335.86 87.15,337.85 87.67,339.77 88.2,338.75 88.73,337.78 89.25,339.66 89.78,341.48 90.3,340.56 90.83,339.69 91.35,341.47 91.88,343.19 92.4,342.36 92.92,341.58 93.45,343.24 93.98,344.82 94.5,344.09 95.03,343.44 95.55,344.93 96.08,346.3 96.6,345.73 97.12,345.3 97.65,346.5 98.17,347.37 98.7,347.24 99.23,347.53 99.75,347.94 100.28,348.97 100.8,348.6 101.33,347.48 101.85,349.21 102.38,351.41 102.9,349.79 103.43,347.79 103.95,350.32 104.48,353.15 105,350.8 105.53,348.18 106.05,351.25 106.58,354.54 107.1,351.65 107.62,348.56 108.15,352.01 108.68,355.61 109.2,352.33 109.73,348.91 110.25,352.61 110.78,356.42 111.3,352.86 111.83,349.18 112.35,353.07 112.88,357.07 113.4,353.26 113.93,349.34 114.45,353.41 114.98,357.57 115.5,353.54 116.03,349.44 116.55,353.65 117.08,357.93 117.6,353.74 118.12,349.49 118.65,353.81 119.18,358.16 119.7,353.86 120.23,349.54 120.75,353.9 121.28,358.25 121.8,353.92 122.33,349.6 122.85,353.93 123.38,358.2 123.9,353.92 124.43,349.7 124.95,353.9 125.48,358.01 126,353.87 126.53,349.81 127.05,353.82 127.58,357.72 128.1,353.75 128.62,349.87 129.15,353.67 129.68,357.36 130.2,353.56 130.72,349.87 131.25,353.43 131.78,356.86 132.3,353.28 132.83,349.84 133.35,353.1 133.88,356.19 134.4,352.89 134.93,349.74 135.45,352.65 135.97,355.38 136.5,352.37 137.03,349.5 137.55,352.06 138.08,354.46 138.6,351.7 139.12,349.06 139.65,351.31 140.18,353.46 140.7,350.87 141.22,348.36 141.75,350.39 142.28,352.33 142.8,349.87 143.33,347.46 143.85,349.3 144.38,351.06 144.9,348.69 145.43,346.37 145.95,348.04 146.47,349.63 147,347.34 147.53,345.1 148.05,346.61 148.58,348.06 149.1,345.84 149.62,343.67 150.15,345.04 150.68,346.35 151.2,344.21 151.72,342.13 152.25,343.36 152.78,344.53 153.3,342.48 153.83,340.5 154.35,341.59 154.88,342.62 155.4,340.69 155.93,338.82 156.45,339.79 156.97,340.7 157.5,338.88 158.03,337.1 158.55,337.98 159.08,338.81 159.6,337.08 160.12,335.42 160.65,336.21 161.18,336.93 161.7,335.35 162.22,333.85 162.75,334.51 163.28,335.08 163.8,333.71 164.33,332.48 164.85,332.93 165.38,333.07 165.9,332.19 166.43,331.75 166.95,331.49 167.47,331.82 168,330.83 168.53,329.12 169.05,330.21 169.58,331.81 170.1,329.64 170.62,327.12 171.15,329.11 171.68,331.42 172.2,328.62 172.72,325.55 173.25,328.17 173.78,331.04 174.3,327.77 174.83,324.32 175.35,327.41 175.88,330.67 176.4,327.09 176.93,323.38 177.45,326.8 177.97,330.35 178.5,326.55 179.03,322.65 179.55,326.34 180.08,330.13 180.6,326.15 181.12,322.08 181.65,325.99 182.18,330.01 182.7,325.86 183.22,321.65 183.75,325.75 184.28,329.93 184.8,325.66 185.33,321.35 185.85,325.6 186.38,329.89 186.9,325.54 187.43,321.18 187.95,325.51 188.47,329.84 189,325.48 189.53,321.16 190.05,325.47 190.58,329.75 191.1,325.48 191.62,321.28 192.15,325.5 192.68,329.65 193.2,325.53 193.72,321.51 194.25,325.58 194.78,329.56 195.3,325.65 195.83,321.84 196.35,325.73 196.88,329.53 197.4,325.83 197.93,322.25 198.45,325.96 198.97,329.54 199.5,326.11 200.03,322.84 200.55,326.29 201.08,329.59 201.6,326.5 202.12,323.58 202.65,326.74 203.18,329.75 203.7,327.02 204.23,324.45 204.75,327.33 205.28,330.08 205.8,327.68 206.33,325.41 206.85,328.07 207.38,330.65 207.9,328.51 208.43,326.46 208.95,328.99 209.48,331.44 210,329.51 210.53,327.65 211.05,330.07 211.58,332.44 212.1,330.68 212.62,329 213.15,331.33 213.68,333.62 214.2,332.02 214.73,330.5 215.25,332.75 215.78,334.96 216.3,333.52 216.83,332.14 217.35,334.32 217.88,336.45 218.4,335.15 218.93,333.91 219.45,336 219.98,338.04 220.5,336.87 221.03,335.77 221.55,337.76 222.08,339.69 222.6,338.66 223.12,337.69 223.65,339.57 224.18,341.4 224.7,340.48 225.23,339.6 225.75,341.38 226.28,343.11 226.8,342.27 227.33,341.49 227.85,343.15 228.38,344.75 228.9,344.01 229.43,343.35 229.95,344.85 230.48,346.24 231,345.65 231.53,345.2 232.05,346.43 232.58,347.33 233.1,347.17 233.62,347.42 234.15,347.87 234.68,348.83 235.2,348.54 235.73,347.49 236.25,349.16 236.78,351.32 237.3,349.74 237.83,347.77 238.35,350.27 238.88,353.07 239.4,350.76 239.93,348.16 240.45,351.21 240.98,354.48 241.5,351.61 242.03,348.54 242.55,351.98 243.08,355.56 243.6,352.3 244.12,348.89 244.65,352.59 245.18,356.38 245.7,352.84 246.23,349.17 246.75,353.05 247.28,357.04 247.8,353.24 248.33,349.34 248.85,353.4 249.38,357.55 249.9,353.53 250.43,349.43 250.95,353.64 251.48,357.91 252,353.73 252.53,349.49 253.05,353.8 253.58,358.15 254.1,353.86 254.62,349.54 255.15,353.89 255.68,358.25 256.2,353.92 256.73,349.6 257.25,353.93 257.78,358.2 258.3,353.92 258.82,349.7 259.35,353.9 259.88,358.02 260.4,353.87 260.93,349.8 261.45,353.82 261.98,357.74 262.5,353.76 263.03,349.87 263.55,353.67 264.07,357.38 264.6,353.57 265.12,349.87 265.65,353.45 266.18,356.89 266.7,353.3 267.23,349.84 267.75,353.12 268.28,356.23 268.8,352.91 269.32,349.75 269.85,352.67 270.38,355.42 270.9,352.4 271.43,349.52 271.95,352.09 272.48,354.5 273,351.74 273.53,349.08 274.05,351.35 274.57,353.5 275.1,350.91 275.62,348.4 276.15,350.44 276.68,352.39 277.2,349.92 277.73,347.51 278.25,349.36 278.78,351.13 279.3,348.75 279.82,346.42 280.35,348.1 280.88,349.71 281.4,347.41 281.93,345.16 282.45,346.68 282.98,348.14 283.5,345.92 284.03,343.74 284.55,345.12 285.07,346.43 285.6,344.29 286.12,342.2 286.65,343.44 287.18,344.62 287.7,342.57 288.23,340.58 288.75,341.68 289.28,342.71 289.8,340.78 290.32,338.9 290.85,339.87 291.38,340.8 291.9,338.97 292.43,337.18 292.95,338.06 293.48,338.9 294,337.17 294.53,335.5 295.05,336.29 295.57,337.02 296.1,335.43 296.62,333.92 297.15,334.59 297.68,335.17 298.2,333.78 298.73,332.54 299.25,333.01 299.78,333.18 300.3,332.26 300.82,331.78 301.35,331.56 301.88,331.8 302.4,330.89 302.93,329.24 303.45,330.27 303.98,331.83 304.5,329.69 305.03,327.2 305.55,329.15" stroke="#D95319" stroke-width="0.8" fill="none" stroke-linejoin="round"/>
<polyline points="35.5,329.69 37.19,328.85 38.88,328.12 40.58,327.5 42.27,326.98 43.96,326.56 45.65,326.23 47.34,325.97 49.03,325.77 50.73,325.63 52.42,325.54 54.11,325.49 55.8,325.47 57.49,325.5 59.19,325.55 60.88,325.65 62.57,325.8 64.26,326 65.95,326.27 67.64,326.62 69.34,327.05 71.03,327.58 72.72,328.22 74.41,328.97 76.1,329.83 77.8,330.8 79.49,331.88 81.18,333.06 82.87,334.34 84.56,335.68 86.25,337.09 87.95,338.53 89.64,339.99 91.33,341.45 93.02,342.88 94.71,344.26 96.41,345.58 98.1,346.82 99.79,347.96 101.48,349 103.17,349.93 104.86,350.74 106.56,351.45 108.25,352.04 109.94,352.53 111.63,352.93 113.32,353.24 115.02,353.49 116.71,353.67 118.4,353.79 120.09,353.87 121.78,353.92 123.47,353.92 125.17,353.89 126.86,353.83 128.55,353.72 130.24,353.56 131.93,353.34 133.63,353.05 135.32,352.68 137.01,352.22 138.7,351.67 140.39,351 142.08,350.23 143.78,349.34 145.47,348.34 147.16,347.23 148.85,346.03 150.54,344.73 152.24,343.37 153.93,341.95 155.62,340.5 157.31,339.04 159,337.59 160.69,336.17 162.39,334.8 164.08,333.5 165.77,332.28 167.46,331.17 169.15,330.15 170.85,329.26 172.54,328.47 174.23,327.8 175.92,327.23 177.61,326.76 179.31,326.38 181,326.09 182.69,325.86 184.38,325.7 186.07,325.58 187.76,325.51 189.46,325.48 191.15,325.48 192.84,325.52 194.53,325.6 196.22,325.72 197.92,325.89 199.61,326.13 201.3,326.44 202.99,326.83 204.68,327.31 206.37,327.89 208.07,328.58 209.76,329.38 211.45,330.3 213.14,331.33 214.83,332.46 216.53,333.69 218.22,335 219.91,336.38 221.6,337.81 223.29,339.26 224.98,340.72 226.68,342.17 228.37,343.58 230.06,344.93 231.75,346.21 233.44,347.41 235.14,348.5 236.83,349.48 238.52,350.35 240.21,351.11 241.9,351.76 243.59,352.3 245.29,352.74 246.98,353.1 248.67,353.37 250.36,353.58 252.05,353.74 253.75,353.84 255.44,353.9 257.13,353.92 258.82,353.91 260.51,353.87 262.2,353.78 263.9,353.64 265.59,353.45 267.28,353.2 268.97,352.87 270.66,352.46 272.36,351.96 274.05,351.35 275.74,350.63 277.43,349.8 279.12,348.85 280.81,347.8 282.51,346.64 284.2,345.39 285.89,344.06 287.58,342.67 289.27,341.23 290.97,339.77 292.66,338.31 294.35,336.87 296.04,335.48 297.73,334.14 299.42,332.88 301.12,331.71 302.81,330.65 304.5,329.69" stroke="#D95319" stroke-width="0.9" fill="none"/>
<polyline points="35.5,327.65 37.19,326.28 38.88,325.13 40.58,324.19 42.27,323.44 43.96,322.84 45.65,322.33 47.34,321.91 49.03,321.59 50.73,321.36 52.42,321.21 54.11,321.15 55.8,321.18 57.49,321.31 59.19,321.51 60.88,321.76 62.57,322.07 64.26,322.47 65.95,322.98 67.64,323.59 69.34,324.28 71.03,325.04 72.72,325.84 74.41,326.72 76.1,327.7 77.8,328.78 79.49,329.95 81.18,331.23 82.87,332.59 84.56,334.03 86.25,335.53 87.95,337.07 89.64,338.62 91.33,340.15 93.02,341.67 94.71,343.17 96.41,344.65 98.1,346.3 99.79,347.65 101.48,347.49 103.17,347.75 104.86,348.06 106.56,348.37 108.25,348.66 109.94,348.94 111.63,349.16 113.32,349.3 115.02,349.4 116.71,349.46 118.4,349.5 120.09,349.54 121.78,349.58 123.47,349.66 125.17,349.74 126.86,349.82 128.55,349.87 130.24,349.87 131.93,349.86 133.63,349.82 135.32,349.71 137.01,349.51 138.7,349.17 140.39,348.66 142.08,348.01 143.78,347.24 145.47,346.34 147.16,345.33 148.85,344.21 150.54,343.01 152.24,341.74 153.93,340.42 155.62,339.07 157.31,337.68 159,336.31 160.69,334.98 162.39,333.74 164.08,332.62 165.77,331.93 167.46,330.52 169.15,328.43 170.85,326.94 172.54,325.68 174.23,324.63 175.92,323.79 177.61,323.13 179.31,322.57 181,322.11 182.69,321.74 184.38,321.46 186.07,321.27 187.76,321.17 189.46,321.15 191.15,321.24 192.84,321.4 194.53,321.63 196.22,321.91 197.92,322.25 199.61,322.71 201.3,323.27 202.99,323.92 204.68,324.65 206.37,325.43 208.07,326.27 209.76,327.2 211.45,328.23 213.14,329.35 214.83,330.58 216.53,331.9 218.22,333.3 219.91,334.77 221.6,336.3 223.29,337.85 224.98,339.38 226.68,340.91 228.37,342.42 230.06,343.91 231.75,345.42 233.44,347.23 235.14,347.53 236.83,347.59 238.52,347.9 240.21,348.22 241.9,348.52 243.59,348.81 245.29,349.06 246.98,349.24 248.67,349.36 250.36,349.43 252.05,349.48 253.75,349.52 255.44,349.56 257.13,349.62 258.82,349.7 260.51,349.78 262.2,349.85 263.9,349.87 265.59,349.86 267.28,349.84 268.97,349.77 270.66,349.62 272.36,349.36 274.05,348.93 275.74,348.35 277.43,347.64 279.12,346.81 280.81,345.85 282.51,344.78 284.2,343.62 285.89,342.38 287.58,341.08 289.27,339.75 290.97,338.38 292.66,336.99 294.35,335.64 296.04,334.35 297.73,333.16 299.42,332.21 301.12,331.7 302.81,329.39 304.5,327.65" stroke="#111" stroke-width="0.4" fill="none"/>
<polyline points="35.5,331.73 37.19,331.42 38.88,331.11 40.58,330.81 42.27,330.52 43.96,330.29 45.65,330.13 47.34,330.02 49.03,329.95 50.73,329.91 52.42,329.87 54.11,329.83 55.8,329.76 57.49,329.68 59.19,329.6 60.88,329.54 62.57,329.53 64.26,329.54 65.95,329.57 67.64,329.65 69.34,329.83 71.03,330.13 72.72,330.6 74.41,331.21 76.1,331.95 77.8,332.82 79.49,333.81 81.18,334.9 82.87,336.08 84.56,337.34 86.25,338.65 87.95,339.99 89.64,341.37 91.33,342.75 93.02,344.09 94.71,345.36 96.41,346.52 98.1,347.34 99.79,348.28 101.48,350.52 103.17,352.11 104.86,353.43 106.56,354.53 108.25,355.42 109.94,356.12 111.63,356.7 113.32,357.18 115.02,357.57 116.71,357.87 118.4,358.09 120.09,358.21 121.78,358.25 123.47,358.19 125.17,358.05 126.86,357.83 128.55,357.56 130.24,357.24 131.93,356.82 133.63,356.28 135.32,355.65 137.01,354.94 138.7,354.17 140.39,353.35 142.08,352.44 143.78,351.44 145.47,350.34 147.16,349.14 148.85,347.84 150.54,346.46 152.24,345 153.93,343.49 155.62,341.94 157.31,340.4 159,338.87 160.69,337.36 162.39,335.86 164.08,334.38 165.77,332.64 167.46,331.81 169.15,331.88 170.85,331.58 172.54,331.26 174.23,330.96 175.92,330.66 177.61,330.4 179.31,330.2 181,330.07 182.69,329.98 184.38,329.93 186.07,329.89 187.76,329.85 189.46,329.8 191.15,329.72 192.84,329.64 194.53,329.56 196.22,329.53 197.92,329.53 199.61,329.55 201.3,329.6 202.99,329.73 204.68,329.96 206.37,330.34 208.07,330.89 209.76,331.57 211.45,332.37 213.14,333.3 214.83,334.34 216.53,335.48 218.22,336.7 219.91,337.99 221.6,339.32 223.29,340.68 224.98,342.06 226.68,343.43 228.37,344.74 230.06,345.96 231.75,347.01 233.44,347.59 235.14,349.46 236.83,351.37 238.52,352.8 240.21,354 241.9,354.99 243.59,355.79 245.29,356.42 246.98,356.95 248.67,357.39 250.36,357.74 252.05,357.99 253.75,358.16 255.44,358.25 257.13,358.23 258.82,358.13 260.51,357.95 262.2,357.7 263.9,357.41 265.59,357.05 267.28,356.56 268.97,355.98 270.66,355.3 272.36,354.56 274.05,353.76 275.74,352.91 277.43,351.95 279.12,350.9 280.81,349.75 282.51,348.5 284.2,347.16 285.89,345.74 287.58,344.25 289.27,342.72 290.97,341.17 292.66,339.63 294.35,338.11 296.04,336.61 297.73,335.12 299.42,333.55 301.12,331.72 302.81,331.91 304.5,331.73" stroke="#111" stroke-width="0.4" fill="none"/>
</g>
<rect x="130.5" y="313.4" width="29.6" height="18.4" stroke="#444" stroke-width="0.7" fill="none"/>
<line x1="160.1" y1="321" x2="240.9" y2="316" stroke="#444" stroke-width="0.7"/>
<path d="M69.13 385.1v-3.0M69.13 294.3v3.0M102.75 385.1v-3.0M102.75 294.3v3.0M136.38 385.1v-3.0M136.38 294.3v3.0M170 385.1v-3.0M170 294.3v3.0M203.62 385.1v-3.0M203.62 294.3v3.0M237.25 385.1v-3.0M237.25 294.3v3.0M270.88 385.1v-3.0M270.88 294.3v3.0M35.5 369.97h3.0M304.5 369.97h-3.0M35.5 354.83h3.0M304.5 354.83h-3.0M35.5 339.7h3.0M304.5 339.7h-3.0M35.5 324.57h3.0M304.5 324.57h-3.0M35.5 309.43h3.0M304.5 309.43h-3.0" stroke="#262626" stroke-width="0.8" fill="none"/>
<rect x="35.5" y="294.3" width="269.0" height="90.8" stroke="#262626" stroke-width="0.8" fill="none"/>
<text x="33.3" y="297.3" font-size="9.3" text-anchor="end" letter-spacing="0.1">1.5</text>
<text x="33.3" y="312.43" font-size="9.3" text-anchor="end" letter-spacing="0.1">1</text>
<text x="33.3" y="327.57" font-size="9.3" text-anchor="end" letter-spacing="0.1">0.5</text>
<text x="33.3" y="342.7" font-size="9.3" text-anchor="end" letter-spacing="0.1">0</text>
<text x="33.3" y="357.83" font-size="9.3" text-anchor="end" letter-spacing="0.1">-0.5</text>
<text x="33.3" y="372.97" font-size="9.3" text-anchor="end" letter-spacing="0.1">-1</text>
<text x="33.3" y="388.1" font-size="9.3" text-anchor="end" letter-spacing="0.1">-1.5</text>
<text x="35.5" y="395.5" font-size="9.3" text-anchor="middle" letter-spacing="0.1">0.03</text>
<text x="69.13" y="395.5" font-size="9.3" text-anchor="middle" letter-spacing="0.1">0.035</text>
<text x="102.75" y="395.5" font-size="9.3" text-anchor="middle" letter-spacing="0.1">0.04</text>
<text x="136.38" y="395.5" font-size="9.3" text-anchor="middle" letter-spacing="0.1">0.045</text>
<text x="170" y="395.5" font-size="9.3" text-anchor="middle" letter-spacing="0.1">0.05</text>
<text x="203.62" y="395.5" font-size="9.3" text-anchor="middle" letter-spacing="0.1">0.055</text>
<text x="237.25" y="395.5" font-size="9.3" text-anchor="middle" letter-spacing="0.1">0.06</text>
<text x="270.88" y="395.5" font-size="9.3" text-anchor="middle" letter-spacing="0.1">0.065</text>
<text x="304.5" y="395.5" font-size="9.3" text-anchor="middle" letter-spacing="0.1">0.07</text>
<rect x="240.9" y="298.4" width="58.5" height="36.4" fill="#fff"/>
<path d="M266.44 298.4V334.8M292.65 298.4V334.8M240.9 320.47H299.4" stroke="#b4b4b4" stroke-width="0.6" stroke-dasharray="0.7 1.5" fill="none"/>
<g clip-path="url(#ci2)">
<polyline points="236.6,331.33 237.33,327.75 238.06,324.19 238.8,329.7 239.53,335.21 240.26,331.68 240.99,328.17 241.73,333.71 242.46,339.26 243.19,335.77 243.92,332.28 244.66,337.85 245.39,343.43 246.12,339.97 246.85,336.51 247.59,342.1 248.32,347.7 249.05,344.25 249.78,340.81 250.52,346.42 251.25,352.03 251.98,348.59 252.71,345.16 253.45,350.77 254.18,356.38 254.91,352.95 255.64,349.51 256.38,355.12 257.11,360.72 257.84,357.28 258.57,353.84 259.31,359.43 260.04,365.02 260.77,361.56 261.5,358.1 262.24,363.67 262.97,369.24 263.7,365.76 264.43,362.26 265.17,367.81 265.9,373.35 266.63,369.83 267.36,366.3 268.1,371.81 268.83,377.32 269.56,373.75 270.29,370.17 271.03,375.65 271.76,381.13 272.49,377.5 273.22,373.84 273.96,379.3 274.69,384.78 275.42,381.05 276.15,377.26 276.88,382.75 277.62,388.28 278.35,384.38 279.08,380.4 279.81,385.96 280.55,391.61 281.28,387.48 282.01,383.23 282.75,388.94 283.48,394.78 284.21,390.34 284.94,385.73 285.68,391.68 286.41,397.78 287.14,392.95 287.87,387.92 288.61,394.16 289.34,400.56 290.07,395.3 290.8,389.83 291.54,396.39 292.27,403.12 293,397.41 293.73,391.48 294.47,398.36 295.2,405.43 295.93,399.26 296.66,392.89 297.4,400.09 298.13,407.47 298.86,400.87 299.59,394.08 300.32,401.58 301.06,409.23 301.79,402.23 302.52,395.07 303.25,402.83" stroke="#0072BD" stroke-width="1.1" fill="none" stroke-linejoin="round"/>
<polyline points="237.62,328.14 238.03,328.67 238.43,329.21 238.84,329.75 239.24,330.29 239.64,330.84 240.05,331.39 240.45,331.94 240.85,332.5 241.26,333.06 241.66,333.62 242.07,334.18 242.47,334.75 242.87,335.32 243.28,335.89 243.68,336.46 244.08,337.04 244.49,337.61 244.89,338.19 245.3,338.77 245.7,339.36 246.1,339.94 246.51,340.53 246.91,341.12 247.31,341.7 247.72,342.29 248.12,342.89 248.53,343.48 248.93,344.07 249.33,344.67 249.74,345.27 250.14,345.86 250.54,346.46 250.95,347.06 251.35,347.66 251.75,348.26 252.16,348.86 252.56,349.46 252.97,350.06 253.37,350.66 253.77,351.26 254.18,351.86 254.58,352.46 254.98,353.06 255.39,353.66 255.79,354.25 256.2,354.85 256.6,355.45 257,356.05 257.41,356.64 257.81,357.24 258.21,357.83 258.62,358.43 259.02,359.02 259.43,359.61 259.83,360.2 260.23,360.78 260.64,361.37 261.04,361.95 261.44,362.54 261.85,363.12 262.25,363.7 262.66,364.27 263.06,364.85 263.46,365.42 263.87,365.99 264.27,366.56 264.67,367.13 265.08,367.69 265.48,368.25 265.88,368.81 266.29,369.36 266.69,369.92 267.1,370.47 267.5,371.01 267.9,371.56 268.31,372.1 268.71,372.63 269.11,373.17 269.52,373.7 269.92,374.23 270.33,374.75 270.73,375.27 271.13,375.79 271.54,376.3 271.94,376.81 272.34,377.32 272.75,377.82 273.15,378.32 273.56,378.82 273.96,379.31 274.36,379.79 274.77,380.28 275.17,380.76 275.57,381.23 275.98,381.7 276.38,382.17 276.78,382.63 277.19,383.09 277.59,383.54 278,383.99 278.4,384.44 278.8,384.88 279.21,385.31 279.61,385.75 280.01,386.17 280.42,386.6 280.82,387.01 281.23,387.43 281.63,387.84 282.03,388.24 282.44,388.64 282.84,389.04 283.24,389.43 283.65,389.81 284.05,390.19 284.46,390.57 284.86,390.94 285.26,391.31 285.67,391.67 286.07,392.03 286.47,392.38 286.88,392.73 287.28,393.07 287.69,393.41 288.09,393.74 288.49,394.07 288.9,394.39 289.3,394.71 289.7,395.02 290.11,395.33 290.51,395.64 290.91,395.94 291.32,396.23 291.72,396.52 292.13,396.81 292.53,397.09 292.93,397.36 293.34,397.63 293.74,397.9 294.14,398.16 294.55,398.42 294.95,398.67 295.36,398.91 295.76,399.16 296.16,399.4 296.57,399.63 296.97,399.86 297.37,400.08 297.78,400.3 298.18,400.52 298.59,400.73 298.99,400.93 299.39,401.13 299.8,401.33 300.2,401.52 300.6,401.71 301.01,401.89 301.41,402.07 301.82,402.24" stroke="#8a8a8a" stroke-width="1.1" fill="none"/>
<polyline points="237.62,326.78 238.03,327.38 238.43,327.98 238.84,328.59 239.24,329.19 239.64,329.8 240.05,330.4 240.45,331.01 240.85,331.62 241.26,332.23 241.66,332.85 242.07,333.46 242.47,334.08 242.87,334.69 243.28,335.31 243.68,335.93 244.08,336.54 244.49,337.16 244.89,337.78 245.3,338.4 245.7,339.02 246.1,339.64 246.51,340.25 246.91,340.87 247.31,341.49 247.72,342.11 248.12,342.73 248.53,343.34 248.93,343.96 249.33,344.57 249.74,345.19 250.14,345.8 250.54,346.41 250.95,347.02 251.35,347.63 251.75,348.24 252.16,348.85 252.56,349.45 252.97,350.06 253.37,350.66 253.77,351.26 254.18,351.85 254.58,352.45 254.98,353.04 255.39,353.63 255.79,354.22 256.2,354.81 256.6,355.39 257,355.97 257.41,356.55 257.81,357.12 258.21,357.69 258.62,358.26 259.02,358.83 259.43,359.39 259.83,359.95 260.23,360.51 260.64,361.06 261.04,361.61 261.44,362.16 261.85,362.7 262.25,363.24 262.66,363.78 263.06,364.31 263.46,364.84 263.87,365.36 264.27,365.88 264.67,366.4 265.08,366.91 265.48,367.42 265.88,367.92 266.29,368.42 266.69,368.92 267.1,369.41 267.5,369.9 267.9,370.38 268.31,370.86 268.71,371.34 269.11,371.81 269.52,372.28 269.92,372.74 270.33,373.19 270.73,373.65 271.13,374.1 271.54,374.54 271.94,374.98 272.34,375.41 272.75,375.84 273.15,376.27 273.56,376.69 273.96,377.11 274.36,377.52 274.77,377.93 275.17,378.33 275.57,378.73 275.98,379.12 276.38,379.51 276.78,379.89 277.19,380.27 277.59,380.64 278,381.01 278.4,381.38 278.8,381.74 279.21,382.1 279.61,382.45 280.01,382.79 280.42,383.14 280.82,383.47 281.23,383.81 281.63,384.13 282.03,384.46 282.44,384.78 282.84,385.09 283.24,385.4 283.65,385.7 284.05,386.01 284.46,386.3 284.86,386.59 285.26,386.88 285.67,387.16 286.07,387.44 286.47,387.71 286.88,387.98 287.28,388.25 287.69,388.51 288.09,388.77 288.49,389.02 288.9,389.27 289.3,389.51 289.7,389.75 290.11,389.99 290.51,390.22 290.91,390.44 291.32,390.67 291.72,390.89 292.13,391.1 292.53,391.31 292.93,391.52 293.34,391.72 293.74,391.92 294.14,392.12 294.55,392.31 294.95,392.49 295.36,392.68 295.76,392.86 296.16,393.03 296.57,393.21 296.97,393.37 297.37,393.54 297.78,393.7 298.18,393.86 298.59,394.01 298.99,394.16 299.39,394.31 299.8,394.45 300.2,394.59 300.6,394.73 301.01,394.86 301.41,394.99 301.82,395.12" stroke="#000" stroke-width="1.1" fill="none"/>
<polyline points="237.62,329.49 238.03,329.96 238.43,330.44 238.84,330.91 239.24,331.4 239.64,331.89 240.05,332.38 240.45,332.88 240.85,333.38 241.26,333.88 241.66,334.39 242.07,334.91 242.47,335.42 242.87,335.94 243.28,336.47 243.68,337 244.08,337.53 244.49,338.07 244.89,338.61 245.3,339.15 245.7,339.7 246.1,340.25 246.51,340.8 246.91,341.36 247.31,341.92 247.72,342.48 248.12,343.05 248.53,343.62 248.93,344.19 249.33,344.76 249.74,345.34 250.14,345.92 250.54,346.51 250.95,347.09 251.35,347.68 251.75,348.27 252.16,348.86 252.56,349.46 252.97,350.06 253.37,350.66 253.77,351.26 254.18,351.86 254.58,352.47 254.98,353.07 255.39,353.68 255.79,354.29 256.2,354.9 256.6,355.51 257,356.13 257.41,356.74 257.81,357.36 258.21,357.97 258.62,358.59 259.02,359.21 259.43,359.82 259.83,360.44 260.23,361.06 260.64,361.68 261.04,362.3 261.44,362.92 261.85,363.54 262.25,364.15 262.66,364.77 263.06,365.39 263.46,366.01 263.87,366.62 264.27,367.24 264.67,367.85 265.08,368.47 265.48,369.08 265.88,369.69 266.29,370.3 266.69,370.91 267.1,371.52 267.5,372.12 267.9,372.73 268.31,373.33 268.71,373.93 269.11,374.53 269.52,375.12 269.92,375.72 270.33,376.31 270.73,376.9 271.13,377.48 271.54,378.07 271.94,378.65 272.34,379.23 272.75,379.8 273.15,380.37 273.56,380.94 273.96,381.51 274.36,382.07 274.77,382.63 275.17,383.19 275.57,383.74 275.98,384.29 276.38,384.83 276.78,385.37 277.19,385.91 277.59,386.44 278,386.97 278.4,387.5 278.8,388.02 279.21,388.53 279.61,389.05 280.01,389.55 280.42,390.06 280.82,390.56 281.23,391.05 281.63,391.54 282.03,392.03 282.44,392.51 282.84,392.98 283.24,393.45 283.65,393.92 284.05,394.38 284.46,394.84 284.86,395.29 285.26,395.73 285.67,396.17 286.07,396.61 286.47,397.04 286.88,397.47 287.28,397.89 287.69,398.3 288.09,398.71 288.49,399.11 288.9,399.51 289.3,399.91 289.7,400.3 290.11,400.68 290.51,401.06 290.91,401.43 291.32,401.79 291.72,402.15 292.13,402.51 292.53,402.86 292.93,403.2 293.34,403.54 293.74,403.88 294.14,404.2 294.55,404.52 294.95,404.84 295.36,405.15 295.76,405.46 296.16,405.76 296.57,406.05 296.97,406.34 297.37,406.62 297.78,406.9 298.18,407.17 298.59,407.44 298.99,407.7 299.39,407.95 299.8,408.2 300.2,408.45 300.6,408.69 301.01,408.92 301.41,409.15 301.82,409.37" stroke="#000" stroke-width="1.1" fill="none"/>
<polyline points="236.6,331.65 237.33,327.2 238.06,322.65 238.8,326.09 239.53,329.65 240.26,325.03 240.99,320.3 241.73,323.99 242.46,327.83 243.19,322.99 243.92,318.01 244.66,322.03 245.39,326.25 246.12,321.11 246.85,315.8 247.59,320.23 248.32,324.86 249.05,319.38 249.78,313.71 250.52,318.58 251.25,323.66 251.98,317.82 252.71,311.78 253.45,317.09 254.18,322.61 254.91,316.41 255.64,310.04 256.38,315.78 257.11,321.69 257.84,315.18 258.57,308.53 259.31,314.63 260.04,320.86 260.77,314.12 261.5,307.27 262.24,313.65 262.97,320.17 263.7,313.23 264.43,306.18 265.17,312.86 265.9,319.66 266.63,312.52 267.36,305.28 268.1,312.23 268.83,319.3 269.56,311.99 270.29,304.58 271.03,311.79 271.76,319.08 272.49,311.63 273.22,304.12 273.96,311.52 274.69,318.97 275.42,311.45 276.15,303.92 276.88,311.42 277.62,318.95 278.35,311.45 279.08,303.97 279.81,311.51 280.55,319.03 281.28,311.62 282.01,304.27 282.75,311.78 283.48,319.23 284.21,311.97 284.94,304.8 285.68,312.22 286.41,319.56 287.14,312.5 287.87,305.55 288.61,312.84 289.34,320.03 290.07,313.21 290.8,306.52 291.54,313.63 292.27,320.63 293,314.09 293.73,307.7 294.47,314.6 295.2,321.38 295.93,315.15 296.66,309.07 297.4,315.74 298.13,322.28 298.86,316.38 299.59,310.63 300.32,317.06 301.06,323.32 301.79,317.78 302.52,312.44 303.25,318.54" stroke="#77AC30" stroke-width="1.1" fill="none" stroke-linejoin="round"/>
<polyline points="237.62,326.97 238.03,326.67 238.43,326.36 238.84,326.06 239.24,325.77 239.64,325.47 240.05,325.18 240.45,324.89 240.85,324.6 241.26,324.32 241.66,324.04 242.07,323.76 242.47,323.48 242.87,323.21 243.28,322.94 243.68,322.67 244.08,322.4 244.49,322.14 244.89,321.88 245.3,321.63 245.7,321.37 246.1,321.12 246.51,320.87 246.91,320.63 247.31,320.39 247.72,320.15 248.12,319.91 248.53,319.68 248.93,319.45 249.33,319.23 249.74,319 250.14,318.78 250.54,318.56 250.95,318.35 251.35,318.14 251.75,317.93 252.16,317.73 252.56,317.52 252.97,317.33 253.37,317.13 253.77,316.94 254.18,316.75 254.58,316.56 254.98,316.38 255.39,316.2 255.79,316.03 256.2,315.85 256.6,315.68 257,315.52 257.41,315.35 257.81,315.19 258.21,315.04 258.62,314.88 259.02,314.73 259.43,314.59 259.83,314.44 260.23,314.3 260.64,314.16 261.04,314.03 261.44,313.9 261.85,313.77 262.25,313.65 262.66,313.53 263.06,313.41 263.46,313.3 263.87,313.19 264.27,313.08 264.67,312.98 265.08,312.88 265.48,312.78 265.88,312.69 266.29,312.6 266.69,312.51 267.1,312.42 267.5,312.34 267.9,312.27 268.31,312.19 268.71,312.12 269.11,312.06 269.52,311.99 269.92,311.93 270.33,311.88 270.73,311.82 271.13,311.77 271.54,311.73 271.94,311.68 272.34,311.64 272.75,311.61 273.15,311.57 273.56,311.54 273.96,311.52 274.36,311.49 274.77,311.47 275.17,311.46 275.57,311.44 275.98,311.43 276.38,311.43 276.78,311.43 277.19,311.43 277.59,311.43 278,311.44 278.4,311.45 278.8,311.46 279.21,311.48 279.61,311.5 280.01,311.52 280.42,311.55 280.82,311.58 281.23,311.62 281.63,311.65 282.03,311.7 282.44,311.74 282.84,311.79 283.24,311.84 283.65,311.89 284.05,311.95 284.46,312.01 284.86,312.08 285.26,312.14 285.67,312.22 286.07,312.29 286.47,312.37 286.88,312.45 287.28,312.53 287.69,312.62 288.09,312.71 288.49,312.81 288.9,312.91 289.3,313.01 289.7,313.11 290.11,313.22 290.51,313.33 290.91,313.45 291.32,313.57 291.72,313.69 292.13,313.81 292.53,313.94 292.93,314.07 293.34,314.21 293.74,314.34 294.14,314.49 294.55,314.63 294.95,314.78 295.36,314.93 295.76,315.08 296.16,315.24 296.57,315.4 296.97,315.57 297.37,315.73 297.78,315.91 298.18,316.08 298.59,316.26 298.99,316.44 299.39,316.62 299.8,316.81 300.2,317 300.6,317.19 301.01,317.39 301.41,317.59 301.82,317.79" stroke="#8a8a8a" stroke-width="1.1" fill="none"/>
<polyline points="237.62,323.01 238.03,322.68 238.43,322.35 238.84,322.02 239.24,321.69 239.64,321.37 240.05,321.05 240.45,320.72 240.85,320.4 241.26,320.09 241.66,319.77 242.07,319.45 242.47,319.13 242.87,318.82 243.28,318.51 243.68,318.19 244.08,317.88 244.49,317.57 244.89,317.27 245.3,316.96 245.7,316.66 246.1,316.35 246.51,316.05 246.91,315.76 247.31,315.46 247.72,315.17 248.12,314.88 248.53,314.59 248.93,314.3 249.33,314.02 249.74,313.74 250.14,313.47 250.54,313.19 250.95,312.92 251.35,312.66 251.75,312.39 252.16,312.13 252.56,311.87 252.97,311.62 253.37,311.37 253.77,311.13 254.18,310.88 254.58,310.65 254.98,310.41 255.39,310.18 255.79,309.96 256.2,309.74 256.6,309.52 257,309.31 257.41,309.1 257.81,308.9 258.21,308.7 258.62,308.51 259.02,308.32 259.43,308.14 259.83,307.97 260.23,307.79 260.64,307.62 261.04,307.46 261.44,307.29 261.85,307.13 262.25,306.97 262.66,306.82 263.06,306.67 263.46,306.52 263.87,306.38 264.27,306.24 264.67,306.1 265.08,305.96 265.48,305.83 265.88,305.71 266.29,305.59 266.69,305.47 267.1,305.35 267.5,305.24 267.9,305.13 268.31,305.03 268.71,304.93 269.11,304.84 269.52,304.75 269.92,304.66 270.33,304.58 270.73,304.5 271.13,304.43 271.54,304.36 271.94,304.29 272.34,304.24 272.75,304.18 273.15,304.13 273.56,304.09 273.96,304.05 274.36,304.01 274.77,303.98 275.17,303.96 275.57,303.93 275.98,303.92 276.38,303.91 276.78,303.91 277.19,303.91 277.59,303.91 278,303.92 278.4,303.94 278.8,303.96 279.21,303.98 279.61,304.01 280.01,304.04 280.42,304.08 280.82,304.12 281.23,304.17 281.63,304.22 282.03,304.27 282.44,304.33 282.84,304.4 283.24,304.46 283.65,304.54 284.05,304.61 284.46,304.7 284.86,304.78 285.26,304.87 285.67,304.96 286.07,305.06 286.47,305.17 286.88,305.27 287.28,305.38 287.69,305.5 288.09,305.62 288.49,305.74 288.9,305.87 289.3,306 289.7,306.13 290.11,306.27 290.51,306.42 290.91,306.56 291.32,306.71 291.72,306.87 292.13,307.03 292.53,307.19 292.93,307.36 293.34,307.53 293.74,307.7 294.14,307.88 294.55,308.06 294.95,308.25 295.36,308.44 295.76,308.63 296.16,308.82 296.57,309.02 296.97,309.23 297.37,309.43 297.78,309.64 298.18,309.86 298.59,310.08 298.99,310.3 299.39,310.52 299.8,310.75 300.2,310.99 300.6,311.23 301.01,311.47 301.41,311.72 301.82,311.98" stroke="#000" stroke-width="1.1" fill="none"/>
<polyline points="237.62,330.93 238.03,330.65 238.43,330.38 238.84,330.11 239.24,329.84 239.64,329.57 240.05,329.31 240.45,329.05 240.85,328.8 241.26,328.55 241.66,328.3 242.07,328.06 242.47,327.83 242.87,327.6 243.28,327.37 243.68,327.14 244.08,326.93 244.49,326.71 244.89,326.5 245.3,326.29 245.7,326.09 246.1,325.89 246.51,325.7 246.91,325.5 247.31,325.32 247.72,325.13 248.12,324.95 248.53,324.77 248.93,324.6 249.33,324.43 249.74,324.26 250.14,324.1 250.54,323.94 250.95,323.78 251.35,323.62 251.75,323.47 252.16,323.32 252.56,323.17 252.97,323.03 253.37,322.89 253.77,322.75 254.18,322.61 254.58,322.48 254.98,322.35 255.39,322.22 255.79,322.09 256.2,321.97 256.6,321.84 257,321.72 257.41,321.6 257.81,321.48 258.21,321.37 258.62,321.25 259.02,321.14 259.43,321.03 259.83,320.92 260.23,320.81 260.64,320.71 261.04,320.61 261.44,320.51 261.85,320.42 262.25,320.33 262.66,320.24 263.06,320.16 263.46,320.08 263.87,320 264.27,319.93 264.67,319.86 265.08,319.79 265.48,319.73 265.88,319.66 266.29,319.61 266.69,319.55 267.1,319.5 267.5,319.45 267.9,319.4 268.31,319.36 268.71,319.32 269.11,319.28 269.52,319.24 269.92,319.21 270.33,319.17 270.73,319.14 271.13,319.12 271.54,319.09 271.94,319.07 272.34,319.05 272.75,319.03 273.15,319.01 273.56,319 273.96,318.99 274.36,318.98 274.77,318.97 275.17,318.96 275.57,318.95 275.98,318.95 276.38,318.95 276.78,318.94 277.19,318.94 277.59,318.95 278,318.95 278.4,318.96 278.8,318.97 279.21,318.98 279.61,318.99 280.01,319.01 280.42,319.02 280.82,319.04 281.23,319.07 281.63,319.09 282.03,319.12 282.44,319.15 282.84,319.18 283.24,319.21 283.65,319.25 284.05,319.29 284.46,319.33 284.86,319.37 285.26,319.42 285.67,319.47 286.07,319.52 286.47,319.57 286.88,319.63 287.28,319.69 287.69,319.75 288.09,319.81 288.49,319.88 288.9,319.95 289.3,320.02 289.7,320.09 290.11,320.17 290.51,320.25 290.91,320.33 291.32,320.42 291.72,320.51 292.13,320.6 292.53,320.69 292.93,320.79 293.34,320.89 293.74,320.99 294.14,321.09 294.55,321.2 294.95,321.31 295.36,321.42 295.76,321.54 296.16,321.66 296.57,321.78 296.97,321.91 297.37,322.03 297.78,322.17 298.18,322.3 298.59,322.44 298.99,322.58 299.39,322.72 299.8,322.86 300.2,323.01 300.6,323.15 301.01,323.3 301.41,323.45 301.82,323.6" stroke="#000" stroke-width="1.1" fill="none"/>
<polyline points="236.6,386.47 237.33,378.6 238.06,370.88 238.8,378.49 239.53,385.95 240.26,378.35 240.99,370.88 241.73,378.19 242.46,385.32 243.19,378 243.92,370.86 244.66,377.79 245.39,384.51 246.12,377.56 246.85,370.81 247.59,377.29 248.32,383.54 249.05,377 249.78,370.68 250.52,376.67 251.25,382.41 251.98,376.3 252.71,370.42 253.45,375.9 254.18,381.16 254.91,375.47 255.64,369.97 256.38,374.99 257.11,379.81 257.84,374.47 258.57,369.3 259.31,373.91 260.04,378.38 260.77,373.31 261.5,368.35 262.24,372.67 262.97,376.85 263.7,371.98 264.43,367.2 265.17,371.24 265.9,375.16 266.63,370.46 267.36,365.84 268.1,369.64 268.83,373.32 269.56,368.77 270.29,364.29 271.03,367.85 271.76,371.32 272.49,366.9 273.22,362.55 273.96,365.9 274.69,369.17 275.42,364.87 276.15,360.65 276.88,363.8 277.62,366.86 278.35,362.69 279.08,358.59 279.81,361.55 280.55,364.43 281.28,360.38 282.01,356.41 282.75,359.18 283.48,361.87 284.21,357.96 284.94,354.13 285.68,356.72 286.41,359.21 287.14,355.45 287.87,351.78 288.61,354.18 289.34,356.48 290.07,352.89 290.8,349.38 291.54,351.6 292.27,353.74 293,350.31 293.73,346.94 294.47,349.01 295.2,351.02 295.93,347.72 296.66,344.49 297.4,346.44 298.13,348.32 298.86,345.17 299.59,342.11 300.32,343.92 301.06,345.65 301.79,342.69 302.52,339.84 303.25,341.47" stroke="#D95319" stroke-width="1.1" fill="none" stroke-linejoin="round"/>
<polyline points="237.62,378.58 238.03,378.55 238.43,378.52 238.84,378.48 239.24,378.45 239.64,378.41 240.05,378.37 240.45,378.33 240.85,378.28 241.26,378.24 241.66,378.19 242.07,378.15 242.47,378.1 242.87,378.04 243.28,377.99 243.68,377.94 244.08,377.88 244.49,377.82 244.89,377.76 245.3,377.69 245.7,377.63 246.1,377.56 246.51,377.49 246.91,377.42 247.31,377.34 247.72,377.27 248.12,377.19 248.53,377.11 248.93,377.02 249.33,376.94 249.74,376.85 250.14,376.75 250.54,376.66 250.95,376.56 251.35,376.46 251.75,376.36 252.16,376.26 252.56,376.15 252.97,376.04 253.37,375.93 253.77,375.81 254.18,375.69 254.58,375.57 254.98,375.44 255.39,375.32 255.79,375.19 256.2,375.05 256.6,374.91 257,374.77 257.41,374.63 257.81,374.48 258.21,374.33 258.62,374.18 259.02,374.03 259.43,373.87 259.83,373.7 260.23,373.54 260.64,373.37 261.04,373.2 261.44,373.02 261.85,372.84 262.25,372.66 262.66,372.47 263.06,372.28 263.46,372.09 263.87,371.89 264.27,371.69 264.67,371.49 265.08,371.29 265.48,371.08 265.88,370.86 266.29,370.65 266.69,370.43 267.1,370.2 267.5,369.98 267.9,369.75 268.31,369.51 268.71,369.28 269.11,369.04 269.52,368.79 269.92,368.55 270.33,368.3 270.73,368.04 271.13,367.79 271.54,367.53 271.94,367.26 272.34,367 272.75,366.73 273.15,366.46 273.56,366.18 273.96,365.9 274.36,365.62 274.77,365.34 275.17,365.05 275.57,364.76 275.98,364.47 276.38,364.17 276.78,363.87 277.19,363.57 277.59,363.27 278,362.96 278.4,362.65 278.8,362.34 279.21,362.03 279.61,361.71 280.01,361.39 280.42,361.07 280.82,360.75 281.23,360.42 281.63,360.1 282.03,359.77 282.44,359.44 282.84,359.1 283.24,358.77 283.65,358.43 284.05,358.09 284.46,357.75 284.86,357.41 285.26,357.07 285.67,356.72 286.07,356.38 286.47,356.03 286.88,355.68 287.28,355.33 287.69,354.98 288.09,354.63 288.49,354.28 288.9,353.92 289.3,353.57 289.7,353.22 290.11,352.86 290.51,352.5 290.91,352.15 291.32,351.79 291.72,351.44 292.13,351.08 292.53,350.72 292.93,350.36 293.34,350.01 293.74,349.65 294.14,349.29 294.55,348.94 294.95,348.58 295.36,348.23 295.76,347.87 296.16,347.52 296.57,347.16 296.97,346.81 297.37,346.46 297.78,346.11 298.18,345.76 298.59,345.41 298.99,345.06 299.39,344.71 299.8,344.37 300.2,344.03 300.6,343.68 301.01,343.34 301.41,343 301.82,342.66" stroke="#8a8a8a" stroke-width="1.1" fill="none"/>
<polyline points="237.62,370.87 238.03,370.88 238.43,370.88 238.84,370.89 239.24,370.89 239.64,370.89 240.05,370.89 240.45,370.88 240.85,370.88 241.26,370.88 241.66,370.88 242.07,370.87 242.47,370.87 242.87,370.87 243.28,370.87 243.68,370.86 244.08,370.86 244.49,370.86 244.89,370.85 245.3,370.84 245.7,370.84 246.1,370.83 246.51,370.82 246.91,370.81 247.31,370.8 247.72,370.78 248.12,370.77 248.53,370.75 248.93,370.73 249.33,370.71 249.74,370.68 250.14,370.66 250.54,370.63 250.95,370.6 251.35,370.56 251.75,370.52 252.16,370.48 252.56,370.44 252.97,370.39 253.37,370.34 253.77,370.28 254.18,370.22 254.58,370.16 254.98,370.09 255.39,370.02 255.79,369.94 256.2,369.86 256.6,369.78 257,369.69 257.41,369.6 257.81,369.5 258.21,369.39 258.62,369.28 259.02,369.17 259.43,369.05 259.83,368.92 260.23,368.79 260.64,368.66 261.04,368.52 261.44,368.38 261.85,368.23 262.25,368.08 262.66,367.92 263.06,367.77 263.46,367.6 263.87,367.44 264.27,367.27 264.67,367.1 265.08,366.92 265.48,366.74 265.88,366.55 266.29,366.36 266.69,366.17 267.1,365.97 267.5,365.77 267.9,365.57 268.31,365.36 268.71,365.15 269.11,364.94 269.52,364.72 269.92,364.5 270.33,364.27 270.73,364.04 271.13,363.81 271.54,363.57 271.94,363.33 272.34,363.09 272.75,362.85 273.15,362.6 273.56,362.34 273.96,362.09 274.36,361.83 274.77,361.57 275.17,361.3 275.57,361.03 275.98,360.76 276.38,360.49 276.78,360.21 277.19,359.93 277.59,359.65 278,359.37 278.4,359.08 278.8,358.79 279.21,358.5 279.61,358.2 280.01,357.91 280.42,357.61 280.82,357.31 281.23,357 281.63,356.7 282.03,356.39 282.44,356.08 282.84,355.77 283.24,355.46 283.65,355.14 284.05,354.83 284.46,354.51 284.86,354.19 285.26,353.87 285.67,353.55 286.07,353.23 286.47,352.91 286.88,352.58 287.28,352.26 287.69,351.93 288.09,351.61 288.49,351.28 288.9,350.95 289.3,350.62 289.7,350.29 290.11,349.96 290.51,349.63 290.91,349.29 291.32,348.96 291.72,348.62 292.13,348.28 292.53,347.94 292.93,347.61 293.34,347.27 293.74,346.93 294.14,346.59 294.55,346.25 294.95,345.92 295.36,345.58 295.76,345.24 296.16,344.91 296.57,344.57 296.97,344.24 297.37,343.91 297.78,343.57 298.18,343.24 298.59,342.92 298.99,342.59 299.39,342.27 299.8,341.94 300.2,341.62 300.6,341.31 301.01,340.99 301.41,340.68 301.82,340.37" stroke="#000" stroke-width="1.1" fill="none"/>
<polyline points="237.62,386.29 238.03,386.22 238.43,386.15 238.84,386.08 239.24,386 239.64,385.93 240.05,385.85 240.45,385.77 240.85,385.69 241.26,385.6 241.66,385.51 242.07,385.42 242.47,385.32 242.87,385.22 243.28,385.12 243.68,385.01 244.08,384.9 244.49,384.78 244.89,384.66 245.3,384.54 245.7,384.42 246.1,384.29 246.51,384.16 246.91,384.03 247.31,383.89 247.72,383.75 248.12,383.61 248.53,383.46 248.93,383.31 249.33,383.16 249.74,383.01 250.14,382.85 250.54,382.69 250.95,382.53 251.35,382.37 251.75,382.2 252.16,382.03 252.56,381.86 252.97,381.69 253.37,381.52 253.77,381.34 254.18,381.16 254.58,380.98 254.98,380.8 255.39,380.61 255.79,380.43 256.2,380.24 256.6,380.05 257,379.86 257.41,379.67 257.81,379.47 258.21,379.28 258.62,379.08 259.02,378.88 259.43,378.68 259.83,378.49 260.23,378.28 260.64,378.08 261.04,377.87 261.44,377.66 261.85,377.45 262.25,377.24 262.66,377.02 263.06,376.8 263.46,376.58 263.87,376.35 264.27,376.12 264.67,375.89 265.08,375.65 265.48,375.41 265.88,375.17 266.29,374.93 266.69,374.68 267.1,374.43 267.5,374.18 267.9,373.92 268.31,373.66 268.71,373.4 269.11,373.13 269.52,372.86 269.92,372.59 270.33,372.32 270.73,372.04 271.13,371.76 271.54,371.48 271.94,371.19 272.34,370.9 272.75,370.61 273.15,370.31 273.56,370.02 273.96,369.72 274.36,369.41 274.77,369.11 275.17,368.8 275.57,368.48 275.98,368.17 276.38,367.85 276.78,367.53 277.19,367.21 277.59,366.88 278,366.56 278.4,366.22 278.8,365.89 279.21,365.56 279.61,365.22 280.01,364.88 280.42,364.54 280.82,364.19 281.23,363.84 281.63,363.49 282.03,363.14 282.44,362.79 282.84,362.43 283.24,362.08 283.65,361.72 284.05,361.36 284.46,360.99 284.86,360.63 285.26,360.26 285.67,359.89 286.07,359.52 286.47,359.15 286.88,358.78 287.28,358.41 287.69,358.03 288.09,357.65 288.49,357.28 288.9,356.9 289.3,356.52 289.7,356.14 290.11,355.76 290.51,355.38 290.91,355.01 291.32,354.63 291.72,354.25 292.13,353.88 292.53,353.5 292.93,353.12 293.34,352.75 293.74,352.37 294.14,352 294.55,351.62 294.95,351.25 295.36,350.88 295.76,350.5 296.16,350.13 296.57,349.76 296.97,349.38 297.37,349.01 297.78,348.64 298.18,348.27 298.59,347.9 298.99,347.53 299.39,347.16 299.8,346.79 300.2,346.43 300.6,346.06 301.01,345.69 301.41,345.32 301.82,344.96" stroke="#000" stroke-width="1.1" fill="none"/>
</g>
<path d="M266.44 334.8v-1.6M266.44 298.4v1.6M292.65 334.8v-1.6M292.65 298.4v1.6M240.9 320.47h1.6M299.4 320.47h-1.6" stroke="#262626" stroke-width="0.8" fill="none"/>
<rect x="240.9" y="298.4" width="58.5" height="36.4" stroke="#262626" stroke-width="0.8" fill="none"/>
<text x="239.6" y="323.27" font-size="8.2" text-anchor="end" letter-spacing="0.25">0.5</text>
<rect x="235.5" y="370.6" width="65.2" height="11.6" fill="#fff" stroke="#262626" stroke-width="0.6"/>
<line x1="237.2" y1="376.3" x2="247" y2="376.3" stroke="#0072BD" stroke-width="0.9"/>
<text x="248.9" y="378.8" font-size="9" font-style="italic">r<tspan font-size="6.3" dy="1.3" dx="0.2">a</tspan></text>
<line x1="259.5" y1="376.3" x2="269.3" y2="376.3" stroke="#77AC30" stroke-width="0.9"/>
<text x="270.7" y="378.8" font-size="9" font-style="italic">r<tspan font-size="6.3" dy="1.3" dx="0.2">b</tspan></text>
<line x1="281" y1="376.3" x2="291" y2="376.3" stroke="#D95319" stroke-width="0.9"/>
<text x="292.3" y="378.8" font-size="9" font-style="italic">r<tspan font-size="6.3" dy="1.3" dx="0.2">c</tspan></text>
<text transform="translate(14.3 339.9) rotate(-90)" font-size="10.5" text-anchor="middle"><tspan font-style="italic">r</tspan><tspan font-size="7.5" font-style="italic" dy="2">z</tspan><tspan dy="-2" dx="0.9">(</tspan><tspan font-style="italic" dx="0.3">t</tspan><tspan dx="0.5">)</tspan></text>
<text x="170" y="407.7" font-size="10.5" text-anchor="middle"><tspan font-style="italic">t</tspan>,<tspan dx="3">s</tspan></text>
<path d="M419.72 294.3V385.1M457.45 294.3V385.1M495.17 294.3V385.1M382 362.4H532.9M382 339.7H532.9M382 317H532.9" stroke="#b4b4b4" stroke-width="0.6" stroke-dasharray="0.7 1.5" fill="none"/>
<g clip-path="url(#cr2)">
<path d="M381 310.65V368.75M383.04 310.66V368.74M385.08 311.92V367.48M387.12 313.59V365.81M389.16 315.71V363.69M391.2 318.95V360.45M393.24 322.34V357.06M395.28 324.66V354.74M397.32 325.39V354.01M399.36 326.16V353.24M401.4 327.22V352.18M403.44 328.71V350.69M405.48 330.4V349M407.52 331.91V347.49M409.56 333.35V346.05M411.6 334.72V344.68M413.64 336.04V343.36M415.68 337.32V342.08M417.72 338.55V340.85M419.76 339.68V339.72M421.8 338.51V340.89M423.84 337.28V342.12M425.88 336V343.4M427.92 334.68V344.72M429.96 333.3V346.1M432 331.85V347.55M434.04 330.34V349.06M436.08 328.65V350.75M438.12 327.18V352.22M440.16 326.12V353.28M442.2 325.37V354.03M444.24 324.62V354.78M446.28 322.22V357.18M448.32 318.82V360.58M450.36 315.63V363.77M452.4 313.52V365.88M454.44 311.86V367.54M456.48 310.64V368.76M458.52 310.67V368.73M460.56 311.94V367.46M462.6 313.61V365.79M464.64 315.75V363.65M466.68 319.01V360.39M468.72 322.39V357.01M470.76 324.68V354.72M472.8 325.4V354M474.84 326.17V353.23M476.88 327.24V352.16M478.92 328.73V350.67M480.96 330.42V348.98M483 331.93V347.47M485.04 333.37V346.03M487.08 334.74V344.66M489.12 336.06V343.34M491.16 337.34V342.06M493.2 338.56V340.84M495.24 339.66V339.74M497.28 338.49V340.91M499.32 337.26V342.14M501.36 335.98V343.42M503.4 334.66V344.74M505.44 333.28V346.12M507.48 331.83V347.57M509.52 330.32V349.08M511.56 328.63V350.77M513.6 327.16V352.24M515.64 326.11V353.29M517.68 325.36V354.04M519.72 324.61V354.79M521.76 322.17V357.23M523.8 318.77V360.63M525.84 315.59V363.81M527.88 313.5V365.9M529.92 311.84V367.56M531.96 310.63V368.77M534 310.68V368.72" stroke="#1F80CA" stroke-width="1.1" fill="none"/>
<path d="M398.18 338.16V341.24M400.22 333.43V345.97M402.26 329.5V349.9M404.3 325.15V354.25M406.34 320.07V359.33M408.38 316.77V362.63M410.42 314.62V364.78M412.46 313.12V366.28M414.5 312.19V367.21M416.54 311.64V367.76M418.58 311.33V368.07M420.62 311.33V368.07M422.66 311.58V367.82M424.7 312.12V367.28M426.74 312.97V366.43M428.78 314.4V365M430.82 316.43V362.97M432.86 319.6V359.8M434.9 324.49V354.91M436.94 328.99V350.41M438.98 332.91V346.49M441.02 337.63V341.77M473.66 338.1V341.3M475.7 333.37V346.03M477.74 329.44V349.96M479.78 325.07V354.33M481.82 320.01V359.39M483.86 316.73V362.67M485.9 314.59V364.81M487.94 313.1V366.3M489.98 312.19V367.21M492.02 311.63V367.77M494.06 311.33V368.07M496.1 311.33V368.07M498.14 311.58V367.82M500.18 312.13V367.27M502.22 312.98V366.42M504.26 314.43V364.97M506.3 316.47V362.93M508.34 319.65V359.75M510.38 324.57V354.83M512.42 329.05V350.35M514.46 332.97V346.43M516.5 337.7V341.7" stroke="#0072BD" stroke-width="1.15" fill="none"/>
<polyline points="382,310.42 382.38,310.48 382.76,310.58 383.13,310.7 383.51,310.86 383.89,311.07 384.27,311.32 384.65,311.59 385.03,311.88 385.4,312.17 385.78,312.47 386.16,312.77 386.54,313.08 386.92,313.4 387.29,313.75 387.67,314.11 388.05,314.48 388.43,314.88 388.81,315.3 389.19,315.74 389.56,316.21 389.94,316.76 390.32,317.38 390.7,318.04 391.08,318.73 391.45,319.41 391.83,320.07 392.21,320.67 392.59,321.27 392.97,321.89 393.35,322.51 393.72,323.1 394.1,323.63 394.48,324.08 394.86,324.41 395.24,324.64 395.62,324.82 395.99,324.98 396.37,325.11 396.75,325.23 397.13,325.34 397.51,325.45 397.88,325.56 398.26,325.69 398.64,325.84 399.02,326 399.4,326.17 399.78,326.35 400.15,326.54 400.53,326.73 400.91,326.94 401.29,327.15 401.67,327.39 402.04,327.64 402.42,327.91 402.8,328.2 403.18,328.5 403.56,328.81 403.94,329.12 404.31,329.44 404.69,329.75 405.07,330.07 405.45,330.37 405.83,330.67 406.2,330.95 406.58,331.22 406.96,331.5 407.34,331.77 407.72,332.05 408.1,332.32 408.47,332.59 408.85,332.85 409.23,333.12 409.61,333.38 409.99,333.64 410.36,333.9 410.74,334.15 411.12,334.41 411.5,334.66 411.88,334.9 412.26,335.15 412.63,335.4 413.01,335.64 413.39,335.88 413.77,336.12 414.15,336.36 414.52,336.6 414.9,336.84 415.28,337.07 415.66,337.31 416.04,337.54 416.42,337.77 416.79,338 417.17,338.22 417.55,338.45 417.93,338.67 418.31,338.89 418.68,339.11 419.06,339.33 419.44,339.54 419.82,339.65 420.2,339.43 420.58,339.22 420.95,339 421.33,338.78 421.71,338.56 422.09,338.34 422.47,338.11 422.85,337.88 423.22,337.65 423.6,337.42 423.98,337.19 424.36,336.96 424.74,336.72 425.11,336.48 425.49,336.24 425.87,336 426.25,335.76 426.63,335.52 427.01,335.27 427.38,335.03 427.76,334.78 428.14,334.53 428.52,334.28 428.9,334.03 429.27,333.77 429.65,333.51 430.03,333.25 430.41,332.99 430.79,332.72 431.17,332.45 431.54,332.18 431.92,331.91 432.3,331.64 432.68,331.36 433.06,331.09 433.43,330.81 433.81,330.52 434.19,330.22 434.57,329.91 434.95,329.6 435.33,329.28 435.7,328.96 436.08,328.65 436.46,328.35 436.84,328.05 437.22,327.77 437.59,327.51 437.97,327.27 438.35,327.04 438.73,326.83 439.11,326.63 439.49,326.44 439.86,326.26 440.24,326.09 440.62,325.92 441,325.76 441.38,325.63 441.75,325.5 442.13,325.39 442.51,325.28 442.89,325.17 443.27,325.04 443.65,324.9 444.02,324.73 444.4,324.53 444.78,324.26 445.16,323.87 445.54,323.37 445.92,322.81 446.29,322.2 446.67,321.58 447.05,320.96 447.43,320.38 447.81,319.75 448.18,319.07 448.56,318.38 448.94,317.7 449.32,317.06 449.7,316.48 450.08,315.97 450.45,315.52 450.83,315.09 451.21,314.68 451.59,314.29 451.97,313.92 452.34,313.57 452.72,313.24 453.1,312.92 453.48,312.62 453.86,312.32 454.24,312.02 454.61,311.73 454.99,311.45 455.37,311.19 455.75,310.96 456.13,310.77 456.5,310.63 456.88,310.53 457.26,310.44 457.64,310.44 458.02,310.53 458.4,310.63 458.77,310.77 459.15,310.96 459.53,311.19 459.91,311.45 460.29,311.73 460.66,312.02 461.04,312.32 461.42,312.62 461.8,312.92 462.18,313.24 462.56,313.57 462.93,313.92 463.31,314.29 463.69,314.68 464.07,315.09 464.45,315.52 464.82,315.97 465.2,316.48 465.58,317.06 465.96,317.7 466.34,318.38 466.72,319.07 467.09,319.75 467.47,320.38 467.85,320.96 468.23,321.58 468.61,322.2 468.98,322.81 469.36,323.37 469.74,323.87 470.12,324.26 470.5,324.53 470.88,324.73 471.25,324.9 471.63,325.04 472.01,325.17 472.39,325.28 472.77,325.39 473.15,325.5 473.52,325.63 473.9,325.76 474.28,325.92 474.66,326.09 475.04,326.26 475.41,326.44 475.79,326.63 476.17,326.83 476.55,327.04 476.93,327.27 477.31,327.51 477.68,327.77 478.06,328.05 478.44,328.35 478.82,328.65 479.2,328.96 479.57,329.28 479.95,329.6 480.33,329.91 480.71,330.22 481.09,330.52 481.47,330.81 481.84,331.09 482.22,331.36 482.6,331.64 482.98,331.91 483.36,332.18 483.73,332.45 484.11,332.72 484.49,332.99 484.87,333.25 485.25,333.51 485.63,333.77 486,334.03 486.38,334.28 486.76,334.53 487.14,334.78 487.52,335.03 487.89,335.27 488.27,335.52 488.65,335.76 489.03,336 489.41,336.24 489.79,336.48 490.16,336.72 490.54,336.96 490.92,337.19 491.3,337.42 491.68,337.65 492.05,337.88 492.43,338.11 492.81,338.34 493.19,338.56 493.57,338.78 493.95,339 494.32,339.22 494.7,339.43 495.08,339.65 495.46,339.54 495.84,339.33 496.22,339.11 496.59,338.89 496.97,338.67 497.35,338.45 497.73,338.22 498.11,338 498.48,337.77 498.86,337.54 499.24,337.31 499.62,337.07 500,336.84 500.38,336.6 500.75,336.36 501.13,336.12 501.51,335.88 501.89,335.64 502.27,335.4 502.64,335.15 503.02,334.9 503.4,334.66 503.78,334.41 504.16,334.15 504.54,333.9 504.91,333.64 505.29,333.38 505.67,333.12 506.05,332.85 506.43,332.59 506.8,332.32 507.18,332.05 507.56,331.77 507.94,331.5 508.32,331.22 508.7,330.95 509.07,330.67 509.45,330.37 509.83,330.07 510.21,329.75 510.59,329.44 510.96,329.12 511.34,328.81 511.72,328.5 512.1,328.2 512.48,327.91 512.86,327.64 513.23,327.39 513.61,327.15 513.99,326.94 514.37,326.73 514.75,326.54 515.12,326.35 515.5,326.17 515.88,326 516.26,325.84 516.64,325.69 517.02,325.56 517.39,325.45 517.77,325.34 518.15,325.23 518.53,325.11 518.91,324.98 519.28,324.82 519.66,324.64 520.04,324.41 520.42,324.08 520.8,323.63 521.18,323.1 521.55,322.51 521.93,321.89 522.31,321.27 522.69,320.67 523.07,320.07 523.45,319.41 523.82,318.73 524.2,318.04 524.58,317.38 524.96,316.76 525.34,316.21 525.71,315.74 526.09,315.3 526.47,314.88 526.85,314.48 527.23,314.11 527.61,313.75 527.98,313.4 528.36,313.08 528.74,312.77 529.12,312.47 529.5,312.17 529.87,311.88 530.25,311.59 530.63,311.32 531.01,311.07 531.39,310.86 531.77,310.7 532.14,310.58 532.52,310.48 532.9,310.42" stroke="#8a8a8a" stroke-width="0.6" fill="none"/>
<polyline points="382,368.98 382.38,368.92 382.76,368.82 383.13,368.7 383.51,368.54 383.89,368.33 384.27,368.08 384.65,367.81 385.03,367.52 385.4,367.23 385.78,366.93 386.16,366.63 386.54,366.32 386.92,366 387.29,365.65 387.67,365.29 388.05,364.92 388.43,364.52 388.81,364.1 389.19,363.66 389.56,363.19 389.94,362.64 390.32,362.02 390.7,361.36 391.08,360.67 391.45,359.99 391.83,359.33 392.21,358.73 392.59,358.13 392.97,357.51 393.35,356.89 393.72,356.3 394.1,355.77 394.48,355.32 394.86,354.99 395.24,354.76 395.62,354.58 395.99,354.42 396.37,354.29 396.75,354.17 397.13,354.06 397.51,353.95 397.88,353.84 398.26,353.71 398.64,353.56 399.02,353.4 399.4,353.23 399.78,353.05 400.15,352.86 400.53,352.67 400.91,352.46 401.29,352.25 401.67,352.01 402.04,351.76 402.42,351.49 402.8,351.2 403.18,350.9 403.56,350.59 403.94,350.28 404.31,349.96 404.69,349.65 405.07,349.33 405.45,349.03 405.83,348.73 406.2,348.45 406.58,348.18 406.96,347.9 407.34,347.63 407.72,347.35 408.1,347.08 408.47,346.81 408.85,346.55 409.23,346.28 409.61,346.02 409.99,345.76 410.36,345.5 410.74,345.25 411.12,344.99 411.5,344.74 411.88,344.5 412.26,344.25 412.63,344 413.01,343.76 413.39,343.52 413.77,343.28 414.15,343.04 414.52,342.8 414.9,342.56 415.28,342.33 415.66,342.09 416.04,341.86 416.42,341.63 416.79,341.4 417.17,341.18 417.55,340.95 417.93,340.73 418.31,340.51 418.68,340.29 419.06,340.07 419.44,339.86 419.82,339.75 420.2,339.97 420.58,340.18 420.95,340.4 421.33,340.62 421.71,340.84 422.09,341.06 422.47,341.29 422.85,341.52 423.22,341.75 423.6,341.98 423.98,342.21 424.36,342.44 424.74,342.68 425.11,342.92 425.49,343.16 425.87,343.4 426.25,343.64 426.63,343.88 427.01,344.13 427.38,344.37 427.76,344.62 428.14,344.87 428.52,345.12 428.9,345.37 429.27,345.63 429.65,345.89 430.03,346.15 430.41,346.41 430.79,346.68 431.17,346.95 431.54,347.22 431.92,347.49 432.3,347.76 432.68,348.04 433.06,348.31 433.43,348.59 433.81,348.88 434.19,349.18 434.57,349.49 434.95,349.8 435.33,350.12 435.7,350.44 436.08,350.75 436.46,351.05 436.84,351.35 437.22,351.63 437.59,351.89 437.97,352.13 438.35,352.36 438.73,352.57 439.11,352.77 439.49,352.96 439.86,353.14 440.24,353.31 440.62,353.48 441,353.64 441.38,353.77 441.75,353.9 442.13,354.01 442.51,354.12 442.89,354.23 443.27,354.36 443.65,354.5 444.02,354.67 444.4,354.87 444.78,355.14 445.16,355.53 445.54,356.03 445.92,356.59 446.29,357.2 446.67,357.82 447.05,358.44 447.43,359.02 447.81,359.65 448.18,360.33 448.56,361.02 448.94,361.7 449.32,362.34 449.7,362.92 450.08,363.43 450.45,363.88 450.83,364.31 451.21,364.72 451.59,365.11 451.97,365.48 452.34,365.83 452.72,366.16 453.1,366.48 453.48,366.78 453.86,367.08 454.24,367.38 454.61,367.67 454.99,367.95 455.37,368.21 455.75,368.44 456.13,368.63 456.5,368.77 456.88,368.87 457.26,368.96 457.64,368.96 458.02,368.87 458.4,368.77 458.77,368.63 459.15,368.44 459.53,368.21 459.91,367.95 460.29,367.67 460.66,367.38 461.04,367.08 461.42,366.78 461.8,366.48 462.18,366.16 462.56,365.83 462.93,365.48 463.31,365.11 463.69,364.72 464.07,364.31 464.45,363.88 464.82,363.43 465.2,362.92 465.58,362.34 465.96,361.7 466.34,361.02 466.72,360.33 467.09,359.65 467.47,359.02 467.85,358.44 468.23,357.82 468.61,357.2 468.98,356.59 469.36,356.03 469.74,355.53 470.12,355.14 470.5,354.87 470.88,354.67 471.25,354.5 471.63,354.36 472.01,354.23 472.39,354.12 472.77,354.01 473.15,353.9 473.52,353.77 473.9,353.64 474.28,353.48 474.66,353.31 475.04,353.14 475.41,352.96 475.79,352.77 476.17,352.57 476.55,352.36 476.93,352.13 477.31,351.89 477.68,351.63 478.06,351.35 478.44,351.05 478.82,350.75 479.2,350.44 479.57,350.12 479.95,349.8 480.33,349.49 480.71,349.18 481.09,348.88 481.47,348.59 481.84,348.31 482.22,348.04 482.6,347.76 482.98,347.49 483.36,347.22 483.73,346.95 484.11,346.68 484.49,346.41 484.87,346.15 485.25,345.89 485.63,345.63 486,345.37 486.38,345.12 486.76,344.87 487.14,344.62 487.52,344.37 487.89,344.13 488.27,343.88 488.65,343.64 489.03,343.4 489.41,343.16 489.79,342.92 490.16,342.68 490.54,342.44 490.92,342.21 491.3,341.98 491.68,341.75 492.05,341.52 492.43,341.29 492.81,341.06 493.19,340.84 493.57,340.62 493.95,340.4 494.32,340.18 494.7,339.97 495.08,339.75 495.46,339.86 495.84,340.07 496.22,340.29 496.59,340.51 496.97,340.73 497.35,340.95 497.73,341.18 498.11,341.4 498.48,341.63 498.86,341.86 499.24,342.09 499.62,342.33 500,342.56 500.38,342.8 500.75,343.04 501.13,343.28 501.51,343.52 501.89,343.76 502.27,344 502.64,344.25 503.02,344.5 503.4,344.74 503.78,344.99 504.16,345.25 504.54,345.5 504.91,345.76 505.29,346.02 505.67,346.28 506.05,346.55 506.43,346.81 506.8,347.08 507.18,347.35 507.56,347.63 507.94,347.9 508.32,348.18 508.7,348.45 509.07,348.73 509.45,349.03 509.83,349.33 510.21,349.65 510.59,349.96 510.96,350.28 511.34,350.59 511.72,350.9 512.1,351.2 512.48,351.49 512.86,351.76 513.23,352.01 513.61,352.25 513.99,352.46 514.37,352.67 514.75,352.86 515.12,353.05 515.5,353.23 515.88,353.4 516.26,353.56 516.64,353.71 517.02,353.84 517.39,353.95 517.77,354.06 518.15,354.17 518.53,354.29 518.91,354.42 519.28,354.58 519.66,354.76 520.04,354.99 520.42,355.32 520.8,355.77 521.18,356.3 521.55,356.89 521.93,357.51 522.31,358.13 522.69,358.73 523.07,359.33 523.45,359.99 523.82,360.67 524.2,361.36 524.58,362.02 524.96,362.64 525.34,363.19 525.71,363.66 526.09,364.1 526.47,364.52 526.85,364.92 527.23,365.29 527.61,365.65 527.98,366 528.36,366.32 528.74,366.63 529.12,366.93 529.5,367.23 529.87,367.52 530.25,367.81 530.63,368.08 531.01,368.33 531.39,368.54 531.77,368.7 532.14,368.82 532.52,368.92 532.9,368.98" stroke="#8a8a8a" stroke-width="0.6" fill="none"/>
<polyline points="382,339.7 382.38,339.7 382.76,339.7 383.13,339.7 383.51,339.7 383.89,339.7 384.27,339.7 384.65,339.7 385.03,339.7 385.4,339.7 385.78,339.7 386.16,339.7 386.54,339.7 386.92,339.7 387.29,339.7 387.67,339.7 388.05,339.7 388.43,339.7 388.81,339.7 389.19,339.7 389.56,339.7 389.94,339.7 390.32,339.7 390.7,339.7 391.08,339.7 391.45,339.7 391.83,339.7 392.21,339.7 392.59,339.7 392.97,339.7 393.35,339.7 393.72,339.7 394.1,339.7 394.48,339.7 394.86,339.7 395.24,339.7 395.62,339.7 395.99,339.7 396.37,339.7 396.75,339.7 397.13,339.59 397.51,339.24 397.88,338.7 398.26,337.99 398.64,337.17 399.02,336.27 399.4,335.35 399.78,334.43 400.15,333.57 400.53,332.8 400.91,332.08 401.29,331.36 401.67,330.64 402.04,329.91 402.42,329.17 402.8,328.41 403.18,327.64 403.56,326.84 403.94,326.02 404.31,325.1 404.69,324.13 405.07,323.13 405.45,322.14 405.83,321.19 406.2,320.34 406.58,319.61 406.96,318.96 407.34,318.32 407.72,317.73 408.1,317.16 408.47,316.64 408.85,316.15 409.23,315.72 409.61,315.33 409.99,314.99 410.36,314.66 410.74,314.35 411.12,314.05 411.5,313.76 411.88,313.49 412.26,313.24 412.63,313.01 413.01,312.8 413.39,312.61 413.77,312.45 414.15,312.3 414.52,312.19 414.9,312.07 415.28,311.96 415.66,311.86 416.04,311.76 416.42,311.66 416.79,311.58 417.17,311.5 417.55,311.44 417.93,311.39 418.31,311.35 418.68,311.33 419.06,311.32 419.44,311.32 419.82,311.32 420.2,311.32 420.58,311.33 420.95,311.34 421.33,311.37 421.71,311.41 422.09,311.47 422.47,311.54 422.85,311.62 423.22,311.71 423.6,311.81 423.98,311.91 424.36,312.02 424.74,312.13 425.11,312.24 425.49,312.37 425.87,312.53 426.25,312.7 426.63,312.9 427.01,313.12 427.38,313.37 427.76,313.62 428.14,313.9 428.52,314.19 428.9,314.5 429.27,314.82 429.65,315.16 430.03,315.52 430.41,315.93 430.79,316.39 431.17,316.89 431.54,317.44 431.92,318.02 432.3,318.64 432.68,319.28 433.06,319.96 433.43,320.76 433.81,321.66 434.19,322.63 434.57,323.63 434.95,324.62 435.33,325.57 435.7,326.44 436.08,327.24 436.46,328.03 436.84,328.79 437.22,329.54 437.59,330.28 437.97,331 438.35,331.72 438.73,332.44 439.11,333.17 439.49,333.99 439.86,334.89 440.24,335.81 440.62,336.73 441,337.59 441.38,338.36 441.75,338.99 442.13,339.45 442.51,339.68 442.89,339.7 443.27,339.7 443.65,339.7 444.02,339.7 444.4,339.7 444.78,339.7 445.16,339.7 445.54,339.7 445.92,339.7 446.29,339.7 446.67,339.7 447.05,339.7 447.43,339.7 447.81,339.7 448.18,339.7 448.56,339.7 448.94,339.7 449.32,339.7 449.7,339.7 450.08,339.7 450.45,339.7 450.83,339.7 451.21,339.7 451.59,339.7 451.97,339.7 452.34,339.7 452.72,339.7 453.1,339.7 453.48,339.7 453.86,339.7 454.24,339.7 454.61,339.7 454.99,339.7 455.37,339.7 455.75,339.7 456.13,339.7 456.5,339.7 456.88,339.7 457.26,339.7 457.64,339.7 458.02,339.7 458.4,339.7 458.77,339.7 459.15,339.7 459.53,339.7 459.91,339.7 460.29,339.7 460.66,339.7 461.04,339.7 461.42,339.7 461.8,339.7 462.18,339.7 462.56,339.7 462.93,339.7 463.31,339.7 463.69,339.7 464.07,339.7 464.45,339.7 464.82,339.7 465.2,339.7 465.58,339.7 465.96,339.7 466.34,339.7 466.72,339.7 467.09,339.7 467.47,339.7 467.85,339.7 468.23,339.7 468.61,339.7 468.98,339.7 469.36,339.7 469.74,339.7 470.12,339.7 470.5,339.7 470.88,339.7 471.25,339.7 471.63,339.7 472.01,339.7 472.39,339.68 472.77,339.45 473.15,338.99 473.52,338.36 473.9,337.59 474.28,336.73 474.66,335.81 475.04,334.89 475.41,333.99 475.79,333.17 476.17,332.44 476.55,331.72 476.93,331 477.31,330.28 477.68,329.54 478.06,328.79 478.44,328.03 478.82,327.24 479.2,326.44 479.57,325.57 479.95,324.62 480.33,323.63 480.71,322.63 481.09,321.66 481.47,320.76 481.84,319.96 482.22,319.28 482.6,318.64 482.98,318.02 483.36,317.44 483.73,316.89 484.11,316.39 484.49,315.93 484.87,315.52 485.25,315.16 485.63,314.82 486,314.5 486.38,314.19 486.76,313.9 487.14,313.62 487.52,313.37 487.89,313.12 488.27,312.9 488.65,312.7 489.03,312.53 489.41,312.37 489.79,312.24 490.16,312.13 490.54,312.02 490.92,311.91 491.3,311.81 491.68,311.71 492.05,311.62 492.43,311.54 492.81,311.47 493.19,311.41 493.57,311.37 493.95,311.34 494.32,311.33 494.7,311.32 495.08,311.32 495.46,311.32 495.84,311.32 496.22,311.33 496.59,311.35 496.97,311.39 497.35,311.44 497.73,311.5 498.11,311.58 498.48,311.66 498.86,311.76 499.24,311.86 499.62,311.96 500,312.07 500.38,312.19 500.75,312.3 501.13,312.45 501.51,312.61 501.89,312.8 502.27,313.01 502.64,313.24 503.02,313.49 503.4,313.76 503.78,314.05 504.16,314.35 504.54,314.66 504.91,314.99 505.29,315.33 505.67,315.72 506.05,316.15 506.43,316.64 506.8,317.16 507.18,317.73 507.56,318.32 507.94,318.96 508.32,319.61 508.7,320.34 509.07,321.19 509.45,322.14 509.83,323.13 510.21,324.13 510.59,325.1 510.96,326.02 511.34,326.84 511.72,327.64 512.1,328.41 512.48,329.17 512.86,329.91 513.23,330.64 513.61,331.36 513.99,332.08 514.37,332.8 514.75,333.57 515.12,334.43 515.5,335.35 515.88,336.27 516.26,337.17 516.64,337.99 517.02,338.7 517.39,339.24 517.77,339.59 518.15,339.7 518.53,339.7 518.91,339.7 519.28,339.7 519.66,339.7 520.04,339.7 520.42,339.7 520.8,339.7 521.18,339.7 521.55,339.7 521.93,339.7 522.31,339.7 522.69,339.7 523.07,339.7 523.45,339.7 523.82,339.7 524.2,339.7 524.58,339.7 524.96,339.7 525.34,339.7 525.71,339.7 526.09,339.7 526.47,339.7 526.85,339.7 527.23,339.7 527.61,339.7 527.98,339.7 528.36,339.7 528.74,339.7 529.12,339.7 529.5,339.7 529.87,339.7 530.25,339.7 530.63,339.7 531.01,339.7 531.39,339.7 531.77,339.7 532.14,339.7 532.52,339.7 532.9,339.7" stroke="#111" stroke-width="0.7" fill="none"/>
<polyline points="382,339.7 382.38,339.7 382.76,339.7 383.13,339.7 383.51,339.7 383.89,339.7 384.27,339.7 384.65,339.7 385.03,339.7 385.4,339.7 385.78,339.7 386.16,339.7 386.54,339.7 386.92,339.7 387.29,339.7 387.67,339.7 388.05,339.7 388.43,339.7 388.81,339.7 389.19,339.7 389.56,339.7 389.94,339.7 390.32,339.7 390.7,339.7 391.08,339.7 391.45,339.7 391.83,339.7 392.21,339.7 392.59,339.7 392.97,339.7 393.35,339.7 393.72,339.7 394.1,339.7 394.48,339.7 394.86,339.7 395.24,339.7 395.62,339.7 395.99,339.7 396.37,339.7 396.75,339.7 397.13,339.81 397.51,340.16 397.88,340.7 398.26,341.41 398.64,342.23 399.02,343.13 399.4,344.05 399.78,344.97 400.15,345.83 400.53,346.6 400.91,347.32 401.29,348.04 401.67,348.76 402.04,349.49 402.42,350.23 402.8,350.99 403.18,351.76 403.56,352.56 403.94,353.38 404.31,354.3 404.69,355.27 405.07,356.27 405.45,357.26 405.83,358.21 406.2,359.06 406.58,359.79 406.96,360.44 407.34,361.08 407.72,361.67 408.1,362.24 408.47,362.76 408.85,363.25 409.23,363.68 409.61,364.07 409.99,364.41 410.36,364.74 410.74,365.05 411.12,365.35 411.5,365.64 411.88,365.91 412.26,366.16 412.63,366.39 413.01,366.6 413.39,366.79 413.77,366.95 414.15,367.1 414.52,367.21 414.9,367.33 415.28,367.44 415.66,367.54 416.04,367.64 416.42,367.74 416.79,367.82 417.17,367.9 417.55,367.96 417.93,368.01 418.31,368.05 418.68,368.07 419.06,368.07 419.44,368.07 419.82,368.07 420.2,368.07 420.58,368.07 420.95,368.06 421.33,368.03 421.71,367.99 422.09,367.93 422.47,367.86 422.85,367.78 423.22,367.69 423.6,367.59 423.98,367.49 424.36,367.38 424.74,367.27 425.11,367.16 425.49,367.03 425.87,366.87 426.25,366.7 426.63,366.5 427.01,366.28 427.38,366.03 427.76,365.78 428.14,365.5 428.52,365.21 428.9,364.9 429.27,364.58 429.65,364.24 430.03,363.88 430.41,363.47 430.79,363.01 431.17,362.51 431.54,361.96 431.92,361.38 432.3,360.76 432.68,360.12 433.06,359.44 433.43,358.64 433.81,357.74 434.19,356.77 434.57,355.77 434.95,354.78 435.33,353.83 435.7,352.96 436.08,352.16 436.46,351.37 436.84,350.61 437.22,349.86 437.59,349.12 437.97,348.4 438.35,347.68 438.73,346.96 439.11,346.23 439.49,345.41 439.86,344.51 440.24,343.59 440.62,342.67 441,341.81 441.38,341.04 441.75,340.41 442.13,339.95 442.51,339.72 442.89,339.7 443.27,339.7 443.65,339.7 444.02,339.7 444.4,339.7 444.78,339.7 445.16,339.7 445.54,339.7 445.92,339.7 446.29,339.7 446.67,339.7 447.05,339.7 447.43,339.7 447.81,339.7 448.18,339.7 448.56,339.7 448.94,339.7 449.32,339.7 449.7,339.7 450.08,339.7 450.45,339.7 450.83,339.7 451.21,339.7 451.59,339.7 451.97,339.7 452.34,339.7 452.72,339.7 453.1,339.7 453.48,339.7 453.86,339.7 454.24,339.7 454.61,339.7 454.99,339.7 455.37,339.7 455.75,339.7 456.13,339.7 456.5,339.7 456.88,339.7 457.26,339.7 457.64,339.7 458.02,339.7 458.4,339.7 458.77,339.7 459.15,339.7 459.53,339.7 459.91,339.7 460.29,339.7 460.66,339.7 461.04,339.7 461.42,339.7 461.8,339.7 462.18,339.7 462.56,339.7 462.93,339.7 463.31,339.7 463.69,339.7 464.07,339.7 464.45,339.7 464.82,339.7 465.2,339.7 465.58,339.7 465.96,339.7 466.34,339.7 466.72,339.7 467.09,339.7 467.47,339.7 467.85,339.7 468.23,339.7 468.61,339.7 468.98,339.7 469.36,339.7 469.74,339.7 470.12,339.7 470.5,339.7 470.88,339.7 471.25,339.7 471.63,339.7 472.01,339.7 472.39,339.72 472.77,339.95 473.15,340.41 473.52,341.04 473.9,341.81 474.28,342.67 474.66,343.59 475.04,344.51 475.41,345.41 475.79,346.23 476.17,346.96 476.55,347.68 476.93,348.4 477.31,349.12 477.68,349.86 478.06,350.61 478.44,351.37 478.82,352.16 479.2,352.96 479.57,353.83 479.95,354.78 480.33,355.77 480.71,356.77 481.09,357.74 481.47,358.64 481.84,359.44 482.22,360.12 482.6,360.76 482.98,361.38 483.36,361.96 483.73,362.51 484.11,363.01 484.49,363.47 484.87,363.88 485.25,364.24 485.63,364.58 486,364.9 486.38,365.21 486.76,365.5 487.14,365.78 487.52,366.03 487.89,366.28 488.27,366.5 488.65,366.7 489.03,366.87 489.41,367.03 489.79,367.16 490.16,367.27 490.54,367.38 490.92,367.49 491.3,367.59 491.68,367.69 492.05,367.78 492.43,367.86 492.81,367.93 493.19,367.99 493.57,368.03 493.95,368.06 494.32,368.07 494.7,368.07 495.08,368.07 495.46,368.07 495.84,368.07 496.22,368.07 496.59,368.05 496.97,368.01 497.35,367.96 497.73,367.9 498.11,367.82 498.48,367.74 498.86,367.64 499.24,367.54 499.62,367.44 500,367.33 500.38,367.21 500.75,367.1 501.13,366.95 501.51,366.79 501.89,366.6 502.27,366.39 502.64,366.16 503.02,365.91 503.4,365.64 503.78,365.35 504.16,365.05 504.54,364.74 504.91,364.41 505.29,364.07 505.67,363.68 506.05,363.25 506.43,362.76 506.8,362.24 507.18,361.67 507.56,361.08 507.94,360.44 508.32,359.79 508.7,359.06 509.07,358.21 509.45,357.26 509.83,356.27 510.21,355.27 510.59,354.3 510.96,353.38 511.34,352.56 511.72,351.76 512.1,350.99 512.48,350.23 512.86,349.49 513.23,348.76 513.61,348.04 513.99,347.32 514.37,346.6 514.75,345.83 515.12,344.97 515.5,344.05 515.88,343.13 516.26,342.23 516.64,341.41 517.02,340.7 517.39,340.16 517.77,339.81 518.15,339.7 518.53,339.7 518.91,339.7 519.28,339.7 519.66,339.7 520.04,339.7 520.42,339.7 520.8,339.7 521.18,339.7 521.55,339.7 521.93,339.7 522.31,339.7 522.69,339.7 523.07,339.7 523.45,339.7 523.82,339.7 524.2,339.7 524.58,339.7 524.96,339.7 525.34,339.7 525.71,339.7 526.09,339.7 526.47,339.7 526.85,339.7 527.23,339.7 527.61,339.7 527.98,339.7 528.36,339.7 528.74,339.7 529.12,339.7 529.5,339.7 529.87,339.7 530.25,339.7 530.63,339.7 531.01,339.7 531.39,339.7 531.77,339.7 532.14,339.7 532.52,339.7 532.9,339.7" stroke="#111" stroke-width="0.7" fill="none"/>
</g>
<path d="M419.72 385.1v-3.0M419.72 294.3v3.0M457.45 385.1v-3.0M457.45 294.3v3.0M495.17 385.1v-3.0M495.17 294.3v3.0M382 362.4h3.0M532.9 362.4h-3.0M382 339.7h3.0M532.9 339.7h-3.0M382 317h3.0M532.9 317h-3.0" stroke="#262626" stroke-width="0.8" fill="none"/>
<rect x="382.0" y="294.3" width="150.9" height="90.8" stroke="#262626" stroke-width="0.8" fill="none"/>
<text x="379.8" y="297.3" font-size="9.3" text-anchor="end" letter-spacing="0.1">0.2</text>
<text x="379.8" y="320" font-size="9.3" text-anchor="end" letter-spacing="0.1">0.1</text>
<text x="379.8" y="342.7" font-size="9.3" text-anchor="end" letter-spacing="0.1">0</text>
<text x="379.8" y="365.4" font-size="9.3" text-anchor="end" letter-spacing="0.1">-0.1</text>
<text x="379.8" y="388.1" font-size="9.3" text-anchor="end" letter-spacing="0.1">-0.2</text>
<text x="382" y="395.5" font-size="9.3" text-anchor="middle" letter-spacing="0.1">0.035</text>
<text x="419.72" y="395.5" font-size="9.3" text-anchor="middle" letter-spacing="0.1">0.04</text>
<text x="457.45" y="395.5" font-size="9.3" text-anchor="middle" letter-spacing="0.1">0.045</text>
<text x="495.17" y="395.5" font-size="9.3" text-anchor="middle" letter-spacing="0.1">0.05</text>
<text x="532.9" y="395.5" font-size="9.3" text-anchor="middle" letter-spacing="0.1">0.055</text>
<text transform="translate(361 339.5) rotate(-90)" font-size="10" text-anchor="middle" letter-spacing="0.15"><tspan font-style="italic">r&#770;</tspan><tspan font-size="7" font-style="italic" dy="1.8">a</tspan><tspan dy="-1.8" dx="0.8">(0.5, </tspan><tspan font-style="italic">&#977;</tspan>)</text>
<text x="457.5" y="407.7" font-size="10.5" text-anchor="middle"><tspan font-style="italic">t</tspan>,<tspan dx="3">s</tspan></text>
<text x="158.5" y="425.3" font-size="10.5" text-anchor="middle">(<tspan font-weight="bold">e</tspan>)</text>
<text x="447.5" y="425.3" font-size="10.5" text-anchor="middle">(<tspan font-weight="bold">f</tspan>)</text>
</svg>
</body></html>
